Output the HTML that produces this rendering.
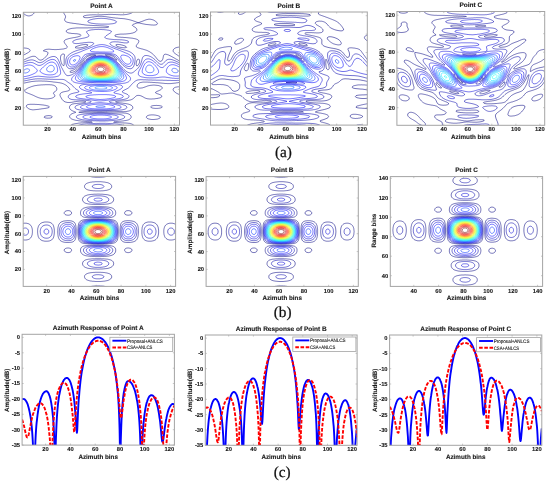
<!DOCTYPE html><html><head><meta charset="utf-8"><title>Figure</title><style>html,body{margin:0;padding:0;background:#fff;width:550px;height:483px;overflow:hidden}svg{display:block;filter:blur(0.35px)}</style></head><body><svg width="550" height="483" viewBox="0 0 550 483" text-rendering="geometricPrecision"><defs><clipPath id="clip_aA"><rect x="23.3" y="12.3" width="156.2" height="112.9"/></clipPath><clipPath id="clip_aB"><rect x="210.5" y="12" width="156.8" height="113.1"/></clipPath><clipPath id="clip_aC"><rect x="396.9" y="11.5" width="147.8" height="113.8"/></clipPath><clipPath id="clip_bA"><rect x="23.2" y="176.4" width="152.4" height="110"/></clipPath><clipPath id="clip_bB"><rect x="206.1" y="176.6" width="152.2" height="109.8"/></clipPath><clipPath id="clip_bC"><rect x="390.3" y="176.6" width="152.3" height="109.8"/></clipPath><clipPath id="clip_cA"><rect x="22.1" y="334.3" width="152.3" height="110.8"/></clipPath><clipPath id="clip_cB"><rect x="205.3" y="335" width="151.8" height="110.3"/></clipPath><clipPath id="clip_cC"><rect x="389.6" y="335" width="152.2" height="110.3"/></clipPath></defs><rect width="550" height="483" fill="#fff"/><g clip-path="url(#clip_aA)" fill="none" stroke-width="0.55" stroke-linejoin="round"><path stroke="#000080" d="M32.8 10.3 33.8 11.3 34.1 12.3 33.9 13.3 33.3 14 32.4 14.8 31.4 15.3 30.3 15.7 29.3 15.9 28.3 15.9 27.3 15.7 26.3 15.3 25.3 14.8 24.5 14.3 23.8 13.7 23 12.8 22.5 11.8 22.6 10.8 22.8 10.3M21.3 61.3 22.3 60.8 23.3 60.3 24.3 59.8 25.3 59.3 26.3 58.8 27.3 58.3 28.3 57.9 29.3 57.4 30.3 57 31.3 56.7 32.3 56.4 33.2 56.3 34.3 56.3 35.3 56.5 36.3 57.1 37 57.8 37.8 58.7 38.5 59.3 39.3 59.8 40.3 60.1 41.3 60 42.3 59.6 43.3 59 44.3 58.3 45.3 57.3 46.2 56.3 46.8 55.6 47.3 54.9 47.8 54 48 52.8 47.3 51.9 46.3 51.5 45.3 51.3 44.3 51.1 43.3 50.8 44.3 50.1 45.3 49.7 46.3 49.4 47.3 49.3 48.3 49.2 49.3 49.2 50.3 49.3 51.3 49.4 52.3 49.5 53.3 49.5 54.3 49.6 55.3 49.6 56.3 49.6 57.3 49.5 58.3 49.5 59.3 49.4 60.3 49.3 61.3 49.2 62.3 49.1 63.3 49 64.1 48.8 65.3 48.5 66.3 48.2 67.3 47.3 67 46.3 66.3 45.3 65.8 44.6 65.3 44 64.8 43.3 64.3 42.4 64.1 41.3 64.7 40.3 65.4 39.8 66.3 39.4 67.3 39.1 68.2 38.8 69.3 38.5 70.3 38.3 71.3 38.1 72.3 37.9 73.3 37.7 74.3 37.6 75.3 37.4 76.3 37.2 77.3 37 78.3 36.7 79.3 36.4 80.3 36 81.1 35.3 80.3 34.5 79.3 34.2 78.3 34 77.3 33.8 76.3 33.7 75.3 33.7 74.3 33.6 73.3 33.5 72.3 33.5 71.3 33.4 70.3 33.2 69.3 33.1 68.3 32.9 67.3 32.5 66.3 31.8 66.2 30.8 66.8 30.2 67.8 29.6 68.8 29.2 69.8 28.9 70.8 28.6 71.8 28.4 72.6 28.3 73.8 28.2 74.8 28.1 75.8 28 76.8 27.9 77.8 27.9 78.8 27.9 79.8 27.9 80.8 27.9 81.8 27.9 82.8 27.9 83.8 27.9 84.8 27.9 85.8 27.9 86.8 27.9 87.8 27.9 88.8 27.8 89.8 27.8 90.8 27.8 91.8 27.8 92.8 27.8 93.8 27.7 94.8 27.7 95.8 27.7 96.8 27.7 97.8 27.7 98.8 27.7 99.8 27.7 100.8 27.7 101.8 27.7 102.8 27.7 103.8 27.7 104.8 27.7 105.8 27.6 106.8 27.5 107.8 27.4 108.8 26.8 107.8 26.5 107 26.3 105.8 26.2 104.8 26.1 103.8 26 102.8 25.9 101.8 25.9 100.8 25.8 99.8 25.8 98.8 25.7 97.8 25.7 96.8 25.6 95.8 25.6 94.8 25.6 93.8 25.5 92.8 25.5 91.8 25.4 90.8 25.4 89.8 25.3 88.8 25.2 87.8 25.2 86.8 25.1 85.8 25 84.8 24.9 83.8 24.7 82.8 24.6 81.8 24.5 80.8 24.3 79.8 24.2 78.8 24 77.8 23.9 76.8 23.8 75.8 23.6 74.8 23.5 73.8 23.4 73 23.3 71.8 23.1 70.8 23 69.8 22.8 68.8 22.6 67.8 22.4 66.8 22.1 65.8 21.6 64.9 20.8 64.6 19.8 64.9 18.8 65.3 17.9 65.6 16.8 65.4 15.8 64.8 14.8 64.3 14 63.9 13.3 63.6 12.3 63.9 11.3 64.8 10.6 65.3 10.3M132.2 10.3 132.9 10.8 133.1 11.8 132.3 12.5 131.3 13.1 130.3 13.5 129.4 13.8 128.3 14.1 127.3 14.3 126.3 14.5 125.3 14.6 124.3 14.7 123.3 14.8 122.3 14.8 121.3 14.8 120.3 14.8 119.3 14.7 118.3 14.7 117.3 14.6 116.3 14.6 115.3 14.5 114.3 14.5 113.3 14.5 112.3 14.4 111.3 14.4 110.3 14.4 109.3 14.4 108.3 14.4 107.3 14.5 106.3 14.5 105.3 14.6 104.3 14.6 103.3 14.7 102.3 14.7 101.3 14.8 100.3 14.8 99.3 14.8 98.3 14.9 97.3 14.9 96.3 14.9 95.3 14.8 94.3 14.8 93.3 14.8 92.3 14.8 91.3 14.9 90.3 14.9 89.3 15 88.3 15.1 87.3 15.2 86.5 15.3 85.3 15.6 84.4 15.8 83.4 16.3 83.7 17.3 84.8 17.6 85.8 17.7 86.8 17.7 87.8 17.7 88.8 17.6 89.8 17.5 90.8 17.3 91.8 17.2 92.8 17 93.8 16.9 94.8 16.7 95.8 16.6 96.8 16.5 97.8 16.4 98.8 16.3 99.8 16.3 100.8 16.3 101.6 16.3 102.8 16.4 103.8 16.5 104.8 16.6 105.8 16.7 106.8 16.8 107.8 17 108.8 17.1 109.8 17.3 110.8 17.4 111.8 17.6 112.8 17.7 113.6 17.8 114.8 17.9 115.8 18.1 116.8 18.1 117.8 18.2 118.6 18.3 119.8 18.4 120.8 18.5 121.8 18.5 122.8 18.6 123.8 18.7 124.8 18.8 125.8 19 126.8 19.2 127.8 19.4 128.8 19.6 129.7 19.8 130.8 20.1 131.8 20.4 132.8 20.7 133.8 21.1 134.8 21.4 135.8 21.8 136.8 22.2 137.8 22.5 138.8 22.6 139.8 22.2 140.8 21.8 141.8 21.5 142.8 21.1 143.8 20.7 144.7 20.3 145.8 19.9 146.8 19.6 147.8 19.4 148.8 19.2 149.8 19.2 150.8 19.3 151.8 19.5 152.8 19.8 153.8 20.2 154.8 20.8 155.5 21.3 156.2 21.8 156.8 22.4 157.3 23 157.5 23.8 156.8 24.6 155.8 24.9 154.8 25 153.8 25.1 152.8 25 151.8 25 150.8 24.9 149.8 24.8 148.8 24.7 147.8 24.6 146.8 24.5 145.8 24.4 144.8 24.2 143.8 24 142.8 23.8 141.8 23.6 140.8 23.4 139.8 23.1 138.8 22.9 137.8 22.9 136.8 23.1 135.8 23.4 134.8 23.8 133.8 24.1 132.8 24.6 132.3 25.3 133.3 26.2 134.3 26.8 135.1 27.3 135.8 27.8 136.6 28.8 136.9 29.8 136.6 30.8 135.8 31.6 134.8 32.2 133.8 32.6 132.8 33 131.8 33.2 130.8 33.4 129.8 33.6 128.8 33.7 127.8 33.8 126.8 33.9 125.8 34 124.8 34 123.8 34.1 122.8 34.1 121.8 34.1 120.8 34.1 119.8 34.2 118.8 34.3 117.8 34.4 116.8 34.6 115.9 34.8 114.9 35.3 115.2 36.3 116.3 36.6 117.3 36.8 118.3 37 119.3 37.1 120.3 37.2 121.3 37.3 122.3 37.3 123.3 37.4 124.3 37.5 125.3 37.5 126.3 37.6 127.3 37.7 128.3 37.8 129.3 37.9 130.3 38 131.3 38.1 132.3 38.2 133.3 38.4 134.3 38.6 135.3 38.8 136.3 39.1 137.3 39.5 138.3 40.1 138.8 40.8 138.8 41.7 138.3 42.8 137.8 43.5 137.3 44.1 136.8 44.8 136.3 45.6 136.3 46.8 137.3 47.5 138.3 47.9 139.3 48.2 140.3 48.5 141.3 48.8 142.3 49 143.3 49.3 144.3 49.6 145.3 49.9 146.3 50.2 147.3 50.6 148.3 51.1 149.3 51.6 150.3 52.2 151.2 52.8 151.9 53.3 152.8 54.1 153.6 54.8 154.3 55.5 155 56.3 155.8 57.3 156.3 57.9 157 58.8 157.8 59.7 158.4 60.3 159 60.8 159.8 61.2 160.8 61.4 161.8 60.8 162.3 60.1 162.7 59.3 163 58.3 163.2 57.3 163.4 56.3 163.7 55.3 164.3 54.5 165.3 54.2 166.2 54.3 167.3 54.6 168.3 54.9 169.1 55.3 170.2 55.8 171.2 56.3 172.1 56.8 173 57.3 173.8 57.7 174.8 58.3 175.6 58.8 176.5 59.3 177.3 59.7 178.3 60.3 179.2 60.8 180.1 61.3 181.1 61.8 181.3 61.9M21.3 37.2 21.5 38.3 21.3 38.8M80.4 47.8 81.3 47.7 82.3 47.5 83.2 47.3 84.3 47 85.3 46.7 86.3 46.3 87.3 45.8 87.8 44.8 86.8 44.5 85.8 44.4 84.8 44.5 83.8 44.6 82.8 44.7 81.8 44.9 80.8 45.1 79.8 45.4 78.8 45.7 77.8 46 76.9 46.3 75.8 46.8 75 47.3 75.8 47.9 76.8 48 77.8 48 78.8 48 79.8 47.9 80.4 47.8ZM126.7 47.3 125.8 46.4 124.8 45.9 123.8 45.6 123 45.3 121.8 45 121 44.8 119.8 44.6 118.8 44.5 117.8 44.4 116.8 44.5 115.9 44.8 116.3 45.8 117.2 46.3 118.3 46.7 119.3 47 120.3 47.3 121.3 47.4 122.3 47.6 123.3 47.7 124.3 47.8 125.3 47.7 126.3 47.5 126.7 47.3ZM181.3 57.7 180.6 57.3 179.8 56.8 179.1 56.3 178.4 55.8 177.7 55.3 176.9 54.8 176.2 54.3 175.5 53.8 174.8 53.3 173.8 52.4 173.3 51.6 173.1 50.8 173.3 49.8 173.8 49.1 174.8 48.3 175.8 47.8 176.8 47.5 177.7 47.3 178.8 47.1 179.8 47 180.8 47 181.3 47M21.3 48.1 22.3 48 23.3 48 24.3 48 25.3 48.1 26.3 48.2 27.3 48.4 28.3 48.7 29.3 49.3 29.9 49.8 30.2 50.8 29.4 51.8 28.6 52.3 27.8 52.8 26.9 53.3 26 53.8 25.1 54.3 24.3 54.7 23.4 55.3 22.6 55.8 21.8 56.3 21.3 56.6M64.1 65.3 64.2 64.3 64.2 63.3 64.2 62.3 64.2 61.3 64.2 60.3 64.2 59.3 64.2 58.3 64.2 57.3 64.3 56.3 64.5 55.3 64.3 54.3 63.3 54 62.3 54.2 61.4 54.8 60.8 55.8 60.6 56.8 60.5 57.8 60.5 58.8 60.6 59.8 60.8 60.8 61 61.8 61.3 62.6 61.8 63.8 62.3 64.7 62.8 65.3 63.8 65.7 64.1 65.3ZM72.5 72.3 73.3 72 74.3 71.6 75.3 70.9 76.2 70.3 76.8 69.8 77.8 68.8 78.8 67.8 79.3 67.2 80 66.3 80.8 65.3 81.3 64.7 82 63.8 82.8 62.9 83.4 62.3 84.3 61.3 85.3 60.4 85.9 59.8 86.8 59.1 87.8 58.4 88.8 57.8 89.7 57.3 90.8 56.8 91.8 56.4 92.8 56.1 93.8 55.8 94.8 55.5 95.8 55.3 94.8 54.9 93.8 54.9 92.8 55 91.8 55.1 90.8 55.3 89.8 55.5 89 55.8 88 56.3 87.3 56.7 86.5 57.3 85.8 57.9 84.9 58.8 84.3 59.4 83.6 60.3 82.8 61.3 82.3 61.9 81.8 62.5 81.3 63.2 80.8 63.8 80 64.8 79.3 65.5 78.5 66.3 77.8 67 76.8 67.8 76.2 68.3 75.5 68.8 74.7 69.3 73.8 69.8 72.8 70.2 71.8 70.6 70.8 71 69.8 71.8 70.8 72.4 71.8 72.4 72.5 72.3ZM116.8 60.3 116.4 59.3 115.8 58.6 115 57.8 114.3 57.2 113.3 56.5 112.3 56 111.3 55.6 110.3 55.3 109.3 55.1 108.3 55 107.3 54.9 106.3 54.9 105.3 54.9 106.3 55.6 107.3 55.9 108.3 56.2 109.3 56.5 110.2 56.8 111.3 57.2 112.3 57.7 113.3 58.2 114.2 58.8 115.1 59.3 115.8 59.8 116.8 60.3 116.8 60.3ZM137.1 65.8 137.8 65.5 138.4 64.8 139 63.8 139.4 62.8 139.6 61.8 139.6 60.8 139.4 59.8 138.8 59.1 137.8 59.2 137.3 59.8 136.8 60.8 136.5 61.8 136.3 62.7 136.2 63.8 136.2 64.8 136.7 65.8 137.1 65.8ZM70.1 126.8 70.4 125.8 71.3 125 72.3 124.5 73.3 124.2 74.3 123.9 75.3 123.7 76.3 123.5 77.3 123.4 78.3 123.2 79.3 123.1 80.3 123 81.3 122.9 82.3 122.9 83.2 122.8 84.3 122.7 85.3 122.7 86.3 122.6 87.3 122.6 88.3 122.5 89.3 122.5 90.3 122.4 91.3 122.4 92.3 122.3 91.5 121.8 90.3 121.7 89.3 121.7 88.3 121.6 87.3 121.6 86.3 121.5 85.3 121.4 84.3 121.3 83.3 121.2 82.3 121.2 81.3 121.1 80.3 120.9 79.3 120.8 78.3 120.7 77.3 120.5 76.3 120.4 75.3 120.2 74.3 119.9 73.3 119.6 72.4 119.3 71.3 118.8 70.6 118.3 69.8 117.3 69.6 116.3 70 115.3 70.8 114.4 71.8 113.8 72.8 113.4 73.8 113 74.8 112.7 75.8 112.4 75.2 111.8 74.3 111.6 73.3 111.2 72.4 110.8 71.5 110.3 70.8 109.8 69.9 108.8 69.5 107.8 69.5 106.8 69.8 106 70.3 105.3 71.3 104.6 72.3 104.1 73.3 103.9 74.3 103.7 75.3 103.6 76.3 103.5 77.3 103.4 78.3 103.3 79.3 103.2 80.3 103.1 81.3 103 82.3 102.9 83.3 102.7 84.3 102.5 85.2 102.3 85.9 101.8 84.8 101.4 83.8 101.2 82.8 101.1 81.8 101.1 80.8 101.1 79.8 101.1 78.8 101.2 77.8 101.3 76.8 101.4 75.8 101.6 74.8 101.7 73.8 101.9 72.8 102.1 71.8 102.3 70.8 102.4 69.8 102.5 68.8 102.5 67.8 102.5 66.8 102.3 65.8 102.1 65 101.8 64 101.3 63.4 100.8 62.4 99.8 61.8 98.9 61.3 98 60.9 97.3 60.3 96.3 60 95.3 60 94.3 60.5 93.3 61.3 92.7 62.1 92.3 63.3 91.9 64.3 91.7 65.3 91.5 66.3 91.3 67.3 91.1 68.3 90.8 69.3 90.4 69.8 89.8 69.5 88.8 68.8 87.8 67.9 86.8 67.3 86.2 66.3 85.4 65.4 84.8 64.4 84.3 63.4 83.8 62.3 83.4 61.3 83.1 60.3 82.9 59.3 82.7 58.3 82.6 57.3 82.4 56.3 82.3 55.3 82.2 54.3 82.1 53.3 82 52.3 81.8 51.3 81.7 50.3 81.6 49.3 81.5 48.3 81.4 47.3 81.3 46.3 81.2 45.3 81.2 44.3 81.1 43.3 81.1 42.3 81.1 41.3 81 40.3 81 39.3 81 38.3 81 37.3 81.1 36.3 81.1 35.3 81.2 34.3 81.3 33.3 81.4 32.3 81.5 31.3 81.6 30.4 81.8 29.3 82 28.3 82.2 27.3 82.4 26.3 82.6 25.4 82.8 24.3 83 23.3 83.2 22.3 83.4 21.3 83.6M181.3 82.2 180.3 82.4 179.3 82.5 178.3 82.6 177.3 82.8 176.3 82.9 175.3 83.1 174.3 83.2 173.3 83.3 172.3 83.4 171.3 83.5 170.3 83.6 169.3 83.6 168.3 83.6 167.3 83.6 166.3 83.5 165.3 83.5 164.3 83.4 163.5 83.3 162.3 83.2 161.3 83.1 160.3 83 159.3 82.9 158.3 82.8 157.3 82.7 156.3 82.7 155.3 82.6 154.3 82.5 153.3 82.5 152.3 82.4 151.3 82.3 150.3 82.3 149.3 82.2 148.3 82.2 147.3 82.1 146.3 82.1 145.3 82.1 144.3 82.1 143.3 82.1 142.3 82.2 141.3 82.4 140.3 82.6 139.3 83 138.3 83.7 137.7 84.3 137.3 85.1 137.1 86.3 137.5 87.3 138.2 87.8 139.3 88.1 140.3 88.1 141.3 88 142.3 87.9 143.3 87.6 144.1 87.3 145.3 86.9 146.3 86.5 147.3 86.1 148.3 85.8 149.3 85.6 150.3 85.4 151.3 85.3 152.3 85.2 153.3 85.1 154.3 85.1 155.3 85.2 156.3 85.3 157.3 85.4 158.3 85.5 159.3 85.8 160.3 86.1 161.3 86.6 162.2 87.3 162.2 88.3 161.3 89.3 160.6 89.8 159.8 90.2 158.8 90.7 157.8 91.1 156.8 91.5 155.8 92 155.5 92.8 156.3 93.3 157.3 93.7 158.3 94 159.3 94.4 160.3 94.8 161.2 95.3 161.8 95.9 161.8 96.8 160.8 97.5 159.8 97.9 158.8 98.1 158 98.3 156.8 98.5 155.8 98.6 154.8 98.8 153.8 98.9 152.8 98.9 151.8 99 150.8 99 149.8 99 148.8 98.9 147.8 98.8 146.8 98.6 145.8 98.3 144.8 97.9 143.8 97.3 142.9 96.8 142 96.3 140.8 95.8 139.8 95.5 138.8 95.4 137.8 95.4 136.8 95.6 135.8 96.2 135.2 96.8 134.3 97.7 133.6 98.3 133 98.8 132.1 99.3 131.3 99.7 130.3 100 129.3 100.2 128.3 100.4 127.3 100.6 126.3 100.7 125.3 100.8 124.3 100.8 123.3 100.9 122.3 100.9 121.3 101 120.3 101 119.3 101.1 118.3 101.2 117.3 101.3 116.3 101.5 115.5 101.8 116.3 102.3 117.3 102.5 118.3 102.6 119.3 102.8 120.3 102.9 121.3 103 122.3 103.1 123.3 103.3 124.3 103.4 125.3 103.5 126.3 103.7 127.3 103.9 128.3 104.1 129.3 104.4 130.3 104.8 131.3 105.3 132 105.8 132.7 106.8 132.8 107.8 132.5 108.8 131.8 109.5 130.8 110.2 129.8 110.7 128.8 111 127.8 111.2 126.8 111.4 125.8 111.6 124.8 111.6 123.8 111.7 122.8 111.7 121.8 111.6 120.8 111.6 119.8 111.6 118.8 111.5 117.8 111.5 116.8 111.4 115.8 111.4 114.8 111.3 113.8 111.3 112.8 111.3 111.8 111.3 110.8 111.3 109.8 111.3 108.8 111.3 107.8 111.3 107 111.3 105.8 111.3 104.8 111.3 103.8 111.3 102.8 111.3 101.8 111.4 100.8 111.4 99.8 111.4 98.8 111.4 97.8 111.4 96.8 111.3 95.8 111.3 94.8 111.3 93.8 111.3 92.8 111.3 91.8 111.3 90.8 111.3 89.8 111.4 88.8 111.4 87.8 111.4 86.8 111.4 85.8 111.5 84.8 111.5 83.8 111.6 82.8 111.7 81.8 111.8 80.8 111.9 79.8 112.1 78.8 112.3 79.8 112.4 80.8 112.5 81.8 112.6 82.8 112.7 83.8 112.8 84.8 112.8 85.8 112.8 86.8 112.8 87.8 112.8 88.8 112.8 89.8 112.8 90.8 112.7 91.8 112.7 92.8 112.7 93.8 112.6 94.8 112.6 95.8 112.6 96.8 112.6 97.8 112.5 98.8 112.5 99.8 112.5 100.8 112.5 101.8 112.5 102.8 112.5 103.8 112.5 104.8 112.6 105.8 112.6 106.8 112.6 107.8 112.7 108.8 112.7 109.8 112.8 110.8 112.8 111.8 112.8 112.8 112.9 113.8 112.9 114.8 112.9 115.8 112.9 116.8 112.9 117.8 112.9 118.8 112.9 119.8 112.9 120.8 112.9 121.8 112.9 122.8 112.9 123.8 113 124.8 113.1 125.8 113.2 126.8 113.4 127.8 113.7 128.8 114.1 129.8 114.7 130.5 115.3 131.1 116.3 131.2 117.3 130.8 118.1 130.2 118.8 129.5 119.3 128.5 119.8 127.3 120.2 126.3 120.4 125.3 120.6 124.3 120.7 123.3 120.9 122.3 121 121.3 121.1 120.3 121.2 119.3 121.2 118.3 121.3 117.3 121.4 116.3 121.6 115.3 121.7 114.3 121.8 113.6 122.3 114.8 122.4 115.8 122.5 116.8 122.6 117.8 122.7 118.8 122.7 119.8 122.8 120.8 122.8 121.8 122.9 122.8 122.9 123.8 122.9 124.8 123 125.8 123 126.8 123.1 127.8 123.2 128.8 123.3 129.8 123.4 130.8 123.7 131.8 124 132.8 124.5 133.8 125.2 134.6 126.3 134.8 126.8M48.3 98.8 47.3 98.9 46.3 98.9 45.3 98.9 44.3 98.8 43.3 98.7 42.3 98.6 41.3 98.4 40.3 98.2 39.3 97.9 38.3 97.6 37.3 97.2 36.4 96.8 35.3 96.3 34.3 95.8 33.3 95.3 32.3 94.9 31.3 94.5 30.3 94.1 29.3 93.7 28.3 93.3 27.3 92.9 26.3 92.5 25.3 91.9 24.7 91.3 24.9 90.3 25.8 89.4 26.7 88.8 27.5 88.3 28.3 87.9 29.3 87.5 30.3 87.1 31.3 86.7 32.3 86.4 33.3 86.1 34.3 85.8 35.3 85.6 36.3 85.5 37.3 85.3 38.3 85.2 39.3 85.1 40.3 85 41.3 84.9 42.3 84.9 43.3 84.8 44.3 84.8 45.3 84.7 46.3 84.7 47.3 84.7 48.3 84.7 49.3 84.7 50.3 84.8 51.3 84.8 52.3 85 53.3 85.2 54.3 85.6 55.3 86.2 56 86.8 56.6 87.8 56.8 88.8 56.7 89.8 56.3 90.5 55.5 91.3 54.7 91.8 53.9 92.3 53.4 93.3 54.1 94.3 54.8 95.2 54.8 96.2 54.3 96.9 53.3 97.5 52.3 98 51.4 98.3 50.3 98.5 49.3 98.7 48.3 98.8ZM181.3 95.3 180.3 94.9 179.3 94.5 178.3 94.1 177.3 93.6 176.3 93.1 175.3 92.4 174.5 91.8 173.8 91 173.3 90.3 173.1 89.3 173.6 88.3 174.3 87.8 175.3 87.3 176.3 87.1 177.3 86.9 178.3 86.8 179.3 86.7 180.3 86.6 181.3 86.6M33.3 109.8 32.3 109.8 31.3 109.6 30.3 109.4 29.3 109 28.3 108.5 27.4 107.8 26.8 107.2 26.3 106.3 26.6 105.3 27.3 104.8 28.3 104.5 29.3 104.4 30.3 104.3 31.3 104.3 32.3 104.3 33.3 104.3 34.3 104.3 35.3 104.4 36.3 104.4 37.3 104.5 38.3 104.5 39.3 104.6 40.3 104.7 41.3 104.8 42.3 104.9 43.3 105 44.3 105.2 45.3 105.3 46.3 105.6 47.3 105.8 48.3 106.1 49.3 106.7 48.8 107.6 47.8 107.9 46.8 108.1 45.9 108.3 44.8 108.4 43.8 108.6 42.8 108.7 41.8 108.8 40.8 109 39.8 109.1 38.8 109.3 37.8 109.4 36.8 109.5 35.8 109.6 34.8 109.7 33.8 109.8 33.3 109.8ZM158.3 108.3 157.3 108.4 156.3 108.4 155.3 108.4 154.3 108.3 153.3 108.2 152.3 108 151.3 107.6 150.6 106.8 151.3 106.2 152.3 105.8 153.3 105.6 154.3 105.5 155.3 105.5 156.3 105.4 157.3 105.5 158.3 105.5 159.3 105.6 160.3 105.8 161.3 106 162.3 106.7 161.8 107.5 160.8 107.9 159.8 108.1 158.8 108.3 158.3 108.3ZM155.8 119.3 154.8 119.4 153.8 119.5 152.8 119.5 151.8 119.5 150.8 119.4 149.8 119.2 148.8 119 147.8 118.7 147.1 118.3 146.3 117.3 146.7 116.3 147.3 115.8 148.3 115.4 149.3 115.1 150.3 115 151.3 114.9 152.3 114.9 153.3 114.9 154.3 115 155.3 115.1 156.3 115.3 157.3 115.5 158.3 115.8 159.3 116.2 160.2 116.8 160.2 117.8 159.5 118.3 158.8 118.6 157.8 119 156.8 119.2 155.8 119.3ZM50.8 117.9 49.8 118.1 48.8 118.1 47.8 118.2 46.8 118.1 45.8 118 44.8 117.7 44.1 117.3 44.7 116.3 45.8 116 46.6 115.8 47.8 115.7 48.8 115.6 49.8 115.7 50.8 115.8 51.8 116.2 52.3 116.8 51.8 117.5 50.8 117.9Z"/><path stroke="#0000ac" d="M108.5 10.3 109.3 10.6 108.8 11.3 107.8 11.4 106.8 11.5 105.8 11.5 104.8 11.6 103.8 11.6 102.8 11.7 101.8 11.7 100.8 11.8 99.8 11.8 98.8 11.8 97.8 11.9 96.8 11.9 95.8 11.9 94.8 11.9 93.8 11.9 92.8 11.9 91.8 11.9 90.8 11.9 89.8 11.9 88.8 11.9 87.8 11.8 86.8 11.6 87.3 10.9 88.3 10.6 89.3 10.4 89.9 10.3M111.8 23.8 110.8 23.9 109.8 24 108.8 24.1 107.8 24.1 106.8 24.1 105.8 24.1 104.8 24.1 103.8 24.1 102.8 24.1 101.8 24.1 100.8 24.1 99.8 24 98.8 24 97.8 23.9 96.8 23.9 95.8 23.8 94.8 23.7 93.8 23.5 92.8 23.4 91.8 23.3 90.8 23 89.8 22.8 88.8 22.4 87.8 21.8 88.1 20.8 88.8 20.4 89.8 20 90.8 19.7 91.8 19.5 92.8 19.2 93.8 19 94.8 18.9 95.8 18.7 96.8 18.6 97.8 18.5 98.8 18.4 99.8 18.4 100.8 18.3 101.8 18.3 102.8 18.4 103.8 18.4 104.8 18.5 105.8 18.6 106.8 18.7 107.8 18.9 108.8 19.1 109.8 19.2 110.8 19.4 111.8 19.7 112.8 19.9 113.8 20.2 114.8 20.5 115.8 21 116.6 21.8 115.9 22.8 114.8 23.2 113.8 23.5 112.8 23.7 111.8 23.8ZM70.8 68.8 69.8 68.7 68.8 68.4 67.9 67.8 67.3 67.2 66.8 66.4 66.4 65.3 66.1 64.3 65.9 63.3 65.8 62.3 65.8 61.3 65.9 60.3 66 59.3 66.3 58.3 66.7 57.3 67.3 56.3 68.2 55.3 69.3 54.4 70.1 53.8 70.8 53.3 71.6 52.8 72.6 52.3 73.3 51.9 74.3 51.5 75.3 51.1 76.1 50.8 77.3 50.4 78.3 50.1 79.3 49.8 80.3 49.5 81.1 49.3 82.3 49 83.3 48.7 84.3 48.4 85.3 48.1 86.2 47.8 87.3 47.4 88.3 47 89.3 46.6 90.3 46.2 91.1 45.8 91.8 45.4 92.7 44.8 93.7 43.8 93.3 42.8 92.3 42.5 91.3 42.4 90.3 42.3 89.3 42.3 88.3 42.3 87.3 42.4 86.3 42.5 85.3 42.6 84.3 42.7 83.3 42.8 82.3 43 81.3 43.1 80.3 43.2 79.3 43.4 78.3 43.5 77.3 43.5 76.3 43.6 75.3 43.5 74.3 43.3 73.3 42.9 72.7 42.3 72.9 41.3 73.8 40.7 74.8 40.2 75.8 39.8 76.8 39.5 77.7 39.3 78.8 39.1 79.8 38.9 80.8 38.7 81.8 38.5 82.6 38.3 83.8 38.1 84.8 37.9 85.8 37.6 86.8 37.3 87.8 36.9 88.7 36.3 88.9 35.3 88.3 34.4 87.3 33.3 86.8 32.6 86.5 31.8 87.3 31 88.3 30.6 89.3 30.3 90.3 30.1 91.3 29.9 92.2 29.8 93.3 29.7 94.3 29.6 95.3 29.5 96.3 29.5 97.3 29.5 98.3 29.4 99.3 29.5 100.3 29.5 101.3 29.5 102.3 29.6 103.3 29.6 104.3 29.7 105.2 29.8 106.3 29.9 107.3 30.1 108.3 30.2 109.3 30.4 110.3 30.7 111.3 31.2 111.3 32.1 110.5 32.8 109.8 33.3 109 33.8 108.3 34.3 107.5 34.8 106.8 35.3 106 35.8 105.3 36.5 104.8 37.3 105.3 38 106.3 38.5 107.3 38.7 108.3 38.9 109.3 39.1 110.3 39.2 111.3 39.3 112.3 39.4 113.3 39.5 114.3 39.6 115.3 39.6 116.3 39.6 117.3 39.7 118.3 39.7 119.3 39.7 120.3 39.8 121.3 39.8 122.3 39.9 123.3 40 124.3 40.1 125.3 40.3 126.3 40.5 127.3 40.8 128.3 41.3 128.6 42.3 127.8 42.7 126.8 42.9 125.8 42.9 124.8 42.9 123.8 42.8 122.8 42.6 121.8 42.5 120.8 42.3 119.8 42.2 118.8 42 117.8 41.9 116.8 41.9 115.8 41.8 114.8 41.8 113.8 41.8 112.8 41.9 111.8 42.1 110.8 42.4 109.9 43.3 110.3 44.3 111.3 45.1 112.3 45.8 113.3 46.3 114.3 46.7 115.3 47.2 116.3 47.5 117.1 47.8 118.3 48.2 119.3 48.5 120.3 48.8 121.3 49.1 122.1 49.3 123.3 49.6 124.3 49.9 125.3 50.2 126.3 50.5 127.1 50.8 128.3 51.2 129.3 51.6 130.3 52.1 131.3 52.7 132.2 53.3 132.8 53.8 133.7 54.8 134.3 55.6 134.8 56.6 135.1 57.8 135.1 58.8 135.1 59.8 135 60.8 134.9 61.8 134.7 62.8 134.5 63.8 134.2 64.8 133.9 65.8 133.4 66.8 132.8 67.6 131.9 68.3 130.8 68.7 129.8 68.7 128.8 68.6 127.8 68.4 126.8 68 125.8 67.4 124.8 66.8 124.2 66.3 123.3 65.6 122.5 64.8 121.8 64 121.2 63.3 120.4 62.3 119.8 61.5 119.3 60.9 118.8 60.2 118.3 59.6 117.6 58.8 116.8 57.9 116.2 57.3 115.3 56.5 114.3 55.8 113.3 55.3 112.3 55 111.3 54.7 110.3 54.5 109.3 54.4 108.3 54.2 107.3 54.1 106.3 54 105.3 54 104.3 53.9 103.3 53.9 102.3 53.9 101.3 53.9 100.3 53.9 99.3 53.9 98.3 53.9 97.3 53.9 96.3 53.9 95.3 54 94.3 54 93.3 54.1 92.3 54.2 91.3 54.3 90.3 54.5 89.3 54.7 88.3 55 87.5 55.3 86.5 55.8 85.8 56.3 84.8 57.3 83.8 58.3 83.3 59 82.8 59.6 82.3 60.2 81.8 60.9 81.3 61.5 80.8 62.2 80.3 62.8 79.5 63.8 78.8 64.5 78 65.3 77.3 66 76.3 66.8 75.5 67.3 74.8 67.7 73.8 68.2 72.8 68.5 71.8 68.7 70.8 68.8ZM21.3 63.3 22.3 62.8 23.3 62.4 24.3 61.9 25.3 61.5 26.3 61.1 27.1 60.8 28.3 60.4 29.3 60.2 30.3 60 31.3 59.9 32.3 59.9 33.3 60.1 34.1 60.3 35.3 60.8 36.2 61.3 37.1 61.8 38.2 62.3 39.3 62.6 40.3 62.6 41.3 62.4 42.3 62.1 43.3 61.5 44.3 60.8 45.1 60.3 45.8 59.8 46.5 59.3 47.2 58.8 48 58.3 48.8 57.9 49.8 57.4 50.8 57 51.8 56.7 52.8 56.5 53.8 56.5 54.8 56.6 55.8 57 56.8 57.7 57.4 58.3 58 59.3 58.5 60.3 59 61.3 59.3 62.1 59.8 63.3 60.2 64.3 60.6 65.3 61.1 66.3 61.5 67.3 62.1 68.3 62.6 69.3 63.1 70.3 63.7 71.3 64.2 72.3 64.8 73.3 65.3 74.1 65.9 74.8 66.6 75.3 67.8 75.7 68.8 75.6 69.8 75.4 70.8 75.1 71.6 74.8 72.6 74.3 73.5 73.8 74.3 73.3 75 72.8 75.6 72.3 76.3 71.7 77.3 70.8 78.2 69.8 78.8 69.2 79.5 68.3 80.3 67.3 80.8 66.7 81.3 66.1 81.8 65.4 82.3 64.8 83.1 63.8 83.8 63 84.4 62.3 85.3 61.4 85.9 60.8 86.8 60 87.7 59.3 88.5 58.8 89.3 58.3 90.2 57.8 91.3 57.3 92.3 57 93.3 56.6 94.3 56.4 95.3 56.2 96.3 56 97.3 55.9 98.2 55.8 99.3 55.7 100.3 55.7 101.3 55.7 102.3 55.8 103.3 55.9 104.3 56 105.3 56.1 106.2 56.3 107.3 56.5 108.2 56.8 109.3 57.1 110.3 57.5 111.3 58 112.3 58.5 113.3 59.1 114.3 59.8 115 60.3 115.8 60.9 116.8 61.8 117.8 62.8 118.8 63.8 119.7 64.8 120.3 65.4 121.1 66.3 121.8 67.1 122.4 67.8 123.3 68.7 123.9 69.3 124.8 70.2 125.6 70.8 126.2 71.3 127 71.8 127.8 72.3 128.8 72.7 129.8 73 130.8 73.1 131.8 73 132.8 72.6 133.8 71.9 134.5 71.3 135.3 70.6 136.3 69.8 137.3 68.9 137.9 68.3 138.7 67.3 139.3 66.5 139.7 65.8 140.3 64.8 140.7 63.8 141.1 62.8 141.4 61.8 141.7 60.8 141.9 59.8 142.2 58.8 142.5 57.8 143.1 56.8 143.8 56.1 144.8 55.6 145.8 55.5 146.8 55.5 147.8 55.7 148.8 55.9 149.8 56.3 150.8 56.7 151.8 57.3 152.6 57.8 153.3 58.3 153.9 58.8 154.8 59.5 155.6 60.3 156.3 61 157.1 61.8 157.8 62.5 158.8 63.3 159.5 63.8 160.3 64.2 161.1 64.3 162.3 64.1 163.3 63.4 163.9 62.8 164.8 61.8 165.3 61.2 166.2 60.3 167 59.8 167.8 59.5 168.7 59.3 169.8 59.3 170.8 59.4 171.8 59.6 172.8 59.9 173.8 60.3 174.8 60.7 175.8 61.1 176.8 61.6 177.8 62 178.8 62.5 179.8 63.1 180.8 63.6 181.3 63.9M181.3 80.1 180.3 80.2 179.4 80.3 178.3 80.4 177.3 80.4 176.3 80.5 175.3 80.5 174.3 80.5 173.3 80.5 172.3 80.5 171.3 80.5 170.3 80.4 169.3 80.4 168.3 80.4 167.3 80.4 166.3 80.3 165.4 80.3 164.3 80.3 163.3 80.3 162.3 80.2 161.3 80.2 160.3 80.2 159.3 80.2 158.3 80.2 157.3 80.2 156.3 80.2 155.3 80.1 154.3 80.1 153.3 80.1 152.3 80.1 151.3 80 150.3 80 149.3 80 148.3 80 147.3 79.9 146.3 79.9 145.3 79.8 144.3 79.8 143.3 79.8 142.3 79.7 141.3 79.7 140.3 79.7 139.3 79.8 138.3 79.9 137.3 80.1 136.3 80.5 135.3 81.1 134.4 81.8 133.8 82.3 132.8 83.3 131.8 84.3 130.9 85.3 130.3 86.1 129.7 86.8 128.8 87.6 127.8 88.3 126.9 88.8 125.9 89.3 124.9 89.8 123.9 90.3 123 90.8 122.4 91.3 122.6 92.3 123.3 92.7 124.3 93.1 125.3 93.5 126.2 93.8 127.2 94.3 128 94.8 128.8 95.6 129 96.8 128.3 97.7 127.5 98.3 126.3 98.8 125.3 99.1 124.4 99.3 123.3 99.5 122.3 99.6 121.3 99.8 120.3 99.9 119.3 100 118.3 100.1 117.3 100.1 116.3 100.2 115.3 100.4 114.3 100.5 113.3 100.6 112.3 100.7 111.3 100.9 110.3 101.1 109.3 101.5 109.7 102.3 110.8 102.6 111.8 102.8 112.8 103 113.8 103.1 114.8 103.3 115.8 103.4 116.8 103.6 117.8 103.7 118.8 103.9 119.8 104 120.8 104.2 121.8 104.4 122.8 104.7 123.8 105 124.8 105.3 125.8 105.8 126.4 106.3 126.9 107.3 126.4 108.3 125.7 108.8 124.8 109.2 123.8 109.5 122.8 109.7 121.8 109.9 120.8 110 119.8 110.1 118.8 110.2 117.8 110.3 116.8 110.3 115.8 110.4 114.8 110.4 113.8 110.4 112.8 110.4 111.8 110.5 110.8 110.5 109.8 110.5 108.8 110.5 107.8 110.5 106.8 110.6 105.8 110.6 104.8 110.6 103.8 110.6 102.8 110.6 101.8 110.6 100.8 110.6 99.8 110.6 98.8 110.6 97.8 110.6 96.8 110.6 95.8 110.6 94.8 110.6 93.8 110.6 92.8 110.6 91.8 110.5 90.8 110.5 89.8 110.5 88.8 110.5 87.8 110.5 86.8 110.4 85.8 110.4 84.8 110.4 83.8 110.3 82.8 110.3 81.8 110.2 80.8 110.1 79.8 109.9 79 109.8 77.8 109.5 76.8 109.2 76 108.8 75.4 108.3 75 107.3 75.3 106.5 76.1 105.8 77.1 105.3 78.3 104.9 79.3 104.6 80.3 104.4 81.3 104.2 82.3 104 83.3 103.8 84.3 103.6 85.3 103.5 86.3 103.3 87.3 103.1 88.3 102.9 89.3 102.7 90.3 102.4 91.3 101.9 90.8 101.3 89.8 101 88.9 100.8 87.8 100.6 86.8 100.5 85.8 100.3 84.8 100.2 83.8 100.1 82.8 100.1 81.8 100 80.8 100 79.8 99.9 78.8 99.9 77.8 99.9 76.8 99.9 75.8 99.8 74.8 99.8 73.8 99.7 72.8 99.6 71.8 99.5 70.8 99.2 69.8 98.8 69.1 98.3 68.3 97.3 68.3 96.3 68.8 95.3 69.8 94.5 70.8 94 71.8 93.6 72.8 93.4 73.8 93.1 74.8 92.9 75.8 92.7 76.8 92.5 77.7 92.3 78.8 91.9 78.8 91 77.9 90.3 77.1 89.8 76.3 89.3 75.6 88.8 75 88.3 74.3 87.6 73.5 86.8 72.8 85.9 72.2 85.3 71.3 84.5 70.3 83.8 69.6 83.3 68.8 82.8 68.1 82.3 67.4 81.8 66.7 81.3 66.1 80.8 65.4 80.3 64.4 79.8 63.3 79.5 62.3 79.4 61.3 79.4 60.3 79.4 59.3 79.4 58.3 79.4 57.3 79.4 56.3 79.4 55.3 79.4 54.3 79.4 53.3 79.4 52.3 79.3 51.3 79.3 50.3 79.3 49.3 79.2 48.3 79.2 47.3 79.1 46.3 79.1 45.3 79 44.3 79 43.3 78.9 42.3 78.9 41.3 78.8 40.3 78.8 39.3 78.8 38.3 78.8 37.3 78.8 36.3 78.9 35.3 78.9 34.3 79.1 33.3 79.2 32.3 79.4 31.3 79.5 30.3 79.7 29.3 79.9 28.3 80.1 27.5 80.3 26.3 80.5 25.3 80.7 24.3 80.9 23.3 81.1 22.3 81.3 21.3 81.4M108.8 120.8 107.8 120.9 106.8 120.9 105.8 120.9 104.8 121 103.8 121 102.8 121 101.8 121 100.8 121 99.8 121 98.8 120.9 97.8 120.9 96.8 120.9 95.8 120.8 94.8 120.8 93.8 120.8 92.8 120.7 91.8 120.6 90.8 120.6 89.8 120.5 88.8 120.4 87.8 120.4 86.8 120.3 85.8 120.2 84.8 120 83.8 119.9 82.8 119.8 81.8 119.6 80.8 119.4 79.8 119.1 78.8 118.8 77.8 118.4 76.8 117.8 76.3 117.1 76.4 116.3 77.3 115.5 78.3 115.1 79.3 114.8 80.3 114.6 81.3 114.4 82.2 114.3 83.3 114.2 84.3 114.1 85.3 114 86.3 113.9 87.3 113.8 88.3 113.8 89.3 113.7 90.3 113.6 91.3 113.6 92.3 113.5 93.3 113.5 94.3 113.4 95.3 113.4 96.3 113.3 97.3 113.3 98.3 113.3 99.3 113.3 100.3 113.3 101.3 113.3 102.3 113.3 103.3 113.3 104.3 113.3 105.3 113.4 106.3 113.4 107.3 113.4 108.3 113.5 109.3 113.5 110.3 113.6 111.3 113.7 112.3 113.7 113.2 113.8 114.3 113.9 115.3 114 116.3 114.1 117.3 114.2 118.3 114.3 119.3 114.4 120.3 114.6 121.3 114.8 122.3 115.1 123.3 115.5 124.3 116.1 124.8 116.8 124.4 117.8 123.7 118.3 122.8 118.7 121.8 119.1 121 119.3 119.8 119.6 118.8 119.7 117.8 119.9 116.8 120.1 115.8 120.2 114.8 120.3 113.8 120.4 112.8 120.5 111.8 120.6 110.8 120.7 109.8 120.7 108.8 120.8 108.8 120.8ZM77.1 126.8 77.8 125.8 78.7 125.3 79.8 125 80.8 124.7 81.8 124.5 82.8 124.3 83.8 124.2 84.8 124.1 85.8 124 86.8 123.9 87.8 123.8 88.8 123.8 89.8 123.7 90.8 123.7 91.8 123.6 92.8 123.6 93.8 123.5 94.8 123.5 95.8 123.4 96.8 123.4 97.8 123.4 98.8 123.4 99.8 123.3 100.8 123.3 101.8 123.3 102.8 123.3 103.8 123.3 104.8 123.3 105.8 123.3 106.8 123.4 107.8 123.4 108.8 123.5 109.8 123.5 110.8 123.6 111.8 123.6 112.8 123.7 113.7 123.8 114.8 123.9 115.8 124 116.8 124.1 117.8 124.2 118.8 124.4 119.8 124.5 120.8 124.7 121.8 124.9 122.8 125.2 123.8 125.5 124.8 126.1 125.3 126.8"/><path stroke="#0000d8" d="M73.3 66.8 72.3 67 71.3 67 70.5 66.8 69.5 66.3 68.8 65.6 68.3 64.9 67.8 63.8 67.6 62.8 67.5 61.8 67.6 60.8 67.8 59.8 68.1 58.8 68.7 57.8 69.3 57.1 70.1 56.3 70.8 55.8 71.7 55.3 72.7 54.8 73.8 54.3 74.8 53.9 75.8 53.5 76.8 53.2 77.8 52.8 78.8 52.5 79.8 52.1 80.8 51.7 81.7 51.3 82.8 50.8 83.8 50.4 84.8 50 85.8 49.6 86.6 49.3 87.8 48.8 88.8 48.4 89.8 48 90.8 47.6 91.6 47.3 92.3 47 93.3 46.6 94.1 46.3 95.3 45.9 96.3 45.5 97.1 45.3 98.3 45 99.3 44.8 100.3 44.7 101.3 44.6 102.3 44.6 103.3 44.7 104.3 44.8 105.3 45 106.3 45.3 107.3 45.6 108.3 46 109.2 46.3 110.3 46.7 111.3 47.2 112.3 47.6 113.3 48 114.1 48.3 115.3 48.8 116.3 49.2 117.3 49.5 118.3 49.9 119.3 50.3 120.3 50.7 121.3 51.1 122.3 51.5 123.3 51.9 124.2 52.3 125.3 52.8 126.3 53.2 127.3 53.6 128.3 54.1 129.3 54.7 130.3 55.3 131 55.8 131.8 56.6 132.3 57.3 132.8 58.3 133.1 59.3 133.2 60.3 133.1 61.3 133 62.3 132.8 63.1 132.3 64.3 131.8 65.1 131 65.8 130.3 66.2 129.3 66.5 128.3 66.5 127.3 66.2 126.3 65.9 125.3 65.3 124.6 64.8 123.8 64.2 122.9 63.3 122.3 62.7 121.6 61.8 120.8 60.8 120.3 60.2 119.8 59.5 119.3 58.8 118.8 58.1 118.3 57.4 117.8 56.8 116.9 55.8 115.8 55 114.8 54.5 113.8 54.2 112.8 54 112 53.8 110.8 53.6 109.8 53.5 108.8 53.4 107.8 53.3 106.8 53.2 105.8 53.2 104.8 53.1 103.8 53.1 102.8 53.1 101.8 53 100.8 53 99.8 53 98.8 53 97.8 53 96.8 53 95.8 53.1 94.8 53.1 93.8 53.1 92.8 53.2 91.8 53.2 90.8 53.3 89.8 53.4 88.8 53.6 87.8 53.7 86.8 54 85.8 54.3 84.8 54.8 84.1 55.3 83.4 56.3 82.8 57.2 82.3 58 81.8 58.8 81.3 59.6 80.8 60.3 80.3 61 79.8 61.7 79.3 62.3 78.5 63.3 77.8 64 76.9 64.8 76.3 65.3 75.6 65.8 74.8 66.2 73.8 66.7 73.3 66.8ZM123.3 83.3 122.3 83.4 121.3 83.4 120.3 83.3 119.3 83.2 118.3 83.2 117.3 83.1 116.3 82.9 115.3 82.8 114.3 82.7 113.3 82.7 112.3 82.6 111.3 82.5 110.3 82.5 109.3 82.4 108.3 82.4 107.3 82.4 106.3 82.3 105.3 82.3 104.3 82.3 103.3 82.3 102.3 82.3 101.3 82.3 100.3 82.3 99.3 82.3 98.4 82.3 97.3 82.3 96.3 82.3 95.3 82.4 94.3 82.4 93.3 82.5 92.3 82.5 91.3 82.6 90.3 82.6 89.3 82.7 88.3 82.8 87.3 82.9 86.3 83 85.3 83.1 84.3 83.2 83.3 83.3 82.5 83.3 81.3 83.4 80.3 83.4 79.4 83.3 78.3 83.2 77.3 83 76.3 82.8 75.3 82.6 74.3 82.2 73.4 81.8 72.7 81.3 71.8 80.3 71.6 79.3 71.8 78.3 72.3 77.5 72.8 76.9 73.8 75.8 74.8 74.8 75.8 73.9 76.8 72.8 77.7 71.8 78.3 71.1 79 70.3 79.7 69.3 80.3 68.6 80.8 67.9 81.3 67.2 81.8 66.6 82.3 65.9 82.8 65.2 83.3 64.6 84 63.8 84.8 62.8 85.8 61.8 86.8 60.9 87.5 60.3 88.1 59.8 88.8 59.3 89.7 58.8 90.6 58.3 91.8 57.8 92.8 57.4 93.8 57.1 94.8 56.9 95.8 56.7 96.8 56.5 97.8 56.4 98.8 56.3 99.8 56.3 100.8 56.3 101.8 56.3 102.8 56.4 103.8 56.5 104.8 56.6 105.8 56.8 106.8 57 107.8 57.3 108.8 57.6 109.8 58 110.6 58.3 111.3 58.7 112.3 59.2 113.2 59.8 113.9 60.3 114.6 60.8 115.3 61.4 116.3 62.3 117.2 63.3 117.8 63.9 118.6 64.8 119.3 65.6 119.9 66.3 120.7 67.3 121.3 68.1 121.9 68.8 122.7 69.8 123.3 70.4 124.1 71.3 124.8 72.1 125.5 72.8 126.3 73.5 127.2 74.3 127.8 74.9 128.8 75.8 129.8 76.8 130.3 77.6 130.6 78.8 130.3 79.8 129.8 80.7 129.2 81.3 128.5 81.8 127.5 82.3 126.3 82.7 125.3 83 124.3 83.2 123.3 83.3 123.3 83.3ZM181.3 78 180.3 78.2 179.3 78.3 178.3 78.3 177.3 78.4 176.3 78.4 175.3 78.4 174.3 78.3 173.3 78.2 172.3 78.2 171.3 78 170.3 77.9 169.3 77.7 168.3 77.6 167.3 77.4 166.3 77.3 165.3 77.1 164.3 77 163.3 77 162.3 77 161.3 77.1 160.3 77.2 159.3 77.3 158.3 77.5 157.3 77.6 156.3 77.7 155.3 77.8 154.3 77.8 153.3 77.9 152.3 77.9 151.3 77.9 150.3 77.9 149.3 77.9 148.3 77.8 147.3 77.8 146.3 77.7 145.3 77.6 144.3 77.4 143.3 77.2 142.3 77 141.5 76.8 140.3 76.4 139.3 75.8 138.5 74.8 138.3 73.8 138.4 72.8 138.7 71.8 139.1 70.8 139.6 69.8 140.2 68.8 140.7 67.8 141.2 66.8 141.6 65.8 142.1 64.8 142.6 63.8 143.1 62.8 143.6 61.8 144.3 60.8 144.8 60.2 145.8 59.4 146.8 59 147.8 58.9 148.8 58.9 149.8 59.1 150.8 59.5 151.8 60 152.8 60.6 153.7 61.3 154.8 62.2 155.4 62.8 156.3 63.7 156.9 64.3 157.8 65.2 158.4 65.8 159.3 66.5 160.3 67.2 161.3 67.5 162.3 67.6 163.3 67.2 164.3 66.4 164.9 65.8 165.8 64.8 166.7 63.8 167.8 63 168.8 62.4 169.8 62.2 170.8 62.1 171.8 62.1 172.8 62.2 173.8 62.5 174.8 62.8 175.8 63.1 176.8 63.5 177.8 64 178.8 64.5 179.8 65 180.8 65.6 181.3 65.9M21.3 65.3 22.3 64.8 23.3 64.4 24.3 63.9 25.3 63.5 26.3 63.2 27.3 62.9 28.3 62.7 29.3 62.5 30.3 62.4 31.3 62.5 32.3 62.6 33.3 62.9 34.2 63.3 35.1 63.8 36 64.3 36.8 64.7 37.8 65.2 38.8 65.4 39.8 65.4 40.8 65.2 41.8 64.8 42.7 64.3 43.5 63.8 44.2 63.3 44.9 62.8 45.6 62.3 46.3 61.8 47.1 61.3 48 60.8 48.8 60.4 49.8 60 50.8 59.6 51.8 59.5 52.8 59.4 53.8 59.6 54.8 59.9 55.8 60.6 56.5 61.3 57.2 62.3 57.8 63.3 58.3 64.3 58.7 65.3 59.1 66.3 59.5 67.3 59.8 68.3 60.1 69.3 60.3 70.1 60.5 71.3 60.6 72.3 60.6 73.3 60.3 74.2 59.8 74.9 58.8 75.8 57.8 76.2 56.8 76.5 55.8 76.7 54.8 76.9 53.8 77 52.8 77.1 51.8 77.1 50.8 77.2 49.8 77.2 48.8 77.1 47.8 77.1 46.8 77 45.8 76.9 44.8 76.8 43.8 76.7 42.8 76.6 41.8 76.5 40.8 76.4 39.8 76.3 38.8 76.2 37.8 76.2 36.8 76.3 35.8 76.4 34.8 76.6 33.9 76.8 32.8 77 31.8 77.3 30.8 77.5 29.8 77.8 28.8 78 27.8 78.2 26.8 78.4 25.8 78.6 24.8 78.8 23.8 78.9 22.8 79.1 21.8 79.2 21.3 79.3M101.8 100.8 100.8 100.9 99.8 100.9 98.8 100.9 97.8 100.8 96.8 100.7 95.8 100.6 94.8 100.5 93.8 100.3 92.8 100.2 91.8 100 90.8 99.9 89.8 99.7 88.8 99.6 87.8 99.4 86.8 99.3 85.8 99.2 84.8 99 83.8 98.9 82.9 98.8 81.8 98.6 80.8 98.5 79.8 98.4 78.8 98.2 77.8 98 76.8 97.6 75.8 97 75.8 96.1 76.8 95.4 77.8 95 78.8 94.7 79.8 94.5 80.8 94.3 81.8 94.2 82.8 94 83.8 93.9 84.8 93.8 85.8 93.7 86.8 93.6 87.8 93.5 88.8 93.4 89.6 93.3 90.8 93.1 91.8 92.8 90.8 92.2 89.8 91.9 88.8 91.7 87.8 91.4 86.8 91.2 85.8 90.9 84.8 90.6 84 90.3 82.8 89.8 81.8 89.4 80.9 88.8 80.2 88.3 79.5 87.3 79.6 86.3 80.3 85.6 81.3 85.1 82.3 84.8 83.3 84.6 84.3 84.5 85.3 84.5 86.3 84.4 87.3 84.4 88.3 84.3 89.3 84.3 90.3 84.3 91.3 84.2 92.3 84.2 93.3 84.2 94.3 84.1 95.3 84.1 96.3 84.1 97.3 84.1 98.3 84.1 99.3 84.1 100.3 84.1 101.3 84.1 102.3 84.1 103.3 84.1 104.3 84.1 105.3 84.1 106.3 84.1 107.3 84.2 108.3 84.2 109.3 84.2 110.3 84.3 111.3 84.3 112.3 84.4 113.3 84.4 114.3 84.4 115.3 84.5 116.3 84.5 117.3 84.6 118.3 84.7 119.2 84.8 120.3 85 121.2 85.3 122 85.8 122.6 86.8 122.3 87.6 121.7 88.3 121 88.8 120.3 89.3 119.3 89.8 118.3 90.3 117.3 90.7 116.3 91.1 115.3 91.5 114.3 92 113.9 92.8 114.8 93.1 115.8 93.4 116.8 93.6 117.8 93.8 118.8 94 119.8 94.3 120.8 94.6 121.8 95 122.8 95.6 123.3 96.3 122.8 97.3 122 97.8 120.8 98.2 119.8 98.5 118.8 98.7 117.8 98.8 116.8 99 115.8 99.1 114.8 99.3 113.8 99.4 112.8 99.5 111.8 99.6 110.8 99.8 109.8 99.9 108.8 100 107.8 100.2 106.8 100.3 105.8 100.4 104.8 100.6 103.8 100.7 102.8 100.7 101.8 100.8ZM104.8 109.8 103.8 109.8 102.8 109.8 101.8 109.8 100.8 109.8 99.8 109.8 98.8 109.8 97.8 109.8 96.8 109.8 95.8 109.8 94.8 109.8 93.8 109.8 92.8 109.7 91.8 109.7 90.8 109.6 89.8 109.6 88.8 109.5 87.8 109.5 86.8 109.4 85.8 109.3 84.8 109.1 83.8 109 83 108.8 81.8 108.4 80.8 107.9 80.4 106.8 81.3 106 82.3 105.5 83.3 105.2 84.3 104.9 85.3 104.7 86.3 104.5 87.3 104.3 88.3 104.1 89.3 103.9 90.3 103.7 91.3 103.6 92.3 103.4 93.3 103.3 94.3 103.2 95.3 103 96.3 102.9 97.3 102.8 98.3 102.8 99.3 102.7 100.3 102.7 101.3 102.7 102.1 102.8 103.3 102.9 104.3 103 105.3 103.1 106.3 103.2 107.1 103.3 108.3 103.4 109.3 103.6 110.3 103.7 111.3 103.9 112.3 104 113.3 104.2 114.1 104.3 115.3 104.5 116.3 104.7 117.3 105 118.3 105.2 119.3 105.6 120.3 106 121.2 106.8 120.8 107.8 119.9 108.3 118.8 108.6 117.8 108.9 116.8 109 115.8 109.2 114.8 109.3 113.8 109.4 112.8 109.5 111.8 109.5 110.8 109.6 109.8 109.6 108.8 109.7 107.8 109.7 106.8 109.8 105.8 109.8 104.8 109.8ZM107.8 119.8 106.8 119.9 105.8 119.9 104.8 120 103.8 120 102.8 120 101.8 120 100.8 120 99.8 120 98.8 120 97.8 120 96.8 119.9 95.8 119.9 94.8 119.8 93.8 119.8 92.8 119.7 91.8 119.6 90.8 119.5 89.8 119.4 88.8 119.3 87.8 119.1 86.8 118.9 85.8 118.7 84.8 118.4 83.8 118 82.8 117.3 83.2 116.3 84.2 115.8 85.3 115.5 86.3 115.2 87.3 115.1 88.3 114.9 89.3 114.8 90.3 114.6 91.3 114.5 92.3 114.4 93.3 114.4 94.3 114.3 95.3 114.2 96.3 114.2 97.3 114.1 98.3 114.1 99.3 114.1 100.3 114.1 101.3 114.1 102.3 114.1 103.3 114.1 104.3 114.1 105.3 114.2 106.3 114.2 107.3 114.3 108.3 114.4 109.3 114.5 110.3 114.6 111.3 114.7 112.3 114.8 113.3 115 114.3 115.1 115.2 115.3 116.3 115.6 117.3 116 118.3 116.7 117.9 117.8 116.9 118.3 115.8 118.6 114.8 118.9 113.8 119.1 112.8 119.3 111.8 119.4 110.8 119.5 109.8 119.6 108.8 119.7 107.8 119.8ZM84.2 126.8 84.8 126.2 85.7 125.8 86.8 125.5 87.7 125.3 88.8 125.1 89.8 125 90.8 124.9 91.8 124.8 92.8 124.7 93.8 124.6 94.8 124.6 95.8 124.5 96.8 124.5 97.8 124.4 98.8 124.4 99.8 124.4 100.8 124.4 101.8 124.4 102.8 124.4 103.8 124.4 104.8 124.4 105.8 124.5 106.8 124.5 107.8 124.6 108.8 124.6 109.8 124.7 110.8 124.8 111.8 125 112.8 125.1 113.7 125.3 114.8 125.6 115.8 125.9 116.6 126.3 117 126.8"/><path stroke="#0006ff" d="M113.3 51.9 112.3 52 111.3 52.1 110.3 52.1 109.3 52.1 108.3 52.1 107.3 52.1 106.3 52.1 105.3 52.1 104.3 52 103.3 52 102.3 52 101.3 52 100.3 52 99.3 52 98.3 51.9 97.3 51.9 96.3 51.9 95.3 51.9 94.3 51.8 93.3 51.7 92.3 51.6 91.3 51.4 90.3 50.8 90.8 50 91.8 49.3 92.7 48.8 93.8 48.3 94.8 47.9 95.8 47.6 96.6 47.3 97.8 47 98.8 46.8 99.8 46.7 100.8 46.6 101.8 46.6 102.8 46.6 103.8 46.7 104.8 46.9 105.8 47.1 106.8 47.4 107.8 47.7 108.8 48.1 109.8 48.5 110.5 48.8 111.3 49.2 112.3 49.7 113.2 50.3 113.8 50.9 113.5 51.8 113.3 51.9ZM129.3 64 128.3 64.2 127.3 64.2 126.3 63.9 125.3 63.3 124.6 62.8 123.8 62.1 123.1 61.3 122.3 60.3 121.8 59.5 121.4 58.8 121 57.8 120.7 56.8 121 55.8 121.8 55.2 122.8 55.1 123.8 55.1 124.8 55.3 125.8 55.6 126.8 55.9 127.8 56.3 128.6 56.8 129.3 57.3 130.2 58.3 130.7 59.3 131 60.3 131 61.3 130.8 62.1 130.3 63.1 129.6 63.8 129.3 64ZM73.8 64.9 72.8 65 71.8 64.9 70.8 64.4 70.2 63.8 69.8 62.9 69.6 61.8 69.7 60.8 70 59.8 70.5 58.8 71.3 57.9 72.1 57.3 72.8 56.9 73.8 56.4 74.8 56.1 75.8 55.9 76.8 55.7 77.8 55.7 78.8 55.9 79.6 56.3 80.1 57.3 79.9 58.3 79.5 59.3 79 60.3 78.4 61.3 77.8 62 77.1 62.8 76.3 63.5 75.3 64.2 74.3 64.7 73.8 64.9ZM118.8 81.8 117.8 81.8 116.8 81.9 115.8 81.9 114.8 81.9 113.8 81.9 112.8 81.8 111.8 81.8 110.8 81.8 109.8 81.8 108.8 81.8 107.8 81.8 106.8 81.8 105.8 81.8 104.8 81.8 103.8 81.8 102.8 81.8 101.8 81.8 100.8 81.8 99.8 81.8 98.8 81.8 97.8 81.8 96.8 81.8 95.8 81.8 94.8 81.8 93.8 81.8 92.8 81.9 91.8 81.9 90.8 81.9 89.8 81.9 88.8 81.9 87.8 81.9 86.8 81.9 85.8 81.9 84.8 81.9 83.8 81.9 82.8 81.9 81.8 81.8 80.8 81.7 79.8 81.6 78.8 81.4 77.8 81.1 76.8 80.6 75.9 79.8 75.4 78.8 75.4 77.8 75.7 76.8 76.2 75.8 76.8 74.9 77.3 74.2 77.8 73.4 78.3 72.7 78.8 72 79.3 71.3 79.8 70.6 80.3 69.9 80.8 69.1 81.3 68.4 81.8 67.7 82.3 67 82.8 66.3 83.3 65.6 83.8 65 84.3 64.4 85.2 63.3 85.8 62.6 86.6 61.8 87.3 61.2 88.3 60.4 89.2 59.8 90 59.3 90.8 58.9 91.8 58.4 92.8 58 93.8 57.7 94.8 57.4 95.8 57.2 96.8 57 97.8 56.9 98.8 56.8 99.8 56.8 100.8 56.8 101.8 56.8 102.8 56.9 103.8 57 104.8 57.1 105.7 57.3 106.8 57.5 107.7 57.8 108.8 58.2 109.8 58.6 110.8 59 111.8 59.6 112.8 60.2 113.6 60.8 114.2 61.3 115.3 62.3 116.3 63.2 117.3 64.3 117.8 64.9 118.5 65.8 119.3 66.8 119.8 67.5 120.3 68.1 120.8 68.8 121.3 69.5 121.8 70.2 122.3 70.8 122.8 71.5 123.3 72.2 123.8 72.9 124.3 73.6 124.8 74.3 125.3 75 125.8 75.8 126.2 76.8 126.5 77.8 126.4 78.8 125.8 79.8 124.8 80.6 123.8 81 122.9 81.3 121.8 81.5 120.8 81.7 119.8 81.7 118.9 81.8 118.8 81.8ZM153.8 75.3 152.8 75.5 151.8 75.6 150.8 75.6 149.8 75.6 148.8 75.6 147.8 75.5 146.8 75.3 145.8 75.1 145 74.8 144 74.3 143.3 73.8 142.5 72.8 142.2 71.8 142.2 70.8 142.4 69.8 142.6 68.8 143 67.8 143.3 66.9 143.8 65.8 144.3 64.9 144.8 64.1 145.3 63.4 145.9 62.8 146.6 62.3 147.8 61.8 148.8 61.7 149.7 61.8 150.8 62.1 151.8 62.6 152.8 63.3 153.4 63.8 154.3 64.6 155 65.3 155.8 66.3 156.3 67 156.8 67.6 157.3 68.4 157.8 69.2 158.3 70.2 158.6 71.3 158.6 72.3 158.1 73.3 157.3 74 156.3 74.6 155.3 75 154.3 75.2 153.8 75.3ZM51.8 74.8 50.8 74.9 49.8 74.9 48.8 74.9 47.8 74.8 46.8 74.7 45.8 74.5 44.8 74.2 43.8 73.9 42.8 73.4 41.8 72.9 40.9 72.3 40.3 71.8 39.9 70.8 40.3 70 40.9 69.3 41.8 68.5 42.5 67.8 43.3 67 44.1 66.3 44.8 65.7 45.8 64.8 46.4 64.3 47.1 63.8 47.9 63.3 48.8 62.8 49.8 62.4 50.8 62.2 51.8 62.1 52.8 62.2 53.8 62.5 54.8 63.1 55.5 63.8 56.2 64.8 56.7 65.8 57.1 66.8 57.3 67.6 57.5 68.8 57.6 69.8 57.6 70.8 57.3 71.7 56.8 72.6 56.2 73.3 55.4 73.8 54.3 74.3 53.3 74.6 52.3 74.8 51.8 74.8ZM181.3 75.4 180.3 75.7 179.3 75.9 178.3 76 177.3 76.1 176.3 76.1 175.3 76.1 174.3 76 173.3 75.9 172.3 75.6 171.3 75.4 170.3 75 169.3 74.6 168.3 74 167.4 73.3 166.8 72.6 166.4 71.8 166.3 70.8 166.5 69.8 166.8 68.9 167.3 67.9 167.8 67.1 168.5 66.3 169.3 65.6 170.3 65.1 171.2 64.8 172.3 64.7 173.3 64.7 174.3 64.9 175.3 65.2 176.3 65.5 177.3 66 178.3 66.5 179.3 67 180.3 67.7 181.1 68.3 181.3 68.5M21.3 67.7 22.3 67.1 23.3 66.6 24.3 66.2 25.2 65.8 26.3 65.5 27.3 65.2 28.3 65.1 29.3 65 30.3 65.1 31.3 65.3 32.3 65.7 33.3 66.2 34.1 66.8 34.8 67.4 35.7 68.3 36.3 69 37 69.8 37.4 70.8 36.8 71.8 35.8 72.6 34.8 73.2 33.8 73.7 32.8 74.2 31.8 74.6 30.8 75 30 75.3 28.8 75.7 27.8 75.9 26.8 76.2 25.8 76.4 24.8 76.5 23.8 76.7 22.8 76.7 21.8 76.8 21.3 76.8M106.8 91.3 105.8 91.4 104.8 91.4 103.8 91.5 102.8 91.5 101.8 91.5 100.8 91.5 99.8 91.4 98.8 91.4 97.8 91.3 96.8 91.3 95.8 91.2 94.8 91.1 93.8 91 92.8 90.8 91.8 90.7 90.8 90.5 89.8 90.3 88.8 90 87.9 89.8 86.8 89.4 85.8 88.9 84.9 88.3 84.6 87.3 85.3 86.6 86.3 86.2 87.3 85.9 88.3 85.6 89.3 85.5 90.3 85.3 91.3 85.2 92.3 85.1 93.3 85 94.3 84.9 95.3 84.9 96.3 84.8 97.3 84.8 98.3 84.8 99.3 84.7 100.3 84.7 101.3 84.7 102.3 84.7 103.3 84.8 104.3 84.8 105.3 84.8 106.3 84.9 107.3 84.9 108.3 85 109.3 85.1 110.3 85.2 111.1 85.3 112.3 85.5 113.3 85.6 114.1 85.8 115.3 86.1 116.3 86.6 117.2 87.3 116.9 88.3 116.3 88.9 115.6 89.3 114.8 89.6 113.8 90 112.9 90.3 111.8 90.6 110.8 90.8 109.8 91 108.8 91.1 107.8 91.2 106.9 91.3 106.8 91.3ZM103.8 99.3 102.8 99.4 101.8 99.4 100.8 99.5 99.8 99.5 98.8 99.4 97.8 99.4 96.8 99.3 95.8 99.2 94.8 99.1 93.8 99 92.8 98.9 91.8 98.7 90.8 98.5 89.8 98.3 88.8 98 87.8 97.8 86.8 97.4 85.8 96.8 86.3 96.1 87.1 95.8 88.3 95.5 89.3 95.3 90.3 95.2 91.3 95.1 92.3 95 93.3 94.9 94.3 94.8 95.3 94.8 96.3 94.7 97.3 94.7 98.3 94.6 99.3 94.6 100.3 94.6 101.3 94.6 102.3 94.6 103.3 94.6 104.3 94.6 105.3 94.6 106.3 94.6 107.3 94.7 108.3 94.7 109.3 94.8 110.3 94.9 111.3 95 112.3 95.2 113.2 95.3 114.3 95.6 115.3 96 115.7 96.8 115.1 97.3 114.3 97.6 113.3 97.9 112.3 98.1 111.4 98.3 110.3 98.5 109.3 98.6 108.4 98.8 107.3 98.9 106.3 99.1 105.3 99.2 104.3 99.3 103.8 99.3ZM105.8 108.8 104.8 108.9 103.8 108.9 102.8 108.9 101.8 108.9 100.8 108.9 99.8 108.9 98.8 108.9 97.8 108.9 96.8 108.9 95.8 108.8 94.8 108.8 93.8 108.7 92.8 108.7 91.8 108.6 90.8 108.5 89.8 108.3 88.8 108.2 87.8 107.9 86.8 107.5 86.2 106.8 86.8 106.2 87.6 105.8 88.8 105.4 89.8 105.2 90.8 105 91.6 104.8 92.8 104.6 93.8 104.5 94.8 104.4 95.8 104.3 96.8 104.2 97.8 104.1 98.8 104.1 99.8 104.1 100.8 104.1 101.8 104.1 102.8 104.2 103.8 104.2 104.8 104.3 105.8 104.4 106.8 104.5 107.8 104.6 108.8 104.7 109.8 104.9 110.8 105.1 111.8 105.3 112.8 105.6 113.8 105.9 114.5 106.3 114.8 107.1 113.8 107.8 112.8 108 111.8 108.2 110.8 108.4 109.8 108.5 108.8 108.6 107.8 108.7 106.8 108.8 105.8 108.8ZM104.8 118.8 103.8 118.9 102.8 118.9 101.8 118.9 100.8 118.9 99.8 118.9 98.8 118.9 97.8 118.9 96.8 118.8 95.8 118.7 94.8 118.6 93.8 118.5 92.8 118.3 91.8 118.1 90.8 117.8 89.9 117.3 90.3 116.5 91.3 116.1 92.3 115.8 93.3 115.6 94.3 115.5 95.3 115.4 96.3 115.3 97.3 115.2 98.3 115.1 99.3 115.1 100.3 115.1 101.3 115.1 102.3 115.1 103.3 115.2 104.3 115.2 105.3 115.3 106.3 115.4 107.3 115.5 108.3 115.7 109.1 115.8 110.3 116.1 111.3 116.6 111.3 117.5 110.3 118 109.3 118.2 108.3 118.4 107.3 118.6 106.3 118.7 105.3 118.8 104.8 118.8ZM94.1 126.8 95.3 126.3 96.3 126.2 97.3 126 98.3 126 99.3 125.9 100.3 125.8 101.3 125.8 102.3 125.9 103.3 125.9 104.3 126 105.3 126.1 106.3 126.3 107.3 126.6 107.6 126.8"/><path stroke="#0032ff" d="M117.3 80.9 116.3 81 115.3 81 114.3 81.1 113.3 81.1 112.3 81.2 111.3 81.2 110.3 81.2 109.3 81.2 108.3 81.2 107.3 81.3 106.3 81.3 105.3 81.3 104.3 81.3 103.3 81.3 102.3 81.3 101.3 81.3 100.3 81.3 99.3 81.3 98.3 81.3 97.3 81.3 96.3 81.3 95.3 81.3 94.3 81.3 93.3 81.3 92.3 81.3 91.3 81.3 90.3 81.3 89.3 81.2 88.3 81.2 87.3 81.2 86.3 81.1 85.3 81 84.3 80.9 83.3 80.8 82.3 80.6 81.3 80.4 80.3 80.1 79.3 79.5 78.5 78.8 78 77.8 77.9 76.8 78.1 75.8 78.5 74.8 79 73.8 79.5 72.8 80.1 71.8 80.6 70.8 81.3 69.8 81.8 68.9 82.3 68.2 82.8 67.4 83.3 66.7 83.8 66 84.3 65.3 84.8 64.7 85.5 63.8 86.3 62.9 86.9 62.3 87.8 61.5 88.7 60.8 89.4 60.3 90.2 59.8 91.2 59.3 92.2 58.8 93.3 58.4 94.3 58.1 95.3 57.8 96.3 57.6 97.3 57.5 98.3 57.4 99.1 57.3 100.3 57.3 101.3 57.3 102.3 57.3 103.3 57.4 104.3 57.5 105.3 57.7 106.3 57.9 107.3 58.2 108.3 58.5 109.3 58.9 110.1 59.3 111.1 59.8 111.8 60.2 112.6 60.8 113.3 61.3 113.9 61.8 114.8 62.6 115.5 63.3 116.3 64.1 116.9 64.8 117.7 65.8 118.3 66.6 118.8 67.3 119.3 68 119.8 68.7 120.3 69.5 120.8 70.2 121.3 71 121.8 71.8 122.3 72.7 122.8 73.7 123.3 74.8 123.6 75.8 123.8 76.8 123.6 77.8 123.1 78.8 122.3 79.4 121.3 80 120.3 80.3 119.3 80.5 118.3 80.7 117.3 80.9ZM74.3 61.5 73.3 60.8 73.8 59.9 74.8 59.5 75.6 59.8 75.3 60.8 74.3 61.5ZM151.8 72.4 150.8 72.6 149.8 72.7 148.8 72.6 147.8 72.3 146.9 71.8 146.3 71.2 145.8 70.3 145.7 69.3 145.8 68.3 146.2 67.3 146.8 66.3 147.8 65.4 148.8 65.1 149.8 65.1 150.6 65.3 151.5 65.8 152.3 66.5 153 67.3 153.6 68.3 153.9 69.3 153.9 70.3 153.5 71.3 152.8 71.9 152.1 72.3 151.8 72.4ZM50.8 71.9 49.8 71.9 48.8 71.7 47.8 71.3 47.1 70.8 46.6 69.8 46.7 68.8 47.1 67.8 47.8 67 48.6 66.3 49.3 65.8 50.3 65.4 51.3 65.3 52.3 65.5 53.3 66.2 53.8 66.8 54.2 67.8 54.3 68.8 54 69.8 53.4 70.8 52.7 71.3 51.8 71.7 50.8 71.9ZM26.3 72.8 25.3 73 24.3 72.9 23.3 72.6 22.8 71.8 23.2 70.8 23.8 70.2 24.8 69.5 25.8 69.1 26.8 68.8 27.8 68.8 28.8 69.1 29.5 69.8 29.5 70.8 28.8 71.7 27.9 72.3 26.8 72.7 26.3 72.8ZM177.3 72.4 176.3 72.7 175.3 72.7 174.3 72.6 173.5 72.3 172.8 71.9 172.2 71.3 171.8 70.4 172 69.3 172.8 68.6 173.8 68.3 174.8 68.4 175.8 68.7 176.8 69.2 177.5 69.8 178.1 70.8 178.1 71.8 177.3 72.4ZM104.3 90.3 103.3 90.4 102.3 90.4 101.3 90.4 100.3 90.4 99.3 90.3 98.3 90.3 97.3 90.2 96.3 90.1 95.3 90 94.3 89.9 93.3 89.7 92.3 89.4 91.3 89.2 90.4 88.8 89.6 88.3 89.4 87.3 90.1 86.8 91.3 86.4 92.3 86.2 93.3 86 94.3 85.8 95.3 85.7 96.3 85.6 97.3 85.6 98.3 85.5 99.3 85.5 100.3 85.5 101.3 85.5 102.3 85.5 103.3 85.5 104.3 85.6 105.3 85.6 106.3 85.7 107.2 85.8 108.3 86 109.3 86.1 110.3 86.4 111.3 86.7 112.3 87.2 112.4 88.3 111.8 88.8 110.8 89.2 109.8 89.5 108.8 89.8 107.8 89.9 106.8 90.1 105.8 90.2 104.8 90.3 104.3 90.3ZM102.8 107.3 101.8 107.4 100.8 107.4 99.8 107.4 98.8 107.4 97.8 107.3 96.8 107.1 95.8 106.9 96.3 106.2 97.3 106 98.3 105.9 99.3 105.8 100.3 105.8 101.3 105.8 102.3 105.8 103.3 106 104.3 106.2 105.3 106.8 104.3 107.1 103.3 107.3 102.8 107.3Z"/><path stroke="#005eff" d="M104.3 80.8 103.3 80.8 102.3 80.8 101.3 80.8 100.3 80.8 99.3 80.8 98.3 80.8 97.3 80.8 96.3 80.8 95.3 80.8 94.3 80.8 93.3 80.7 92.3 80.7 91.3 80.7 90.3 80.6 89.3 80.6 88.3 80.5 87.3 80.4 86.4 80.3 85.3 80.1 84.3 79.9 83.3 79.7 82.3 79.3 81.4 78.8 80.3 77.8 79.9 76.8 79.8 75.8 79.9 74.8 80.2 73.8 80.6 72.8 81.1 71.8 81.6 70.8 82.1 69.8 82.7 68.8 83.3 67.8 83.8 67 84.3 66.3 84.8 65.6 85.3 65 85.8 64.3 86.7 63.3 87.3 62.7 88.3 61.8 89 61.3 89.6 60.8 90.4 60.3 91.3 59.8 92.3 59.3 93.3 58.9 94.3 58.6 95.3 58.3 96.3 58.1 97.3 58 98.3 57.8 99.3 57.8 100.3 57.7 101.3 57.7 102.3 57.8 103.3 57.9 104.3 58 105.3 58.2 106.3 58.4 107.3 58.7 108.3 59.1 109.3 59.5 110.3 60 111.3 60.6 112.3 61.2 113.1 61.8 113.8 62.4 114.7 63.3 115.3 63.9 116.1 64.8 116.8 65.7 117.3 66.3 117.8 67 118.3 67.7 118.8 68.5 119.3 69.3 119.8 70.2 120.3 71.1 120.7 71.8 121.1 72.8 121.5 73.8 121.8 74.8 121.9 75.8 121.7 76.8 121.3 77.7 120.7 78.3 120.1 78.8 119.3 79.2 118.3 79.6 117.5 79.8 116.3 80 115.3 80.2 114.3 80.3 113.3 80.4 112.3 80.5 111.3 80.6 110.3 80.6 109.3 80.7 108.3 80.7 107.3 80.7 106.3 80.8 105.3 80.8 104.3 80.8 104.3 80.8ZM104.8 88.9 103.8 89 102.8 89.1 101.8 89.1 100.8 89.1 99.8 89.1 98.8 89 97.8 88.9 96.8 88.7 95.8 88.5 94.8 87.8 95.8 87.1 96.8 86.8 97.8 86.7 98.8 86.6 99.8 86.5 100.8 86.5 101.8 86.5 102.8 86.6 103.8 86.6 104.8 86.8 105.8 87 106.7 87.3 106.8 88.3 105.8 88.6 104.8 88.9Z"/><path stroke="#008bff" d="M105.3 80.3 104.3 80.3 103.3 80.4 102.3 80.4 101.3 80.4 100.3 80.4 99.3 80.4 98.3 80.4 97.3 80.3 96.3 80.3 95.3 80.3 94.3 80.3 93.3 80.2 92.3 80.2 91.3 80.1 90.3 80 89.3 79.9 88.3 79.8 87.3 79.6 86.3 79.4 85.3 79.2 84.3 78.8 83.3 78.4 82.5 77.8 81.8 77 81.3 75.8 81.3 74.8 81.4 73.8 81.7 72.8 82 71.8 82.4 70.8 82.8 70 83.2 69.3 83.7 68.3 84.3 67.4 84.8 66.6 85.3 65.9 85.8 65.2 86.5 64.3 87.3 63.5 88 62.8 88.8 62.1 89.8 61.3 90.6 60.8 91.3 60.4 92.3 59.9 93.3 59.5 94.3 59.1 95.3 58.8 96.3 58.6 97.3 58.4 98.2 58.3 99.3 58.2 100.3 58.2 101.3 58.2 102.3 58.2 103.3 58.3 104.3 58.5 105.3 58.7 106.3 58.9 107.3 59.2 108.3 59.6 109.3 60 110.3 60.6 111.3 61.2 112.2 61.8 112.8 62.3 113.8 63.1 114.5 63.8 115.3 64.7 116.2 65.8 116.8 66.7 117.3 67.4 117.8 68.2 118.3 69 118.7 69.8 119.2 70.8 119.7 71.8 120 72.8 120.3 73.8 120.4 74.8 120.3 75.8 119.9 76.8 119.3 77.5 118.3 78.3 117.3 78.7 116.3 79.1 115.3 79.4 114.3 79.6 113.3 79.7 112.3 79.9 111.3 80 110.3 80.1 109.3 80.1 108.3 80.2 107.3 80.2 106.3 80.3 105.3 80.3Z"/><path stroke="#00b7ff" d="M105.8 79.8 104.8 79.9 103.8 79.9 102.8 79.9 101.8 79.9 100.8 79.9 99.8 79.9 98.8 79.9 97.8 79.9 96.8 79.9 95.8 79.8 94.9 79.8 93.8 79.7 92.8 79.7 91.8 79.6 90.8 79.5 89.8 79.3 88.8 79.2 87.8 79 86.8 78.7 85.8 78.4 84.8 77.9 83.9 77.3 83.3 76.7 82.8 75.9 82.5 74.8 82.5 73.8 82.6 72.8 82.9 71.8 83.3 70.8 83.7 69.8 84.2 68.8 84.7 67.8 85.3 66.9 85.8 66.1 86.3 65.5 86.8 64.8 87.7 63.8 88.3 63.2 89.3 62.3 90 61.8 90.7 61.3 91.6 60.8 92.3 60.4 93.3 60 94.3 59.6 95.3 59.3 96.3 59.1 97.3 58.9 98.3 58.7 99.3 58.7 100.3 58.6 101.3 58.6 102.3 58.7 103.3 58.8 104.3 58.9 105.3 59.1 106.3 59.4 107.3 59.7 108.3 60.1 109.3 60.6 110.3 61.1 111.3 61.8 112 62.3 112.8 62.9 113.7 63.8 114.3 64.4 115.1 65.3 115.8 66.3 116.3 67 116.8 67.8 117.3 68.6 117.8 69.6 118.1 70.3 118.6 71.3 118.8 72.1 119.1 73.3 119.1 74.3 119 75.3 118.5 76.3 117.8 77.1 116.8 77.8 115.8 78.3 114.8 78.6 113.8 78.9 112.8 79.1 111.8 79.3 110.8 79.4 109.8 79.5 108.8 79.6 107.8 79.7 106.8 79.8 105.8 79.8Z"/><path stroke="#00e3ff" d="M106.3 79.3 105.3 79.4 104.3 79.4 103.3 79.5 102.3 79.5 101.3 79.5 100.3 79.5 99.3 79.5 98.3 79.5 97.3 79.4 96.3 79.4 95.3 79.3 94.3 79.3 93.3 79.2 92.3 79.1 91.3 79 90.3 78.8 89.3 78.6 88.3 78.4 87.3 78 86.3 77.6 85.3 77 84.5 76.3 83.9 75.3 83.6 74.3 83.5 73.3 83.7 72.3 83.9 71.3 84.2 70.3 84.7 69.3 85.1 68.3 85.7 67.3 86.3 66.4 86.8 65.7 87.3 65.1 88 64.3 88.8 63.5 89.5 62.8 90.2 62.3 90.9 61.8 91.7 61.3 92.6 60.8 93.8 60.3 94.8 59.9 95.8 59.6 96.8 59.4 97.8 59.3 98.8 59.1 99.8 59.1 100.8 59.1 101.8 59.1 102.8 59.2 103.8 59.3 104.8 59.5 105.8 59.7 106.8 60 107.8 60.4 108.7 60.8 109.6 61.3 110.5 61.8 111.2 62.3 111.8 62.8 112.8 63.6 113.5 64.3 114.3 65.2 114.8 65.9 115.3 66.5 115.8 67.3 116.3 68.1 116.8 69.1 117.3 70.2 117.7 71.3 117.9 72.3 118 73.3 118 74.3 117.7 75.3 117 76.3 116.3 76.9 115.3 77.5 114.3 78 113.3 78.3 112.3 78.5 111.3 78.7 110.3 78.9 109.3 79 108.3 79.2 107.3 79.2 106.3 79.3Z"/><path stroke="#11ffee" d="M106.8 78.8 105.8 78.9 104.8 78.9 103.8 79 102.8 79 101.8 79.1 100.8 79.1 99.8 79.1 98.8 79 97.8 79 96.8 79 95.8 78.9 94.8 78.8 93.8 78.7 92.8 78.6 91.8 78.5 90.9 78.3 89.8 78.1 88.9 77.8 87.8 77.4 86.8 76.9 86 76.3 85.3 75.6 84.8 74.8 84.6 73.8 84.5 72.8 84.6 71.8 84.8 70.9 85.2 69.8 85.6 68.8 86.1 67.8 86.7 66.8 87.3 65.9 87.8 65.3 88.7 64.3 89.3 63.7 90.3 62.8 91 62.3 91.8 61.8 92.7 61.3 93.8 60.8 94.8 60.4 95.8 60.1 96.8 59.9 97.8 59.7 98.8 59.6 99.8 59.5 100.8 59.5 101.8 59.5 102.8 59.6 103.8 59.7 104.8 59.9 105.8 60.2 106.8 60.5 107.8 60.9 108.6 61.3 109.5 61.8 110.3 62.3 111 62.8 111.7 63.3 112.3 63.9 113.2 64.8 113.8 65.5 114.3 66.1 114.8 66.8 115.3 67.6 115.8 68.5 116.2 69.3 116.6 70.3 116.8 71.1 117 72.3 117 73.3 116.9 74.3 116.4 75.3 115.8 76 114.8 76.8 113.8 77.3 112.8 77.7 111.8 78 110.8 78.2 109.8 78.4 108.8 78.6 107.8 78.7 106.8 78.8 106.8 78.8Z"/><path stroke="#3dffc2" d="M106.8 78.3 105.8 78.4 104.8 78.5 103.8 78.6 102.8 78.6 101.8 78.6 100.8 78.6 99.8 78.6 98.8 78.6 97.8 78.6 96.8 78.5 95.8 78.4 94.8 78.3 93.8 78.2 92.8 78.1 91.8 77.9 90.8 77.7 89.8 77.4 88.8 77 87.8 76.5 86.8 75.8 86 74.8 85.6 73.8 85.4 72.8 85.4 71.8 85.6 70.8 85.9 69.8 86.3 68.8 86.8 67.8 87.3 66.9 87.8 66.2 88.3 65.5 88.9 64.8 89.8 63.9 90.5 63.3 91.1 62.8 91.9 62.3 92.7 61.8 93.8 61.3 94.8 60.9 95.8 60.6 96.8 60.3 97.8 60.1 98.8 60 99.8 59.9 100.8 59.9 101.8 60 102.8 60 103.8 60.2 104.8 60.4 105.8 60.7 106.8 61 107.8 61.4 108.6 61.8 109.3 62.2 110.2 62.8 110.9 63.3 111.8 64.1 112.5 64.8 113.3 65.7 113.8 66.4 114.3 67.1 114.7 67.8 115.2 68.8 115.6 69.8 115.9 70.8 116.1 71.8 116.1 72.8 116 73.8 115.5 74.8 114.8 75.7 114 76.3 113.1 76.8 112.3 77.1 111.3 77.5 110.3 77.7 109.3 78 108.3 78.1 107.3 78.3 106.8 78.3Z"/><path stroke="#69ff96" d="M106.8 77.8 105.8 78 104.8 78 103.8 78.1 102.8 78.2 101.8 78.2 100.8 78.2 99.8 78.2 98.8 78.2 97.8 78.1 96.8 78.1 95.8 78 94.8 77.9 93.8 77.7 92.8 77.5 91.8 77.3 90.8 77 89.8 76.7 89 76.3 88.3 75.9 87.6 75.3 86.8 74.3 86.4 73.3 86.2 72.3 86.3 71.3 86.5 70.3 86.8 69.3 87.2 68.3 87.7 67.3 88.3 66.4 88.8 65.7 89.6 64.8 90.3 64.1 91.3 63.3 92 62.8 92.8 62.3 93.8 61.8 94.8 61.4 95.8 61 96.7 60.8 97.8 60.6 98.8 60.4 99.8 60.4 100.8 60.3 101.8 60.4 102.8 60.5 103.8 60.6 104.6 60.8 105.8 61.1 106.8 61.5 107.8 61.9 108.5 62.3 109.3 62.8 110.1 63.3 110.7 63.8 111.8 64.8 112.7 65.8 113.3 66.6 113.7 67.3 114.3 68.3 114.7 69.3 115.1 70.3 115.2 71.3 115.3 72.3 115.1 73.3 114.8 74.1 114.4 74.8 113.8 75.4 112.8 76.1 111.8 76.6 110.8 77 109.8 77.3 108.8 77.5 107.8 77.7 106.8 77.8Z"/><path stroke="#96ff69" d="M106.8 77.3 105.8 77.5 104.8 77.6 103.8 77.7 102.8 77.7 101.8 77.8 100.8 77.8 99.8 77.8 98.8 77.7 97.8 77.7 96.8 77.6 95.8 77.5 94.8 77.4 93.8 77.2 92.8 77 91.8 76.7 90.8 76.4 89.8 75.9 88.8 75.3 87.8 74.3 87.3 73.3 87.1 72.3 87 71.3 87.2 70.3 87.5 69.3 87.8 68.4 88.3 67.5 88.8 66.7 89.3 66 89.9 65.3 90.8 64.4 91.5 63.8 92.1 63.3 92.8 62.9 93.8 62.3 94.8 61.9 95.8 61.5 96.8 61.2 97.8 61 98.8 60.9 99.8 60.8 100.8 60.8 101.8 60.8 102.8 60.9 103.8 61.1 104.8 61.3 105.8 61.6 106.8 62 107.8 62.4 108.8 63 109.8 63.7 110.5 64.3 111.3 65 112 65.8 112.7 66.8 113.3 67.7 113.8 68.7 114.2 69.8 114.4 70.8 114.5 71.8 114.3 72.8 113.9 73.8 113.3 74.7 112.6 75.3 111.8 75.8 110.8 76.3 109.8 76.7 108.8 76.9 107.8 77.2 106.8 77.3Z"/><path stroke="#c2ff3d" d="M102.3 77.3 101.3 77.3 100.3 77.3 99.3 77.3 98.3 77.3 97.3 77.2 96.3 77.1 95.3 77 94.4 76.8 93.3 76.5 92.4 76.3 91.3 75.9 90.3 75.4 89.5 74.8 88.8 74.1 88.3 73.4 87.9 72.3 87.8 71.3 87.9 70.3 88.2 69.3 88.5 68.3 89.1 67.3 89.7 66.3 90.3 65.6 91.1 64.8 91.8 64.2 92.8 63.4 93.8 62.8 94.8 62.4 95.8 62 96.8 61.7 97.8 61.5 98.8 61.3 99.8 61.2 100.8 61.2 101.8 61.3 102.8 61.4 103.8 61.5 104.8 61.8 105.8 62.1 106.8 62.5 107.8 63 108.8 63.6 109.7 64.3 110.8 65.3 111.7 66.3 112.3 67.2 112.8 68.1 113.3 69.3 113.6 70.3 113.7 71.3 113.6 72.3 113.3 73.1 112.8 74 112 74.8 111.3 75.3 110.3 75.8 109.3 76.2 108.3 76.5 107.3 76.7 106.3 76.9 105.3 77.1 104.3 77.2 103.3 77.3 102.4 77.3 102.3 77.3Z"/><path stroke="#eeff11" d="M102.8 76.8 101.8 76.9 100.8 76.9 99.8 76.9 98.8 76.8 97.8 76.8 96.8 76.7 95.8 76.5 94.8 76.4 93.8 76.1 92.8 75.8 91.8 75.4 90.8 74.9 90.1 74.3 89.3 73.4 88.8 72.4 88.6 71.3 88.6 70.3 88.9 69.3 89.2 68.3 89.8 67.3 90.3 66.5 90.8 65.9 91.8 64.8 92.4 64.3 93.1 63.8 94 63.3 94.8 62.9 95.8 62.5 96.8 62.2 97.8 61.9 98.8 61.8 99.8 61.7 100.8 61.7 101.8 61.7 102.7 61.8 103.8 62 104.8 62.2 105.8 62.6 106.8 63 107.8 63.5 108.8 64.2 109.5 64.8 110.3 65.5 111 66.3 111.7 67.3 112.2 68.3 112.6 69.3 112.8 70.2 112.9 71.3 112.7 72.3 112.3 73.2 111.8 73.9 110.8 74.8 109.9 75.3 108.8 75.7 107.8 76.1 106.8 76.3 105.8 76.5 104.8 76.6 103.8 76.8 102.8 76.8Z"/><path stroke="#ffe300" d="M103.3 76.3 102.3 76.4 101.3 76.4 100.3 76.4 99.3 76.4 98.3 76.3 97.3 76.2 96.3 76.1 95.3 75.9 94.3 75.7 93.3 75.4 92.3 74.9 91.3 74.3 90.6 73.8 89.9 72.8 89.5 71.8 89.4 70.8 89.5 69.8 89.7 68.8 90.2 67.8 90.8 66.8 91.3 66.1 92.1 65.3 92.8 64.7 93.8 64 94.8 63.4 95.8 63 96.8 62.6 97.8 62.4 98.8 62.2 99.8 62.1 100.8 62.1 101.8 62.2 102.8 62.3 103.8 62.5 104.8 62.7 105.8 63.1 106.8 63.6 107.8 64.1 108.7 64.8 109.8 65.8 110.6 66.8 111.3 67.8 111.7 68.8 112 69.8 112.1 70.8 112 71.8 111.6 72.8 110.8 73.8 109.8 74.6 108.8 75.1 107.8 75.5 106.8 75.8 105.8 76 104.8 76.2 103.8 76.3 103.3 76.3Z"/><path stroke="#ffb700" d="M103.3 75.8 102.3 75.9 101.3 76 100.3 76 99.3 75.9 98.3 75.9 97.3 75.8 96.3 75.6 95.3 75.4 94.3 75.1 93.5 74.8 92.8 74.5 91.8 73.8 90.8 72.8 90.3 71.8 90.2 70.8 90.2 69.8 90.5 68.8 90.8 68 91.3 67.1 91.8 66.4 92.4 65.8 93.3 65 94.3 64.3 95.2 63.8 96.3 63.3 97.3 63 98.2 62.8 99.3 62.6 100.3 62.6 101.3 62.6 102.3 62.7 103.1 62.8 104.3 63.1 105.3 63.4 106.2 63.8 107.1 64.3 107.8 64.8 108.5 65.3 109.3 66.1 109.9 66.8 110.5 67.8 111 68.8 111.2 69.8 111.3 70.8 111.1 71.8 110.6 72.8 109.8 73.7 108.9 74.3 107.9 74.8 106.8 75.2 105.8 75.4 104.8 75.6 103.8 75.8 103.3 75.8Z"/><path stroke="#ff8b00" d="M103.3 75.3 102.3 75.4 101.3 75.5 100.3 75.5 99.3 75.5 98.3 75.4 97.3 75.2 96.3 75 95.3 74.8 94.3 74.4 93.3 74 92.3 73.3 91.5 72.3 91.1 71.3 90.9 70.3 91.1 69.3 91.4 68.3 91.8 67.5 92.3 66.8 93.2 65.8 94.3 64.9 95.3 64.3 96.3 63.9 97.3 63.5 98.2 63.3 99.3 63.1 100.3 63.1 101.3 63.1 102.3 63.2 103.1 63.3 104.3 63.6 105.3 64 106.3 64.5 107.3 65.1 108.2 65.8 108.8 66.4 109.3 67.1 109.8 67.8 110.2 68.8 110.5 69.8 110.5 70.8 110.2 71.8 109.8 72.5 109.1 73.3 108.4 73.8 107.5 74.3 106.3 74.7 105.3 75 104.3 75.2 103.3 75.3Z"/><path stroke="#ff5e00" d="M103.3 74.8 102.3 74.9 101.3 75 100.3 75 99.3 74.9 98.3 74.8 97.3 74.7 96.3 74.5 95.3 74.2 94.4 73.8 93.6 73.3 92.8 72.6 92.3 72 91.8 70.8 91.8 69.8 92 68.8 92.3 68 92.7 67.3 93.3 66.6 94.1 65.8 94.8 65.3 95.6 64.8 96.3 64.4 97.3 64.1 98.3 63.8 99.3 63.6 100.3 63.6 101.3 63.6 102.3 63.7 103.3 63.9 104.3 64.2 105.3 64.6 106.3 65.1 107.3 65.8 108.3 66.8 108.8 67.5 109.2 68.3 109.6 69.3 109.7 70.3 109.5 71.3 108.9 72.3 108.3 72.9 107.3 73.6 106.3 74.1 105.3 74.4 104.3 74.7 103.4 74.8 103.3 74.8Z"/><path stroke="#ff3200" d="M102.8 74.3 101.8 74.4 100.8 74.4 99.8 74.4 98.8 74.3 97.8 74.2 96.8 74 95.8 73.7 95 73.3 94.3 72.9 93.6 72.3 92.9 71.3 92.6 70.3 92.7 69.3 93 68.3 93.6 67.3 94.3 66.5 95.1 65.8 95.8 65.4 96.8 64.9 97.8 64.5 98.6 64.3 99.8 64.1 100.8 64.1 101.8 64.2 102.7 64.3 103.8 64.6 104.8 65 105.8 65.5 106.8 66.2 107.4 66.8 108.1 67.8 108.6 68.8 108.8 69.8 108.7 70.8 108.3 71.7 107.8 72.3 106.8 73.1 105.8 73.6 104.8 73.9 103.8 74.2 103 74.3 102.8 74.3Z"/><path stroke="#ff0600" d="M101.8 73.8 100.8 73.9 99.8 73.8 98.8 73.7 97.8 73.6 96.8 73.3 95.8 72.9 94.9 72.3 94 71.3 93.6 70.3 93.6 69.3 93.9 68.3 94.5 67.3 95.3 66.5 96.3 65.8 97.3 65.3 98.3 65 99.1 64.8 100.3 64.7 101.3 64.7 102.2 64.8 103.3 65.1 104.3 65.4 105.1 65.8 105.8 66.3 106.8 67.2 107.3 67.9 107.7 68.8 107.9 69.8 107.7 70.8 107.3 71.5 106.5 72.3 105.8 72.8 104.8 73.2 103.8 73.5 102.8 73.7 101.8 73.8Z"/><path stroke="#d80000" d="M103.3 72.9 102.3 73.1 101.3 73.2 100.3 73.2 99.3 73.1 98.3 73 97.3 72.7 96.4 72.3 95.7 71.8 94.8 70.8 94.6 69.8 94.7 68.8 95.2 67.8 95.8 67.1 96.8 66.3 97.8 65.9 98.8 65.5 99.8 65.4 100.8 65.3 101.8 65.4 102.8 65.6 103.8 66 104.8 66.5 105.8 67.3 106.3 68 106.7 68.8 106.8 69.8 106.6 70.8 105.8 71.7 105 72.3 103.8 72.8 103.3 72.9Z"/><path stroke="#ac0000" d="M102.3 72.3 101.3 72.5 100.3 72.5 99.3 72.4 98.3 72.1 97.4 71.8 96.7 71.3 95.9 70.3 95.7 69.3 96.1 68.3 96.8 67.4 97.7 66.8 98.8 66.3 99.8 66.1 100.8 66.1 101.8 66.2 102.8 66.4 103.7 66.8 104.4 67.3 105.3 68.3 105.6 69.3 105.5 70.3 104.8 71.3 104 71.8 102.8 72.2 102.3 72.3Z"/><path stroke="#800000" d="M101.8 71.4 100.8 71.5 99.8 71.4 98.8 71.2 98.1 70.8 97.3 69.9 97.3 68.9 97.8 68.1 98.8 67.4 99.8 67.1 100.8 67 101.8 67.2 102.8 67.5 103.8 68.3 104.2 69.3 103.9 70.3 102.8 71.1 101.8 71.4Z"/></g>
<g clip-path="url(#clip_aB)" fill="none" stroke-width="0.55" stroke-linejoin="round"><path stroke="#000080" d="M226.2 10 225.5 10.7 224.5 11.3 223.5 11.7 222.6 12 221.5 12.2 220.5 12.4 219.5 12.4 218.5 12.3 217.7 12 217 11.5 216.7 10.5 216.8 10M247.3 10 246.6 11 246 11.6 245 12.4 244.2 13 243.5 13.4 242.5 13.9 241.5 14.2 240.5 14.4 239.5 14.4 238.6 14 238.4 13 239 12.2 239.8 11.5 240.7 11 241.5 10.6 242.5 10.3 243.4 10M208.5 61.4 209.4 60.5 210 59.6 210.5 58.9 211 58 211.5 57.1 212 56.2 212.5 55.3 212.9 54.5 213.5 53.6 214 52.7 214.4 52 215 51.1 216 50 216.7 49.5 217.5 49 218.5 48.6 219.5 48.2 220.3 48 221.5 47.7 222.5 47.5 223.5 47.3 224.5 47.1 225.4 47 226.5 46.8 227.5 46.7 228.5 46.6 229.5 46.6 230.5 46.6 231.3 47 231.6 48 231.4 49 231.1 50 230.6 51 230.1 52 229.7 53 229.2 54 228.8 55 228.5 55.9 228.1 57 227.9 58 227.7 59 227.7 60 228 60.9 229 61.1 230 60.5 230.9 59.5 231.5 58.6 232 57.7 232.5 56.8 232.9 56 233.5 55.1 234 54.3 234.5 53.7 235.1 53 236 52.1 236.8 51.5 237.5 51 238.5 50.5 239.5 50 240.5 49.6 241.5 49.1 242.5 48.8 243.5 48.4 244.4 48 245.5 47.6 246.5 47.1 247.5 46.6 248.5 46 249.3 45.5 249.9 45 250.5 44.4 251 43.8 251.4 43 251.7 42 251.9 41 252.1 40 252.5 39.2 253 38.6 253.7 38 254.5 37.5 255.5 37 256.5 36.6 257.5 36.3 258.5 36.1 259.5 35.8 260.5 35.6 261.5 35.4 262.5 35.3 263.5 35.1 264.5 35 265.5 34.8 266.5 34.6 267.5 34.4 268.5 34.1 269.5 33.5 268.5 32.9 267.5 32.7 266.5 32.5 265.5 32.4 264.5 32.4 263.5 32.4 262.5 32.4 261.5 32.3 260.5 32.3 259.5 32.3 258.5 32.3 257.5 32.2 256.5 32.1 255.5 32 254.5 31.7 253.5 31.3 252.5 30.6 252.2 29.5 252.5 28.6 253.1 28 253.7 27.5 254.5 27 255.5 26.5 256.5 26.1 257.5 25.7 258.5 25.3 259.4 25 260.5 24.6 261.5 24.1 261.5 23.1 260.5 22.6 259.5 22.2 258.5 21.9 257.5 21.6 256.5 21.2 255.5 20.7 254.6 20 254.6 19 255.5 18.1 256.4 17.5 257.4 17 258.5 16.5 259.5 16 260.4 15.5 261 14.8 260.5 13.5 259.5 12.6 258.8 12 258 11.3 257.1 10.5 256.7 10M319.4 10 319.4 11 319 12 318.5 13 318.4 14 319.5 14.7 320.5 15.1 321.5 15.5 322.5 15.8 323.5 16.2 324.5 16.5 325.5 16.9 326.5 17.3 327.5 17.6 328.4 18 329.5 18.4 330.5 18.8 331.5 19.2 332.5 19.6 333.5 20 334.5 20.4 335.5 20.9 336.5 21.4 337.4 22 338.1 22.5 339 23.2 339.8 24 340.5 24.8 341.1 25.5 341.9 26.5 342.5 27.4 343 28.1 343.5 29 343.6 30 343 30.5 342 30.8 341 30.9 340 30.8 339 30.7 338 30.5 337 30.3 336 30.1 335 29.8 334.2 29.5 333 29 332 28.6 331 28 330.2 27.5 329.5 26.9 328.6 26 328 25.3 327.5 24.6 327 24 326 23.1 325.2 22.5 324.5 22.1 323.5 21.7 322.5 21.4 321.5 21.2 320.5 21.2 319.5 21.1 318.5 21.2 317.5 21.4 316.5 21.7 315.5 22.4 315.3 23.5 316 24.3 316.9 25 317.8 25.5 318.5 25.9 319.5 26.5 320.3 27 321 27.5 321.6 28 322.5 28.9 323 29.9 323 31 322.5 31.9 321.5 32.5 320.5 32.7 319.5 32.8 318.5 32.9 317.5 32.9 316.5 32.9 315.5 32.8 314.5 32.8 313.5 32.7 312.5 32.7 311.5 32.6 310.5 32.6 309.5 32.6 308.5 32.6 307.5 32.6 306.5 32.7 305.5 32.9 304.8 33.5 305.5 34.1 306.5 34.4 307.5 34.7 308.5 34.9 309.5 35.1 310.5 35.3 311.4 35.5 312.5 35.7 313.5 35.9 314.5 36.1 315.5 36.4 316.5 36.6 317.5 36.9 318.5 37.2 319.5 37.6 320.3 38 321 38.5 321.5 39.1 321.8 40 321.9 41 321.8 42 321.8 43 321.9 44 322.5 44.9 323.1 45.5 323.9 46 325 46.5 326 46.8 327 47.1 328 47.4 329 47.6 330 47.8 331 48 332 48.2 333 48.3 333.9 48.5 335 48.7 336 48.9 337 49.2 338 49.5 339 49.8 340 50.3 341 50.9 341.8 51.5 342.5 52.1 343.3 53 344 53.9 344.5 54.6 345 55.2 345.5 55.9 346.1 56.5 347 57.3 348 57.5 348.8 57 349.3 56 349.5 55 349.5 54 349.4 53 349.1 52 348.7 51 348.2 50 347.8 49 348.5 48.1 349.5 47.9 350.5 47.8 351.5 47.8 352.5 47.9 353.5 48 354.5 48.1 355.5 48.3 356.5 48.5 357.5 48.7 358.3 49 359.3 49.5 360 49.9 360.6 50.5 361.4 51.5 362 52.4 362.5 53.1 363 53.8 363.5 54.5 364 55.1 364.5 55.8 365 56.5 365.5 57.2 366 57.9 366.5 58.6 367 59.2 367.6 60 368.5 61 369 61.5M308.4 16 309.5 15.8 310.4 15.5 310 14.6 309 14.4 308 14.2 307 14.1 306 13.9 305 13.9 304 13.8 303 13.7 302 13.7 301 13.7 300 13.6 299 13.6 298 13.6 297 13.6 296 13.6 295 13.6 294 13.6 293 13.6 292 13.6 291 13.6 290 13.6 289 13.6 288 13.6 287 13.6 286 13.7 285 13.7 284 13.7 283 13.7 282 13.8 281 13.9 280 14 279 14.1 278 14.2 277 14.4 276 14.8 276.4 15.5 277.5 15.6 278.5 15.7 279.5 15.8 280.5 15.8 281.5 15.8 282.5 15.7 283.5 15.7 284.5 15.7 285.5 15.6 286.5 15.6 287.5 15.6 288.5 15.6 289.5 15.5 290.5 15.5 291.5 15.5 292.5 15.6 293.5 15.6 294.5 15.6 295.5 15.7 296.5 15.7 297.5 15.8 298.5 15.8 299.5 15.9 300.5 16 301.5 16 302.5 16.1 303.5 16.1 304.5 16.1 305.5 16.1 306.5 16.1 307.5 16.1 308.4 16ZM293.1 25.5 294 25.3 295 25 294 24.3 293 24.1 292 23.9 291 23.8 290 23.7 289 23.7 288 23.6 287 23.6 286 23.6 285 23.6 284 23.6 283 23.6 282 23.6 281 23.6 280 23.6 279 23.6 278 23.7 277 23.8 276 23.9 275 24 274.1 24.5 275 25 276 25.2 277 25.4 278 25.5 279 25.5 280 25.6 281 25.6 282 25.6 283 25.6 284 25.6 285 25.6 286 25.6 287 25.6 288 25.6 289 25.6 290 25.6 291 25.6 292 25.6 293 25.5 293.1 25.5ZM369 41.6 368 41.1 367 40.6 366.1 40 365.5 39.5 364.7 38.5 364.4 37.5 364.9 36.5 365.5 35.8 366.5 35.3 367.5 35.1 368.5 35 369 35M340.5 44.6 339.5 44.8 338.5 44.9 337.5 44.8 336.5 44.6 335.5 44.4 334.5 44.1 333.5 43.8 332.5 43.3 331.5 42.7 330.5 42 329.9 41.5 329 40.7 328.2 40 327.5 39.1 327.1 38 328 37 329 36.8 330 36.7 331 36.8 332 36.9 333 37.2 334 37.4 335 37.8 336 38.2 337 38.6 338 39.2 339 39.9 339.7 40.5 340.5 41.5 341 42.4 341.3 43.5 341 44.3 340.5 44.6ZM221 40.1 220 40.1 219.2 40 218.5 39.5 219 38.5 220 38 221 37.9 222 37.9 223 38.5 222.5 39.5 221.5 40 221 40.1ZM237 44.1 236 44.2 235 44 234.6 43 234.9 42 235.5 41.1 236.5 40.1 237.3 39.5 238.3 39 239.5 38.6 240.5 38.3 241.5 38.3 242.5 38.4 243.4 39 243.5 39.8 243 40.8 242.3 41.5 241.5 42.2 240.5 42.8 239.5 43.3 238.5 43.7 237.5 43.9 237 44.1ZM270.6 45.5 271.5 45.4 272.5 45.2 273.5 44.9 274.5 44.6 275.5 44.1 276.2 43.5 275.5 43 274.5 42.9 273.5 43 272.5 43.1 271.5 43.4 270.5 43.7 269.6 44 268.6 44.5 268.3 45.5 269.5 45.6 270.5 45.5 270.6 45.5ZM307.3 45.5 307 44.7 306 44.2 305 43.8 304 43.5 303 43.3 302 43.1 301.1 43 300 43 299 43.1 298.8 44 299.5 44.4 300.5 44.7 301.5 45 302.5 45.2 303.5 45.4 304.5 45.5 305.5 45.6 306.5 45.6 307.3 45.5ZM274.5 59 275.4 58.5 276.1 58 276.9 57.5 277.6 57 278.4 56.5 279.2 56 280 55.5 280.7 55 279.5 54.8 278.5 55.2 277.7 55.5 277 55.9 276.1 56.5 275 57.5 274.2 58.5 274.5 59ZM302 59 301.5 58 301 57.4 300.1 56.5 299.4 56 298.6 55.5 297.5 55 296.5 54.7 295.6 55 296.3 55.5 297 55.9 297.8 56.5 298.5 57 299.2 57.5 299.9 58 300.6 58.5 301.5 59 302 59ZM328.6 69.5 329.2 68.5 329.2 67.5 329 66.5 328.8 65.5 328.5 64.7 328.1 63.5 327.7 62.5 327.3 61.5 327 60.7 326.6 60 326 59.2 325.8 60 325.8 61 325.8 62 325.8 63 325.8 64 325.9 65 326 66 326.1 67 326.3 68 326.8 69 327.5 69.6 328.5 69.6 328.6 69.5ZM247.3 70.5 248 69.6 248.3 68.5 248.4 67.5 248.5 66.5 248.5 65.5 248.5 64.5 248.3 63.5 247.5 63.1 246.6 64 246 64.8 245.5 65.6 245 66.5 244.6 67.5 244.3 68.5 244.4 69.5 245 70.4 246 70.8 247 70.7 247.3 70.5ZM236.2 91 237 90.7 238 90.2 238.8 89.5 239.3 88.5 239.6 87.5 239.7 86.5 239.7 85.5 239.6 84.5 239 83.5 238 82.6 237.1 82 236.1 81.5 235 81 234 80.7 233 80.4 232 80.2 231 80 230 79.8 229 79.7 228 79.5 227 79.4 226 79.3 225 79.1 224 79 223 79 222 78.9 221 79 220 79.1 219 79.4 218 79.8 217 80.2 216 80.8 215 81.4 214 81.9 213.1 82.5 212.4 83 211.6 84 212.4 84.5 213.5 84.6 214.5 84.6 215.5 84.6 216.5 84.6 217.5 84.5 218.5 84.5 219.5 84.5 220.5 84.5 221.5 84.6 222.5 84.6 223.5 84.7 224.5 84.9 225.5 85.1 226.5 85.4 227.5 85.7 228.5 86.3 229.5 87 230.4 88 231 88.8 231.5 89.5 232 90.1 233 90.9 234 91.3 235 91.3 236 91.1 236.2 91ZM369 81.7 368 81.6 367 81.4 366 81.1 365 80.9 364 80.7 363.2 80.5 362 80.3 361 80.1 360 79.9 359 79.8 358 79.7 357 79.7 356 79.6 355 79.6 354 79.5 353 79.5 352 79.4 351 79.3 350 79.2 349 79 348 78.9 347 78.9 346 78.8 345 78.8 344 78.9 343.2 79 342 79.4 341.1 80 340.5 80.6 339.5 81.5 338.5 82.3 337.5 82.8 336.5 83.3 335.5 83.7 334.5 84.3 333.7 85 333 86 332.5 86.9 332 87.6 331 88.5 330.1 89 329 89.4 328 89.6 327 89.8 326 89.9 325 90 324 90 323 90.1 322 90.2 321 90.3 320 90.4 319 90.6 318 91 318.5 91.7 319.5 92.1 320.5 92.4 321.5 92.6 322.5 92.8 323.4 93 324.5 93.2 325.5 93.4 326.5 93.6 327.5 93.9 328.5 94.1 329.5 94.4 330.5 94.9 331.4 95.5 331.8 96.5 331.5 97.5 331 98.2 330 99 329.1 99.5 328 100 327 100.3 326 100.6 325 100.7 324 100.9 323 100.9 322 101 321 101 320 101 319 101 318 100.9 317 100.9 316 100.8 315 100.8 314 100.8 313 100.7 312 100.7 311 100.7 310 100.7 309 100.7 308 100.8 307 100.9 306 101 306.5 101.9 307.5 102.1 308.5 102.3 309.5 102.4 310.5 102.5 311.5 102.6 312.5 102.7 313.5 102.8 314.5 102.9 315.5 102.9 316.5 103 317.5 103 318.5 103.1 319.5 103.1 320.5 103.2 321.5 103.3 322.5 103.3 323.5 103.4 324.5 103.5 325.5 103.7 326.5 103.9 327.5 104.2 328.4 104.5 329.3 105 330 105.6 330.4 106.5 330 107.3 329 108 328 108.4 327 108.7 326.1 109 325 109.3 324.2 109.5 323 109.8 322 110 321 110.2 320 110.5 319 110.7 318 110.9 317 111.2 316 111.5 315.3 112 316.5 112.4 317.5 112.6 318.5 112.8 319.5 113 320.5 113.1 321.5 113.3 322.5 113.5 323.5 113.7 324.5 113.9 325.5 114.2 326.4 114.5 327.5 115 328.1 115.5 328.6 116.5 328.1 117.5 327 118.3 326 118.7 325 119.1 324 119.5 323 119.8 322 120.1 321 120.4 320 120.9 320.5 121.7 321.5 122.1 322.5 122.3 323.5 122.6 324.5 122.8 325.5 123.1 326.5 123.4 327.5 123.7 328.5 124.1 329.3 124.5 330 125 330.8 126 330.9 127M369 90.4 368 90.1 367 89.9 366 89.7 365 89.5 364 89.4 363 89.2 362 89.1 361 89.1 360 89 359 88.9 358 88.8 357 88.7 356 88.6 355 88.5 354 88.3 353 88 352.2 87.5 352.5 86.5 353.3 86 354.5 85.6 355.5 85.4 356.5 85.2 357.5 85 358.5 84.9 359.5 84.9 360.5 84.9 361.5 84.8 362.5 84.9 363.5 84.9 364.5 84.9 365.5 85 366.5 85.1 367.5 85.2 368.5 85.3 369 85.4M245.8 127 246.4 126 247.5 125.2 248.5 124.7 249.5 124.4 250.5 124.1 251.5 123.8 252.5 123.6 253.5 123.5 254.5 123.3 255.5 123.2 256.5 123 257.5 122.9 258.5 122.8 259.5 122.6 260.5 122.5 261.5 122.3 262.5 122.2 263.4 122 264.4 121.5 263.5 121 262.5 120.8 261.5 120.6 260.5 120.5 259.5 120.3 258.5 120.2 257.5 120.2 256.5 120.1 255.5 120 254.5 120 253.5 119.9 252.5 119.9 251.5 119.9 250.5 119.8 249.5 119.7 248.5 119.7 247.5 119.6 246.5 119.4 245.5 119.2 244.7 119 243.5 118.5 242.6 118 242 117.4 241.5 116.5 241.4 115.5 241.8 114.5 242.5 113.8 243.5 113.2 244.5 112.9 245.5 112.6 246.5 112.3 247.5 112 248.5 111.7 249.5 111.3 249.8 110.5 249.2 110 248.3 109.5 247.5 109.1 246.5 108.5 245.8 108 245.1 107 245.1 106 245.9 105 246.5 104.5 247.4 104 248.5 103.6 249.5 103.2 250.5 103 251.5 102.8 252.5 102.7 253.5 102.7 254.5 102.7 255.5 102.8 256.5 102.8 257.5 102.9 258.5 102.9 259.5 102.9 260.5 102.9 261.5 102.8 262.5 102.8 263.5 102.8 264.5 102.7 265.5 102.6 266.5 102.5 267.5 102.4 268.5 102.3 269.5 102.1 270.5 101.9 271.5 101.5 270.7 101 269.5 100.8 268.5 100.8 267.5 100.7 266.5 100.7 265.5 100.7 264.5 100.8 263.5 100.8 262.5 100.9 261.5 101 260.5 101.1 259.5 101.2 258.5 101.3 257.5 101.4 256.5 101.5 255.5 101.6 254.5 101.7 253.5 101.8 252.5 101.9 251.5 101.8 250.5 101.7 249.5 101.4 248.5 101.1 247.5 100.7 246.5 100.2 245.5 99.6 244.7 99 244 98.4 243 97.5 242 96.5 241.3 96 240.5 95.6 239.5 95.2 238.5 94.9 237.5 94.7 236.5 94.4 235.5 94.1 234.5 93.7 233.5 93.4 232.5 93.1 231.5 93.1 230.5 93.1 229.5 93.2 228.5 93.3 227.5 93.5 226.5 93.6 225.5 93.7 224.5 93.8 223.5 93.9 222.5 94 221.5 94 220.5 93.7 219.6 93 218.9 92.5 218.2 92 217.3 91.5 216.5 91.1 215.5 90.5 214.5 90 213.5 89.5 212.5 89 211.5 88.5 210.5 88.1 209.5 87.6 208.5 87.1M253.9 93 255 92.8 256 92.7 257 92.5 258 92.3 259 92 260 91.6 259.5 90.8 258.5 90.6 257.5 90.5 256.5 90.5 255.7 90.5 254.5 90.6 253.5 90.6 252.5 90.7 251.5 90.8 250.5 91 249.5 91.1 248.5 91.3 247.5 91.6 246.5 92 245.7 92.5 246.5 93.3 247.5 93.5 248.5 93.5 249.5 93.4 250.5 93.4 251.5 93.3 252.5 93.2 253.5 93.1 253.9 93ZM369 98 368 98.2 367 98.3 366 98.4 365 98.5 364 98.5 363 98.5 362 98.5 361 98.4 360 98.3 359 98.1 358 97.9 357 97.7 356 97.2 355.2 96.5 356 95.7 357 95.4 358 95.2 359 95.1 360 95 361 95 362 94.9 363 94.9 364 94.9 365 94.8 366 94.8 367 94.7 368 94.5 369 94.3M208.5 94.8 209.5 94.8 210.5 94.8 211.5 94.8 212.5 94.8 213.5 94.8 214.5 94.8 215.5 94.8 216.5 94.7 217.5 94.7 218.5 94.7 219.5 94.9 219.6 96 218.9 96.5 218 96.9 217 97.2 216 97.4 215.2 97.5 214 97.6 213 97.7 212 97.7 211 97.7 210 97.6 209 97.6 208.5 97.6M208.5 105.2 209.3 105 210.5 104.7 211.3 104.5 212.5 104.2 213.5 104 214.5 103.8 215.5 103.6 216.5 103.4 217.5 103.3 218.5 103.2 219.5 103.1 220.5 103 221.5 103 222.5 103.1 223.5 103.2 224.5 103.4 225.5 103.7 226.3 104 227.2 104.5 227.9 105 228.5 105.8 228.8 106.5 228.6 107.5 228 108.1 227.2 108.5 226 108.8 225 109 224 109.2 223 109.3 222 109.4 221 109.4 220 109.5 219 109.5 218 109.5 217 109.5 216 109.4 215 109.4 214 109.3 213 109.3 212 109.1 211 109 210 108.9 209 108.7 208.5 108.6M369 108.8 368 108.7 367 108.6 366 108.5 365 108.4 364 108.3 363 108.3 362 108.2 361 108.1 360 108.1 359 108 358 107.9 357 107.7 356 107.3 356.5 106.3 357.5 105.9 358.5 105.7 359.5 105.4 360.5 105.2 361.5 104.9 362.5 104.7 363.4 104.5 364.5 104.3 365.5 104.1 366.5 103.9 367.5 103.7 368.5 103.6 369 103.6M303.4 112 302.5 111.5 301.5 111.4 300.5 111.3 299.5 111.2 298.5 111.1 297.5 111 296.7 111 295.5 111 294.5 110.9 293.5 110.9 292.5 110.9 291.5 110.9 290.5 110.9 289.5 110.9 288.5 110.9 287.5 110.9 286.5 110.9 285.5 110.9 284.5 110.9 283.5 110.9 282.5 110.9 281.5 110.9 280.5 110.9 279.5 110.9 278.5 110.9 277.5 110.9 276.5 111 275.5 111 274.5 111.1 273.5 111.1 272.5 111.2 271.5 111.3 270.5 111.5 271.5 112.1 272.5 112.2 273.5 112.2 274.5 112.2 275.5 112.2 276.5 112.2 277.5 112.2 278.5 112.2 279.5 112.1 280.5 112.1 281.5 112.1 282.5 112 283.5 112 284.5 112 285.5 112 286.5 112 287.5 112 288.5 112 289.5 112 290.5 112 291.5 112.1 292.5 112.1 293.5 112.1 294.5 112.2 295.5 112.2 296.5 112.2 297.5 112.2 298.5 112.2 299.5 112.2 300.5 112.2 301.5 112.1 302.5 112.1 303.4 112ZM359.5 118.1 358.5 118.2 357.5 118.4 356.5 118.4 355.5 118.5 354.5 118.4 353.5 118.3 352.5 118.1 351.5 117.7 350.5 117.1 350.1 116 350.5 115.3 351.5 114.7 352.5 114.4 353.5 114.3 354.5 114.3 355.5 114.3 356.5 114.4 357.5 114.5 358.5 114.7 359.5 114.9 360.5 115.2 361.5 115.5 362.5 116 362.5 116.8 361.5 117.5 360.5 117.8 359.5 118.1ZM355.9 127 355.6 126 356.5 125.4 357.5 125 358.5 124.9 359.5 124.8 360.5 124.9 361.5 125 362.5 125.2 363.5 125.5 364.5 126 364.9 127"/><path stroke="#0000ac" d="M308.5 10 307.5 10.8 306.5 11.2 305.5 11.4 304.5 11.5 303.5 11.6 302.5 11.7 301.5 11.7 300.5 11.8 299.5 11.8 298.5 11.9 297.5 11.9 296.5 11.9 295.5 11.9 294.5 12 293.5 12 292.5 12 291.5 12 290.5 12 289.5 12 288.5 12 287.5 12.1 286.5 12.1 285.5 12.1 284.5 12.1 283.5 12.1 282.5 12.2 281.5 12.2 280.5 12.2 279.5 12.3 278.5 12.3 277.5 12.3 276.5 12.4 275.5 12.4 274.5 12.4 273.5 12.4 272.5 12.4 271.5 12.4 270.5 12.3 269.5 12.2 268.6 12 267.5 11.6 266.5 11.1 266 10M304.5 22.5 303.5 22.6 302.5 22.7 301.5 22.7 300.5 22.6 299.5 22.6 298.5 22.5 297.5 22.5 296.5 22.4 295.5 22.3 294.5 22.3 293.5 22.2 292.5 22.2 291.5 22.1 290.5 22.1 289.5 22.1 288.5 22 287.6 22 286.5 22 285.5 21.9 284.5 21.9 283.5 21.8 282.5 21.8 281.5 21.7 280.5 21.7 279.5 21.6 278.5 21.5 277.5 21.4 276.5 21.3 275.5 21.1 274.6 21 273.5 20.7 272.7 20.5 271.7 20 272 19.2 273 18.8 274 18.5 275 18.4 276 18.2 277 18.1 278 18 279 17.9 280 17.8 281 17.7 282 17.6 283 17.5 284 17.4 285 17.4 286 17.3 287 17.3 288 17.2 289 17.2 290 17.2 291 17.2 292 17.2 293 17.2 294 17.3 295 17.3 296 17.4 296.9 17.5 298 17.6 299 17.7 300 17.9 300.9 18 302 18.2 303 18.4 304 18.6 305 18.9 306 19.4 306.8 20 306.9 21 306 21.9 305 22.4 304.5 22.5ZM311.5 110 310.5 110.1 309.5 110.2 308.5 110.2 307.5 110.3 306.5 110.3 305.5 110.3 304.5 110.3 303.5 110.3 302.5 110.2 301.5 110.2 300.5 110.2 299.5 110.2 298.5 110.2 297.5 110.1 296.5 110.1 295.5 110.1 294.5 110.1 293.5 110.1 292.5 110.1 291.5 110.1 290.5 110.1 289.5 110.1 288.5 110.1 287.5 110.1 286.5 110.1 285.5 110.1 284.5 110.1 283.5 110.1 282.5 110 281.5 110 280.5 110 279.5 110 278.5 110.1 277.5 110.1 276.5 110.1 275.5 110.1 274.5 110.1 273.5 110.1 272.5 110.1 271.5 110.1 270.5 110.1 269.5 110.2 268.5 110.2 267.5 110.2 266.5 110.2 265.5 110.2 264.5 110.1 263.5 110.1 262.5 110 261.5 109.9 260.5 109.8 259.5 109.6 258.5 109.3 257.5 109 256.5 108.6 255.5 108 254.8 107 255.3 106 256.2 105.5 257 105.2 258 104.9 259 104.7 260 104.5 261 104.3 262 104.1 262.9 104 264 103.9 265 103.7 266 103.6 266.8 103.5 268 103.4 269 103.2 270 103.1 271 103 272 102.8 273 102.7 273.9 102.5 275 102.3 276 102 277 101.6 276.5 100.8 275.7 100.5 274.5 100.3 273.5 100.1 272.5 100 271.5 99.9 270.5 99.9 269.5 99.8 268.5 99.8 267.5 99.8 266.5 99.7 265.5 99.7 264.5 99.7 263.5 99.8 262.5 99.8 261.5 99.7 260.5 99.7 259.5 99.7 258.5 99.7 257.5 99.6 256.5 99.5 255.5 99.4 254.5 99.2 253.5 98.9 252.5 98.5 251.7 98 251.2 97 251.8 96 252.5 95.5 253.5 95.1 254.5 94.7 255.5 94.4 256.5 94.1 257.5 93.9 258.5 93.6 259.5 93.4 260.5 93.2 261.5 92.9 262.5 92.7 263.4 92.5 264.5 92.2 265.5 91.7 265.9 91 265 90.4 264.1 90 263 89.7 262 89.5 261 89.4 260 89.3 259 89.2 258 89.2 257 89.2 256 89.1 255 89.1 254 89.1 253 89.1 252 89 251 89 250 88.9 249 88.7 248 88.5 247 88.1 246 87.5 245.5 86.8 245.2 86 245.1 85 245.2 84 245.3 83 245.3 82 245 81 244.8 80 244.6 79 244.7 78 245.5 77.4 246.5 77.1 247.5 76.8 248.5 76.6 249.5 76.4 250.5 76.1 251.5 75.9 252.5 75.6 253.5 75.2 254.5 74.8 255.4 74.5 256.5 74 257.5 73.5 258.3 73 259.1 72.5 259.8 72 260.5 71.2 259.5 70.7 258.5 70.9 257.5 71 256.5 71.1 255.5 71.2 254.5 71.1 253.5 71 252.5 70.7 251.5 70 250.8 69 250.4 68 250.2 67 250.1 66 250.1 65 250.1 64 250.2 63 250.4 62 250.6 61 250.8 60 251.2 59 251.7 58 252.2 57 253 56 253.5 55.4 254.4 54.5 255 53.9 256 53.1 256.8 52.5 257.5 52 258.2 51.5 258.9 51 259.6 50.5 260.5 50 261.3 49.5 262.4 49 263.5 48.5 264.5 48.2 265.5 47.9 266.5 47.6 267.5 47.4 268.5 47.1 269.5 46.9 270.5 46.7 271.5 46.4 272.5 46.2 273.3 46 274.5 45.7 275.5 45.4 276.5 45.1 277.5 44.7 278.5 44.3 279.5 43.8 280.5 43.1 280 42 279 41.7 278 41.5 277 41.5 276 41.5 275 41.5 274 41.6 273 41.8 272 42 271 42.2 270 42.4 269 42.7 268 43 267 43.3 266 43.6 265 43.9 264 44.3 263.2 44.5 262 44.8 261 45.1 260 45.2 259 45.3 258 45.2 257 44.8 256.5 44.1 256.2 43 256.2 42 256.3 41 256.8 40 257.5 39.2 258.5 38.5 259.5 38 260.5 37.6 261.5 37.3 262.5 37 263.5 36.8 264.5 36.6 265.5 36.5 266.5 36.3 267.5 36.2 268.5 36.1 269.5 35.9 270.5 35.8 271.5 35.7 272.5 35.6 273.5 35.4 274.5 35.2 275.5 35 276.5 34.7 277.5 34.2 277.5 33.3 276.6 32.5 275.7 32 274.6 31.5 273.5 31 272.5 30.7 271.7 30.5 270.5 30.2 269.5 30.1 268.5 30 267.5 29.8 266.5 29.7 265.5 29.6 264.5 29.3 263.8 28.5 264.8 28 266 27.8 267 27.7 268 27.7 269 27.7 270 27.7 271 27.7 272 27.8 273 27.8 274 27.8 275 27.7 276 27.7 277 27.6 278 27.5 279 27.5 280 27.4 281 27.3 282 27.2 283 27.2 284 27.1 285 27.1 286 27.1 287 27.1 288 27.1 289 27.1 290 27.2 291 27.2 292 27.3 293 27.3 294 27.4 295 27.4 296 27.5 297 27.5 298 27.5 299 27.5 300 27.4 301 27.2 302 26.9 303 26.5 304 26.1 305 25.8 306 25.5 307 25.4 308 25.4 309 25.5 310 25.7 311 25.9 312 26.3 313 26.7 314 27.2 315 27.9 315.5 28.5 315.5 29.4 314.7 30 313.5 30.3 312.5 30.4 311.6 30.5 310.5 30.5 309.5 30.5 308.5 30.5 307.5 30.5 306.5 30.5 305.5 30.4 304.5 30.5 303.5 30.5 302.5 30.7 301.5 30.9 300.5 31.2 299.5 31.7 298.5 32.3 297.8 33 297.8 34 298.5 34.5 299.5 34.8 300.5 35.1 301.5 35.3 302.5 35.5 303.5 35.7 304.5 35.8 305.5 36 306.5 36.2 307.5 36.3 308.4 36.5 309.5 36.7 310.5 36.9 311.5 37.2 312.5 37.5 313.5 37.8 314.5 38.2 315.5 38.8 316.3 39.5 316.9 40.5 317 41.5 316.6 42.5 316 43.1 315.1 43.5 314 43.7 313 43.8 312 43.7 311 43.6 310.1 43.5 309 43.3 308 43.1 307 42.9 306 42.6 305 42.4 304 42.2 303 42 302 41.9 301 41.7 300 41.6 299 41.5 298 41.5 297 41.6 296 41.7 295 41.9 294 42.4 294.4 43.5 295.3 44 296.4 44.5 297.5 44.9 298.5 45.2 299.4 45.5 300.5 45.8 301.3 46 302.5 46.3 303.5 46.5 304.5 46.7 305.5 46.9 306.5 47.1 307.5 47.3 308.4 47.5 309.5 47.7 310.5 48 311.5 48.2 312.4 48.5 313.5 48.8 314.5 49.2 315.5 49.6 316.2 50 317 50.4 317.9 51 318.6 51.5 319.3 52 320 52.6 320.9 53.5 321.5 54.2 322 54.8 322.5 55.5 323 56.5 323.4 57.5 323.8 58.5 324 59.3 324.2 60.5 324.4 61.5 324.5 62.5 324.5 63.5 324.6 64.5 324.5 65.5 324.4 66.5 324.2 67.5 324 68.4 323.5 69.5 323 70.1 322 70.8 321 71.2 320 71.4 319 71.7 319.2 72.5 320 73 321 73.4 322 73.8 323 74.2 323.9 74.5 325 74.9 326 75.2 326.8 75.5 327.9 76 328.6 76.5 329 77.2 329.1 78 328.7 79 328.1 80 327.5 81 327 81.8 326.6 83 326.6 84 326.7 85 326.5 85.8 326 86.6 325 87.3 324 87.7 323.1 88 322 88.3 321 88.4 320 88.6 319 88.7 318 88.9 317 89.1 316 89.2 315 89.4 314 89.7 313 90 312 90.4 311.4 91 312 91.8 313 92.2 314 92.5 315 92.8 316 93 317 93.3 317.9 93.5 319 93.8 320 94.1 321 94.4 322 94.8 323 95.4 323.7 96 324 97 323.5 97.8 322.5 98.4 321.5 98.7 320.5 99 319.5 99.2 318.5 99.3 317.5 99.4 316.5 99.5 315.5 99.5 314.5 99.6 313.5 99.6 312.5 99.6 311.5 99.6 310.5 99.6 309.5 99.7 308.5 99.7 307.5 99.7 306.5 99.8 305.5 99.8 304.5 99.9 303.6 100 302.5 100.2 301.5 100.3 300.5 100.6 299.5 101 300 101.7 301 102.1 302 102.3 303 102.5 304 102.7 305 102.8 306 103 307 103.1 308 103.3 309 103.4 310 103.5 311 103.7 312 103.8 313 104 314 104.1 315 104.3 315.9 104.5 317 104.8 317.9 105 319 105.4 320 106 320.3 107 319.5 107.9 318.5 108.4 317.5 108.8 316.5 109.1 315.5 109.4 314.5 109.6 313.5 109.7 312.5 109.9 311.6 110 311.5 110ZM208.5 64.9 209.5 64.1 210.2 63.5 211 62.7 211.6 62 212.3 61 213 60 213.5 59.2 214 58.3 214.5 57.5 215 56.7 215.5 56 216 55.3 216.7 54.5 217.5 53.8 218.5 53 219.3 52.5 220 52.1 221 51.8 222 51.5 223 51.5 224 51.7 225 52.3 225.4 53 225.7 54 225.7 55 225.6 56 225.5 56.9 225.3 58 225.1 59 224.9 60 224.7 61 224.7 62 224.8 63 225.1 64 226 64.8 227 65.1 228 64.9 229 64.5 229.8 64 230.5 63.4 231.2 62.5 232 61.5 232.5 60.6 233 59.7 233.4 59 234 58 234.5 57.1 235 56.4 235.5 55.7 236.1 55 237 54.1 237.8 53.5 238.5 53 239.4 52.5 240.5 52 241.5 51.6 242.5 51.3 243.5 51.1 244.5 50.9 245.5 50.8 246.5 50.8 247.3 51 248 51.5 248.4 52.5 248.4 53.5 248.4 54.5 248.3 55.5 248.1 56.5 247.8 57.5 247.5 58.5 247.1 59.5 246.6 60.5 246 61.5 245.5 62.4 245 63.2 244.5 64 244 64.8 243.5 65.5 243 66.3 242.5 67 242 67.9 241.5 68.8 241 69.9 240.6 71 240.4 72 240.3 73 240.2 74 240 74.9 239.5 75.6 238.6 76 237.5 76.2 236.5 76.4 235.5 76.5 234.5 76.5 233.5 76.6 232.5 76.6 231.5 76.6 230.5 76.5 229.5 76.5 228.5 76.4 227.5 76.3 226.5 76.1 225.5 75.9 224.5 75.8 223.5 75.6 222.5 75.5 221.5 75.5 220.5 75.6 219.5 75.7 218.5 76 217.5 76.4 216.5 76.8 215.5 77.3 214.5 77.9 213.5 78.4 212.5 79 211.5 79.5 210.5 79.9 209.5 80.3 208.6 80.5 208.5 80.5M369 78.6 368 78.4 367 78.2 366 77.9 365 77.7 364 77.4 363 77.1 362 76.9 361 76.6 360 76.4 359 76.2 358 76 357 75.9 356 75.8 355 75.7 354 75.6 353 75.6 352 75.6 351 75.5 350 75.5 349 75.5 348 75.4 347 75.4 346 75.3 345 75.2 344 75.1 343 75 342 74.8 341 74.6 340 74.5 339 74.2 338.1 74 337 73.6 336 73.2 335 72.6 334.3 72 333.5 71.2 333 70.5 332.5 69.8 332 69 331.5 68.1 331 67 330.5 66 330.1 65 329.7 64 329.4 63 329 62 328.7 61 328.4 60 328.1 59 327.9 58 327.7 57 327.6 56 327.6 55 327.6 54 327.8 53 328.3 52 329 51.4 330 51 331 50.8 332 50.8 333 50.8 334 50.9 335 51 336 51.3 336.8 51.5 338 51.9 339 52.4 340 52.9 340.8 53.5 341.5 54.1 342.4 55 343 55.7 343.7 56.5 344.4 57.5 345 58.2 345.5 58.9 346 59.5 347 60.4 348 61 349 61.1 350 60.6 350.9 59.5 351.4 58.5 351.9 57.5 352.3 56.5 352.9 55.5 353.5 54.8 354.5 54.2 355.5 53.9 356.5 53.9 357.5 54.1 358.5 54.4 359.5 54.9 360.3 55.5 361 56 362 56.9 362.6 57.5 363.5 58.5 364.4 59.5 365 60.2 365.7 61 366.5 61.9 367.5 63 368.5 64 369 64.4M304.2 61.5 304.1 60.5 303.6 59.5 303 58.6 302.5 58 301.7 57 301 56.3 300.1 55.5 299.5 55 298.7 54.5 297.7 54 296.5 53.6 295.5 53.4 294.5 53.2 293.5 53.1 292.5 53.1 291.5 53 290.5 53 289.5 53 288.5 53 287.5 53 286.5 53 285.5 53 284.5 53.1 283.5 53.2 282.5 53.3 281.5 53.4 280.5 53.6 279.5 53.8 278.5 54.2 277.5 54.7 276.5 55.3 275.5 56 274.5 56.9 273.9 57.5 273.1 58.5 272.5 59.3 272 60 271.5 61 272 61.6 273 61 273.7 60.5 274.4 60 275.1 59.5 275.7 59 276.4 58.5 277.2 58 277.9 57.5 278.7 57 279.5 56.6 280.5 56.1 281.5 55.6 282.5 55.3 283.4 55 284.5 54.7 285.5 54.5 286.5 54.4 287.5 54.3 288.5 54.3 289.5 54.3 290.5 54.5 291.5 54.6 292.5 54.8 293.5 55.1 294.5 55.5 295.5 55.9 296.5 56.5 297.4 57 298.2 57.5 298.9 58 299.6 58.5 300.3 59 300.9 59.5 301.6 60 302.2 60.5 302.9 61 303.9 61.5 304.2 61.5ZM297 82.5 296 82.4 295 82.3 294 82.3 293 82.2 292 82.2 291 82.3 290 82.3 289 82.4 288 82.4 287 82.5 286 82.5 287 82.5 288 82.6 289 82.6 290 82.6 291 82.7 292 82.8 293 82.8 294 82.9 295 83 296 83 297 82.5ZM296.5 120.5 295.5 120.5 294.5 120.6 293.5 120.6 292.5 120.6 291.5 120.7 290.5 120.7 289.5 120.7 288.5 120.8 287.5 120.8 286.5 120.8 285.5 120.9 284.5 120.9 283.5 120.9 282.5 120.9 281.5 120.9 280.5 120.9 279.5 120.9 278.5 120.9 277.5 120.9 276.5 120.8 275.5 120.8 274.5 120.7 273.5 120.6 272.6 120.5 271.5 120.4 270.5 120.3 269.5 120.1 268.7 120 267.5 119.8 266.5 119.7 265.6 119.5 264.5 119.3 263.5 119.1 262.6 119 261.5 118.8 260.5 118.6 259.5 118.5 258.5 118.3 257.5 118.1 256.5 117.9 255.5 117.6 254.5 117.3 253.6 117 252.9 116.5 253 115.6 253.9 115 255 114.6 256 114.4 257 114.2 258 114 259 113.9 260 113.8 261 113.8 262 113.7 263 113.7 264 113.7 265 113.6 266 113.6 267 113.6 268 113.5 268.9 113.5 270 113.5 271 113.4 272 113.4 273 113.3 274 113.3 275 113.2 276 113.2 277 113.1 278 113.1 279 113 280 113 281 112.9 282 112.9 283 112.9 284 112.9 285 112.9 286 112.8 287 112.8 288 112.9 289 112.9 290 112.9 291 112.9 292 113 293 113 294 113 295 113.1 296 113.1 297 113.2 298 113.2 299 113.2 300 113.3 301 113.3 302 113.3 303 113.4 304 113.4 305 113.5 306 113.5 307 113.6 308 113.6 309 113.7 310 113.8 311 113.9 311.8 114 313 114.2 314 114.3 314.9 114.5 316 114.8 316.8 115 318 115.5 318.8 116 318.9 117 318 117.7 317 118.2 316.2 118.5 315 118.8 314 119.1 313 119.3 312 119.4 311 119.6 310 119.7 309 119.8 308 119.9 307.1 120 306 120.1 305 120.2 304 120.2 303 120.3 302 120.3 301 120.4 300 120.4 299 120.4 298 120.5 297 120.5 296.5 120.5ZM256.5 127 256.5 126 257.2 125.5 258 125.2 259 124.8 260 124.6 261 124.4 262 124.2 263 124 264 123.9 265 123.7 266 123.6 266.8 123.5 268 123.4 269 123.3 270 123.2 271 123.1 272 123.1 273 123 274 123 275 122.9 276 122.9 277 122.9 278 122.9 279 122.9 280 122.9 281 122.9 282 122.9 283 122.9 284 122.9 285 122.9 286 122.9 287 123 288 123 289 123 290 123 291 123 292 123 293 123 294 123.1 295 123.1 296 123.1 297 123.1 298 123.1 299 123.1 300 123.1 301 123.1 302 123.1 303 123.2 304 123.2 305 123.2 306 123.2 307 123.2 308 123.3 309 123.3 310 123.4 311 123.4 312 123.5 313 123.6 314 123.7 315 123.8 316 124 317 124.2 318 124.5 319 124.8 320 125.3 320.8 126 320.5 126.8 320.3 127"/><path stroke="#0000d8" d="M288.5 31.5 287.5 31.6 286.5 31.5 285.5 31.3 284.5 31 284 30.4 285 29.7 286 29.5 287 29.5 288 29.5 289 29.6 290 29.9 290.7 30.5 290 31.1 289 31.5 288.5 31.5ZM308.5 40.5 307.5 40.5 306.6 40.5 305.5 40.3 304.5 40.2 303.5 40 302.5 39.8 301.5 39.6 300.5 39.3 299.5 39.1 298.5 38.8 297.7 38.5 298.5 38.2 299.5 38 300.5 38 301.5 38 302.5 38 303.5 38.1 304.5 38.2 305.5 38.3 306.5 38.5 307.5 38.8 308.3 39 309.2 39.5 309 40.4 308.5 40.5ZM266 41.1 265 41.1 264 41 263.2 40.5 264 39.5 265 39.1 266 38.8 267 38.6 268 38.4 269 38.4 270 38.3 271 38.3 272 38.4 273 38.5 272.5 39.4 271.5 39.7 270.7 40 269.5 40.3 268.5 40.6 267.5 40.8 266.5 41 266 41.1ZM319.5 69 318.5 69.2 317.5 69.2 316.5 69.1 315.5 68.9 314.5 68.7 313.5 68.3 312.6 68 311.5 67.5 310.6 67 309.8 66.5 309 65.8 308.2 65 307.5 64 307 63.3 306.5 62.5 306 61.7 305.5 61 305 60.2 304.5 59.4 304 58.6 303.5 57.9 303 57.2 302.5 56.6 301.6 55.5 301 54.9 300 54 299.2 53.5 298 53 297 52.8 296 52.6 295 52.4 294 52.3 293 52.2 292 52.2 291 52.1 290 52.1 289 52.1 288 52.1 287 52.1 286 52.2 285 52.2 284 52.3 283 52.4 282 52.5 281 52.6 280 52.8 279.2 53 278 53.4 277 53.8 276 54.4 275.3 55 274.5 55.7 273.7 56.5 273 57.3 272.4 58 271.7 59 271 60 270.5 60.7 270 61.4 269.5 62.1 269 62.8 268.5 63.5 268 64.1 267.2 65 266.5 65.6 265.5 66.4 264.6 67 263.7 67.5 263 67.9 262 68.3 261 68.6 260 68.9 259 69.2 258 69.3 257 69.4 256 69.4 255 69.3 254.2 69 253.3 68.5 252.5 67.7 252 66.7 251.7 65.5 251.6 64.5 251.6 63.5 251.7 62.5 251.9 61.5 252.2 60.5 252.5 59.7 253 58.6 253.5 57.7 254 57 254.5 56.3 255.2 55.5 256 54.8 257 54 257.7 53.5 258.5 53 259.3 52.5 260.2 52 261 51.6 262 51.1 263 50.7 264 50.2 265 49.8 265.8 49.5 267 49.1 268 48.7 269 48.4 270 48.1 271 47.8 272 47.5 273 47.2 274 46.9 275 46.6 276 46.3 277 46 278 45.7 278.8 45.5 280 45.1 281 44.8 282 44.5 283 44.3 284 44 285 43.8 286 43.7 287 43.6 288 43.7 289 43.8 290 44 291 44.2 292 44.5 293 44.7 293.8 45 295 45.4 296 45.7 297 46 298 46.3 298.9 46.5 300 46.8 301 47.1 302 47.4 303 47.6 304 47.9 305 48.1 306 48.4 307 48.7 308 48.9 309 49.2 310 49.5 311 49.8 312 50.1 313 50.5 314 50.9 315 51.3 316 51.8 317 52.3 318 52.9 318.8 53.5 319.5 54.1 320.4 55 321 55.7 321.5 56.5 322 57.4 322.5 58.5 322.8 59.5 323 60.4 323.2 61.5 323.3 62.5 323.3 63.5 323.2 64.5 323 65.5 322.7 66.5 322.1 67.5 321.5 68.1 320.5 68.7 319.6 69 319.5 69ZM369 74.9 368 74.8 367 74.6 366 74.4 365 74.2 364 74 363 73.8 362 73.5 361 73.3 360 73 359 72.7 358.2 72.5 357 72.1 356 71.8 355.1 71.5 354 71.1 353 70.7 352 70.4 351 70.1 350 70.1 349 70.4 348 70.8 347 71.1 346 71.3 345 71.4 344 71.5 343 71.5 342 71.5 341 71.3 340 71.1 339 70.9 338 70.5 337 70.1 336 69.5 335.2 69 334.5 68.4 333.6 67.5 333 66.8 332.5 66.1 332 65.3 331.6 64.5 331.1 63.5 330.7 62.5 330.4 61.5 330.1 60.5 329.9 59.5 329.7 58.5 329.7 57.5 329.7 56.5 329.9 55.5 330.5 54.5 331.5 53.6 332.5 53.3 333.5 53.1 334.5 53.1 335.5 53.2 336.5 53.5 337.5 53.8 338.5 54.3 339.5 54.9 340.3 55.5 341 56.2 341.8 57 342.5 57.9 343 58.6 343.5 59.3 344 60 344.5 60.9 345 61.6 345.5 62.4 346 63.2 346.5 63.9 347 64.5 348 65.5 348.6 66 349.5 66.4 350.5 66.2 351.3 65.5 352 64.5 352.5 63.5 353 62.5 353.5 61.5 354 60.6 354.5 59.9 355.3 59 356 58.6 357 58.3 358 58.3 359 58.6 359.7 59 360.5 59.5 361.2 60 362 60.7 362.8 61.5 363.5 62.2 364.2 63 365 63.9 365.6 64.5 366.4 65.5 367 66.1 367.8 67 368.5 67.7 369 68.1M234 70.6 233 70.9 232 70.9 231 70.6 230.7 69.5 231.2 68.5 231.8 67.5 232.4 66.5 232.9 65.5 233.4 64.5 233.8 63.5 234.2 62.5 234.6 61.5 235 60.7 235.5 59.7 236 58.8 236.5 58 237 57.4 237.8 56.5 238.5 55.9 239.5 55.2 240.5 54.7 241.5 54.4 242.5 54.3 243.5 54.4 244.5 54.9 245 55.6 245.2 56.5 245.2 57.5 245 58.5 244.7 59.5 244.3 60.5 243.7 61.5 243.1 62.5 242.5 63.4 242 64 241.1 65 240.5 65.7 239.6 66.5 239 67.1 238 67.9 237.3 68.5 236.7 69 236 69.5 235.2 70 234.2 70.5 234 70.6ZM306 109 305 109.1 304 109.1 303 109.2 302 109.2 301 109.2 300 109.2 299 109.2 298 109.2 297 109.2 296 109.2 295 109.2 294 109.2 293 109.2 292 109.2 291 109.2 290 109.2 289 109.2 288 109.2 287 109.2 286 109.2 285 109.2 284 109.2 283 109.2 282 109.2 281 109.1 280 109.1 279 109.1 278 109.1 277 109.1 276 109.1 275 109.1 274 109.1 273 109 272 109 271 109 270 108.9 269 108.9 268 108.8 267 108.7 266 108.6 265 108.4 264 108.1 263 107.7 262.2 107 263 106 264 105.6 265 105.3 266 105 267 104.8 268 104.6 269 104.4 270 104.3 271 104.1 272 103.9 273 103.8 274 103.7 275 103.5 276 103.4 277 103.2 278 103.1 279 102.9 280 102.8 281 102.6 281.8 102.5 283 102.3 284 102.1 285 101.9 286 101.7 287 101.5 286 100.9 285 100.8 284 100.5 283 100.3 282 100.2 281 100 280 99.8 279 99.6 278 99.5 277 99.3 276 99.2 275 99.1 274 99 273 98.9 272 98.8 271 98.8 270 98.7 269 98.7 268 98.6 267 98.6 266 98.6 265 98.5 264 98.5 263 98.4 262 98.3 261 98.1 260 97.9 259 97.6 258 97 258.3 96 259 95.5 260 95.1 261 94.8 261.8 94.5 263 94.2 263.9 94 265 93.8 266 93.6 267 93.4 268 93.3 269 93.1 270 92.9 271 92.7 272 92.5 273 92 272 91.1 271 90.6 270 90.2 269 89.8 268 89.3 267.1 89 266 88.7 265 88.4 264 88.2 263 88 262 87.9 261 87.8 260 87.7 259 87.7 258 87.6 257 87.5 256 87.4 255 87.3 254 87.1 253 86.9 252.1 86.5 251.3 86 250.8 85 250.8 84 251 83.2 251.2 82 251.4 81 251.8 80 252.5 79.2 253.2 78.5 254 77.8 255 77.1 255.9 76.5 256.7 76 257.4 75.5 258.2 75 259 74.5 259.7 74 260.4 73.5 261.1 73 261.7 72.5 262.5 71.8 263.4 71 264 70.4 264.9 69.5 265.5 68.9 266.3 68 267 67.3 267.8 66.5 268.5 65.8 269.4 65 270 64.5 271 63.6 271.7 63 272.5 62.3 273.5 61.5 274.5 60.6 275.3 60 276 59.5 276.6 59 277.4 58.5 278.1 58 279 57.5 279.9 57 281 56.5 282 56.1 283 55.8 284 55.5 285 55.3 286 55.1 287 55.1 288 55 289 55 290 55.1 291 55.2 292 55.4 293 55.7 294 56 295 56.4 296 56.9 297 57.4 297.9 58 298.7 58.5 299.4 59 300 59.5 300.6 60 301.5 60.7 302.4 61.5 303.5 62.4 304.2 63 305 63.7 306 64.5 306.6 65 307.3 65.5 308 66.1 308.9 67 309.5 67.6 310.4 68.5 311 69.2 311.8 70 312.5 70.7 313.5 71.5 314.5 72.3 315.4 73 316.1 73.5 316.9 74 317.6 74.5 318.3 75 319 75.5 319.7 76 320.5 76.7 321.3 77.5 321.9 78.5 322.2 79.5 322.2 80.5 321.8 81.5 321.2 82.5 320.7 83.5 320.4 84.5 319.7 85.5 319 86 318 86.5 317 86.8 316 87.1 315 87.3 314.2 87.5 313 87.8 312 88.1 311 88.4 310 88.8 309 89.2 308.1 89.5 307 90 306 90.4 305 90.9 304 91.4 303.2 92 304 92.5 305 92.7 306 92.9 306.8 93 308 93.2 309 93.3 309.9 93.5 311 93.7 312 93.9 313 94.1 314 94.4 315 94.7 315.8 95 316.5 95.4 317.3 96 317.1 97 316.2 97.5 315 97.8 314.2 98 313 98.1 312 98.2 311 98.3 310 98.4 309 98.5 308 98.5 307 98.6 306 98.6 305 98.7 304 98.8 303 98.8 302 98.9 301 99.1 300 99.2 299 99.3 298 99.5 297 99.6 296 99.8 295 100 294 100.2 293 100.4 292 100.6 291 100.9 290 101 289.1 101.5 290 101.6 291 101.8 291.9 102 293 102.2 294 102.3 295 102.5 296 102.6 297 102.8 298 103 299 103.1 300 103.2 301 103.4 302 103.5 303 103.7 304 103.8 305 104 306 104.2 307 104.3 307.9 104.5 309 104.7 310 105 311 105.3 311.8 105.5 312.8 106 313.4 107 312.5 107.8 311.5 108.2 310.5 108.4 309.5 108.6 308.5 108.8 307.5 108.9 306.5 109 306 109ZM208.5 68.8 209.5 68.2 210.5 67.6 211.4 67 212.1 66.5 213 65.8 213.8 65 214.5 64.3 215.3 63.5 216 62.6 216.5 62 217.3 61 218 60.2 219 59.5 220 60 220.1 61 220 62 220 63 219.9 64 219.8 65 219.7 66 219.6 67 219.4 68 219 69 218.5 69.8 217.9 70.5 217 71.3 216.1 72 215.4 72.5 214.8 73 214.1 73.5 213.4 74 212.7 74.5 212 75 211.1 75.5 210.2 76 209.5 76.3 208.5 76.7M303.8 84 304.8 83.5 304 82.9 303 82.6 302 82.3 301 82.2 300.2 82 299 81.9 298 81.8 297 81.7 296 81.6 295 81.6 294 81.5 293 81.5 292 81.5 291 81.5 290 81.5 289 81.5 288 81.5 287 81.5 286 81.5 285 81.6 284 81.6 283 81.6 282 81.7 281 81.8 280 81.8 279 81.9 278 82 277 82.1 276 82.3 275 82.5 274 82.7 273.2 83 273.5 83.9 274.5 84 275.5 84 276.5 84 277.5 84 278.5 83.9 279.5 83.8 280.5 83.8 281.5 83.7 282.5 83.7 283.5 83.6 284.5 83.6 285.5 83.5 286.5 83.5 287.4 83.5 288.5 83.5 289.5 83.5 290.5 83.6 291.5 83.6 292.5 83.7 293.5 83.7 294.5 83.8 295.5 83.8 296.5 83.9 297.5 84 298.5 84 299.5 84.1 300.5 84.1 301.5 84.1 302.5 84.1 303.5 84 303.8 84ZM292.5 119.5 291.5 119.5 290.5 119.6 289.5 119.6 288.5 119.6 287.5 119.7 286.5 119.7 285.5 119.7 284.5 119.7 283.5 119.7 282.5 119.7 281.5 119.7 280.5 119.6 279.5 119.6 278.5 119.6 277.5 119.5 276.5 119.4 275.5 119.3 274.5 119.2 273.5 119.1 272.6 119 271.5 118.8 270.5 118.6 269.5 118.4 268.5 118.2 267.5 117.8 266.5 117.5 265.7 117 265.9 116 267 115.6 268 115.3 269 115.1 270 114.9 271 114.8 272 114.7 273 114.5 274 114.4 275 114.3 276 114.2 277 114.1 278 114.1 278.9 114 280 113.9 281 113.9 282 113.8 283 113.8 284 113.8 285 113.8 286 113.7 287 113.7 288 113.8 289 113.8 290 113.8 291 113.8 292 113.9 293 113.9 294 114 295 114 296 114.1 297 114.2 298 114.2 299 114.3 300 114.4 301 114.5 302 114.6 303 114.7 304 114.8 305 114.9 306 115.1 307 115.3 307.8 115.5 309 115.9 309.7 116.5 309 117.4 308 117.8 307 118.1 306 118.3 305 118.5 304 118.6 303 118.8 302 118.9 301 119 300 119.1 299 119.1 298 119.2 297 119.3 296 119.3 295 119.4 294 119.4 293 119.5 292.5 119.5ZM268.7 127 268 126.6 268.5 125.8 269.5 125.4 270.5 125.2 271.5 125 272.5 124.9 273.5 124.8 274.5 124.7 275.5 124.6 276.5 124.6 277.4 124.5 278.5 124.5 279.5 124.4 280.5 124.4 281.5 124.4 282.5 124.3 283.5 124.3 284.5 124.3 285.5 124.3 286.5 124.3 287.5 124.3 288.5 124.3 289.5 124.3 290.5 124.3 291.5 124.4 292.5 124.4 293.5 124.4 294.5 124.4 295.5 124.5 296.5 124.5 297.5 124.5 298.5 124.6 299.5 124.7 300.5 124.7 301.5 124.8 302.5 124.9 303.5 125 304.5 125.1 305.5 125.3 306.5 125.5 307.5 125.9 307 126.8 306.7 127"/><path stroke="#0006ff" d="M258 68 257 68 256 67.8 255.2 67.5 254.5 67 253.6 66 253.3 65 253.1 64 253.1 63 253.2 62 253.4 61 253.7 60 254.2 59 254.8 58 255.5 57 256.4 56 257 55.5 258 54.7 259 54 260 53.5 261 53 262 52.5 263 52.1 264 51.7 265 51.4 266 51 267 50.7 268 50.4 269 50 270 49.7 271 49.3 271.9 49 273 48.6 274 48.3 274.9 48 276 47.7 277 47.3 278 47 279 46.7 279.9 46.5 281 46.2 281.8 46 283 45.8 284 45.6 285 45.4 286 45.4 287 45.3 288 45.3 289 45.4 290 45.6 291 45.7 292 45.9 293 46.2 294 46.5 295 46.7 295.9 47 297 47.4 298 47.7 299 48 300 48.3 301 48.7 302 49 303 49.3 304 49.6 305 49.9 306 50.1 307 50.4 308 50.6 309 50.8 310 51.1 311 51.3 312 51.6 313 51.9 314 52.3 315 52.7 316 53.2 317 53.8 318 54.4 318.7 55 319.5 55.8 320.1 56.5 320.7 57.5 321.2 58.5 321.5 59.3 321.8 60.5 322 61.5 322 62.5 322 63.5 321.8 64.5 321.4 65.5 320.6 66.5 320 67 319 67.5 318 67.7 317 67.7 316 67.6 315 67.4 314 67.1 313 66.8 312 66.3 311 65.6 310.1 65 309.5 64.5 308.6 63.5 308 62.9 307.3 62 306.6 61 306 60.1 305.5 59.4 305 58.6 304.5 57.8 304 57 303.5 56.1 303 55.3 302.5 54.5 302 53.7 301.3 53 300.6 52.5 299.5 52 298.5 51.8 297.5 51.6 296.5 51.4 295.5 51.3 294.5 51.2 293.5 51.2 292.5 51.2 291.5 51.1 290.5 51.1 289.5 51.1 288.5 51.1 287.5 51.2 286.5 51.2 285.5 51.2 284.5 51.3 283.5 51.4 282.5 51.5 281.5 51.6 280.5 51.7 279.5 51.8 278.5 52 277.5 52.3 276.5 52.6 275.7 53 275 53.5 274.4 54 273.5 55 273 55.7 272.5 56.4 272 57.1 271.5 57.8 271 58.5 270.5 59.2 270 59.9 269.5 60.6 269 61.3 268.5 61.9 267.6 63 267 63.6 266.1 64.5 265 65.4 264.1 66 263.2 66.5 262.2 67 261 67.4 260 67.7 259 67.9 258.1 68 258 68ZM263 84.1 262 84.3 261 84.3 260 84.2 259 83.9 258.2 83.5 257.6 83 256.6 82 256.1 81 256.2 80 256.5 79.3 257 78.5 257.9 77.5 258.5 76.9 259.5 76 260.5 75.1 261.2 74.5 262 73.8 262.9 73 263.5 72.4 264.4 71.5 265 70.9 265.9 70 266.5 69.3 267.2 68.5 268 67.7 268.6 67 269.5 66.1 270.1 65.5 271 64.6 271.6 64 272.5 63.1 273.2 62.5 274 61.8 274.9 61 276 60.1 276.8 59.5 277.5 59 278.3 58.5 279 58.1 280 57.5 281 57.1 282 56.7 283 56.3 284 56.1 285 55.9 286 55.7 287 55.6 288 55.6 289 55.6 290 55.7 291 55.8 291.9 56 293 56.3 294 56.6 295 57 296 57.5 297 58 297.8 58.5 298.5 59 299.2 59.5 299.8 60 300.5 60.6 301.5 61.4 302.1 62 303 62.8 303.7 63.5 304.5 64.3 305.3 65 306 65.7 306.7 66.5 307.5 67.3 308.2 68 309 68.9 309.6 69.5 310.5 70.4 311.1 71 312 71.9 312.7 72.5 313.5 73.3 314.4 74 315 74.6 316 75.5 317 76.5 317.5 77.1 318 77.9 318.4 79 318.3 80 317.7 81 317 81.5 316 82 315 82.3 314 82.5 313 82.6 312 82.7 311 82.6 310 82.5 309 82.4 308 82.3 307 82.2 306 82 305 81.9 304 81.7 303 81.6 302 81.5 301 81.4 300 81.3 299 81.2 298 81.1 297 81.1 296 81 295 81 294 80.9 293 80.9 292 80.9 291 80.9 290 80.9 289 80.9 288 80.9 287 80.9 286 81 285 81 284 81 283 81.1 282 81.1 281 81.2 280 81.2 279 81.3 278 81.4 277 81.4 276 81.5 275 81.6 274 81.8 273 81.9 272.1 82 271 82.2 270 82.4 269 82.6 268 82.8 267 83 266 83.3 265.2 83.5 264 83.9 263 84.1ZM342 67.5 341 67.9 340 68 339 67.9 338 67.6 337 67.2 336 66.7 335.1 66 334.5 65.4 333.7 64.5 333.1 63.5 332.6 62.5 332.2 61.5 332 60.7 331.8 59.5 331.8 58.5 332 57.7 332.5 56.7 333.3 56 334.5 55.6 335.5 55.6 336.5 55.8 337.5 56.2 338.5 56.7 339.5 57.5 340.5 58.5 341 59.2 341.5 59.9 342 60.8 342.5 61.8 342.9 63 343.2 64 343.3 65 343.2 66 342.7 67 342 67.5ZM359.5 66 359.5 66ZM293 91 292 91.1 291 91.1 290 91.1 289 91.1 288 91.1 287 91.1 286 91.1 285 91.1 284 91.1 283 91 282.2 91 281 90.9 280 90.8 279 90.7 278 90.6 277 90.4 276 90.2 275 89.9 274 89.6 273 89.2 272 88.8 271 88.2 270.2 87.5 270.3 86.5 271 86.2 272 85.9 273 85.6 274 85.4 275 85.3 276 85.1 276.9 85 278 84.9 279 84.7 280 84.6 281 84.5 282 84.4 283 84.4 284 84.3 285 84.2 286 84.2 287 84.2 288 84.2 289 84.2 290 84.2 291 84.3 292 84.3 293 84.4 294 84.5 295 84.6 296 84.7 297 84.8 298 84.9 298.8 85 300 85.2 301 85.3 302 85.5 303 85.7 304 85.9 305 86.2 306 87 305.5 88 304.8 88.5 304 88.9 303 89.3 302 89.7 301 89.9 300 90.2 299 90.4 298 90.5 297 90.7 296 90.8 295 90.9 294 91 293.1 91 293 91ZM293 98.5 292 98.6 291 98.7 290 98.8 289 98.8 288 98.9 287 98.8 286 98.8 285 98.7 284 98.6 283 98.5 282 98.4 281 98.2 280 98.1 279 98 278 97.8 277 97.7 276 97.5 275 97.4 274 97.3 273 97.1 272 97 271 96.9 270 96.7 269 96.5 268.4 96 269.5 95.5 270.5 95.3 271.5 95.2 272.5 95.1 273.5 95 274.5 95 275.5 94.9 276.5 94.9 277.5 94.9 278.5 94.9 279.5 94.9 280.5 94.8 281.5 94.8 282.5 94.8 283.5 94.8 284.5 94.8 285.5 94.8 286.5 94.8 287.5 94.8 288.5 94.8 289.5 94.8 290.5 94.8 291.5 94.9 292.5 94.9 293.5 94.9 294.5 94.9 295.5 94.9 296.5 95 297.5 95 298.5 95 299.5 95.1 300.5 95.1 301.5 95.2 302.5 95.3 303.5 95.4 304.5 95.5 305.5 95.9 305 96.5 304 96.7 303 96.9 302 97.1 301 97.2 300 97.4 299 97.6 298 97.7 297 97.9 296 98.1 295 98.2 294 98.4 293 98.5ZM298 108 297 108 296 108.1 295 108.1 294 108.1 293 108.1 292 108.1 291 108.1 290 108.1 289 108.1 288 108.1 287 108.1 286 108.1 285 108.1 284 108.1 283 108.1 282 108 281 108 280 108 279 107.9 278 107.9 277 107.8 276 107.7 275 107.7 274 107.6 273 107.4 272 107.2 271 106.5 272 105.8 272.8 105.5 274 105.2 275 105 276 104.8 277 104.7 278 104.5 279 104.4 280 104.3 281 104.2 282 104 283 104 284 103.9 285 103.8 286 103.8 287 103.7 288 103.7 289 103.7 290 103.7 291 103.8 292 103.8 293 103.9 294 104 295 104 296 104.2 297 104.3 298 104.4 298.8 104.5 300 104.7 301 104.9 302 105.1 303 105.3 303.8 105.5 305 106 305.2 107 304 107.4 303 107.6 302 107.7 301 107.8 300 107.9 299 108 298 108ZM293.5 118 292.5 118.1 291.5 118.2 290.5 118.2 289.5 118.3 288.5 118.3 287.5 118.4 286.5 118.4 285.5 118.4 284.5 118.4 283.5 118.4 282.5 118.3 281.5 118.3 280.5 118.2 279.5 118.1 278.5 118 277.5 117.8 276.5 117.6 275.5 117.2 275.1 116.5 276 116 277 115.8 278 115.5 279 115.4 280 115.3 281 115.2 282 115.1 283 115 284 115 285 114.9 286 114.9 287 114.9 288 114.9 289 115 290 115 291 115.1 292 115.1 293 115.2 294 115.3 295 115.5 296 115.6 297 115.8 298 116.1 298.8 116.5 298 117.2 297.2 117.5 296 117.7 295 117.8 294 118 293.5 118Z"/><path stroke="#0032ff" d="M290.5 49.5 289.5 49.6 288.5 49.7 287.5 49.7 286.5 49.8 285.5 49.8 284.5 49.9 283.5 49.9 282.5 49.9 281.5 49.9 280.5 49.9 279.5 49.8 279.1 49 280 48.5 281 48.2 282 47.8 283 47.6 284 47.4 285 47.2 286 47.1 287 47.1 288 47.2 289 47.3 290 47.5 291 47.7 291.8 48 292.5 48.4 292 49.2 291 49.5 290.5 49.5ZM260 66.5 259 66.6 258 66.6 257 66.4 256.1 66 255.5 65.5 255 64.7 254.6 63.5 254.6 62.5 254.7 61.5 255 60.5 255.4 59.5 255.9 58.5 256.5 57.7 257.1 57 258 56.1 258.8 55.5 259.5 55 260.5 54.5 261.5 54 262.5 53.6 263.5 53.3 264.4 53 265.5 52.7 266.4 52.5 267.5 52.3 268.5 52.2 269.5 52.1 270.5 52.1 271.5 52.4 271.8 53.5 271.7 54.5 271.5 55.3 271 56.4 270.5 57.4 270 58.2 269.5 59 269 59.8 268.5 60.5 268 61.1 267.3 62 266.5 62.8 265.8 63.5 265 64.2 264 64.9 263 65.4 262 65.9 261 66.3 260 66.5 260 66.5ZM318 66.1 317 66.3 316 66.3 315 66.2 314 65.9 313 65.5 312 65 311.2 64.5 310.5 64 309.5 63.1 308.9 62.5 308.1 61.5 307.5 60.7 307 60 306.5 59.2 306 58.3 305.6 57.5 305.1 56.5 304.8 55.5 304.7 54.5 305 53.5 306 52.7 306.8 52.5 308 52.4 309 52.5 310 52.6 311 52.8 312 53 313 53.3 314 53.6 315 54 316 54.5 316.8 55 317.5 55.5 318.5 56.5 319.3 57.5 319.8 58.5 320.3 59.5 320.5 60.4 320.7 61.5 320.7 62.5 320.5 63.4 320.1 64.5 319.5 65.2 318.5 65.9 318 66.1ZM268 81.5 267 81.6 266 81.6 265 81.6 264 81.5 263 81.4 262 81.2 261 80.8 260.2 80 260.1 79 260.4 78 261 77 261.5 76.3 262.1 75.5 263 74.5 263.9 73.5 264.5 72.8 265.2 72 266 71.1 266.5 70.5 267.4 69.5 268 68.8 268.7 68 269.5 67.1 270 66.5 271 65.5 271.9 64.5 272.5 63.9 273.4 63 274.5 62 275.5 61.1 276.3 60.5 276.9 60 277.6 59.5 278.4 59 279.2 58.5 280 58.1 281 57.6 282 57.2 283 56.9 284 56.6 285 56.4 286 56.2 287 56.2 288 56.1 289 56.1 290 56.2 291 56.4 292 56.6 293 56.8 294 57.1 294.9 57.5 295.9 58 296.8 58.5 297.5 58.9 298.3 59.5 299 60 299.6 60.5 300.5 61.2 301.4 62 302 62.6 302.9 63.5 303.5 64.1 304.4 65 305 65.7 305.8 66.5 306.5 67.3 307.1 68 308 69 308.5 69.6 309.3 70.5 310 71.3 310.6 72 311.5 73 312.4 74 313 74.7 313.7 75.5 314.4 76.5 314.9 77.5 315 78.5 314.7 79.5 314 80.1 313.3 80.5 312.5 80.8 311.5 81 310.5 81.1 309.5 81.1 308.5 81.1 307.5 81.1 306.5 81.1 305.5 81 304.5 80.9 303.5 80.9 302.5 80.8 301.5 80.7 300.5 80.7 299.5 80.6 298.5 80.6 297.5 80.5 296.5 80.5 295.5 80.4 294.5 80.4 293.5 80.4 292.5 80.4 291.5 80.4 290.5 80.4 289.5 80.4 288.5 80.4 287.5 80.4 286.5 80.4 285.5 80.5 284.5 80.5 283.5 80.5 282.5 80.6 281.5 80.6 280.5 80.6 279.5 80.7 278.5 80.7 277.5 80.8 276.5 80.9 275.5 80.9 274.6 81 273.5 81.1 272.5 81.2 271.5 81.2 270.5 81.3 269.5 81.4 268.5 81.5 268 81.5ZM338.5 63.1 337.5 63.4 336.6 63 335.7 62 335.3 61 335.5 60 336.5 59.5 337.5 59.9 338.1 60.5 338.7 61.5 338.8 62.5 338.5 63.1ZM289.5 90 288.5 90 287.5 90 286.5 90 285.6 90 284.5 90 283.5 89.9 282.5 89.8 281.5 89.7 280.5 89.6 279.5 89.4 278.5 89.2 277.5 88.9 276.6 88.5 275.9 88 275.8 87 276.6 86.5 277.5 86.2 278.5 85.9 279.5 85.7 280.5 85.5 281.5 85.4 282.5 85.2 283.5 85.1 284.5 85 285.5 85 286.5 84.9 287.5 84.9 288.5 84.9 289.5 84.9 290.5 85 291.5 85.1 292.5 85.1 293.5 85.3 294.5 85.4 295.3 85.5 296.5 85.7 297.5 85.9 298.5 86.2 299.3 86.5 300 86.9 300.1 88 299.3 88.5 298.5 88.8 297.5 89.1 296.5 89.3 295.7 89.5 294.5 89.7 293.5 89.8 292.5 89.9 291.5 89.9 290.5 90 289.5 90Z"/><path stroke="#005eff" d="M260.5 65.1 259.5 65.2 258.5 65.1 257.5 64.6 256.8 64 256.3 63 256.2 62 256.4 61 256.7 60 257.2 59 257.9 58 258.5 57.4 259.5 56.5 260.2 56 261 55.6 262 55.1 263 54.7 263.8 54.5 265 54.3 266 54.2 267 54.2 268 54.4 269 55 269.2 56 269.1 57 268.7 58 268.2 59 267.6 60 267 60.7 266.4 61.5 265.5 62.4 264.8 63 264.1 63.5 263.3 64 262.5 64.4 261.5 64.8 260.5 65.1ZM317.5 64.5 316.5 64.8 315.5 64.9 314.5 64.8 313.5 64.5 312.5 64 311.6 63.5 310.9 63 310 62.2 309.4 61.5 308.6 60.5 308 59.6 307.5 58.6 307 57.5 306.8 56.5 307 55.5 307.5 54.8 308.5 54.3 309.5 54.2 310.5 54.1 311.5 54.2 312.5 54.4 313.5 54.7 314.5 55.1 315.2 55.5 316 56 316.7 56.5 317.5 57.3 318 57.9 318.5 58.8 319 60 319.2 61 319.1 62 318.9 63 318.2 64 317.5 64.5 317.5 64.5ZM306.5 80 305.5 80.1 304.5 80.1 303.5 80.1 302.5 80 301.5 80 300.5 80 299.5 80 298.5 80 297.5 79.9 296.5 79.9 295.5 79.9 294.5 79.9 293.5 79.9 292.5 79.9 291.5 79.9 290.5 79.9 289.5 79.9 288.5 79.9 287.5 79.9 286.5 80 285.5 80 284.5 80 283.5 80 282.5 80 281.5 80.1 280.5 80.1 279.5 80.1 278.5 80.2 277.5 80.2 276.5 80.2 275.5 80.3 274.5 80.3 273.5 80.4 272.5 80.4 271.5 80.4 270.5 80.4 269.5 80.4 268.5 80.4 267.5 80.3 266.5 80.2 265.5 80 264.5 79.7 263.6 79 263.2 78 263.3 77 263.7 76 264.3 75 265 74 265.5 73.2 266 72.6 266.5 71.9 267 71.2 267.5 70.6 268 70 268.5 69.3 269.2 68.5 270 67.5 270.8 66.5 271.5 65.8 272.2 65 273 64.1 273.6 63.5 274.5 62.7 275.2 62 276 61.3 277 60.5 277.7 60 278.5 59.5 279.3 59 280.2 58.5 281 58.1 282 57.7 283 57.4 284 57.1 285 56.9 286 56.7 287 56.6 288 56.6 289 56.6 290 56.7 291 56.9 292 57.1 293 57.3 294 57.7 294.8 58 295.8 58.5 296.7 59 297.5 59.5 298.2 60 298.9 60.5 299.5 61 300.5 61.9 301.2 62.5 302 63.3 302.7 64 303.5 64.9 304 65.5 304.9 66.5 305.5 67.2 306.2 68 307 69 307.5 69.6 308 70.3 308.5 70.9 309 71.6 309.5 72.2 310 72.9 310.5 73.6 311 74.4 311.5 75.2 311.9 76 312.1 77 312 78 311.5 78.7 310.5 79.3 309.5 79.6 308.5 79.8 307.5 80 306.5 80ZM291.5 88.5 290.5 88.6 289.5 88.7 288.5 88.8 287.5 88.8 286.5 88.7 285.5 88.7 284.5 88.6 283.5 88.4 282.5 88.2 281.5 87.6 282 86.9 282.9 86.5 284 86.3 285 86.1 286 86 287 86 288 86 289 86 290 86 291 86.2 292 86.3 292.9 86.5 294 86.9 294 87.9 293 88.2 292 88.5 291.5 88.5Z"/><path stroke="#008bff" d="M315.5 63.1 314.5 63.2 313.7 63 312.5 62.5 311.8 62 311 61.4 310.2 60.5 309.6 59.5 309.2 58.5 309 57.5 309.5 56.5 310.4 56 311.5 55.9 312.4 56 313.5 56.3 314.5 56.8 315.5 57.4 316.5 58.5 317 59.4 317.3 60.5 317.2 61.5 316.7 62.5 316 63 315.5 63.1ZM262 63.1 261 63.3 260 63.3 259.1 63 258.5 62.3 258.3 61.5 258.4 60.5 258.8 59.5 259.5 58.5 260.5 57.6 261.4 57 262.5 56.5 263.5 56.2 264.5 56 265.5 56.1 266.4 56.5 266.8 57.5 266.7 58.5 266.2 59.5 265.5 60.5 264.6 61.5 263.5 62.3 262.5 62.9 262 63.1ZM286 79.5 285 79.5 284 79.5 283 79.5 282 79.6 281 79.6 280 79.6 279 79.6 278 79.6 277 79.6 276 79.6 275 79.6 274 79.6 273 79.6 272 79.6 271 79.5 270 79.4 269 79.3 268 79 267 78.7 266.1 78 265.6 77 265.6 76 265.9 75 266.3 74 266.9 73 267.5 72 268 71.3 268.5 70.5 269 69.8 269.5 69.1 270 68.5 270.5 67.8 271 67.2 271.6 66.5 272.4 65.5 273 64.9 273.8 64 274.5 63.3 275.4 62.5 276 61.9 277 61.1 277.8 60.5 278.5 60 279.4 59.5 280.3 59 281 58.6 282 58.2 283 57.9 284 57.6 285 57.4 286 57.2 287 57.1 288 57.1 289 57.1 290 57.2 291 57.3 292 57.6 293 57.8 294 58.2 295 58.6 295.7 59 296.5 59.4 297.4 60 298.1 60.5 298.7 61 299.5 61.6 300.5 62.5 301.5 63.5 302.4 64.5 303 65.1 303.7 66 304.5 66.9 305 67.6 305.5 68.2 306 68.9 306.5 69.5 307 70.3 307.5 71 308 71.7 308.5 72.5 309 73.4 309.5 74.5 309.8 75.5 309.8 76.5 309.5 77.3 308.8 78 308 78.4 307 78.7 306 79 305 79.1 304 79.2 303 79.3 302 79.3 301 79.3 300 79.3 299 79.4 298 79.4 297 79.4 296 79.4 295 79.4 294 79.4 293 79.4 292 79.4 291 79.4 290 79.4 289 79.5 288 79.5 287 79.5 286.2 79.5 286 79.5Z"/><path stroke="#00b7ff" d="M289.5 79 288.5 79 287.5 79 286.5 79 285.5 79.1 284.5 79.1 283.5 79.1 282.5 79.1 281.5 79.1 280.5 79.1 279.5 79.1 278.5 79.1 277.5 79 276.5 79 275.5 79 274.5 78.9 273.5 78.9 272.5 78.8 271.5 78.6 270.5 78.4 269.5 78.1 268.5 77.6 267.9 77 267.5 76.2 267.4 75 267.7 74 268 73.1 268.5 72.1 269 71.2 269.4 70.5 270 69.6 270.5 68.9 271 68.2 271.5 67.5 272 66.9 272.7 66 273.5 65.1 274.5 64 275.5 63 276.5 62.1 277.3 61.5 277.9 61 278.6 60.5 279.4 60 280.3 59.5 281 59.1 282 58.7 283 58.3 284 58.1 285 57.8 286 57.7 287 57.6 288 57.5 289 57.6 290 57.7 291 57.8 291.9 58 293 58.3 294 58.7 295 59.1 296 59.7 297 60.3 298 61 298.6 61.5 299.5 62.3 300.3 63 301 63.7 301.7 64.5 302.5 65.4 303 66 303.8 67 304.5 67.9 305 68.6 305.5 69.3 306 70.1 306.5 70.9 307 71.9 307.5 72.9 307.9 74 308 74.9 307.9 76 307.1 77 306.4 77.5 305.5 77.9 304.5 78.1 303.5 78.3 302.5 78.5 301.5 78.6 300.5 78.7 299.5 78.7 298.5 78.8 297.5 78.8 296.5 78.9 295.5 78.9 294.5 78.9 293.5 78.9 292.5 78.9 291.5 79 290.5 79 289.6 79 289.5 79Z"/><path stroke="#00e3ff" d="M292 78.5 291 78.5 290 78.5 289 78.6 288 78.6 287 78.6 286 78.6 285 78.6 284 78.6 283 78.6 282 78.6 281 78.6 280 78.6 279 78.5 278.2 78.5 277 78.4 276 78.4 275 78.3 274 78.1 273.2 78 272 77.7 271 77.4 270.3 77 269.6 76.5 269 75.5 268.9 74.5 269 73.6 269.3 72.5 269.8 71.5 270.3 70.5 270.9 69.5 271.5 68.5 272 67.8 272.5 67.1 273 66.5 273.8 65.5 274.5 64.7 275.2 64 276 63.2 276.8 62.5 277.5 61.9 278.5 61.1 279.4 60.5 280.3 60 281.3 59.5 282.5 59 283.5 58.7 284.5 58.4 285.5 58.2 286.5 58.1 287.5 58 288.5 58 289.5 58.1 290.5 58.2 291.5 58.4 292.5 58.6 293.5 59 294.5 59.4 295.5 59.9 296.5 60.5 297.2 61 297.9 61.5 299 62.4 299.6 63 300.5 63.9 301.1 64.5 301.9 65.5 302.5 66.2 303 66.9 303.5 67.5 304 68.3 304.5 69 305 69.9 305.5 70.8 306 71.9 306.4 73 306.5 73.8 306.4 75 306 75.9 305.4 76.5 304.5 77 303.5 77.4 302.5 77.6 301.5 77.8 300.5 78 299.5 78.1 298.5 78.2 297.5 78.3 296.5 78.3 295.5 78.4 294.5 78.4 293.5 78.5 292.5 78.5 292 78.5Z"/><path stroke="#11ffee" d="M293 78 292 78 291 78.1 290 78.1 289 78.1 288 78.1 287 78.2 286 78.2 285 78.2 284 78.2 283 78.1 282 78.1 281 78.1 280 78.1 279.1 78 278 77.9 277 77.8 276 77.7 275 77.6 274 77.3 273 77 272 76.6 271.1 76 270.5 75.2 270.2 74 270.2 73 270.5 72 270.9 71 271.4 70 271.9 69 272.5 68.1 273 67.4 273.5 66.7 274 66.1 274.9 65 275.5 64.3 276.3 63.5 277 62.9 278 62 278.7 61.5 279.5 61 280.3 60.5 281.3 60 282 59.7 283 59.3 283.9 59 285 58.7 286 58.6 287 58.5 288 58.4 289 58.5 290 58.6 291 58.7 292 59 293 59.3 294 59.7 295 60.1 296 60.7 297 61.4 297.8 62 298.5 62.6 299.5 63.5 300.4 64.5 301 65.2 301.7 66 302.4 67 303 67.8 303.5 68.6 304 69.5 304.5 70.5 304.9 71.5 305.2 72.5 305.3 73.5 305.1 74.5 304.5 75.5 303.5 76.2 302.5 76.7 301.6 77 300.5 77.3 299.5 77.4 298.5 77.6 297.5 77.7 296.5 77.8 295.5 77.9 294.5 77.9 293.5 78 293 78Z"/><path stroke="#3dffc2" d="M293.5 77.5 292.5 77.6 291.5 77.6 290.5 77.7 289.5 77.7 288.5 77.7 287.5 77.7 286.5 77.7 285.5 77.7 284.5 77.7 283.5 77.7 282.5 77.7 281.5 77.6 280.5 77.6 279.6 77.5 278.5 77.4 277.5 77.3 276.5 77.1 275.5 76.9 274.5 76.6 273.5 76.2 272.5 75.6 271.9 75 271.5 74.3 271.3 73 271.4 72 271.7 71 272.2 70 272.7 69 273.3 68 273.9 67 274.5 66.3 275.1 65.5 276 64.5 277 63.5 278 62.6 278.8 62 279.5 61.5 280.3 61 281.2 60.5 282 60.1 283 59.7 284 59.4 285 59.2 286 59 287 58.9 288 58.9 289 58.9 290 59 291 59.2 292 59.4 293 59.7 294 60.2 295 60.7 296 61.3 297 62 297.7 62.5 298.5 63.2 299.3 64 300 64.8 300.6 65.5 301.4 66.5 302 67.4 302.5 68.2 303 69 303.4 70 303.8 71 304.1 72 304.1 73 303.9 74 303.5 74.7 302.7 75.5 302 75.9 301 76.3 300 76.6 299 76.9 298 77 297 77.2 296 77.3 295 77.4 294 77.5 293.5 77.5Z"/><path stroke="#69ff96" d="M293.5 77 292.5 77.1 291.5 77.2 290.5 77.2 289.5 77.2 288.5 77.3 287.5 77.3 286.5 77.3 285.5 77.3 284.5 77.3 283.5 77.2 282.5 77.2 281.5 77.1 280.5 77.1 279.5 77 278.5 76.8 277.5 76.7 276.5 76.4 275.5 76.1 274.5 75.7 273.5 75.1 272.7 74 272.4 73 272.4 72 272.6 71 272.9 70 273.4 69 274 68 274.5 67.2 275 66.5 275.5 65.8 276.2 65 277 64.1 277.7 63.5 278.5 62.8 279.5 62 280.3 61.5 281.2 61 282 60.6 283 60.2 284 59.9 285 59.6 286 59.4 287 59.3 288 59.3 289 59.3 290 59.4 291 59.6 292 59.9 293 60.2 294 60.7 295 61.2 296 61.8 297 62.5 298 63.4 298.6 64 299.5 64.9 300.4 66 301 66.9 301.5 67.7 302 68.5 302.4 69.5 302.8 70.5 303 71.3 303.1 72.5 302.9 73.5 302.2 74.5 301.5 75.1 300.5 75.7 299.6 76 298.5 76.3 297.6 76.5 296.5 76.7 295.5 76.8 294.5 76.9 293.5 77Z"/><path stroke="#96ff69" d="M293.5 76.6 292.5 76.6 291.5 76.7 290.5 76.8 289.5 76.8 288.5 76.8 287.5 76.9 286.5 76.9 285.5 76.8 284.5 76.8 283.5 76.8 282.5 76.7 281.5 76.6 280.5 76.5 279.5 76.4 278.5 76.2 277.5 76 276.5 75.7 275.5 75.3 274.5 74.6 273.9 74 273.5 73.2 273.3 72 273.4 71 273.7 70 274.1 69 274.5 68.3 274.9 67.5 275.5 66.7 276 66 276.8 65 277.5 64.3 278.4 63.5 279 63 279.6 62.5 280.4 62 281.2 61.5 282 61.1 283 60.7 284 60.3 285 60.1 286 59.9 287 59.8 288 59.7 289 59.8 290 59.9 291 60.1 292 60.4 293 60.7 294 61.1 295 61.7 296 62.4 296.8 63 297.5 63.6 298.4 64.5 299 65.1 299.7 66 300.4 67 301 68 301.5 69 301.9 70 302.1 71 302.1 72 301.9 73 301.5 73.7 300.8 74.5 300 75 299 75.4 298 75.8 297.1 76 296 76.2 295 76.4 294 76.5 293.5 76.6Z"/><path stroke="#c2ff3d" d="M293.5 76.1 292.5 76.2 291.5 76.3 290.5 76.3 289.5 76.4 288.5 76.4 287.5 76.4 286.5 76.4 285.5 76.4 284.5 76.4 283.5 76.3 282.5 76.2 281.5 76.1 280.5 76 279.5 75.8 278.5 75.6 277.5 75.3 276.5 74.9 275.5 74.2 274.8 73.5 274.4 72.5 274.2 71.5 274.4 70.5 274.6 69.5 275 68.7 275.5 67.7 275.9 67 276.5 66.2 277 65.6 278 64.5 279 63.6 279.7 63 280.4 62.5 281.3 62 282 61.6 283 61.2 284 60.8 285 60.5 286 60.3 287 60.2 288 60.2 289 60.2 290 60.3 290.8 60.5 292 60.8 293 61.2 294 61.7 295 62.2 296 62.9 296.7 63.5 297.5 64.2 298.2 65 299 65.9 299.5 66.6 300 67.4 300.5 68.4 300.9 69.5 301.2 70.5 301.2 71.5 301 72.5 300.5 73.4 299.9 74 299.2 74.5 298.2 75 297 75.4 296 75.6 295 75.8 294 76 293.5 76.1Z"/><path stroke="#eeff11" d="M293.5 75.6 292.5 75.7 291.5 75.8 290.5 75.9 289.5 75.9 288.5 76 287.5 76 286.5 76 285.5 75.9 284.5 75.9 283.5 75.8 282.5 75.7 281.5 75.6 280.5 75.4 279.5 75.2 278.5 74.9 277.5 74.5 276.6 74 276 73.4 275.5 72.7 275.1 71.5 275.2 70.5 275.4 69.5 275.8 68.5 276.3 67.5 277 66.5 277.5 65.8 278.2 65 279 64.2 279.9 63.5 280.5 63 281.3 62.5 282.2 62 283 61.6 284 61.3 285 61 286 60.8 287 60.7 288 60.6 289 60.7 290 60.8 291 61 292 61.3 293 61.7 294 62.2 295 62.8 296 63.5 297 64.4 298 65.5 298.5 66.2 299 66.9 299.5 67.8 300 69 300.3 70 300.4 71 300.2 72 299.6 73 299 73.6 298 74.3 297 74.7 296.1 75 295 75.3 294 75.5 293.5 75.6Z"/><path stroke="#ffe300" d="M288.5 75.5 287.5 75.5 286.5 75.5 285.5 75.5 284.5 75.4 283.5 75.3 282.5 75.2 281.5 75.1 280.5 74.8 279.5 74.6 278.5 74.2 277.5 73.6 276.8 73 276.2 72 276 71 276.1 70 276.3 69 276.7 68 277.3 67 278 66 278.9 65 279.5 64.4 280.5 63.6 281.4 63 282.3 62.5 283 62.1 284 61.8 284.8 61.5 286 61.3 287 61.1 288 61.1 289 61.1 290 61.3 291 61.5 292 61.8 293 62.2 294 62.7 295 63.4 295.8 64 296.5 64.7 297.3 65.5 298 66.4 298.5 67.2 298.9 68 299.3 69 299.5 70 299.5 71 299.2 72 298.5 72.9 297.8 73.5 297 74 296 74.4 295 74.7 294 74.9 293 75.1 292 75.2 291 75.4 290 75.4 289 75.5 288.5 75.5Z"/><path stroke="#ffb700" d="M289 75 288 75 287 75.1 286 75 285 75 284 74.9 283 74.8 282 74.6 281 74.4 280 74 279 73.6 278.1 73 277.5 72.4 277 71.5 276.9 70.5 277 69.5 277.2 68.5 277.7 67.5 278.4 66.5 279 65.7 279.7 65 280.5 64.3 281.5 63.5 282.4 63 283.4 62.5 284.5 62.1 285.5 61.8 286.5 61.7 287.5 61.6 288.5 61.6 289.5 61.7 290.5 61.9 291.5 62.1 292.5 62.5 293.5 63 294.3 63.5 295 64 296 64.9 296.6 65.5 297.3 66.5 297.9 67.5 298.4 68.5 298.6 69.5 298.6 70.5 298.4 71.5 297.7 72.5 297 73.1 296 73.7 295.2 74 294 74.4 293 74.6 292 74.7 291 74.9 290 75 289 75Z"/><path stroke="#ff8b00" d="M289.5 74.5 288.5 74.6 287.5 74.6 286.5 74.6 285.5 74.5 284.5 74.4 283.5 74.3 282.5 74.1 281.5 73.9 280.5 73.5 279.5 73 278.8 72.5 278 71.5 277.8 70.5 277.8 69.5 278 68.6 278.5 67.5 279 66.6 279.5 66 280.4 65 281.5 64.1 282.5 63.5 283.5 63 284.5 62.6 285.5 62.3 286.5 62.1 287.5 62.1 288.5 62.1 289.5 62.2 290.5 62.4 291.5 62.7 292.3 63 293.3 63.5 294 63.9 294.7 64.5 295.5 65.2 296.2 66 296.9 67 297.4 68 297.7 69 297.8 70 297.6 71 297 72 296 72.8 295 73.4 294 73.7 293 74 292 74.2 291 74.4 290 74.5 289.5 74.5Z"/><path stroke="#ff5e00" d="M289 74 288 74.1 287 74.1 286 74 285 73.9 284 73.8 283 73.6 282 73.3 281.1 73 280.2 72.5 279.5 71.9 279 71.3 278.7 70.5 278.6 69.5 278.8 68.5 279.2 67.5 279.9 66.5 280.5 65.8 281.3 65 281.9 64.5 282.7 64 283.5 63.6 284.5 63.2 285.5 62.9 286.5 62.7 287.5 62.6 288.5 62.6 289.5 62.7 290.5 62.9 291.5 63.2 292.5 63.7 293.5 64.3 294.5 65 295.4 66 296 66.8 296.4 67.5 296.8 68.5 296.9 69.5 296.8 70.5 296.3 71.5 295.5 72.2 294.5 72.8 293.5 73.2 292.6 73.5 291.5 73.7 290.5 73.9 289.5 74 289 74Z"/><path stroke="#ff3200" d="M288.5 73.5 287.5 73.5 286.5 73.5 285.5 73.4 284.5 73.3 283.5 73.1 282.5 72.8 281.5 72.4 280.5 71.7 279.9 71 279.6 70 279.6 69 279.8 68 280.4 67 281 66.2 281.6 65.5 282.5 64.8 283.5 64.2 284.5 63.7 285.5 63.4 286.5 63.2 287.5 63.1 288.5 63.1 289.5 63.2 290.5 63.5 291.5 63.8 292.5 64.3 293.5 65 294.5 65.9 295.3 67 295.8 68 296 69 295.9 70 295.5 71 294.5 72 293.5 72.5 292.5 72.9 291.5 73.1 290.5 73.3 289.5 73.4 288.6 73.5 288.5 73.5Z"/><path stroke="#ff0600" d="M291 72.6 290 72.8 289 72.9 288 72.9 287 72.9 286 72.9 285 72.7 284 72.5 283 72.2 282 71.7 281.2 71 280.6 70 280.5 69 280.7 68 281.3 67 282 66.1 282.7 65.5 283.4 65 284.3 64.5 285.5 64 286.5 63.8 287.5 63.7 288.5 63.7 289.5 63.8 290.5 64.1 291.5 64.5 292.4 65 293.1 65.5 294 66.4 294.5 67.2 294.9 68 295.1 69 294.9 70 294.5 70.7 293.7 71.5 292.8 72 292 72.3 291 72.6Z"/><path stroke="#d80000" d="M290 72.1 289 72.2 288 72.3 287 72.3 286 72.2 285 72 284 71.7 283 71.3 282.1 70.5 281.6 69.5 281.6 68.5 282 67.5 282.5 66.7 283.2 66 283.9 65.5 284.8 65 286 64.6 287 64.4 288 64.3 289 64.4 290 64.6 291 65 291.9 65.5 292.5 66 293.4 67 293.9 68 294 69 293.7 70 293 70.8 292 71.5 291 71.8 290 72.1Z"/><path stroke="#ac0000" d="M288.5 71.5 287.5 71.5 286.7 71.5 285.5 71.3 284.6 71 283.7 70.5 283 69.7 282.8 68.5 283.1 67.5 283.9 66.5 284.6 66 285.5 65.5 286.5 65.2 287.5 65.1 288.5 65.1 289.5 65.3 290.5 65.7 291.5 66.3 292.2 67 292.7 68 292.8 69 292.3 70 291.5 70.7 290.5 71.1 289.5 71.4 288.7 71.5 288.5 71.5Z"/><path stroke="#800000" d="M288.5 70.5 287.5 70.6 286.6 70.5 285.5 70.1 284.6 69.5 284.3 68.5 284.5 67.7 285 67.1 285.9 66.5 287 66.1 288 66 289 66.2 289.8 66.5 290.5 66.9 291.2 68 291.2 69 290.5 69.8 289.5 70.3 288.5 70.5Z"/></g>
<g clip-path="url(#clip_aC)" fill="none" stroke-width="0.55" stroke-linejoin="round"><path stroke="#000080" d="M408.2 9.5 408.5 10.5 408.4 11.3 407.9 12 407.1 12.5 405.9 12.9 404.9 13.1 403.9 13.2 402.9 13.2 401.9 13.1 401.1 13 399.9 12.7 398.9 12.2 398.3 11.5 398.6 10.5 399.4 9.7 399.6 9.5M444.4 127 443.6 126.5 442.9 125.8 442.5 125 442.3 124 442.3 123 441.9 122.1 441.1 121.5 440.1 121 439 120.5 438 120 437.2 119.5 436.4 119 435.4 118.1 434.9 117.4 434.6 116.5 434.9 115.6 435.9 115.1 436.9 114.9 437.9 114.9 438.9 114.9 439.9 114.9 440.9 114.9 441.9 114.8 442.9 114.7 443.8 114.5 444.9 114.1 445.7 113.5 446.2 112.5 445.4 111.6 444.4 111 443.4 110.5 442.4 110 441.4 109.5 440.5 109 439.8 108.5 439.1 108 438.5 107.5 437.8 107 437.1 106.5 436.4 106.1 435.4 105.8 434.4 105.5 433.4 105.4 432.4 105.2 431.4 105.1 430.4 104.9 429.4 104.7 428.4 104.5 427.4 104.3 426.4 104 425.4 103.7 424.4 103.2 423.4 102.7 422.5 102 421.4 101 420.5 100 419.9 99.2 419.4 98.5 418.9 97.7 418.4 96.5 418.3 95.5 418.7 94.5 419.4 94.1 420.4 93.9 421.4 93.9 422.4 94 423.4 94.2 424.4 94.4 425.4 94.6 426.4 94.9 427.4 95.1 428.4 95.5 429.4 95.8 430.4 96.2 431.4 96.6 432.2 97 432.9 97.4 433.9 98 434.6 98.5 435.4 99.4 435.9 100.2 436.3 101 436.7 102 437.3 103 437.9 103.9 438.9 104.5 439.9 104.8 440.9 105 441.9 105.1 442.9 105.2 443.9 105.2 444.9 105.1 445.9 105.1 446.9 104.9 447.9 104.6 448.7 104 448.4 103.1 447.5 102.5 446.4 102 445.4 101.6 444.4 101.2 443.4 100.8 442.4 100.4 441.6 100 440.5 99.5 439.5 99 438.7 98.5 438 98 437.4 97.4 436.7 96.5 436 95.5 435.4 94.8 434.7 94 433.9 93.4 432.9 92.8 431.9 92.3 431.1 92 429.9 91.6 428.9 91.3 427.9 91.1 426.9 90.8 425.9 90.6 424.9 90.3 424 90 422.9 89.6 421.9 89.2 420.9 88.7 419.9 88 419.3 87.5 418.4 86.6 417.9 85.9 417.4 85 416.9 84 416.4 83 416 82 415.5 81 415.1 80 414.7 79 414.4 78.1 414 77 413.6 76 413.3 75 412.9 74 412.6 73 412.2 72 411.8 71 411.4 70.2 410.9 69.2 410.5 68.5 409.9 67.6 409.4 67 408.4 66 407.4 65 406.8 64.5 405.9 63.7 405.1 63 404.4 62 404.1 61 404.9 60.1 405.9 60.1 406.9 60.3 407.7 60.5 408.8 61 409.8 61.5 410.6 62 411.4 62.5 412.1 63 412.9 63.5 413.8 64 414.7 64.5 415.7 65 416.8 65.5 417.9 66 418.9 66.4 419.9 66.8 420.9 67.3 421.9 67.7 422.9 68.2 423.9 68.6 424.7 69 425.9 69.4 425.9 68.5 425.1 67.5 424.4 66.8 423.5 66 422.4 65 421.8 64.5 420.9 63.7 420.1 63 419.4 62.3 418.6 61.5 417.9 60.6 417.4 60 416.9 59.2 416.5 58.5 416 57.5 415.6 56.5 415.3 55.5 415.1 54.5 414.8 53.5 414.8 52.5 415.9 52.5 416.9 52.7 417.9 52.9 418.9 53.1 419.9 53.3 420.8 53.5 421.9 53.8 422.7 54 423.9 54.4 424.9 54.7 425.7 55 426.9 55.4 427.9 55.8 428.9 56.2 429.9 56.6 430.9 57 431.9 57.3 432.9 57.1 432.5 56 431.9 55.1 430.9 54 429.9 53.1 429.3 52.5 428.4 51.5 427.9 50.6 427.5 49.5 427.3 48.5 427.7 47.5 428.4 47 429.4 46.8 430.4 46.7 431.4 46.8 432.4 46.9 433.4 47 434.4 47.1 435.4 47.2 436.4 47.3 437.4 47.4 438.4 47.4 439.4 47.5 440.4 47.5 441.4 47.4 442.4 47.3 443.4 47.1 443.4 46.2 442.4 45.7 441.4 45.4 440.4 45.1 439.4 44.8 438.4 44.6 437.4 44.3 436.4 44.1 435.4 43.8 434.4 43.5 433.4 43.2 432.4 42.8 431.4 42.2 430.7 41.5 430.2 40.5 430.1 39.5 430.4 38.5 430.9 37.7 431.5 37 432.2 36.5 432.9 36.1 433.9 35.7 434.9 35.4 435.9 35.1 435.4 34.2 434.4 33.6 433.7 33 433.1 32 433.2 31 433.6 30 434.2 29 434.9 28 435.2 27 434.7 26 433.9 25.2 433.1 24.5 432.4 23.8 431.9 23.1 431.9 22 432.4 21.4 433.4 20.8 434.4 20.3 435.4 20 436.4 19.7 437.3 19.5 438.4 19.3 439.4 19.1 440.4 18.9 441.4 18.7 442.4 18.5 443.4 18.4 444.4 18.2 445.4 18.1 446.2 18 447.4 17.9 448.4 17.8 449.4 17.7 450.4 17.6 451.4 17.5 452.4 17.5 453.4 17.4 454.4 17.3 455.4 17.3 456.4 17.2 457.4 17.2 458.4 17.2 459.4 17.1 460.4 17.1 461.4 17 462.4 17 463.4 16.9 464.4 16.8 465.4 16.6 466.4 16.5 465.4 16.3 464.4 16.2 463.4 16.1 462.4 16 461.5 16 460.4 16 459.4 16 458.4 16 457.4 15.9 456.4 15.9 455.4 15.9 454.4 15.9 453.4 15.8 452.4 15.8 451.4 15.7 450.4 15.7 449.4 15.6 448.4 15.6 447.4 15.5 446.4 15.5 445.4 15.5 444.4 15.4 443.4 15.4 442.4 15.4 441.4 15.4 440.4 15.4 439.4 15.4 438.4 15.4 437.4 15.4 436.4 15.3 435.4 15.3 434.4 15.3 433.4 15.2 432.4 15.1 431.6 15 430.4 14.8 429.4 14.6 428.4 14.3 427.4 14 426.4 13.6 425.4 13 424.7 12.5 423.9 11.7 423.3 11 422.6 10 422.4 9.5M503.9 9.5 504.9 9.7 505.9 10 506.9 10.4 507.6 11.5 507 12.5 506.3 13 505.4 13.4 504.4 13.7 503.6 14 502.4 14.3 501.5 14.5 500.4 14.7 499.4 15 498.4 15.2 497.4 15.4 496.4 15.7 495.4 16 494.4 16.4 494.4 17.5 495.4 17.9 496.4 18.2 497.4 18.5 498.4 18.7 499.4 18.8 500.4 19 501.4 19.1 502.4 19.2 503.4 19.3 504.4 19.3 505.4 19.4 506.4 19.6 507.4 19.8 508.4 20.2 509.1 21 508.9 21.9 508.4 22.5 507.4 23.3 506.4 23.9 505.4 24.4 504.4 24.9 503.4 25.4 502.4 26 501.9 27 502.4 27.7 503.4 28.5 504.2 29 504.9 29.4 505.9 29.7 506.9 30 507.9 30.1 508.9 30.2 509.9 30.3 510.9 30.4 511.9 30.5 512.9 30.7 513.6 31 514.1 32 513.5 33 512.4 33.9 511.5 34.5 510.8 35 509.9 35.8 509.4 36.8 509.3 38 509.3 39 509.3 40 509.1 41 508.7 42 507.9 42.8 506.9 43.4 505.9 43.8 504.9 44.2 503.9 44.5 502.9 44.8 501.9 45.2 500.9 45.5 499.9 45.9 498.9 46.5 499.4 47.1 500.4 47.3 501.4 47.3 502.4 47.2 503.4 47.1 504.4 47 505.4 46.8 506.4 46.5 507.4 46.2 508.4 45.7 509.4 45.2 510.4 44.5 511.2 44 512.1 43.5 512.9 43.2 513.9 42.8 514.9 42.4 515.9 42 516.9 41.7 517.9 41.3 518.9 40.8 519.7 40.5 520.8 40 521.9 39.6 522.9 39.3 523.9 39.1 524.9 39.2 525.9 39.9 525.6 41 524.9 41.7 523.9 42.5 523.2 43 522.5 43.5 521.9 44 521.2 44.5 520.5 45 519.8 45.5 519 46 518.2 46.5 517.4 46.9 516.5 47.5 515.6 48 514.9 48.5 514.2 49 513.4 49.7 512.6 50.5 511.9 51.1 511 52 509.9 53 508.9 53.9 508.2 54.5 507.4 55.5 506.9 56.3 506.4 57 505.9 57.7 505.2 58.5 504.4 59.4 503.8 60 502.9 60.8 502 61.5 501.4 62 502.4 62.2 503.4 61.6 504.4 61 505.1 60.5 505.8 60 506.5 59.5 507.1 59 507.8 58.5 508.5 58 509.2 57.5 509.9 57 510.7 56.5 511.6 56 512.4 55.6 513.4 55 514.4 54.6 515.4 54.2 516.4 53.8 517.4 53.5 518.4 53.2 519.4 53 520.4 52.8 521.4 52.7 522.4 52.6 523.4 52.6 524.4 52.8 525.4 53.2 525.9 53.9 526.1 55 526 56 525.7 57 525.2 58 524.6 59 523.9 60 523.4 60.6 522.6 61.5 521.9 62.1 520.9 62.9 520 63.5 519.3 64 518.5 64.5 517.6 65 516.9 65.5 516.1 66 515.5 66.5 514.4 67.5 513.9 68.2 513.8 69 514.7 69 515.9 68.7 516.9 68.3 517.9 68 518.9 67.7 519.9 67.4 520.9 67.1 521.9 66.7 522.7 66.5 523.9 66.1 524.9 65.8 525.9 65.5 526.9 65.2 527.9 64.8 528.9 64.3 529.9 63.5 530.7 62.5 531.2 61.5 531.7 60.5 532.1 59.5 532.6 58.5 533.2 57.5 533.9 56.6 534.9 55.5 535.9 54.5 536.4 53.9 536.9 53 537.4 52.1 538.4 51.1 539.4 50.6 540.4 50.2 541.4 49.9 542.4 49.7 543.2 49.5 544.4 49.3 545.4 49.2 546.4 49.1M404.9 32.1 403.9 32.3 402.9 32.4 401.9 32.5 400.9 32.5 399.9 32.4 398.9 32.3 397.9 32.1 396.9 31.8 396 31 396.2 30 396.9 29.3 397.9 28.5 398.6 28 399.3 27.5 400 27 400.9 26.1 401.4 25 401.2 24 401.3 23 402.4 22.3 403.4 22.1 404.4 22 405.4 22.2 406.2 22.5 406.8 23 407.1 24 407 25 407 26 407.3 27 407.9 28 408.3 29 408.2 30 407.5 31 406.7 31.5 405.9 31.8 404.9 32.1ZM461.3 27 462.4 26.8 463.4 26.6 462.4 25.9 461.4 25.7 460.4 25.6 459.4 25.4 458.4 25.3 457.4 25.2 456.4 25.2 455.4 25.2 454.4 25.2 453.4 25.2 452.4 25.3 451.4 25.4 450.4 25.9 450.9 26.5 451.9 26.8 452.9 27 453.9 27.1 454.9 27.2 455.9 27.2 456.9 27.2 457.9 27.2 458.9 27.2 459.9 27.1 460.9 27 461.3 27ZM484.7 26.5 485.9 26.2 485.4 25.5 484.4 25.4 483.4 25.4 482.4 25.4 481.4 25.4 480.4 25.4 479.4 25.5 478.4 25.6 477.4 25.8 476.4 25.9 475.4 26.1 476.4 26.7 477.4 26.8 478.4 26.9 479.4 26.9 480.4 26.9 481.4 26.8 482.4 26.7 483.4 26.7 484.4 26.5 484.7 26.5ZM455.8 37 456.9 36.6 456.4 35.9 455.4 35.6 454.4 35.4 453.4 35.2 452.4 35.1 451.4 35 450.4 34.9 449.4 34.9 448.4 34.8 447.4 34.8 446.4 34.7 445.4 34.7 444.4 34.7 443.4 34.7 442.4 34.8 441.4 34.8 440.4 34.9 439.4 34.9 440.4 35.6 441.4 35.8 442.4 36.1 443.4 36.2 444.4 36.4 445.4 36.6 446.4 36.7 447.4 36.8 448.4 36.9 449.4 37 450.4 37.1 451.4 37.2 452.4 37.2 453.4 37.2 454.4 37.2 455.4 37.1 455.8 37ZM490.3 37 491.4 36.8 492.4 36.7 493.4 36.5 494.4 36.3 495.4 36 496.4 35.7 497.4 35 496.4 34.7 495.4 34.6 494.4 34.6 493.4 34.6 492.4 34.7 491.4 34.8 490.4 34.9 489.4 35 488.4 35.1 487.4 35.3 486.5 35.5 485.4 35.8 484.4 36.2 484.7 37 485.9 37.2 486.9 37.2 487.9 37.2 488.9 37.1 489.9 37 490.3 37ZM413.4 51.7 412.4 51.7 411.4 51.5 410.4 51.3 409.4 51.1 408.4 50.8 407.4 50.5 406.5 50 406 49 406.8 48 407.9 47.6 408.9 47.7 409.9 47.9 410.9 48.4 411.8 49 412.4 49.5 413.2 50.5 413.7 51.5 413.4 51.7ZM546.4 56.9 545.8 57.5 544.9 58.3 544.1 59 543.4 59.6 542.4 60.3 541.4 61 540.5 61.5 539.5 62 538.4 62.5 537.4 63 536.4 63.4 535.4 63.8 534.4 64.2 533.4 64.7 532.4 65.4 531.6 66.5 531.1 67.5 530.8 68.5 530.6 69.5 530.4 70.5 530.4 71.5 531.4 71 532.2 70.5 532.9 70.1 533.9 69.6 534.9 69.2 535.9 68.8 536.9 68.5 537.9 68.2 538.7 68 539.9 67.7 540.8 67.5 541.9 67.3 542.9 67.1 543.9 66.8 544.9 66.6 545.9 66.5 546.4 66.4M394.9 68.6 395.9 68.2 396.9 68.2 397.9 68.2 398.9 68.4 399.9 68.6 400.9 68.9 401.9 69.2 402.8 69.5 403.9 70 404.9 70.5 405.9 71 406.6 71.5 407.3 72 407.9 72.5 408.8 73.5 409.4 74.2 409.9 74.9 410.4 75.7 410.8 76.5 411.3 77.5 411.7 78.5 412 79.5 412.3 80.5 412.6 81.5 412.8 82.5 413 83.5 413.3 84.5 413.5 85.5 413.8 86.5 414 87.5 413.9 88.5 413.4 89.4 412.4 89.9 411.4 90 410.4 90 409.4 90 408.4 89.8 407.4 89.7 406.4 89.5 405.4 89.3 404.5 89 403.4 88.6 402.4 88.2 401.4 87.7 400.4 87 399.4 86.1 398.9 85.5 398.1 84.5 397.5 83.5 397 82.5 396.6 81.5 396.2 80.5 395.9 79.6 395.6 78.5 395.3 77.5 395.1 76.5 394.9 75.5M496.2 103.5 497.4 103.4 498.4 103.3 499.4 103.2 500.4 103.1 501.4 103 502.4 102.8 503.4 102.6 504.4 102.3 505.4 101.8 506.4 101 507.3 100 507.9 99.3 508.5 98.5 509.4 97.5 510.4 96.5 511.4 95.6 512.3 95 513.1 94.5 513.9 94.1 514.9 93.6 515.9 93.2 516.9 92.8 517.9 92.5 518.9 92.2 519.9 91.8 520.6 91.5 521.4 91.2 522.4 90.6 523.1 90 523.9 89 524.4 88.2 524.8 87.5 525.4 86.5 525.9 85.6 526.4 84.6 526.9 83.5 527.2 82.5 527.5 81.5 527.8 80.5 528 79.5 528.3 78.5 528.5 77.5 528.7 76.5 528.9 75.7 529 74.5 528.3 75 527.6 76 527 77 526.5 78 526 79 525.5 80 524.9 81 524.4 81.9 523.9 82.8 523.4 83.5 522.9 84.2 522.4 84.9 521.8 85.5 520.9 86.4 520 87 519.2 87.5 518.4 88 517.4 88.4 516.4 88.9 515.4 89.3 514.4 89.6 513.5 90 512.4 90.4 511.4 90.8 510.4 91.2 509.4 91.7 508.4 92.2 507.4 92.8 506.4 93.5 505.7 94 504.9 94.7 504.1 95.5 503.4 96.1 502.5 97 501.4 97.9 500.4 98.5 499.4 99 498.4 99.4 497.4 99.7 496.5 100 495.4 100.3 494.4 100.5 493.4 100.7 492.4 100.8 491.4 101 490.4 101.1 489.4 101.3 488.4 101.4 487.6 101.5 486.4 101.7 485.4 101.9 484.4 102.1 483.4 102.5 483.9 103.2 484.8 103.5 485.9 103.7 486.9 103.8 487.9 103.8 488.9 103.8 489.9 103.8 490.9 103.8 491.9 103.8 492.9 103.7 493.9 103.7 494.9 103.6 495.9 103.5 496.2 103.5ZM462.8 83 462 82 460.9 81.1 460.3 80.5 459.4 79.7 458.7 79 457.9 78.3 456.9 77.5 457.1 78.5 457.8 79.5 458.4 80.3 459 81 459.9 81.8 460.8 82.5 461.8 83 462.8 83ZM480.5 81.5 481.4 80.7 482 80 482.7 79 483.3 78 482.4 77.9 481.8 78.5 480.9 79.5 480.4 80.2 479.9 80.8 479.5 81.5 480.4 81.6 480.5 81.5ZM546.4 77.9 545.9 78.9 545.4 79.9 544.9 80.8 544.4 81.7 543.9 82.5 543.4 83.2 542.9 83.9 542.4 84.6 541.6 85.5 540.9 86.2 539.9 87 539.2 87.5 538.4 88 537.5 88.5 536.4 89 535.4 89.4 534.4 89.7 533.6 90 532.4 90.4 531.4 90.7 530.4 91 529.4 91.3 528.4 91.6 527.5 92 526.5 92.5 525.9 93 524.9 94 524.4 94.7 523.9 95.3 523.3 96 522.4 96.9 521.7 97.5 521 98 520.3 98.5 519.4 99 518.5 99.5 517.5 100 516.4 100.5 515.4 100.8 514.4 101.2 513.5 101.5 512.4 101.9 511.4 102.1 510.4 102.4 509.4 102.8 508.4 103.2 507.4 103.7 506.5 104.5 505.9 105.2 505.2 106 504.4 106.9 503.4 107.9 502.8 108.5 501.9 109.3 501 110 500.3 110.5 499.6 111 498.9 111.5 498.3 112 497.6 112.5 496.9 113.1 496 114 495.5 115 495.4 116 495.6 117 495.9 118 496.2 119 496.6 120 497.1 121 497.4 121.8 497.8 123 498.1 124 498.1 125 497.9 126 497.4 126.8 497.2 127M500.6 87 501.4 86.7 502.4 86 503.1 85.5 503.9 84.6 504.4 83.8 504.8 83 505 82 504 82 502.9 83 501.9 83.9 501.3 84.5 500.4 85.4 499.7 86 498.9 86.9 499.9 87.2 500.6 87ZM441.6 88 441 87 440.4 86.4 439.5 85.5 438.9 84.8 438.1 84 437.4 83.4 436.4 82.6 435.9 83.2 436.2 84 436.7 85 437.4 85.9 438 86.5 438.9 87.2 439.9 87.8 440.9 88.1 441.6 88ZM483.5 93.5 484.4 93.3 485.2 93 486.4 92.6 487.4 92.1 488.4 91.6 489.4 91.1 490.3 90.5 489.4 90.3 488.4 90.3 487.4 90.4 486.4 90.6 485.4 90.7 484.4 90.9 483.4 91.2 482.4 91.4 481.4 91.8 480.4 92.3 479.6 93 480.4 93.7 481.4 93.8 482.4 93.7 483.4 93.5 483.5 93.5ZM458.8 93.5 458.4 92.7 457.4 92.3 456.4 91.9 455.4 91.7 454.4 91.5 453.4 91.3 452.4 91.1 451.4 91 450.4 90.9 449.4 91 449.9 91.6 450.6 92 451.9 92.5 452.9 92.8 453.9 93.1 454.9 93.4 455.9 93.6 456.9 93.7 457.9 93.7 458.8 93.5ZM536.4 100.6 535.4 100.8 534.4 100.9 533.4 100.8 532.5 100.5 531.9 99.9 531.8 99 532.2 98 532.9 97.2 533.8 96.5 534.7 96 535.4 95.7 536.4 95.3 537.4 94.9 538.4 94.6 539.4 94.4 540.4 94.2 541.4 94.2 542.4 94.5 542.6 95.5 542.3 96.5 541.7 97.5 540.9 98.3 540.1 99 539.4 99.4 538.4 99.9 537.4 100.3 536.4 100.6ZM407.4 100.5 406.4 100.8 405.4 100.9 404.4 100.8 403.4 100.7 402.4 100.4 401.6 100 400.8 99.5 399.9 98.6 399.4 97.7 399.2 96.5 399.7 95.5 400.4 95.1 401.4 94.9 402.4 94.8 403.4 94.9 404.4 95.1 405.4 95.3 406.4 95.6 407.3 96 408.2 96.5 408.9 97.2 409.3 98 409.2 99 408.4 100 407.4 100.5 407.4 100.5ZM512.4 116 511.4 116.1 510.4 116.1 509.4 115.9 508.4 115.5 507.9 114.5 508.1 113.5 508.4 112.5 508.8 111.5 509.3 110.5 509.9 109.5 510.9 108.5 511.9 107.7 512.9 107.1 513.9 106.7 514.9 106.3 515.9 106.1 516.9 105.8 517.9 105.6 518.8 105.5 519.9 105.4 520.9 105.3 521.9 105.3 522.9 105.3 523.9 105.5 524.8 106 524.9 107 524.5 108 523.9 109 523.4 109.7 522.9 110.3 522.4 110.9 521.5 112 520.9 112.6 519.9 113.4 519.1 114 518.2 114.5 517.4 114.9 516.4 115.2 515.5 115.5 514.4 115.8 513.4 115.9 512.4 116ZM476.7 112.5 477.9 112.2 478.9 111.5 478.4 110.8 477.4 110.4 476.4 110.2 475.4 110.1 474.4 110.1 473.4 110.1 472.4 110.1 471.4 110.1 470.4 110.2 469.4 110.2 468.4 110.2 467.4 110.2 466.4 110.2 465.4 110.1 464.4 110.1 463.4 110.1 462.4 110.1 461.4 110 460.4 110 459.4 110.1 458.4 110.2 457.4 110.3 456.4 110.6 456.1 111.5 456.9 111.8 457.9 112.1 458.9 112.3 459.9 112.4 460.9 112.6 461.9 112.6 462.9 112.7 463.9 112.8 464.9 112.8 465.9 112.9 466.9 112.9 467.9 112.9 468.9 112.9 469.9 112.9 470.9 112.9 471.9 112.9 472.9 112.9 473.9 112.8 474.9 112.7 475.9 112.6 476.7 112.5ZM424.9 125.2 423.9 125.4 422.9 125.4 421.9 125.3 421 125 419.9 124.6 418.9 124 418.3 123.5 417.4 122.8 416.4 122 415.8 121.5 415 121 414.2 120.5 413.4 120 412.5 119.5 411.6 119 410.9 118.6 410 118 409.3 117.5 408.4 116.6 407.9 115.9 407.6 115 407.8 114 408.4 113.1 409.4 112.5 410.4 112.3 411.4 112.3 412.4 112.5 413.4 112.8 414.4 113.2 415.4 113.8 416.4 114.5 417.1 115 417.9 115.8 418.6 116.5 419.4 117.5 420.3 118.5 420.9 119.2 421.7 120 422.4 120.6 423.4 121.5 424.4 122.4 425.3 123.5 425.5 124.5 424.9 125.2ZM458.8 123 459.9 122.9 460.9 122.7 461.9 122.6 462.9 122.4 463.9 122.2 464.9 122.1 465.9 122 466.9 121.9 467.9 121.9 468.9 121.9 469.8 122 470.9 122.1 471.9 122.1 472.9 122.2 473.9 122.2 474.9 122.2 475.9 122.2 476.9 122.2 477.9 122.1 478.9 122 479.9 121.9 480.9 121.7 481.9 121.5 482.9 121.2 483.9 120.8 484.2 120 483.4 119.8 482.4 119.7 481.4 119.7 480.4 119.7 479.4 119.7 478.4 119.7 477.4 119.8 476.4 119.8 475.4 119.9 474.4 120.1 473.4 120.2 472.4 120.3 471.4 120.5 470.4 120.6 469.4 120.8 468.4 120.9 467.4 121 466.4 121 465.4 120.9 464.4 120.9 463.4 120.7 462.4 120.5 461.4 120.4 460.4 120.2 459.4 120 458.4 119.9 457.4 119.7 456.4 119.5 455.4 119.4 454.4 119.2 453.4 119.1 452.4 119 451.4 118.9 450.4 118.9 449.4 118.9 448.4 119 447.4 119.2 446.4 119.7 445.5 120.5 445.4 121.4 446.3 122 447.4 122.3 448.4 122.6 449.4 122.8 450.4 122.9 451.2 123 452.4 123.1 453.4 123.2 454.4 123.2 455.4 123.2 456.4 123.2 457.4 123.1 458.4 123 458.8 123Z"/><path stroke="#0000ac" d="M478.8 9.5 479.9 9.6 480.9 9.6 481.9 9.7 482.9 9.8 483.9 9.8 484.9 9.9 485.8 10 486.9 10.1 487.9 10.2 488.9 10.4 489.8 10.5 490.9 10.7 491.9 10.9 492.9 11.2 493.7 11.5 494.2 12.5 493.6 13 492.4 13.5 491.4 13.8 490.6 14 489.4 14.2 488.4 14.4 487.4 14.5 486.4 14.7 485.4 14.7 484.4 14.8 483.4 14.8 482.4 14.8 481.4 14.8 480.4 14.8 479.4 14.8 478.4 14.7 477.4 14.7 476.4 14.6 475.4 14.6 474.4 14.6 473.4 14.5 472.4 14.5 471.4 14.5 470.4 14.5 469.4 14.4 468.4 14.4 467.4 14.4 466.4 14.4 465.4 14.4 464.4 14.4 463.4 14.4 462.4 14.4 461.4 14.3 460.4 14.3 459.4 14.3 458.4 14.2 457.4 14.2 456.4 14.1 455.4 14 454.4 13.9 453.4 13.8 452.4 13.7 451.4 13.5 450.4 13.3 449.4 13.1 448.4 12.8 447.6 12.5 447.3 11.5 448.2 11 449.4 10.6 450.4 10.3 451.4 10.1 452.4 9.8 453.4 9.6 454.2 9.5M476.4 24.5 475.4 24.6 474.4 24.7 473.4 24.7 472.4 24.8 471.4 24.8 470.4 24.8 469.4 24.9 468.4 24.8 467.4 24.8 466.4 24.8 465.4 24.7 464.4 24.6 463.4 24.5 462.4 24.4 461.4 24.3 460.4 24.2 459.4 24.1 458.4 24 457.4 23.9 456.4 23.7 455.4 23.6 454.4 23.6 453.4 23.5 452.4 23.4 451.4 23.3 450.4 23.2 449.4 23.1 448.4 23 447.4 22.8 446.4 22.5 445.6 22 446.3 21 447.4 20.6 448.4 20.3 449.4 20 450.4 19.8 451.4 19.6 452.4 19.5 453.4 19.3 454.4 19.2 455.4 19.1 456.4 19 457.4 18.9 458.4 18.8 459.4 18.8 460.4 18.7 461.4 18.6 462.4 18.6 463.3 18.5 464.4 18.4 465.4 18.4 466.4 18.3 467.4 18.3 468.4 18.2 469.4 18.1 470.4 18.1 471.4 18 472.4 18 473.4 17.9 474.4 17.8 475.4 17.8 476.4 17.7 477.4 17.7 478.4 17.7 479.4 17.7 480.4 17.7 481.4 17.7 482.4 17.7 483.4 17.8 484.4 18 485.4 18.1 486.4 18.3 487.4 18.6 488.4 18.8 489.4 19.2 490.4 19.5 491.4 19.9 492.4 20.4 493.4 21 493.6 22 492.9 22.4 491.9 22.7 490.9 22.9 489.9 23.1 488.9 23.2 487.9 23.4 486.9 23.5 485.9 23.6 484.9 23.7 483.9 23.8 482.9 23.9 481.9 24 480.9 24.1 479.9 24.2 478.9 24.3 477.9 24.4 476.9 24.5 476.4 24.5ZM473.9 108 472.9 108.1 471.9 108.2 470.9 108.3 469.9 108.4 468.9 108.4 467.9 108.4 466.9 108.4 465.9 108.4 464.9 108.3 463.9 108.2 462.9 108.1 461.9 107.9 460.9 107.7 459.9 107.5 458.9 107.2 457.9 106.7 457.2 106 457 105 457.1 104 456.4 103 455.4 102.5 454.4 102.2 453.4 101.9 452.4 101.7 451.4 101.4 450.4 101.1 449.4 100.9 448.4 100.6 447.4 100.2 446.4 99.9 445.5 99.5 444.5 99 443.6 98.5 442.8 98 442.1 97.5 441.4 96.8 440.7 96 440.1 95 439.6 94 439.3 93 439.4 92 440.4 91.8 441.4 91.8 442.4 91.9 443.4 92.1 444.4 92.2 445.4 92.4 446.4 92.6 447.4 92.9 448.4 93.1 449.4 93.4 450.4 93.6 451.4 93.9 452.4 94.2 453.4 94.4 454.4 94.7 455.4 94.9 456.4 95.2 457.4 95.4 458.4 95.6 459.4 95.7 460.4 95.8 461.4 95.9 462.4 95.8 463.4 95.6 464.4 95 464.6 94 463.9 93.4 462.9 92.8 461.9 92.3 461.1 92 459.9 91.6 458.9 91.3 457.9 91.1 456.9 90.8 455.9 90.6 454.9 90.4 453.9 90.2 452.9 90 451.9 89.8 450.9 89.6 449.9 89.4 448.9 89.2 447.9 88.9 446.9 88.5 445.9 88.2 444.9 87.7 443.9 87.2 442.9 86.6 442 86 441.3 85.5 440.4 84.7 439.6 84 438.9 83.4 438 82.5 437.4 81.8 436.7 81 435.9 80 435.4 79.4 434.9 78.7 434.4 78 433.9 77.3 433.4 76.5 432.9 75.7 432.5 75 431.9 74 431.4 73.1 430.9 72.2 430.5 71.5 429.9 70.5 429.4 69.7 428.9 69 428.4 68.2 427.9 67.6 427.4 66.9 426.9 66.3 426.3 65.5 425.4 64.5 424.9 63.8 424.4 63.2 423.9 62.5 423.4 61.5 423.1 60.5 423.2 59.5 423.9 58.9 424.9 58.6 425.9 58.6 426.9 58.8 427.9 59 428.9 59.3 429.9 59.6 430.9 60 431.9 60.3 432.9 60.7 433.9 61.1 434.8 61.5 435.9 61.9 436.9 62.3 437.9 62.7 438.9 63.1 439.8 63.5 440.9 63.9 441.9 64.3 442.9 64.7 443.9 65.1 444.9 65 444 64 443.4 63.4 442.4 62.6 441.8 62 440.9 61.3 440.1 60.5 439.4 59.9 438.5 59 437.9 58.3 437.2 57.5 436.5 56.5 435.9 55.5 435.4 54.6 434.9 53.9 434.4 53.1 433.9 52.1 433.8 51 434.4 50.3 435.4 49.8 436.4 49.6 437.4 49.4 438.4 49.3 439.4 49.3 440.4 49.2 441.4 49.2 442.4 49.2 443.4 49.1 444.4 49.1 445.4 49 446.4 48.9 447.4 48.7 448.4 48.4 449.4 48 450.2 47.5 450.6 46.5 449.9 45.9 448.9 45.5 447.9 45.3 446.9 45 445.9 44.7 445 44.5 443.9 44.2 443.1 44 441.9 43.6 440.9 43.3 440.1 43 439 42.5 438.2 42 437.4 41.2 437.2 40 437.9 39.3 438.9 38.9 439.9 38.6 440.9 38.4 441.9 38.3 442.9 38.3 443.9 38.2 444.9 38.2 445.9 38.2 446.9 38.3 447.9 38.3 448.9 38.3 449.9 38.4 450.9 38.4 451.9 38.4 452.9 38.5 453.9 38.5 454.9 38.5 455.9 38.4 456.9 38.3 457.9 38.2 458.9 38.1 459.9 37.9 460.9 37.7 461.7 37.5 462.9 37 463.5 36.5 462.9 35.9 462 35.5 460.9 35.2 460.1 35 458.9 34.8 457.9 34.6 456.9 34.4 455.9 34.2 454.9 34.1 453.9 34 452.9 33.8 451.9 33.7 450.9 33.5 449.9 33.4 448.9 33.2 447.9 33.1 446.9 32.9 445.9 32.7 445 32.5 443.9 32.1 442.9 31.7 442.1 31 442.2 30 442.9 29.5 443.9 29 444.9 28.8 445.9 28.7 446.9 28.6 447.9 28.5 448.9 28.5 449.9 28.5 450.9 28.5 451.9 28.5 452.9 28.5 453.9 28.5 454.9 28.5 455.9 28.5 456.9 28.5 457.9 28.5 458.9 28.4 459.9 28.4 460.9 28.3 461.9 28.3 462.9 28.2 463.9 28.1 464.9 28.1 465.9 28.1 466.9 28 467.8 28 468.9 28 469.9 28 470.9 28 471.9 28 472.9 28 473.9 28 474.9 28 475.9 28.1 476.9 28.1 477.9 28.1 478.9 28.1 479.9 28.1 480.9 28.1 481.9 28 482.9 28 483.9 28 484.9 27.9 485.9 27.9 486.9 27.9 487.9 27.9 488.9 27.8 489.9 27.9 490.9 27.9 491.9 28 492.9 28.1 493.9 28.3 494.8 28.5 495.9 29 496.7 29.5 497.3 30.5 496.9 31.3 495.9 32 494.9 32.4 493.9 32.7 493 33 491.9 33.2 490.9 33.5 489.9 33.7 488.9 33.8 488.1 34 486.9 34.2 485.9 34.4 484.9 34.6 483.9 34.8 482.9 35 481.9 35.2 480.9 35.4 479.9 35.7 479.1 36 478.4 36.4 478.9 37.4 479.9 37.8 480.9 38.1 481.9 38.2 482.9 38.3 483.9 38.4 484.9 38.4 485.9 38.4 486.9 38.4 487.9 38.3 488.9 38.2 489.9 38.2 490.9 38.1 491.9 38 492.9 37.9 493.9 37.8 494.9 37.7 495.9 37.6 496.9 37.5 497.9 37.5 498.9 37.5 499.9 37.5 500.9 37.6 501.9 37.8 502.9 38.2 503.9 38.9 504.4 40 504.2 41 503.4 42 502.8 42.5 501.9 43 501 43.5 499.9 44 498.9 44.3 497.9 44.7 497.1 45 495.9 45.4 494.9 45.8 493.9 46.2 492.9 46.8 492.4 47.5 492.9 48.4 493.9 48.7 494.9 48.9 495.9 49 496.9 49.1 497.9 49.1 498.9 49.1 499.9 49.1 500.9 49.1 501.9 49.2 502.9 49.2 503.9 49.3 504.9 49.4 505.9 49.7 506.8 50.5 506.9 51.4 506.5 52.5 505.9 53.5 505.4 54.3 504.9 55.2 504.5 56 503.9 57 503.4 57.7 502.9 58.4 502.4 59 501.4 60 500.4 60.9 499.7 61.5 499 62 498.4 62.5 497.7 63 497 63.5 496.4 64 495.8 64.5 494.9 65.2 494.1 66 493.4 67 494.4 66.9 495.4 66.6 496.4 66.2 497.4 65.8 498.2 65.5 499.4 65.1 500.4 64.7 501.4 64.3 502.4 63.9 503.3 63.5 504.4 63 505.4 62.5 506.3 62 507.2 61.5 507.9 61 508.7 60.5 509.5 60 510.3 59.5 511 59 511.9 58.5 512.8 58 513.9 57.5 514.9 57.1 515.9 56.9 516.9 56.7 517.9 56.6 518.9 56.8 519.9 57.3 520.3 58.5 520.1 59.5 519.5 60.5 518.9 61.2 518.1 62 517.4 62.6 516.4 63.4 515.6 64 514.9 64.5 514.3 65 513.4 65.7 512.6 66.5 511.9 67.4 511.4 68 510.9 68.8 510.4 69.7 510 70.5 509.6 71.5 509.2 72.5 508.8 73.5 508.4 74.3 508 75 507.4 75.9 506.9 76.6 506.4 77.3 505.9 77.9 505.4 78.5 504.9 79.2 504.3 80 503.4 81 502.5 82 501.9 82.6 500.9 83.5 499.9 84.4 499 85 498.3 85.5 497.4 86 496.4 86.5 495.4 86.9 494.4 87.3 493.4 87.7 492.4 88 491.4 88.2 490.4 88.5 489.4 88.7 488.4 88.9 487.4 89.1 486.4 89.3 485.6 89.5 484.4 89.7 483.4 90 482.4 90.2 481.4 90.5 480.4 90.7 479.6 91 478.4 91.4 477.4 91.8 476.4 92.3 475.4 93 474.9 93.9 475.4 94.8 476.4 95.3 477.4 95.6 478.4 95.8 479.4 95.8 480.4 95.7 481.4 95.6 482.4 95.4 483.4 95.1 484.4 94.8 485.4 94.5 486.4 94.1 487.4 93.8 488.4 93.4 489.4 93 490.4 92.6 491.4 92.3 492.3 92 493.4 91.7 494.4 91.4 495.4 91.1 496.4 90.8 497.4 90.6 498.4 90.3 499.4 90.1 500.4 89.8 501.4 89.4 502.1 89 502.9 88.5 503.9 87.6 504.4 86.9 504.9 86.2 505.4 85.2 505.9 84.1 506.3 83 506.6 82 506.9 81.1 507.2 80 507.5 79 507.9 78 508.2 77 508.6 76 509.2 75 509.9 74.1 510.5 73.5 511.4 72.8 512.4 72.1 513.3 71.5 514.2 71 515.3 70.5 516.4 70.1 517.4 69.7 518.4 69.4 519.4 69.2 520.2 69 521.4 68.8 522.4 68.8 523.4 68.8 524.4 69 525.3 69.5 525.9 70.3 526.2 71.5 526.2 72.5 526.1 73.5 525.9 74.5 525.6 75.5 525.3 76.5 524.9 77.5 524.5 78.5 524.1 79.5 523.6 80.5 523 81.5 522.4 82.5 521.9 83.1 521.1 84 520.4 84.7 519.5 85.5 518.7 86 517.9 86.5 516.9 87 515.9 87.4 514.9 87.8 513.9 88.1 512.9 88.5 511.9 88.7 510.9 89 509.9 89.3 509 89.5 507.9 89.8 506.9 90.1 505.9 90.5 504.9 90.9 504.1 91.5 503.4 92.1 502.5 93 501.9 93.7 501.2 94.5 500.4 95.4 499.7 96 498.9 96.7 497.9 97.3 496.9 97.9 495.9 98.3 494.9 98.6 493.9 98.9 492.9 99.1 491.9 99.3 490.9 99.5 489.9 99.6 488.9 99.7 487.9 99.7 486.9 99.8 485.9 99.8 484.9 99.8 483.9 99.8 482.9 99.8 481.9 99.8 480.9 99.7 479.9 99.6 478.9 99.6 477.9 99.5 476.9 99.4 475.9 99.3 474.9 99.3 473.9 99.2 472.9 99.2 471.9 99.2 470.9 99.2 469.9 99.2 468.9 99.2 467.9 99.3 466.9 99.5 465.9 99.8 464.9 100.3 464.2 101 464.8 102 465.9 102.4 466.9 102.6 467.9 102.8 468.9 103 469.9 103.2 470.9 103.4 471.9 103.6 472.9 103.8 473.9 104.1 474.9 104.4 475.9 104.8 476.9 105.2 477.9 105.8 478.7 106.5 477.9 107.1 476.9 107.4 475.9 107.6 474.9 107.8 473.9 108 473.9 108ZM471.2 55 472.4 54.9 473.4 54.8 474.4 54.7 475.4 54.5 476.4 54.1 475.4 53.9 474.4 53.9 473.4 53.9 472.4 53.9 471.4 53.9 470.4 53.9 469.4 53.9 468.4 53.9 467.4 53.9 466.4 53.9 465.4 53.9 464.4 53.9 463.4 53.9 462.4 54 463 54.5 463.9 54.6 464.9 54.7 465.9 54.9 466.9 55 467.9 55 468.9 55 469.9 55 470.9 55 471.2 55ZM435.9 90.2 434.9 90.3 433.9 90.2 432.9 90.1 431.9 90 430.9 89.9 429.9 89.7 428.9 89.5 427.9 89.3 426.9 89.1 425.9 88.8 424.9 88.5 423.9 88.1 422.9 87.7 421.9 87.1 421 86.5 420.4 85.9 419.5 85 418.9 84.2 418.4 83.5 417.9 82.6 417.4 81.6 416.9 80.5 416.5 79.5 416.2 78.5 415.9 77.6 415.6 76.5 415.3 75.5 415.1 74.5 415 73.5 414.9 72.5 414.9 71.5 415.2 70.5 415.9 69.5 416.9 69.1 417.9 69 418.9 69.1 419.9 69.3 420.8 69.5 421.9 69.8 422.9 70.2 423.9 70.7 424.9 71.2 425.9 71.8 426.9 72.5 427.5 73 428.4 73.7 429.2 74.5 429.9 75.3 430.5 76 431.2 77 431.8 78 432.4 79 432.9 80 433.3 81 433.7 82 434.1 83 434.4 83.8 434.9 85 435.3 86 435.7 87 436.1 88 436.4 89 436.3 90 435.9 90.2ZM534.4 87.1 533.4 87.3 532.4 87.5 531.4 87.5 530.4 87.3 529.4 86.5 529.1 85.5 529.1 84.5 529.2 83.5 529.3 82.5 529.5 81.5 529.7 80.5 529.9 79.7 530.3 78.5 530.6 77.5 531.1 76.5 531.6 75.5 532.3 74.5 532.9 73.7 533.6 73 534.4 72.4 535.4 71.8 536.4 71.3 537.2 71 538.4 70.6 539.4 70.4 540.4 70.3 541.4 70.3 542.4 70.4 543.4 70.7 544.4 71.5 544.9 72.5 545 73.5 544.9 74.5 544.7 75.5 544.5 76.5 544.1 77.5 543.7 78.5 543.3 79.5 542.7 80.5 542.1 81.5 541.4 82.4 540.5 83.5 539.4 84.5 538.7 85 538 85.5 537.2 86 536.4 86.4 535.4 86.8 534.4 87.1ZM408.4 86.6 407.4 86.7 406.4 86.7 405.4 86.5 404.4 86.2 403.4 85.7 402.4 85.1 401.6 84.5 400.9 83.9 400.2 83 399.5 82 399 81 398.6 80 398.3 79 398 78 397.9 77.1 397.8 76 397.9 75.1 398.2 74 398.9 73 399.7 72.5 400.9 72.2 401.9 72.3 402.9 72.4 403.9 72.7 404.9 73.2 405.9 73.8 406.8 74.5 407.4 75.1 408.2 76 408.9 77 409.4 78 409.8 79 410.2 80 410.4 81 410.6 82 410.6 83 410.6 84 410.3 85 409.9 85.7 408.9 86.5 408.4 86.6ZM465.3 84.5 466.3 84 465.4 83.3 464.4 82.7 463.4 82.1 462.4 81.5 461.8 81 461.1 80.5 460.4 79.9 459.4 79 458.4 78 457.4 77 456.5 76 455.9 75.4 455 74.5 453.9 73.7 453.9 74.5 454.4 75.3 454.9 76.2 455.4 77 455.9 77.8 456.4 78.6 456.9 79.3 457.4 80 457.9 80.7 458.6 81.5 459.4 82.4 460.1 83 460.8 83.5 461.9 84 462.9 84.3 463.9 84.5 464.9 84.5 465.3 84.5ZM478 84 478.9 83.8 479.9 83.3 480.9 82.5 481.8 81.5 482.4 80.7 482.9 79.9 483.4 79.1 483.9 78.2 484.3 77.5 484.8 76.5 485.3 75.5 485.5 74.5 484.6 75 483.9 75.6 483 76.5 482.4 77.1 481.6 78 480.9 78.7 480.2 79.5 479.4 80.3 478.7 81 477.9 81.7 476.9 82.5 476.3 83 475.9 83.8 476.9 84.1 477.9 84 478 84ZM492.4 111 491.4 111.2 490.4 111.4 489.4 111.4 488.4 111.3 487.4 111 486.4 110.6 485.5 110 484.7 109.5 484.1 109 483.4 108.4 482.6 107.5 483.4 106.9 484.4 106.6 485.4 106.4 486.4 106.3 487.4 106.1 488.4 106 489.4 105.9 490.4 105.9 491.4 105.8 492.4 105.8 493.4 105.9 494.4 106 495.4 106.1 496.4 106.5 497.1 107 497.1 108 496.4 109 495.7 109.5 494.9 110 493.9 110.5 492.9 110.9 492.4 111ZM470.9 118 469.9 118.1 468.9 118.2 467.9 118.2 466.9 118.3 465.9 118.3 464.9 118.2 463.9 118.2 462.9 118.1 461.9 117.9 460.9 117.7 459.9 117.5 458.9 117.2 457.9 116.6 457.9 115.7 458.9 115.3 459.9 115.1 460.9 115 461.9 115 462.9 114.9 463.9 114.9 464.9 114.9 465.9 114.9 466.9 114.9 467.9 114.9 468.9 115 469.9 115 470.9 115 471.9 115 472.9 115.1 473.9 115.1 474.9 115.2 475.9 115.3 476.9 115.4 477.7 115.5 478.8 116 477.9 116.7 477 117 475.9 117.2 474.9 117.4 473.9 117.6 472.9 117.7 471.9 117.9 471 118 470.9 118ZM463 127 462.2 126.5 462.9 125.7 463.9 125.4 464.9 125.1 465.9 124.9 466.9 124.8 467.9 124.7 468.9 124.6 469.9 124.5 470.7 124.5 471.9 124.5 472.9 124.4 473.9 124.4 474.9 124.4 475.9 124.3 476.9 124.3 477.9 124.3 478.9 124.2 479.9 124.2 480.9 124.1 481.9 124 482.8 124 483.9 124 484.9 123.9 485.9 123.9 486.8 124 487.9 124.2 488.9 124.5 489.5 125 489.4 126 488.8 126.5 487.9 126.9 487.8 127"/><path stroke="#0000d8" d="M475.9 23 474.9 23.1 473.9 23.2 472.9 23.2 471.9 23.3 470.9 23.3 469.9 23.3 468.9 23.3 467.9 23.2 466.9 23.2 465.9 23.1 464.9 23 463.9 22.8 462.9 22.6 461.9 22.3 460.9 22 460.4 21.4 461.4 20.8 462.4 20.5 463.4 20.3 464.4 20.2 465.4 20.1 466.4 20 467.4 19.9 468.4 19.8 469.4 19.7 470.4 19.7 471.4 19.6 472.4 19.6 473.4 19.6 474.4 19.5 475.4 19.6 476.4 19.6 477.4 19.6 478.4 19.7 479.4 19.8 480.4 20 481.4 20.3 482.4 20.8 481.9 21.7 480.9 22.1 479.9 22.4 478.9 22.6 477.9 22.8 476.9 22.9 475.9 23ZM475.9 34.5 474.9 34.6 473.9 34.7 472.9 34.8 471.9 34.8 470.9 34.7 469.9 34.7 468.9 34.6 468 34.5 466.9 34.4 465.9 34.2 464.9 34.1 463.9 33.9 462.9 33.7 461.9 33.5 460.9 33.3 459.9 33.1 458.9 32.9 457.9 32.7 457 32.5 455.9 32.1 454.9 31.7 455.4 30.8 456.2 30.5 457.4 30.3 458.4 30.2 459.4 30 460.4 29.9 461.4 29.8 462.4 29.7 463.4 29.6 464.4 29.6 465.3 29.5 466.4 29.4 467.4 29.4 468.4 29.4 469.4 29.4 470.4 29.3 471.4 29.3 472.4 29.3 473.4 29.3 474.4 29.3 475.4 29.3 476.4 29.4 477.4 29.4 478.4 29.4 479.4 29.4 480.4 29.4 481.4 29.4 482.4 29.4 483.4 29.5 484.3 29.5 485.4 29.6 486.4 29.7 487.4 29.8 488.2 30 489.3 30.5 489.2 31.5 488.4 32 487.4 32.3 486.4 32.6 485.4 32.9 484.4 33.1 483.4 33.3 482.4 33.5 481.4 33.7 480.4 33.9 479.4 34.1 478.4 34.2 477.4 34.3 476.4 34.5 475.9 34.5ZM477.4 52.5 476.4 52.6 475.4 52.7 474.4 52.8 473.4 52.9 472.4 52.9 471.4 52.9 470.4 53 469.4 53 468.4 52.9 467.4 52.9 466.4 52.9 465.4 52.8 464.4 52.7 463.4 52.6 462.4 52.5 461.4 52.4 460.4 52.3 459.4 52.2 458.4 52 457.4 51.9 456.4 51.7 455.4 51.5 454.4 51.2 453.7 50.5 454.1 49.5 454.9 48.8 455.9 48.1 456.9 47.7 457.9 47.3 458.9 47 459.9 46.8 460.9 46.7 461.9 46.6 462.8 46.5 463.9 46.4 464.9 46.3 465.9 46.3 466.9 46.2 467.9 46.2 468.9 46.1 469.9 46.1 470.9 46 471.9 46 472.9 45.9 473.9 45.8 474.9 45.8 475.9 45.7 476.9 45.5 477.9 45.3 478.8 45 478.5 44 477.4 43.5 476.4 43.2 475.4 43.1 474.4 43 473.4 42.9 472.4 42.9 471.4 42.8 470.4 42.8 469.4 42.8 468.4 42.8 467.4 42.8 466.4 42.8 465.4 42.8 464.4 42.8 463.4 42.8 462.4 42.8 461.4 42.8 460.4 42.9 459.4 43 458.4 43.1 457.4 43.1 456.4 43.2 455.4 43.3 454.4 43.4 453.4 43.4 452.4 43.4 451.4 43.3 450.4 43.2 449.4 43.1 448.4 42.9 447.4 42.6 446.4 42.3 445.4 41.6 445.9 40.8 446.7 40.5 447.9 40.4 448.9 40.3 449.9 40.3 450.9 40.3 451.9 40.3 452.9 40.3 453.9 40.3 454.9 40.3 455.9 40.3 456.9 40.3 457.9 40.2 458.9 40.1 459.9 40 460.9 39.8 461.9 39.7 462.9 39.5 463.9 39.3 464.9 39.1 465.9 38.9 466.9 38.8 467.9 38.6 468.9 38.6 469.9 38.5 470.9 38.5 471.9 38.6 472.9 38.7 473.9 38.9 474.9 39.1 475.9 39.3 476.9 39.5 477.9 39.7 478.9 39.8 479.9 39.9 480.9 40 481.9 40 482.9 40 483.9 40 484.9 39.9 485.9 39.9 486.9 39.8 487.9 39.7 488.9 39.6 489.9 39.5 490.9 39.5 491.9 39.4 492.9 39.4 493.9 39.4 494.9 39.4 495.9 39.4 496.9 39.6 497.9 39.9 498.9 40.5 498.9 41.4 498.4 42 497.4 42.7 496.4 43.2 495.7 43.5 494.9 43.8 493.9 44.1 492.9 44.4 491.9 44.6 490.9 44.9 489.9 45.1 488.9 45.4 487.9 45.7 487.1 46 486.4 46.8 486.6 48 486.9 49 487 50 486.7 51 485.9 51.5 484.9 51.7 483.9 51.8 482.9 51.9 481.9 52 480.9 52.2 479.9 52.3 478.9 52.4 477.9 52.5 477.4 52.5ZM470.9 83.5 469.9 83.5 468.9 83.4 467.9 83.2 466.9 82.9 465.9 82.6 464.9 82.2 463.9 81.7 462.9 81.1 462 80.5 461.3 80 460.4 79.2 459.6 78.5 458.9 77.8 458.1 77 457.4 76.2 456.7 75.5 455.9 74.6 455 73.5 454.4 72.9 453.6 72 452.9 71.2 452.3 70.5 451.4 69.5 450.4 68.5 449.5 67.5 448.9 66.9 448 66 447.4 65.4 446.5 64.5 445.9 63.9 444.9 63 443.9 62.1 443.3 61.5 442.4 60.6 441.8 60 440.9 59 440.4 58.4 439.9 57.6 439.4 56.6 439.1 55.5 439 54.5 439.1 53.5 439.4 52.7 440.2 52 441.4 51.6 442.4 51.4 443.4 51.3 444.4 51.3 445.4 51.3 446.4 51.3 447.4 51.4 448.4 51.4 449.4 51.5 450.4 51.7 451.4 51.9 452.4 52.4 453.4 53 454.3 53.5 455.4 53.9 456.4 54.2 457.3 54.5 458.4 54.7 459.4 54.9 460.4 55.1 461.4 55.2 462.4 55.3 463.4 55.5 464.4 55.5 465.4 55.6 466.4 55.6 467.4 55.7 468.4 55.7 469.4 55.7 470.4 55.7 471.4 55.7 472.4 55.6 473.4 55.6 474.2 55.5 475.4 55.4 476.4 55.3 477.4 55.1 478.4 55 479.4 54.8 480.4 54.6 481.4 54.3 482.4 54.1 483.4 53.7 484.4 53.2 485.4 52.7 486.4 52 487.4 51.5 488.4 51.4 489.4 51.3 490.4 51.2 491.4 51.1 492.4 51.1 493.4 51 494.4 51 495.4 50.9 496.4 50.9 497.4 51 498.4 51 499.4 51.2 500.4 51.4 501.4 51.8 502.2 52.5 502.5 53.5 502.4 54.5 502.3 55.5 502 56.5 501.5 57.5 500.9 58.4 500.4 59.1 499.6 60 498.9 60.7 498 61.5 496.9 62.4 496.2 63 495.4 63.6 494.4 64.4 493.7 65 492.9 65.7 492 66.5 491.4 67.1 490.5 68 489.9 68.6 489.1 69.5 488.4 70.2 487.6 71 486.9 71.7 486.1 72.5 485.4 73.2 484.6 74 483.9 74.8 483.2 75.5 482.4 76.4 481.8 77 480.9 78 479.9 79 478.9 80 477.9 80.8 477 81.5 476.2 82 475.4 82.4 474.4 82.8 473.4 83.2 472.4 83.4 471.4 83.5 470.9 83.5ZM471.9 91.5 470.9 91.7 469.9 91.8 468.9 91.9 467.9 91.8 466.9 91.7 465.9 91.5 464.9 91.3 463.9 91.1 462.9 90.9 461.9 90.6 460.9 90.4 459.9 90.2 458.9 90 457.9 89.8 456.9 89.7 456 89.5 454.9 89.3 453.9 89.1 452.9 88.9 451.9 88.7 450.9 88.5 449.9 88.3 448.9 88 447.9 87.7 446.9 87.4 446 87 444.9 86.5 443.9 86 443.1 85.5 442.4 85.1 441.6 84.5 441 84 439.9 83.1 439.3 82.5 438.4 81.6 437.5 80.5 436.9 79.8 436.4 79.1 435.9 78.4 435.4 77.6 434.9 76.8 434.4 76 433.9 75.1 433.4 74.2 432.9 73.2 432.5 72.5 432 71.5 431.5 70.5 431.1 69.5 430.6 68.5 430.1 67.5 429.7 66.5 429.4 65.5 429.3 64.5 429.7 63.5 430.4 63.1 431.4 63 432.4 63 433.4 63.1 434.4 63.3 435.4 63.6 436.4 63.8 437.4 64.1 438.4 64.4 439.4 64.7 440.4 65.1 441.4 65.5 442.4 65.9 443.4 66.3 444.4 66.8 445.4 67.4 446.4 68 447.2 68.5 447.9 69 448.6 69.5 449.4 70.2 450.2 71 450.9 71.8 451.5 72.5 452.3 73.5 452.9 74.4 453.4 75.1 453.9 75.9 454.4 76.7 454.9 77.4 455.4 78.2 455.9 79 456.4 79.8 456.9 80.5 457.4 81.3 457.9 82 458.4 82.6 459.2 83.5 459.9 84 460.6 84.5 461.4 84.9 462.4 85.3 463.2 85.5 464.4 85.8 465.4 85.9 466.4 86 467.4 86 468.4 86.1 469.4 86.1 470.4 86 471.4 86 472.4 86 473.4 85.9 474.4 85.9 475.4 85.8 476.4 85.7 477.4 85.6 478.4 85.3 479.3 85 480.3 84.5 481 84 481.9 83 482.4 82.2 482.8 81.5 483.4 80.5 483.9 79.5 484.4 78.6 484.9 77.7 485.3 77 485.9 76 486.4 75.1 486.9 74.3 487.4 73.6 487.9 72.9 488.4 72.3 489.1 71.5 489.9 70.8 490.9 70 491.7 69.5 492.4 69.1 493.4 68.5 494.4 68 495.4 67.6 496.4 67.1 497.4 66.8 498.4 66.4 499.4 66.1 500.4 65.7 501.2 65.5 502.4 65.1 503.4 64.9 504.4 64.6 505.4 64.3 506.4 64.1 507.4 63.9 508.4 63.8 509.4 63.8 510.1 64.5 510 65.5 509.7 66.5 509.4 67.4 509 68.5 508.7 69.5 508.3 70.5 507.9 71.4 507.5 72.5 507 73.5 506.6 74.5 506 75.5 505.5 76.5 504.9 77.4 504.4 78.2 503.9 78.9 503.4 79.6 502.9 80.2 502.3 81 501.4 81.9 500.8 82.5 499.9 83.2 498.9 84 498.1 84.5 497.4 84.9 496.4 85.4 495.4 85.9 494.4 86.2 493.6 86.5 492.4 86.9 491.4 87.1 490.4 87.3 489.6 87.5 488.4 87.7 487.4 87.9 486.4 88.1 485.4 88.2 484.4 88.4 483.4 88.6 482.4 88.8 481.4 89 480.4 89.2 479.4 89.5 478.4 89.7 477.4 90 476.4 90.3 475.4 90.6 474.4 90.9 473.4 91.2 472.4 91.4 471.9 91.5ZM513.9 86.5 512.9 86.7 511.9 86.9 510.9 87 509.9 86.9 508.9 86.7 508.1 86 507.8 85 507.8 84 507.9 83 508.1 82 508.4 81 508.7 80 509 79 509.4 78.1 509.9 77.1 510.4 76.2 510.9 75.5 511.8 74.5 512.4 73.9 513.4 73.1 514.4 72.5 515.3 72 516.4 71.5 517.4 71.2 518.4 71 519.4 70.9 520.4 70.8 521.4 71 522.4 71.3 523.2 72 523.7 73 523.9 74 523.9 75 523.7 76 523.5 77 523.2 78 522.8 79 522.4 79.8 521.9 80.7 521.4 81.5 520.9 82.2 520.2 83 519.4 83.7 518.4 84.5 517.6 85 516.6 85.5 515.9 85.8 514.9 86.2 513.9 86.5 513.9 86.5ZM430.9 87.6 429.9 87.7 428.9 87.7 427.9 87.6 426.9 87.4 425.9 87.1 424.9 86.8 423.9 86.3 422.9 85.8 421.9 85.1 421.3 84.5 420.4 83.6 419.9 82.9 419.4 82.2 418.9 81.3 418.5 80.5 418.1 79.5 417.8 78.5 417.6 77.5 417.4 76.7 417.3 75.5 417.3 74.5 417.5 73.5 417.9 72.8 418.8 72 419.9 71.7 420.9 71.7 421.9 71.8 422.9 72.1 423.9 72.5 424.9 73 425.8 73.5 426.5 74 427.1 74.5 427.9 75.2 428.7 76 429.4 76.8 429.9 77.5 430.4 78.3 430.8 79 431.3 80 431.8 81 432.2 82 432.5 83 432.7 84 432.8 85 432.7 86 432.4 86.7 431.4 87.4 430.9 87.6ZM535.9 83.6 534.9 83.8 533.9 83.8 532.9 83.3 532.4 82.7 532.1 81.5 532.1 80.5 532.3 79.5 532.6 78.5 533.1 77.5 533.7 76.5 534.4 75.6 535.1 75 535.8 74.5 536.8 74 537.9 73.7 538.9 73.6 539.9 73.8 540.9 74.5 541.4 75.5 541.4 76.5 541.3 77.5 541 78.5 540.5 79.5 539.9 80.5 539.4 81.1 538.6 82 537.9 82.5 537.2 83 536.4 83.4 535.9 83.6ZM406.4 82.6 405.4 82.8 404.4 82.5 403.4 82 402.4 81 401.9 80.1 401.5 79 401.5 78 401.8 77 402.9 76.3 403.9 76.3 404.9 76.7 405.9 77.5 406.4 78.1 406.9 79 407.2 80 407.3 81 407 82 406.4 82.6ZM492.4 96.5 491.4 96.7 490.4 96.8 489.4 96.6 489.9 95.7 490.9 95.2 491.9 94.9 492.9 94.7 493.9 94.8 493.9 95.7 492.9 96.3 492.4 96.5ZM453.9 98.6 452.9 98.7 451.9 98.7 450.9 98.5 449.9 98.3 449.1 98 448.1 97.5 447.4 96.8 447.5 96 448.4 95.8 449.4 95.8 450.4 96 451.4 96.2 452.4 96.5 453.4 96.9 454.4 97.4 454.4 98.4 453.9 98.6Z"/><path stroke="#0006ff" d="M475.4 51.6 474.4 51.7 473.4 51.8 472.4 51.9 471.4 51.9 470.4 52 469.4 52 468.4 51.9 467.4 51.9 466.4 51.8 465.4 51.6 464.4 51.5 463.4 51.3 462.4 51 461.4 50.6 460.6 50 461.2 49 462.4 48.5 463.4 48.3 464.4 48.1 465.4 48 466.4 47.8 467.4 47.8 468.4 47.7 469.4 47.6 470.4 47.6 471.4 47.6 472.4 47.6 473.4 47.6 474.4 47.6 475.4 47.6 476.4 47.7 477.4 47.8 478.4 47.9 479.4 48.2 480.4 48.8 480.7 49.5 479.9 50.3 478.9 50.8 477.9 51.1 476.9 51.3 475.9 51.5 475.4 51.6ZM472.4 82.6 471.4 82.7 470.4 82.7 469.4 82.7 468.4 82.6 467.4 82.4 466.4 82.1 465.4 81.7 464.4 81.3 463.4 80.8 462.4 80.1 461.5 79.5 460.4 78.6 459.8 78 458.9 77.1 458.3 76.5 457.4 75.5 456.5 74.5 455.9 73.8 455.2 73 454.4 72 453.6 71 452.9 70.2 452.3 69.5 451.4 68.5 450.9 67.9 450.1 67 449.4 66.2 448.8 65.5 447.9 64.6 446.9 63.5 445.9 62.5 445.4 61.9 444.6 61 443.9 60.2 443.4 59.5 442.9 58.7 442.5 58 442.3 57 442.4 56 442.9 55.3 443.9 54.6 444.9 54.3 445.9 54.1 446.9 54 447.9 54.1 448.9 54.1 449.9 54.2 450.9 54.4 451.9 54.6 452.9 54.7 453.9 54.9 454.9 55.1 455.9 55.2 456.9 55.4 457.8 55.5 458.9 55.6 459.9 55.8 460.9 55.9 461.9 56 462.9 56 463.9 56.1 464.9 56.2 465.9 56.2 466.9 56.2 467.9 56.2 468.9 56.3 469.9 56.2 470.9 56.2 471.9 56.2 472.9 56.1 473.9 56.1 474.9 56 475.9 55.9 476.9 55.8 477.9 55.7 478.9 55.6 479.9 55.4 480.9 55.3 481.9 55.1 482.9 54.9 483.9 54.7 484.9 54.5 485.9 54.3 486.9 54.1 487.9 53.8 488.9 53.6 489.9 53.4 490.9 53.2 491.9 53.1 492.9 53 493.9 53 494.9 53 495.9 53 496.9 53.2 497.8 53.5 498.6 54 499.4 54.9 499.7 56 499.7 57 499.3 58 498.7 59 497.9 60 497 61 495.9 62 494.9 62.9 494.2 63.5 493.4 64.2 492.5 65 491.9 65.6 490.9 66.5 489.9 67.5 489 68.5 488.4 69.1 487.6 70 486.9 70.7 486.2 71.5 485.4 72.4 484.8 73 483.9 74 483 75 482.4 75.7 481.7 76.5 480.9 77.3 480.2 78 479.4 78.8 478.6 79.5 477.9 80.1 476.9 80.8 475.9 81.4 474.9 81.9 473.9 82.2 472.9 82.5 472.4 82.6ZM461.9 88.1 460.9 88.2 459.9 88.3 458.9 88.3 457.9 88.2 456.9 88.2 455.9 88.1 454.9 88 453.9 87.9 452.9 87.8 451.9 87.6 450.9 87.4 449.9 87.2 449.1 87 447.9 86.6 446.9 86.3 446.1 86 445.4 85.7 444.4 85.2 443.4 84.6 442.4 84 441.7 83.5 441.1 83 440.4 82.4 439.5 81.5 438.9 80.9 438.1 80 437.4 79 436.9 78.3 436.4 77.5 435.9 76.7 435.5 76 435 75 434.5 74 434 73 433.6 72 433.2 71 432.9 70 432.7 69 432.5 68 432.6 67 433.2 66 434.3 65.5 435.4 65.4 436.4 65.4 437.4 65.5 438.4 65.7 439.4 66 440.4 66.2 441.2 66.5 442.4 66.9 443.4 67.4 444.4 67.8 445.4 68.4 446.4 69 447.2 69.5 447.9 70 448.9 70.9 449.6 71.5 450.4 72.3 451 73 451.8 74 452.4 74.8 452.9 75.5 453.4 76.3 453.9 77 454.4 77.8 454.9 78.6 455.4 79.5 455.9 80.3 456.4 81.2 456.8 82 457.4 83 457.9 83.8 458.4 84.4 459 85 459.9 85.9 460.8 86.5 461.5 87 462.1 87.5 461.9 88.1ZM488.4 86.5 487.4 86.6 486.4 86.7 485.4 86.7 484.4 86.6 483.4 86.3 482.7 85.5 482.9 84.6 483.2 83.5 483.5 82.5 483.9 81.5 484.3 80.5 484.7 79.5 485.2 78.5 485.7 77.5 486.3 76.5 486.9 75.5 487.4 74.8 487.9 74.1 488.4 73.5 489.3 72.5 489.9 71.9 490.9 71 491.6 70.5 492.3 70 493.2 69.5 493.9 69.1 494.9 68.6 495.9 68.2 496.9 67.8 497.8 67.5 498.9 67.2 499.9 66.9 500.9 66.7 501.8 66.5 502.9 66.4 503.9 66.3 504.9 66.4 505.9 66.7 506.6 67.5 506.9 68.5 506.9 69.5 506.7 70.5 506.5 71.5 506.2 72.5 505.8 73.5 505.4 74.4 504.9 75.5 504.4 76.5 503.9 77.3 503.4 78.1 502.9 78.9 502.4 79.5 501.6 80.5 500.9 81.3 500.1 82 499.4 82.6 498.4 83.3 497.4 83.9 496.4 84.5 495.4 84.9 494.4 85.3 493.4 85.6 492.4 85.9 491.4 86.1 490.4 86.3 489.4 86.4 488.4 86.5ZM514.4 84.6 513.4 84.8 512.4 84.8 511.4 84.6 510.4 84 510 83 509.9 82 510 81 510.2 80 510.5 79 510.9 78.1 511.4 77.2 511.9 76.5 512.8 75.5 513.4 74.9 514.4 74.1 515.4 73.6 516.4 73.2 517.4 72.9 518.4 72.8 519.4 72.9 520.4 73.2 521.3 74 521.7 75 521.8 76 521.7 77 521.5 78 521.1 79 520.6 80 519.9 81 519.4 81.6 518.5 82.5 517.9 83 517.1 83.5 516.4 83.9 515.4 84.3 514.4 84.6ZM429.4 85.1 428.4 85.4 427.4 85.5 426.4 85.3 425.4 85.1 424.4 84.6 423.4 84 422.7 83.5 421.9 82.7 421.3 82 420.7 81 420.2 80 419.8 79 419.6 78 419.5 77 419.6 76 420.1 75 420.9 74.3 421.9 74.1 422.9 74.2 423.9 74.4 424.9 74.9 425.9 75.5 426.6 76 427.4 76.7 428.1 77.5 428.8 78.5 429.4 79.4 429.9 80.5 430.3 81.5 430.5 82.5 430.5 83.5 430.1 84.5 429.4 85.1Z"/><path stroke="#0032ff" d="M471.9 82 470.9 82.1 469.9 82.1 468.9 82 467.9 81.9 466.9 81.7 465.9 81.3 465 81 464 80.5 463.1 80 462.4 79.5 461.7 79 461 78.5 460.4 78 459.4 77 458.4 76 457.5 75 456.9 74.3 456.3 73.5 455.4 72.5 454.9 71.8 454.4 71.2 453.9 70.6 453.4 69.9 452.9 69.3 452.4 68.7 451.9 68 451.1 67 450.4 66.2 449.8 65.5 449 64.5 448.4 63.8 447.8 63 447 62 446.4 61.2 445.9 60.5 445.4 59.5 445.1 58.5 445.1 57.5 445.9 56.5 446.9 56 447.9 55.8 448.9 55.7 449.9 55.7 450.9 55.7 451.9 55.7 452.9 55.8 453.9 55.9 454.9 55.9 455.9 56 456.9 56.1 457.9 56.2 458.9 56.3 459.9 56.4 460.9 56.5 461.9 56.6 462.9 56.6 463.9 56.7 464.9 56.7 465.9 56.7 466.9 56.8 467.9 56.8 468.9 56.8 469.9 56.8 470.9 56.7 471.9 56.7 472.9 56.7 473.9 56.6 474.9 56.6 475.9 56.5 476.9 56.4 477.9 56.3 478.9 56.2 479.9 56.1 480.9 55.9 481.9 55.8 482.9 55.6 483.9 55.5 484.9 55.4 485.9 55.2 486.9 55.1 487.9 54.9 488.9 54.8 489.9 54.7 490.9 54.6 491.9 54.6 492.9 54.6 493.9 54.7 494.9 54.9 495.9 55.2 496.9 56 497.4 57 497.3 58 496.9 59 496.4 59.8 495.9 60.5 495 61.5 494.4 62.1 493.5 63 492.9 63.6 492 64.5 491.4 65.1 490.5 66 489.9 66.6 489.1 67.5 488.4 68.2 487.7 69 486.9 69.9 486.4 70.5 485.5 71.5 484.9 72.2 484.2 73 483.4 73.9 482.9 74.5 482 75.5 481.4 76.1 480.6 77 479.9 77.7 479 78.5 478.4 79 477.4 79.8 476.4 80.5 475.4 81 474.4 81.4 473.4 81.7 472.4 81.9 471.9 82ZM455.4 86.1 454.4 86.4 453.4 86.4 452.4 86.4 451.4 86.3 450.4 86.2 449.5 86 448.4 85.7 447.6 85.5 446.4 85.1 445.4 84.7 444.4 84.2 443.4 83.6 442.5 83 441.8 82.5 440.9 81.7 440.1 81 439.4 80.2 438.8 79.5 438.1 78.5 437.4 77.5 436.9 76.7 436.4 75.7 436 75 435.6 74 435.2 73 434.9 72 434.7 71 434.6 70 434.7 69 435.2 68 435.9 67.4 436.9 67.1 437.9 67.1 438.9 67.1 439.9 67.3 440.9 67.5 441.9 67.8 442.9 68.1 443.8 68.5 444.9 69 445.8 69.5 446.6 70 447.3 70.5 448 71 448.9 71.8 449.6 72.5 450.4 73.3 451 74 451.8 75 452.4 75.9 452.9 76.7 453.4 77.5 453.9 78.3 454.4 79.2 454.8 80 455.3 81 455.7 82 456 83 456.2 84 456.3 85 455.9 85.8 455.4 86.1ZM491.9 85 490.9 85.2 489.9 85.3 488.9 85.3 487.9 85.3 486.9 85.1 485.9 84.7 485.3 84 484.9 83 484.9 82 485.1 81 485.4 80 485.8 79 486.2 78 486.8 77 487.4 76 487.9 75.2 488.4 74.5 488.9 73.9 489.7 73 490.4 72.3 491.4 71.5 492.1 71 492.8 70.5 493.7 70 494.7 69.5 495.9 69 496.9 68.6 497.9 68.3 498.9 68.1 499.9 67.9 500.9 67.8 501.9 67.8 502.9 67.9 503.9 68.2 504.7 69 505.1 70 505.1 71 505 72 504.8 73 504.5 74 504.1 75 503.6 76 503.1 77 502.5 78 501.9 78.9 501.4 79.5 500.5 80.5 499.9 81.1 498.9 82 498.2 82.5 497.4 83 496.5 83.5 495.4 84 494.4 84.4 493.4 84.7 492.4 84.9 491.9 85ZM515.4 82.2 514.4 82.4 513.4 82.3 512.5 81.5 512.2 80.5 512.3 79.5 512.7 78.5 513.3 77.5 513.9 76.8 514.8 76 515.8 75.5 516.9 75.2 517.9 75.2 518.9 75.8 519.3 76.5 519.4 77.5 519.2 78.5 518.7 79.5 517.9 80.5 516.9 81.4 515.9 82 515.4 82.2ZM426.9 82.2 425.9 82.4 424.9 82.1 424 81.5 423.4 80.9 422.9 80.1 422.6 79 422.7 78 423.4 77.4 424.4 77.4 425.4 77.9 426.2 78.5 426.9 79.4 427.4 80.5 427.4 81.5 426.9 82.2Z"/><path stroke="#005eff" d="M470.9 81.5 469.9 81.5 468.9 81.5 467.9 81.3 466.9 81.1 465.9 80.8 464.9 80.4 464.1 80 463.4 79.6 462.5 79 461.8 78.5 460.9 77.8 460 77 459.4 76.4 458.6 75.5 457.9 74.8 457.3 74 456.4 73 455.9 72.3 455.4 71.7 454.9 71 454.4 70.4 453.9 69.7 453.4 69 452.9 68.4 452.4 67.7 451.9 67 451.4 66.3 450.9 65.6 450.4 65 449.9 64.2 449.4 63.5 448.9 62.8 448.4 62 447.9 61 447.6 60 447.5 59 447.9 58.2 448.7 57.5 449.9 57.1 450.9 56.9 451.9 56.8 452.9 56.8 453.9 56.8 454.9 56.8 455.9 56.9 456.9 56.9 457.9 56.9 458.8 57 459.9 57.1 460.9 57.1 461.9 57.2 462.9 57.2 463.9 57.2 464.9 57.3 465.9 57.3 466.9 57.3 467.9 57.3 468.9 57.3 469.9 57.3 470.9 57.2 471.9 57.2 472.9 57.2 473.9 57.1 474.9 57.1 475.9 57 476.9 56.9 477.9 56.8 478.9 56.8 479.9 56.7 480.9 56.6 481.9 56.4 482.9 56.3 483.9 56.2 484.9 56.1 485.9 56 486.9 55.9 487.9 55.8 488.9 55.8 489.9 55.8 490.9 55.8 491.9 55.9 492.9 56.1 493.9 56.5 494.6 57 495.1 58 495 59 494.6 60 493.9 61 493.4 61.7 492.7 62.5 491.9 63.4 490.9 64.5 490 65.5 489.4 66.2 488.7 67 487.9 67.9 487.4 68.5 486.5 69.5 485.9 70.2 485.3 71 484.4 72 483.9 72.6 483.1 73.5 482.4 74.4 481.8 75 480.9 76 480 77 478.9 78 477.9 78.8 477 79.5 476.1 80 475.4 80.4 474.4 80.8 473.4 81.1 472.4 81.4 471.4 81.5 470.9 81.5ZM453.4 84.5 452.4 84.9 451.4 85 450.4 85 449.4 84.9 448.4 84.7 447.4 84.4 446.4 84.1 445.4 83.7 444.4 83.2 443.4 82.6 442.5 82 441.9 81.5 440.9 80.6 440.3 80 439.5 79 438.9 78.2 438.4 77.5 437.9 76.6 437.4 75.6 436.9 74.5 436.6 73.5 436.4 72.7 436.3 71.5 436.3 70.5 436.8 69.5 437.9 68.7 438.9 68.5 439.9 68.5 440.9 68.6 441.9 68.8 442.9 69.1 443.9 69.5 444.9 69.9 445.9 70.5 446.7 71 447.4 71.5 448.1 72 448.9 72.8 449.6 73.5 450.4 74.4 450.9 75 451.4 75.6 451.9 76.4 452.4 77.2 452.9 78 453.4 79 453.8 80 454.2 81 454.4 82 454.3 83 454 84 453.4 84.5ZM491.9 84.1 490.9 84.2 489.9 84.2 488.9 84.1 487.9 83.8 486.9 83.1 486.4 82.3 486.2 81.5 486.3 80.5 486.5 79.5 486.8 78.5 487.3 77.5 487.8 76.5 488.4 75.6 488.9 74.9 489.7 74 490.4 73.2 491.2 72.5 491.8 72 492.5 71.5 493.3 71 494.3 70.5 495.4 70 496.4 69.6 497.4 69.4 498.4 69.1 499.4 69 500.4 69 501.4 69.1 502.4 69.5 503.3 70.5 503.6 71.5 503.6 72.5 503.4 73.5 503.2 74.5 502.9 75.3 502.4 76.4 501.9 77.3 501.5 78 500.9 78.8 500.4 79.4 499.4 80.5 498.4 81.4 497.5 82 496.6 82.5 495.9 82.9 494.9 83.3 493.9 83.6 492.9 83.9 491.9 84.1Z"/><path stroke="#008bff" d="M470.9 81 469.9 81 468.9 81 467.9 80.8 466.9 80.6 465.9 80.3 464.9 79.9 464.2 79.5 463.4 79.1 462.5 78.5 461.9 78 460.9 77.2 460.1 76.5 459.4 75.8 458.7 75 457.9 74.1 457 73 456.4 72.2 455.9 71.6 455.4 70.9 454.9 70.2 454.4 69.5 453.9 68.8 453.4 68.1 452.9 67.3 452.4 66.6 451.9 65.8 451.4 65 450.9 64.2 450.4 63.2 450 62.5 449.7 61.5 449.6 60.5 449.8 59.5 450.4 58.8 451.4 58.3 452.4 58 453.4 57.8 454.4 57.7 455.4 57.7 456.4 57.7 457.4 57.7 458.4 57.7 459.4 57.7 460.4 57.7 461.4 57.7 462.4 57.7 463.4 57.8 464.4 57.8 465.4 57.8 466.4 57.8 467.4 57.8 468.4 57.8 469.4 57.8 470.4 57.7 471.4 57.7 472.4 57.7 473.4 57.6 474.4 57.6 475.4 57.5 476.3 57.5 477.4 57.4 478.4 57.4 479.4 57.3 480.4 57.2 481.4 57.1 482.4 57.1 483.4 57 484.4 56.9 485.4 56.8 486.4 56.8 487.4 56.8 488.4 56.8 489.4 56.9 490.3 57 491.4 57.3 492.4 57.9 492.9 58.9 492.8 60 492.4 61 491.9 61.9 491.4 62.6 490.9 63.2 490.4 63.9 489.9 64.5 489.1 65.5 488.4 66.4 487.9 67 487.1 68 486.4 68.8 485.9 69.5 485 70.5 484.4 71.3 483.8 72 483 73 482.4 73.7 481.7 74.5 480.9 75.4 480.3 76 479.4 76.9 478.8 77.5 477.9 78.2 476.9 79 476 79.5 475 80 473.9 80.4 472.9 80.7 471.9 80.9 470.9 81 470.9 81ZM450.9 83.5 449.9 83.7 448.9 83.6 447.9 83.5 446.9 83.2 445.9 82.8 445.1 82.5 444.2 82 443.4 81.5 442.7 81 441.9 80.3 441.1 79.5 440.4 78.7 439.9 78 439.4 77.3 439 76.5 438.5 75.5 438.1 74.5 437.9 73.5 437.8 72.5 438 71.5 438.4 70.8 439.4 70.1 440.4 69.9 441.4 69.9 442.3 70 443.4 70.3 444.4 70.7 445.4 71.2 446.4 71.7 447.4 72.5 448.1 73 448.9 73.8 449.6 74.5 450.4 75.5 450.9 76.2 451.4 77 451.9 77.9 452.4 79 452.7 80 452.9 81 452.8 82 452.4 82.7 451.4 83.4 450.9 83.5ZM492.4 83 491.4 83.1 490.4 83.1 489.4 82.9 488.6 82.5 487.9 81.9 487.5 81 487.4 80 487.6 79 487.9 78.1 488.4 77 488.9 76.2 489.4 75.5 489.9 74.8 490.6 74 491.4 73.3 492.4 72.5 493.1 72 493.9 71.5 494.9 71.1 495.9 70.7 496.9 70.4 497.9 70.2 498.9 70.2 499.9 70.2 500.7 70.5 501.5 71 502.1 72 502.2 73 502.1 74 501.9 75 501.5 76 501 77 500.4 78 499.9 78.7 499.2 79.5 498.4 80.3 497.5 81 496.7 81.5 495.9 81.9 494.9 82.4 493.9 82.7 492.9 82.9 492.4 83Z"/><path stroke="#00b7ff" d="M470.4 80.5 469.5 80.5 468.4 80.4 467.4 80.2 466.4 79.9 465.4 79.6 464.4 79.1 463.4 78.5 462.6 78 461.9 77.5 460.9 76.6 460.2 76 459.4 75.1 458.8 74.5 458 73.5 457.4 72.8 456.9 72.1 456.4 71.5 455.9 70.8 455.4 70 454.9 69.3 454.4 68.5 453.9 67.7 453.4 67 452.9 66.1 452.4 65.1 451.9 64.1 451.5 63 451.3 62 451.3 61 451.8 60 452.9 59.2 453.9 58.9 454.9 58.7 455.9 58.5 456.9 58.4 457.9 58.4 458.9 58.3 459.9 58.3 460.9 58.3 461.9 58.3 462.9 58.3 463.9 58.3 464.9 58.3 465.9 58.3 466.9 58.3 467.9 58.3 468.9 58.2 469.9 58.2 470.9 58.2 471.9 58.2 472.9 58.1 473.9 58.1 474.9 58.1 475.9 58 476.9 58 477.9 57.9 478.9 57.9 479.9 57.8 480.9 57.8 481.9 57.7 482.9 57.7 483.9 57.7 484.9 57.7 485.9 57.7 486.9 57.8 487.9 57.9 488.9 58.1 489.9 58.5 490.8 59.5 490.9 60.5 490.7 61.5 490.2 62.5 489.6 63.5 488.9 64.5 488.4 65.2 487.9 65.9 487.4 66.6 486.9 67.3 486.4 67.9 485.9 68.6 485.4 69.3 484.9 69.9 484.4 70.5 483.9 71.2 483.4 71.8 482.8 72.5 482 73.5 481.4 74.2 480.7 75 479.9 75.8 479.2 76.5 478.4 77.2 477.4 78 476.7 78.5 475.9 79 474.9 79.5 473.9 79.9 472.9 80.2 471.9 80.4 470.9 80.5 470.4 80.5ZM449.9 82.2 448.9 82.3 447.9 82.3 446.9 82.1 445.9 81.7 444.9 81.3 443.9 80.7 443 80 441.9 79 441.4 78.4 440.9 77.7 440.5 77 440 76 439.6 75 439.4 74 439.5 73 439.9 72.1 440.7 71.5 441.9 71.3 442.9 71.4 443.9 71.6 444.9 72 445.9 72.5 446.7 73 447.3 73.5 448.4 74.5 449.3 75.5 449.9 76.3 450.3 77 450.9 78 451.2 79 451.4 80 451.2 81 450.4 82 449.9 82.2ZM494.4 81.5 493.4 81.8 492.4 82 491.4 82 490.4 81.8 489.4 81.2 488.9 80.5 488.7 79.5 488.8 78.5 489.2 77.5 489.7 76.5 490.4 75.5 490.9 74.8 491.7 74 492.4 73.5 493.4 72.8 494.4 72.2 495.4 71.8 496.4 71.5 497.4 71.4 498.4 71.4 499.4 71.7 500.4 72.5 500.8 73.5 500.7 74.5 500.5 75.5 500.1 76.5 499.6 77.5 498.9 78.4 497.9 79.5 496.9 80.3 495.9 80.9 494.9 81.4 494.4 81.5Z"/><path stroke="#00e3ff" d="M470.9 80 469.9 80 468.9 80 467.9 79.8 466.9 79.6 465.9 79.3 464.9 78.8 463.9 78.3 462.9 77.7 462 77 460.9 76.1 459.9 75.1 458.9 74 458.4 73.3 457.9 72.7 457.4 72 456.9 71.4 456.4 70.6 455.9 69.9 455.4 69.1 454.9 68.3 454.5 67.5 453.9 66.5 453.4 65.5 453 64.5 452.8 63.5 452.7 62.5 452.8 61.5 453.4 60.6 454.3 60 455.4 59.6 456.4 59.3 457.4 59.2 458.4 59.1 459.4 59 460.4 58.9 461.4 58.9 462.4 58.8 463.4 58.8 464.4 58.8 465.4 58.8 466.4 58.7 467.4 58.7 468.4 58.7 469.4 58.7 470.4 58.7 471.4 58.6 472.4 58.6 473.4 58.6 474.4 58.6 475.4 58.5 476.4 58.5 477.4 58.5 478.4 58.5 479.4 58.4 480.4 58.4 481.4 58.4 482.4 58.4 483.4 58.4 484.4 58.5 485.4 58.6 486.4 58.8 487.3 59 488.3 59.5 488.9 60.1 489.2 61 489.1 62 488.7 63 488.2 64 487.7 65 487 66 486.4 66.9 485.9 67.7 485.4 68.4 484.9 69.1 484.4 69.7 483.9 70.4 483.4 71.1 482.9 71.7 482.4 72.4 481.9 73 481 74 480.4 74.7 479.6 75.5 478.9 76.2 478 77 477.4 77.5 476.6 78 475.9 78.5 474.9 79 473.9 79.4 472.9 79.7 471.9 79.9 470.9 80 470.9 80ZM448.4 80.7 447.4 80.7 446.4 80.5 445.4 80.2 444.4 79.6 443.6 79 442.9 78.3 442.3 77.5 441.7 76.5 441.3 75.5 441.2 74.5 441.6 73.5 442.4 73 443.4 72.9 444.4 73.1 445.3 73.5 446.2 74 446.9 74.5 447.9 75.5 448.7 76.5 449.3 77.5 449.6 78.5 449.6 79.5 448.9 80.5 448.4 80.7ZM493.9 80.5 492.9 80.7 491.9 80.6 490.9 80.2 490.3 79.5 490.2 78.5 490.4 77.5 490.9 76.5 491.4 75.7 492.1 75 492.9 74.3 493.9 73.6 494.9 73.1 495.9 72.8 496.9 72.7 497.9 72.9 498.8 73.5 499.2 74.5 499.1 75.5 498.8 76.5 498.2 77.5 497.4 78.5 496.4 79.3 495.4 80 494.4 80.4 493.9 80.5Z"/><path stroke="#11ffee" d="M470.9 79.5 469.9 79.5 469 79.5 467.9 79.3 466.9 79.1 465.9 78.8 464.9 78.3 463.9 77.8 462.9 77.1 462.1 76.5 461.4 75.9 460.4 75 459.5 74 458.9 73.3 458.4 72.6 457.9 72 457.4 71.3 456.9 70.5 456.4 69.7 456 69 455.4 68 454.9 67 454.5 66 454.1 65 453.9 64 453.9 63 454.2 62 454.9 61.1 455.9 60.5 456.9 60.1 457.9 59.9 458.9 59.7 459.9 59.6 460.8 59.5 461.9 59.4 462.9 59.4 463.9 59.3 464.9 59.3 465.9 59.2 466.9 59.2 467.9 59.2 468.9 59.2 469.9 59.1 470.9 59.1 471.9 59.1 472.9 59.1 473.9 59.1 474.9 59 475.9 59 476.9 59 477.9 59 478.9 59 479.9 59 480.9 59 481.9 59.1 482.9 59.2 483.9 59.3 484.9 59.5 485.9 59.8 486.9 60.4 487.6 61.5 487.6 62.5 487.4 63.5 487 64.5 486.5 65.5 485.9 66.5 485.4 67.4 484.9 68.1 484.4 68.9 483.9 69.6 483.4 70.3 482.9 71 482.4 71.6 481.9 72.3 481.3 73 480.5 74 479.9 74.6 479 75.5 478.4 76.1 477.4 76.9 476.6 77.5 475.9 77.9 474.9 78.5 473.9 78.9 472.9 79.2 471.9 79.4 470.9 79.5ZM494.9 78.5 493.9 78.8 492.9 78.7 492.3 78 492.4 77 492.9 76.2 493.6 75.5 494.3 75 495.4 74.7 496.4 74.8 497 75.5 496.9 76.4 496.4 77.3 495.7 78 494.9 78.5 494.9 78.5ZM446.4 78 445.4 77.8 444.5 77 444.3 76 445.4 75.8 446.3 76.5 446.7 77.5 446.4 78Z"/><path stroke="#3dffc2" d="M470.9 79 469.9 79.1 468.9 79 467.9 78.9 466.9 78.6 465.9 78.3 464.9 77.8 463.9 77.3 462.9 76.6 462.1 76 461.4 75.4 460.5 74.5 459.9 73.8 459.2 73 458.5 72 457.9 71.2 457.4 70.4 456.9 69.6 456.4 68.6 455.9 67.6 455.4 66.5 455.1 65.5 455 64.5 455 63.5 455.3 62.5 455.9 61.8 456.9 61.1 457.9 60.7 458.7 60.5 459.9 60.2 460.9 60.1 461.7 60 462.9 59.9 463.9 59.8 464.9 59.8 465.9 59.7 466.9 59.7 467.9 59.6 468.9 59.6 469.9 59.6 470.9 59.6 471.9 59.5 472.9 59.5 473.9 59.5 474.9 59.5 475.9 59.5 476.9 59.5 477.9 59.5 478.9 59.6 479.9 59.6 480.9 59.7 481.9 59.8 482.9 60 483.9 60.2 484.9 60.7 485.9 61.5 486.3 62.5 486.3 63.5 486 64.5 485.6 65.5 485.2 66.5 484.6 67.5 484 68.5 483.4 69.4 482.9 70.2 482.4 70.9 481.9 71.6 481.4 72.2 480.8 73 479.9 74 478.9 75 477.9 75.9 477.2 76.5 476.5 77 475.7 77.5 474.9 78 473.9 78.4 472.9 78.7 471.9 78.9 470.9 79Z"/><path stroke="#69ff96" d="M471.4 78.5 470.4 78.6 469.4 78.6 468.5 78.5 467.4 78.3 466.5 78 465.4 77.6 464.4 77.1 463.5 76.5 462.8 76 461.9 75.2 461.1 74.5 460.4 73.7 459.8 73 459 72 458.4 71.1 457.9 70.3 457.5 69.5 457 68.5 456.5 67.5 456.2 66.5 456 65.5 455.9 64.5 456.1 63.5 456.7 62.5 457.4 62 458.2 61.5 459.4 61.1 460.4 60.8 461.4 60.6 462.3 60.5 463.4 60.4 464.4 60.3 465.4 60.2 466.4 60.2 467.4 60.1 468.4 60.1 469.4 60 470.4 60 471.4 60 472.4 60 473.4 60 474.4 60 475.4 60 476.4 60 477.4 60.1 478.4 60.1 479.4 60.2 480.4 60.3 481.4 60.5 482.4 60.7 483.4 61.1 484.4 61.8 484.9 62.5 485.2 63.5 485.1 64.5 484.8 65.5 484.4 66.5 483.9 67.5 483.4 68.4 482.9 69.3 482.4 70 481.9 70.8 481.4 71.5 480.9 72.1 480.4 72.7 479.8 73.5 478.9 74.4 478.3 75 477.4 75.8 476.5 76.5 475.7 77 474.9 77.4 473.9 77.9 472.9 78.2 471.9 78.5 471.4 78.5Z"/><path stroke="#96ff69" d="M471.4 78.1 470.4 78.1 469.4 78.1 468.4 78 467.4 77.8 466.4 77.5 465.4 77.1 464.4 76.5 463.6 76 462.9 75.5 461.9 74.6 461.3 74 460.4 73 459.9 72.4 459.4 71.7 458.9 71 458.4 70.1 457.9 69.1 457.4 68 457.1 67 456.9 66 456.8 65 457 64 457.7 63 458.4 62.4 459.1 62 459.9 61.7 460.9 61.4 461.9 61.2 462.8 61 463.9 60.9 464.9 60.8 465.9 60.7 466.9 60.6 467.9 60.5 468.9 60.5 469.9 60.5 470.9 60.5 471.9 60.4 472.9 60.4 473.9 60.5 474.9 60.5 475.9 60.5 476.9 60.6 477.9 60.7 478.9 60.8 479.9 60.9 480.9 61.2 481.9 61.5 482.9 62 483.8 63 484.1 64 484 65 483.8 66 483.4 67 483 68 482.4 69 481.9 69.9 481.4 70.6 480.9 71.4 480.4 72 479.9 72.7 479.2 73.5 478.4 74.3 477.7 75 476.9 75.6 475.9 76.4 474.9 76.9 473.9 77.4 472.9 77.7 471.9 78 471.4 78.1Z"/><path stroke="#c2ff3d" d="M471.9 77.5 470.9 77.6 469.9 77.7 468.9 77.6 467.9 77.5 466.9 77.2 465.9 76.8 464.9 76.3 463.9 75.7 463 75 461.9 74 461 73 460.4 72.3 459.9 71.6 459.4 70.8 458.9 70 458.5 69 458.1 68 457.8 67 457.7 66 457.8 65 458.2 64 458.9 63.1 459.9 62.5 460.9 62.1 461.9 61.8 462.9 61.6 463.9 61.4 464.9 61.3 465.9 61.2 466.9 61.1 467.9 61 468.9 61 469.9 60.9 470.9 60.9 471.9 60.9 472.9 60.9 473.9 60.9 474.9 61 475.9 61 476.9 61.1 477.9 61.3 478.9 61.4 479.9 61.7 480.9 62 481.8 62.5 482.7 63.5 483.1 64.5 483.1 65.5 482.9 66.3 482.5 67.5 482.1 68.5 481.5 69.5 480.9 70.5 480.4 71.2 479.9 71.9 479.4 72.5 478.6 73.5 477.9 74.2 477 75 476.3 75.5 475.6 76 474.9 76.4 473.9 76.9 472.9 77.3 471.9 77.5 471.9 77.5Z"/><path stroke="#eeff11" d="M471.9 77 470.9 77.2 469.9 77.2 468.9 77.1 468 77 466.9 76.7 465.9 76.3 464.9 75.8 463.9 75.1 463.1 74.5 462.4 73.9 461.6 73 460.9 72.1 460.4 71.4 459.9 70.6 459.4 69.7 458.9 68.5 458.6 67.5 458.5 66.5 458.6 65.5 458.9 64.6 459.4 63.9 460.4 63.1 461.4 62.6 462.4 62.3 463.4 62 464.4 61.9 465.4 61.7 466.4 61.6 467.4 61.5 468.4 61.4 469.4 61.4 470.4 61.4 471.4 61.4 472.4 61.4 473.4 61.4 474.4 61.5 475.4 61.5 476.4 61.6 477.4 61.8 478.4 62 479.4 62.3 480.4 62.7 481.4 63.5 481.9 64.2 482.1 65 482.1 66 482 67 481.6 68 481.2 69 480.6 70 480 71 479.4 71.8 478.9 72.4 477.9 73.5 476.9 74.5 476.3 75 475.5 75.5 474.7 76 473.9 76.4 472.9 76.8 472 77 471.9 77Z"/><path stroke="#ffe300" d="M471.9 76.5 470.9 76.7 469.9 76.7 468.9 76.7 468 76.5 466.9 76.2 465.9 75.8 464.9 75.2 463.9 74.6 463.2 74 462.4 73.2 461.8 72.5 461 71.5 460.4 70.5 459.9 69.5 459.6 68.5 459.3 67.5 459.3 66.5 459.5 65.5 459.9 64.7 460.5 64 461.3 63.5 462.3 63 463.4 62.7 464.4 62.4 465.4 62.2 466.4 62.1 467.4 62 468.4 61.9 469.4 61.9 470.4 61.8 471.4 61.8 472.4 61.9 473.4 61.9 474.4 62 475.4 62.1 476.4 62.2 477.4 62.4 478.4 62.7 479.2 63 479.9 63.4 480.6 64 481.1 65 481.3 66 481.2 67 480.9 68 480.5 69 480 70 479.4 70.9 478.9 71.6 478.4 72.3 477.8 73 476.9 73.9 476.1 74.5 475.4 75 474.6 75.5 473.9 75.9 472.9 76.3 472 76.5 471.9 76.5Z"/><path stroke="#ffb700" d="M471.9 76 470.9 76.2 469.9 76.2 468.9 76.2 468 76 466.9 75.7 465.9 75.2 464.9 74.7 464 74 462.9 73 462 72 461.4 71.1 460.9 70.2 460.4 69 460.2 68 460.1 67 460.2 66 460.8 65 461.4 64.4 462.4 63.7 463.4 63.3 464.4 63 465.4 62.8 466.4 62.6 467.4 62.5 468.4 62.4 469.4 62.4 470.4 62.3 471.4 62.3 472.4 62.4 473.4 62.4 474.4 62.5 475.4 62.6 476.4 62.8 477.4 63.1 478.4 63.5 479.2 64 479.9 64.7 480.3 65.5 480.4 66.5 480.3 67.5 480 68.5 479.6 69.5 479 70.5 478.4 71.5 477.9 72.1 477.1 73 476.4 73.7 475.4 74.4 474.5 75 473.5 75.5 472.4 75.9 471.9 76Z"/><path stroke="#ff8b00" d="M471.9 75.5 470.9 75.7 469.9 75.7 468.9 75.7 468.1 75.5 466.9 75.1 465.9 74.7 464.9 74.1 464.2 73.5 463.4 72.8 462.7 72 462 71 461.5 70 461.1 69 460.9 68 460.9 67 461.2 66 461.9 65 462.5 64.5 463.4 64 464.4 63.6 465.4 63.4 466.4 63.2 467.4 63 468.4 62.9 469.4 62.9 470.4 62.8 471.4 62.8 472.4 62.9 473.4 62.9 474.4 63.1 475.4 63.2 476.4 63.5 477.4 63.9 478.4 64.5 479.2 65.5 479.5 66.5 479.5 67.5 479.3 68.5 478.9 69.5 478.4 70.5 477.9 71.2 477.4 71.9 476.9 72.5 475.9 73.4 475.2 74 474.4 74.5 473.4 75 472.4 75.4 471.9 75.5Z"/><path stroke="#ff5e00" d="M471.4 75.1 470.4 75.2 469.4 75.2 468.4 75 467.4 74.8 466.4 74.3 465.4 73.8 464.4 73 463.4 72 462.9 71.3 462.4 70.5 462 69.5 461.7 68.5 461.7 67.5 461.9 66.6 462.4 65.7 463.2 65 463.9 64.6 464.9 64.2 465.9 63.9 466.9 63.7 467.9 63.5 468.9 63.4 469.9 63.4 470.9 63.3 471.9 63.4 472.9 63.5 473.9 63.6 474.9 63.8 475.7 64 476.9 64.5 477.6 65 478.4 66 478.7 67 478.7 68 478.4 69 478 70 477.4 70.9 476.9 71.6 476.1 72.5 475.4 73.1 474.4 73.9 473.4 74.4 472.4 74.8 471.4 75.1Z"/><path stroke="#ff3200" d="M470.9 74.6 469.9 74.6 468.9 74.6 467.9 74.3 467 74 466 73.5 465.3 73 464.4 72.2 463.8 71.5 463.2 70.5 462.7 69.5 462.5 68.5 462.6 67.5 462.9 66.6 463.4 65.9 464.4 65.2 465.4 64.7 466.4 64.4 467.4 64.2 468.4 64 469.4 63.9 470.4 63.9 471.4 63.9 472.4 64 473.4 64.1 474.4 64.3 475.4 64.7 476.1 65 476.8 65.5 477.4 66.2 477.7 67 477.8 68 477.6 69 477.2 70 476.6 71 475.9 71.9 475.3 72.5 474.4 73.2 473.4 73.8 472.4 74.2 471.4 74.5 470.9 74.6Z"/><path stroke="#ff0600" d="M470.4 74 469.4 74 468.4 73.8 467.4 73.5 466.4 73 465.7 72.5 464.9 71.8 464.3 71 463.7 70 463.4 69 463.4 68 463.7 67 464.4 66.2 465.4 65.5 466.4 65.1 467.4 64.8 468.4 64.6 469.4 64.5 470.2 64.5 471.4 64.5 472.4 64.6 473.4 64.8 474.4 65.1 475.3 65.5 476 66 476.7 67 476.9 67.9 476.8 69 476.4 70 475.9 70.8 475.4 71.5 474.4 72.4 473.6 73 472.6 73.5 471.4 73.9 470.6 74 470.4 74Z"/><path stroke="#d80000" d="M471.9 73 470.9 73.3 469.9 73.4 468.9 73.3 468 73 466.9 72.5 466.2 72 465.4 71.2 464.9 70.5 464.5 69.5 464.4 68.5 464.6 67.5 465.4 66.5 466.2 66 467.4 65.5 468.4 65.3 469.4 65.2 470.4 65.2 471.4 65.2 472.4 65.3 473.4 65.6 474.4 66 475.1 66.5 475.8 67.5 475.9 68.3 475.7 69.5 475.2 70.5 474.4 71.5 473.4 72.3 472.4 72.9 471.9 73Z"/><path stroke="#ac0000" d="M470.9 72.5 469.9 72.6 468.9 72.5 467.9 72.1 466.9 71.5 466 70.5 465.5 69.5 465.5 68.5 465.9 67.5 466.9 66.7 467.9 66.3 468.9 66 469.9 65.9 470.9 66 471.9 66.1 472.9 66.4 473.9 66.9 474.7 68 474.8 69 474.4 70 473.9 70.8 473.2 71.5 472.4 72 471.4 72.4 470.9 72.5Z"/><path stroke="#800000" d="M470.4 71.6 469.4 71.5 468.4 71.2 467.4 70.5 466.9 69.6 466.9 68.7 467.4 67.8 468.4 67.2 469.2 67 470.4 66.9 471.4 67 472.4 67.4 473.1 68 473.4 69 473.1 70 472.4 70.7 471.4 71.3 470.4 71.6Z"/></g>
<g clip-path="url(#clip_bA)" fill="none" stroke-width="0.55" stroke-linejoin="round"><path stroke="#000080" d="M109.5 174.4 108.7 175.3 107.7 175.9 106.7 176.3 105.7 176.6 104.7 176.8 103.7 177 102.7 177.1 101.7 177.2 100.7 177.2 99.7 177.3 98.7 177.3 97.7 177.3 96.7 177.3 95.7 177.3 94.7 177.2 93.7 177.1 92.7 177 91.7 176.8 90.7 176.6 89.8 176.4 88.7 176 87.7 175.4 87.1 174.9 86.7 174.4M99.7 190.9 98.7 190.9 97.7 190.9 96.7 190.9 95.7 190.9 94.7 190.8 93.7 190.8 92.7 190.7 91.7 190.6 90.7 190.5 89.7 190.3 88.7 190.1 87.7 189.8 86.7 189.4 85.9 188.9 85.2 188.3 84.7 187.5 84.5 186.4 84.7 185.4 85.2 184.6 86 183.9 86.7 183.4 87.7 183 88.7 182.7 89.7 182.4 90.7 182.2 91.7 182.1 92.7 181.9 93.7 181.9 94.7 181.8 95.7 181.7 96.7 181.7 97.7 181.7 98.7 181.7 99.7 181.7 100.7 181.7 101.7 181.8 102.7 181.9 103.7 182 104.7 182.1 105.7 182.3 106.7 182.5 107.7 182.7 108.7 183.1 109.7 183.6 110.7 184.3 111.5 185.4 111.7 186.2 111.6 187.4 110.9 188.4 110.2 189 109.5 189.4 108.7 189.7 107.7 190 106.7 190.3 105.7 190.4 104.7 190.6 103.7 190.7 102.7 190.8 101.7 190.8 100.7 190.9 99.7 190.9ZM102.7 204.4 101.7 204.4 100.7 204.5 99.7 204.5 98.7 204.5 97.7 204.5 96.7 204.5 95.7 204.5 94.7 204.5 93.7 204.4 92.7 204.4 91.7 204.3 90.7 204.2 89.7 204.1 88.7 204 87.7 203.8 86.7 203.6 85.7 203.3 84.8 202.9 84 202.4 83.2 201.6 82.8 200.9 82.5 199.9 82.6 198.9 83 197.9 83.7 196.9 84.3 196.4 85.2 195.9 86.2 195.5 87.2 195.1 88.2 194.9 89.2 194.7 90.2 194.6 91.2 194.4 92.2 194.4 93.2 194.3 94.2 194.2 95.2 194.2 96.2 194.2 97.2 194.1 98.2 194.1 99.2 194.1 100.2 194.2 101.2 194.2 102.2 194.2 103.2 194.3 104.2 194.4 105.2 194.5 106.2 194.6 107.2 194.7 108 194.9 109.2 195.2 110.2 195.5 111 195.9 111.9 196.4 112.7 197.1 113.2 197.8 113.6 198.9 113.7 199.9 113.4 200.9 112.8 201.9 112.2 202.4 111.4 202.9 110.7 203.2 109.7 203.5 108.7 203.8 107.7 204 106.7 204.1 105.7 204.2 104.7 204.3 103.7 204.4 102.8 204.4 102.7 204.4ZM105.7 217.9 104.7 217.9 103.7 218 102.7 218 101.7 218 100.7 218 99.7 218 98.7 218.1 97.7 218.1 96.7 218 95.7 218 94.7 218 93.7 218 92.7 218 91.7 218 90.7 217.9 89.7 217.9 88.7 217.8 87.7 217.7 86.7 217.6 85.7 217.5 84.7 217.3 83.7 217.1 82.7 216.7 81.7 216 81.1 215.4 80.7 214.5 80.5 213.4 80.5 212.4 80.7 211.5 81.1 210.4 81.7 209.6 82.4 208.9 83.2 208.4 84.2 208 85.2 207.7 86.2 207.4 87.2 207.2 88.2 207.1 89.2 207 90 206.9 91.2 206.8 92.2 206.7 93.2 206.7 94.2 206.7 95.2 206.6 96.2 206.6 97.2 206.6 98.2 206.6 99.2 206.6 100.2 206.6 101.2 206.6 102.2 206.7 103.2 206.7 104.2 206.8 105.2 206.8 106.2 206.9 107.2 207 108.2 207.1 109.2 207.3 110.2 207.5 111.2 207.7 112.2 208.1 113 208.4 113.7 208.9 114.3 209.4 115.1 210.4 115.5 211.4 115.7 212.4 115.7 213.4 115.5 214.4 115.2 215.2 114.7 215.8 114 216.4 113.2 216.8 112.2 217.1 111.2 217.4 110.2 217.5 109.2 217.7 108.2 217.8 107.2 217.8 106.2 217.9 105.7 217.9ZM69.7 215 68.7 215.2 67.7 215.2 66.7 215.1 65.7 214.8 65 214.4 64.2 213.4 64.3 212.4 65.1 211.4 66.2 210.9 67.2 210.7 68.2 210.6 69.2 210.7 70.2 211 71.2 211.8 71.6 212.9 71.4 213.9 70.7 214.6 69.7 215ZM130.2 214.9 129.2 215.1 128.2 215.2 127.2 215.1 126.2 214.9 125.2 214.4 124.7 213.7 124.7 212.4 125.2 211.6 126.2 210.9 127.2 210.7 128.2 210.6 129.2 210.7 130 210.9 131.1 211.4 131.7 212 132 212.9 131.7 213.9 130.7 214.7 130.2 214.9ZM107.2 243.9 106.2 244 105.2 244 104.2 244 103.2 244.1 102.2 244.1 101.2 244.1 100.2 244.1 99.2 244.1 98.2 244.1 97.2 244.1 96.2 244.1 95.2 244.1 94.2 244.1 93.2 244.1 92.2 244 91.2 244 90.2 244 89.2 243.9 88.2 243.9 87.2 243.8 86.2 243.7 85.2 243.6 84.2 243.5 83.2 243.3 82.2 243 81.2 242.6 80.2 241.9 79.3 240.9 78.8 239.9 78.5 238.9 78.3 237.9 78.2 236.9 78.1 235.9 78 234.9 77.9 233.9 77.9 232.9 77.9 231.9 77.9 230.9 77.9 229.9 78 228.9 78 227.9 78.1 226.9 78.2 226.1 78.4 224.9 78.6 223.9 79 222.9 79.6 221.9 80.2 221.3 81.2 220.6 82.2 220.2 83.2 219.9 84.2 219.7 85.2 219.6 86.2 219.5 87.2 219.4 88.2 219.3 89.2 219.3 90.2 219.2 91.2 219.2 92.2 219.2 93.2 219.1 94.2 219.1 95.2 219.1 96.2 219.1 97.2 219.1 98.2 219.1 99.2 219.1 100.2 219.1 101.2 219.1 102.2 219.1 103.2 219.1 104.2 219.2 105.2 219.2 106.2 219.2 107.2 219.3 108.2 219.3 109.2 219.4 110.2 219.5 111.2 219.6 112.2 219.8 113.2 220 114.2 220.3 115.2 220.7 116.2 221.4 116.7 222 117.2 222.9 117.6 223.9 117.8 224.9 118 225.9 118.1 226.9 118.2 227.9 118.2 228.9 118.3 229.9 118.3 230.9 118.3 231.9 118.3 232.9 118.2 233.9 118.2 234.9 118.1 235.9 118 236.9 117.9 237.9 117.7 238.8 117.4 239.9 116.9 240.9 116.2 241.8 115.4 242.4 114.3 242.9 113.2 243.2 112.3 243.4 111.2 243.6 110.2 243.7 109.2 243.8 108.2 243.9 107.2 243.9ZM69.7 242.4 68.7 242.5 67.7 242.5 66.7 242.5 65.8 242.4 64.7 242.3 63.7 242.1 62.7 241.8 61.7 241.4 60.8 240.9 60.1 240.4 59.3 239.4 58.8 238.4 58.4 237.4 58.2 236.6 58 235.4 57.9 234.4 57.8 233.4 57.7 232.4 57.7 231.4 57.8 230.4 57.8 229.4 57.9 228.4 58 227.4 58.2 226.6 58.5 225.4 58.9 224.4 59.6 223.4 60.2 222.7 61.2 222 62.2 221.6 63.2 221.2 64.2 221 65.2 220.9 66.2 220.8 67.2 220.7 68.2 220.7 69.2 220.7 70.2 220.8 71.2 220.9 72.2 221.2 73.2 221.6 74.2 222.2 74.8 222.9 75.2 223.6 75.5 224.4 75.7 225.2 75.9 226.4 76 227.4 76.1 228.4 76.2 229.4 76.2 230.4 76.2 231.4 76.2 232.4 76.2 233.4 76.1 234.4 76.1 235.4 76 236.4 75.8 237.4 75.6 238.4 75.3 239.4 74.7 240.4 73.7 241.4 72.7 241.9 71.7 242.2 70.7 242.3 69.7 242.4ZM130.2 242.4 129.2 242.5 128.2 242.5 127.2 242.5 126.2 242.4 125.2 242.3 124.2 242.1 123.2 241.7 122.2 241.1 121.5 240.4 120.9 239.4 120.6 238.4 120.4 237.4 120.2 236.4 120.1 235.4 120.1 234.4 120 233.4 120 232.4 120 231.4 120 230.4 120 229.4 120.1 228.4 120.2 227.4 120.3 226.4 120.5 225.4 120.7 224.4 121.1 223.4 121.7 222.5 122.4 221.9 123.2 221.5 124.2 221.1 125.2 220.9 126.2 220.8 127.2 220.7 128.2 220.7 129.2 220.7 130.2 220.8 131.2 220.9 132.2 221.1 133.2 221.3 134.2 221.6 135.2 222.2 136.2 222.9 136.7 223.5 137.2 224.3 137.7 225.4 138 226.4 138.2 227.4 138.3 228.4 138.4 229.4 138.4 230.4 138.5 231.4 138.5 232.4 138.4 233.4 138.3 234.4 138.2 235.4 138 236.4 137.8 237.4 137.4 238.4 136.9 239.4 136.2 240.3 135.4 240.9 134.7 241.3 133.7 241.7 132.7 242 131.7 242.2 130.7 242.4 130.2 242.4ZM49.2 241 48.2 241.1 47.2 241.2 46.2 241.2 45.2 241.2 44.2 241.1 43.4 240.9 42.2 240.6 41.2 240.1 40.2 239.4 39.2 238.4 38.7 237.5 38.2 236.4 38 235.4 37.8 234.4 37.7 233.4 37.6 232.4 37.6 231.4 37.6 230.4 37.7 229.4 37.8 228.4 38.1 227.4 38.4 226.4 38.9 225.4 39.6 224.4 40.2 223.8 41.2 223.1 42.2 222.6 43 222.4 44.2 222.1 45.2 222 46.2 222 47.2 222 48.2 222.1 49.2 222.2 50.2 222.5 51 222.9 51.8 223.4 52.7 224.3 53.2 225.1 53.5 225.9 53.8 226.9 54 227.9 54.2 228.9 54.3 229.9 54.3 230.9 54.3 231.9 54.3 232.9 54.2 233.9 54.1 234.9 53.9 235.9 53.7 236.8 53.3 237.9 52.7 238.9 51.7 239.9 50.8 240.4 49.7 240.8 49.2 241ZM152.7 240.9 151.7 241.1 150.7 241.2 149.7 241.2 148.7 241.2 147.7 241.1 146.8 240.9 145.7 240.6 144.7 240 143.9 239.4 143.2 238.4 142.7 237.4 142.4 236.4 142.2 235.6 142 234.4 141.9 233.4 141.9 232.4 141.9 231.4 141.9 230.4 142 229.4 142.1 228.4 142.2 227.4 142.5 226.4 142.9 225.4 143.4 224.4 144.2 223.6 145.2 222.9 146.2 222.5 147.2 222.2 148.2 222 149.2 222 150.2 222 151.2 222 152.2 222.2 153.2 222.4 154.2 222.7 155.2 223.2 156.2 223.9 157 224.9 157.6 225.9 158 226.9 158.3 227.9 158.4 228.9 158.6 229.9 158.6 230.9 158.6 231.9 158.6 232.9 158.5 233.9 158.3 234.9 158.1 235.9 157.8 236.9 157.3 237.9 156.7 238.7 156 239.4 155.4 239.9 154.4 240.4 153.2 240.8 152.7 240.9ZM21.2 224 22.2 223.6 23 223.4 24.2 223.2 25.2 223.2 26.2 223.2 27.2 223.4 28.2 223.6 29.2 224.1 30.2 224.8 30.8 225.4 31.4 226.4 31.8 227.4 32.1 228.4 32.3 229.4 32.4 230.4 32.4 231.4 32.4 232.4 32.3 233.4 32.2 234.4 31.9 235.4 31.6 236.4 31.2 237.1 30.7 237.9 29.7 238.8 28.7 239.4 27.7 239.7 26.9 239.9 25.7 240 24.7 240 23.7 239.9 22.7 239.7 21.7 239.4 21.2 239.2M177.2 237.4 176.2 238.4 175.5 238.9 174.7 239.3 173.7 239.7 172.7 239.9 171.7 240 170.7 240 169.7 240 168.7 239.8 167.7 239.5 166.7 238.9 166 238.4 165.2 237.5 164.7 236.6 164.3 235.4 164 234.4 163.9 233.4 163.8 232.4 163.8 231.4 163.8 230.4 163.9 229.4 164.1 228.4 164.4 227.4 164.7 226.6 165.1 225.9 165.7 225.1 166.5 224.4 167.2 224 168.2 223.6 169.2 223.3 170.2 223.2 171.2 223.2 172.2 223.2 173.2 223.4 174.2 223.7 175.2 224.1 176.2 224.8 176.8 225.4 177.2 225.8M104.7 256.4 103.7 256.5 102.7 256.5 101.7 256.5 100.7 256.6 99.7 256.6 98.7 256.6 97.7 256.6 96.7 256.6 95.7 256.6 94.7 256.5 93.7 256.5 92.7 256.5 91.7 256.4 90.7 256.4 89.7 256.3 88.7 256.2 87.7 256 86.8 255.9 85.7 255.7 84.7 255.4 83.7 255 82.7 254.5 82 253.9 81.2 252.9 80.7 251.9 80.5 250.9 80.5 249.9 80.6 248.9 81.1 247.9 81.7 247.2 82.7 246.5 83.7 246.1 84.6 245.9 85.7 245.7 86.7 245.6 87.7 245.5 88.6 245.4 89.7 245.3 90.7 245.3 91.7 245.2 92.7 245.2 93.7 245.2 94.7 245.2 95.7 245.2 96.7 245.2 97.7 245.1 98.7 245.1 99.7 245.2 100.7 245.2 101.7 245.2 102.7 245.2 103.7 245.2 104.7 245.3 105.7 245.3 106.7 245.3 107.6 245.4 108.7 245.5 109.7 245.6 110.7 245.7 111.6 245.9 112.7 246.2 113.7 246.6 114.7 247.4 115.2 248 115.6 248.9 115.7 249.8 115.7 250.9 115.5 251.9 115 252.9 114.2 253.9 113.2 254.7 112.2 255.1 111.2 255.5 110.2 255.7 109.4 255.9 108.2 256.1 107.2 256.2 106.2 256.3 105.2 256.4 104.7 256.4ZM69.2 252.5 68.2 252.6 67.2 252.5 66.2 252.3 65.3 251.9 64.3 250.9 64.2 249.9 64.7 249 65.7 248.4 66.7 248.1 67.7 248 68.7 248 69.7 248.2 70.7 248.6 71.4 249.4 71.6 250.4 71.2 251.4 70.2 252.2 69.2 252.5ZM129.7 252.4 128.7 252.6 127.7 252.6 126.7 252.4 125.7 252 125 251.4 124.6 250.4 124.7 249.5 125.2 248.8 125.9 248.4 126.7 248.1 127.7 248 128.7 248 129.7 248.2 130.5 248.4 131.4 248.9 132 249.9 131.9 250.9 131.2 251.7 130.2 252.2 129.7 252.4ZM103.2 268.9 102.2 269 101.2 269 100.2 269 99.2 269.1 98.2 269.1 97.2 269.1 96.2 269 95.2 269 94.2 269 93.2 268.9 92.2 268.8 91.2 268.8 90.2 268.6 89.2 268.5 88.2 268.3 87.2 268.1 86.2 267.7 85.4 267.4 84.5 266.9 83.8 266.4 83.2 265.7 82.8 264.9 82.5 263.9 82.6 262.9 83 261.9 83.7 261 84.6 260.4 85.7 259.9 86.7 259.6 87.6 259.4 88.7 259.2 89.7 259.1 90.7 259 91.7 258.9 92.7 258.8 93.7 258.8 94.7 258.8 95.7 258.7 96.7 258.7 97.7 258.7 98.7 258.7 99.7 258.7 100.7 258.7 101.7 258.8 102.7 258.8 103.7 258.8 104.5 258.9 105.7 259 106.7 259.1 107.7 259.2 108.6 259.4 109.7 259.7 110.5 259.9 111.6 260.4 112.4 260.9 113.2 261.8 113.6 262.9 113.7 263.9 113.4 264.9 112.8 265.9 112.2 266.5 111.2 267.2 110.2 267.7 109.2 268 108.2 268.3 107.2 268.5 106.2 268.6 105.2 268.7 104.2 268.8 103.3 268.9 103.2 268.9ZM101.7 281.4 100.7 281.5 99.7 281.5 98.7 281.5 97.7 281.5 96.7 281.5 95.7 281.5 94.7 281.4 93.7 281.3 92.7 281.3 91.7 281.1 90.7 281 89.7 280.8 88.7 280.5 87.7 280.2 86.7 279.8 85.7 279.1 85.1 278.4 84.6 277.4 84.5 276.4 84.8 275.4 85.7 274.4 86.5 273.9 87.7 273.4 88.7 273.1 89.7 272.9 90.7 272.7 91.7 272.6 92.7 272.5 93.7 272.4 94.7 272.4 95.7 272.3 96.7 272.3 97.7 272.3 98.7 272.3 99.7 272.3 100.7 272.3 101.7 272.4 102.7 272.4 103.7 272.5 104.7 272.6 105.7 272.8 106.5 272.9 107.7 273.2 108.7 273.5 109.7 273.9 110.5 274.4 111.2 275.2 111.6 275.9 111.7 276.9 111.5 277.9 110.7 278.9 109.7 279.6 108.7 280.1 107.7 280.5 106.7 280.7 105.7 280.9 104.7 281.1 103.7 281.2 102.7 281.3 101.8 281.4 101.7 281.4ZM87 288.4 87.7 287.8 88.7 287.2 89.5 286.9 90.7 286.6 91.5 286.4 92.7 286.2 93.7 286.1 94.7 286 95.7 285.9 96.7 285.9 97.7 285.9 98.7 285.9 99.7 285.9 100.7 286 101.7 286 102.7 286.1 103.7 286.2 104.7 286.4 105.7 286.6 106.7 286.9 107.7 287.3 108.7 287.9 109.2 288.4"/><path stroke="#0000ac" d="M100.2 188.4 99.2 188.5 98.2 188.5 97.2 188.5 96.2 188.4 95.2 188.3 94.2 188 93.2 187.6 92.3 186.9 92.4 185.9 93.2 185.3 94.1 184.9 95.2 184.6 96.2 184.5 97.2 184.4 98.2 184.4 99.2 184.4 100.2 184.5 101.2 184.7 102.1 184.9 103.2 185.4 104 186.4 103.4 187.4 102.4 187.9 101.2 188.2 100.3 188.4 100.2 188.4ZM102.7 202.9 101.7 203 100.7 203.1 99.7 203.2 98.7 203.2 97.7 203.2 96.7 203.2 95.7 203.1 94.7 203.1 93.7 203 92.7 202.8 91.7 202.6 90.7 202.4 89.7 202.1 88.7 201.6 87.9 200.9 87.4 199.9 87.5 198.9 88.2 198 89 197.4 90.1 196.9 91.2 196.5 92.2 196.3 93.2 196.1 94.2 196 95.2 195.9 96.2 195.8 97.2 195.8 98.2 195.8 99.2 195.8 100.2 195.8 101.2 195.9 102.2 196 103.2 196.2 104.2 196.3 105.2 196.6 106.1 196.9 107.2 197.4 107.9 197.9 108.7 198.9 108.8 199.9 108.3 200.9 107.7 201.4 106.9 201.9 105.7 202.3 104.7 202.6 103.7 202.8 102.7 202.9ZM101.2 217.4 100.2 217.4 99.2 217.4 98.2 217.5 97.2 217.4 96.2 217.4 95.2 217.4 94.2 217.4 93.2 217.3 92.2 217.3 91.2 217.2 90.2 217.1 89.2 216.9 88.2 216.8 87.2 216.5 86.2 216.2 85.4 215.9 84.7 215.4 84.1 214.9 83.5 213.9 83.4 212.9 83.6 211.9 84.2 210.9 85.2 209.9 86.1 209.4 87.2 208.9 88.2 208.6 89.2 208.3 90.2 208.2 91.2 208 92 207.9 93.2 207.8 94.2 207.7 95.2 207.7 96.2 207.6 97.2 207.6 98.2 207.6 99.2 207.6 100.2 207.6 101.2 207.7 102.2 207.7 103.2 207.8 104.2 207.9 105.2 208 106.2 208.2 107.2 208.4 108.2 208.6 109 208.9 110.1 209.4 111 209.9 111.7 210.5 112.4 211.4 112.7 212.3 112.8 213.4 112.4 214.4 111.7 215.3 110.8 215.9 109.7 216.3 108.7 216.6 107.7 216.8 106.7 217 105.7 217.1 104.7 217.2 103.7 217.3 102.7 217.3 101.7 217.4 101.2 217.4ZM105.7 243.4 104.7 243.5 103.7 243.5 102.7 243.6 101.7 243.6 100.7 243.6 99.7 243.6 98.7 243.6 97.7 243.6 96.7 243.6 95.7 243.6 94.7 243.6 93.7 243.6 92.7 243.5 91.7 243.5 90.7 243.4 89.7 243.3 88.7 243.3 87.7 243.1 86.7 243 85.7 242.8 84.7 242.6 83.7 242.3 82.8 241.9 81.9 241.4 81.2 240.9 80.4 239.9 79.8 238.9 79.4 237.9 79.2 237.1 79 235.9 78.8 234.9 78.7 233.9 78.7 233.1 78.7 231.9 78.7 230.9 78.7 229.9 78.8 228.9 78.9 227.9 79 226.9 79.2 226.1 79.6 224.9 80 223.9 80.7 222.9 81.7 221.9 82.6 221.4 83.7 220.9 84.7 220.6 85.6 220.4 86.7 220.2 87.7 220.1 88.7 220 89.7 219.9 90.7 219.8 91.7 219.7 92.7 219.7 93.7 219.6 94.7 219.6 95.7 219.6 96.7 219.6 97.7 219.6 98.7 219.6 99.7 219.6 100.7 219.6 101.7 219.6 102.7 219.6 103.7 219.7 104.7 219.7 105.7 219.8 106.7 219.9 107.7 220 108.7 220.1 109.7 220.2 110.6 220.4 111.7 220.7 112.7 221 113.6 221.4 114.5 221.9 115.2 222.5 115.9 223.4 116.4 224.4 116.8 225.4 117.1 226.4 117.2 227.4 117.4 228.4 117.5 229.4 117.5 230.4 117.5 231.4 117.5 232.4 117.5 233.4 117.4 234.4 117.3 235.4 117.1 236.4 116.9 237.4 116.6 238.4 116.2 239.3 115.7 240.1 115 240.9 114.3 241.4 113.4 241.9 112.2 242.4 111.2 242.7 110.2 242.9 109.2 243 108.2 243.2 107.2 243.3 106.2 243.4 105.7 243.4ZM70.2 240.5 69.2 240.6 68.2 240.7 67.2 240.7 66.2 240.6 65.3 240.4 64.2 240.1 63.2 239.7 62.2 239 61.5 238.4 60.7 237.4 60.2 236.4 59.8 235.4 59.6 234.4 59.4 233.4 59.3 232.4 59.3 231.4 59.4 230.4 59.5 229.4 59.7 228.4 60 227.4 60.4 226.4 61 225.4 61.7 224.6 62.6 223.9 63.5 223.4 64.7 223 65.7 222.7 66.7 222.6 67.7 222.5 68.7 222.5 69.7 222.6 70.7 222.8 71.7 223.2 72.7 223.7 73.4 224.4 74.1 225.4 74.5 226.4 74.8 227.4 75 228.4 75.1 229.4 75.2 230.4 75.2 231.4 75.2 232.4 75.2 233.4 75.1 234.4 74.9 235.4 74.7 236.3 74.3 237.4 73.8 238.4 73.2 239.1 72.2 239.8 71.2 240.2 70.2 240.5ZM130.7 240.4 129.7 240.6 128.7 240.7 127.7 240.7 126.7 240.6 125.7 240.4 124.7 240.1 123.7 239.6 122.9 238.9 122.2 238 121.7 236.9 121.4 235.9 121.2 234.9 121.1 233.9 121 232.9 121 231.9 121 230.9 121 229.9 121.1 228.9 121.3 227.9 121.5 226.9 121.8 225.9 122.4 224.9 123.2 224 124 223.4 125.2 222.9 126.2 222.7 127.2 222.5 128.2 222.5 129.2 222.5 130.2 222.7 131.2 222.9 132.2 223.2 133.2 223.7 134.2 224.3 134.8 224.9 135.6 225.9 136.1 226.9 136.4 227.9 136.6 228.9 136.8 229.9 136.9 230.9 136.9 231.9 136.8 232.9 136.7 233.9 136.5 234.9 136.2 235.9 135.8 236.9 135.2 237.8 134.2 238.9 133.5 239.4 132.7 239.8 131.7 240.2 130.9 240.4 130.7 240.4ZM48.2 238 47.2 238.2 46.2 238.2 45.2 238.1 44.3 237.9 43.2 237.4 42.4 236.9 41.7 236.2 41.2 235.5 40.7 234.4 40.4 233.4 40.3 232.4 40.2 231.4 40.3 230.4 40.5 229.4 40.9 228.4 41.4 227.4 42.2 226.5 43 225.9 44 225.4 45.2 225.1 46.2 225 47.2 225 48.2 225.2 49.2 225.6 50.2 226.2 50.8 226.9 51.5 227.9 51.8 228.9 52.1 229.9 52.2 230.9 52.2 231.9 52.1 232.9 51.9 233.9 51.7 234.7 51.2 235.8 50.7 236.5 49.7 237.3 48.7 237.9 48.2 238ZM151.7 238 150.7 238.2 149.7 238.2 148.7 238.2 147.7 237.9 146.7 237.5 145.9 236.9 145.2 236.1 144.7 235.2 144.4 234.4 144.1 233.4 144 232.4 144 231.4 144.1 230.4 144.2 229.5 144.5 228.4 145 227.4 145.7 226.5 146.4 225.9 147.2 225.5 148.2 225.1 149.2 225 150.2 225 151.2 225.1 152.2 225.4 153.2 225.9 153.9 226.4 154.7 227.3 155.2 228.1 155.5 228.9 155.8 229.9 156 230.9 156 231.9 155.9 232.9 155.7 233.8 155.3 234.9 154.7 235.9 153.8 236.9 153 237.4 152.2 237.8 151.7 238ZM26.2 235.1 25.2 235.2 24.2 235.1 23.2 234.6 22.5 233.9 22 232.9 21.8 231.9 21.9 230.9 22.2 229.9 22.7 229.1 23.6 228.4 24.7 228 25.7 228 26.7 228.3 27.5 228.9 28.2 229.9 28.5 230.9 28.5 231.9 28.3 232.9 27.8 233.9 27.2 234.6 26.2 235.1ZM172.2 235 171.2 235.2 170.2 235.1 169.2 234.7 168.4 233.9 167.9 232.9 167.7 232 167.7 231.2 168 229.9 168.7 228.9 169.4 228.4 170.2 228.1 171.2 228 172.2 228.2 173.2 228.8 173.7 229.4 174.2 230.3 174.4 231.4 174.3 232.4 174 233.4 173.2 234.4 172.5 234.9 172.2 235ZM102.7 255.4 101.7 255.5 100.7 255.6 99.7 255.6 98.7 255.6 97.7 255.6 96.7 255.6 95.7 255.6 94.7 255.5 93.7 255.5 92.7 255.4 91.7 255.3 90.7 255.1 89.7 255 88.7 254.7 87.7 254.5 86.7 254.1 85.7 253.6 84.7 252.9 83.9 251.9 83.5 250.9 83.4 249.9 83.7 248.9 84.2 248.2 85.2 247.4 86.2 247 87.2 246.7 88.2 246.4 89.2 246.3 90.2 246.1 91.2 246 92.2 245.9 93.2 245.9 94.2 245.8 95.2 245.8 96.2 245.8 97.2 245.8 98.2 245.8 99.2 245.8 100.2 245.8 101.2 245.8 102.2 245.8 103.2 245.9 104.2 245.9 105.2 246 106.2 246.1 107.2 246.3 108.2 246.5 109.2 246.7 110.2 247 111 247.4 111.7 247.9 112.5 248.9 112.8 249.9 112.7 250.9 112.3 251.9 111.7 252.7 110.8 253.4 109.9 253.9 109.2 254.2 108.2 254.6 107.2 254.8 106.2 255 105.2 255.2 104.2 255.3 103.2 255.4 102.7 255.4ZM99.7 267.4 98.7 267.4 97.7 267.4 96.7 267.4 95.7 267.4 94.7 267.3 93.7 267.2 92.7 267 91.7 266.8 90.7 266.5 89.7 266.1 88.7 265.6 87.9 264.9 87.4 263.9 87.5 262.9 88.2 262 89.1 261.4 90.2 261 91.2 260.7 92.2 260.5 93.2 260.3 94.2 260.2 95.2 260.1 96.2 260.1 97.2 260 98.2 260 99.2 260 100.2 260.1 101.2 260.1 102.2 260.2 103.2 260.3 104.2 260.5 105.2 260.7 106.2 261 107.1 261.4 107.9 261.9 108.7 262.9 108.8 263.9 108.3 264.9 107.2 265.8 106.2 266.3 105.2 266.6 104.2 266.9 103.2 267 102.2 267.2 101.2 267.3 100.2 267.4 99.7 267.4ZM101.7 278.4 100.7 278.6 99.7 278.8 98.7 278.8 97.7 278.8 96.7 278.8 95.7 278.7 94.7 278.5 93.7 278.1 92.7 277.6 92.2 276.9 92.7 275.9 93.5 275.4 94.7 275 95.7 274.8 96.7 274.7 97.7 274.7 98.7 274.7 99.7 274.8 100.7 274.9 101.7 275.1 102.7 275.4 103.5 275.9 104 276.9 103.2 277.8 102.2 278.2 101.7 278.4Z"/><path stroke="#0000d8" d="M100.2 200.9 99.2 201 98.2 201.1 97.2 201.1 96.2 201 95.2 200.7 94.5 200.4 93.9 199.4 94.7 198.7 95.6 198.4 96.7 198.2 97.7 198.1 98.7 198.1 99.7 198.2 100.6 198.4 101.7 198.8 102.3 199.4 101.8 200.4 100.7 200.8 100.2 200.9ZM103.7 216.5 102.7 216.6 101.7 216.6 100.7 216.7 99.7 216.7 98.7 216.7 97.7 216.8 96.7 216.7 95.7 216.7 94.7 216.6 93.7 216.6 92.7 216.5 91.7 216.3 90.7 216.2 89.7 215.9 88.7 215.6 87.7 215.1 86.8 214.4 86.3 213.4 86.3 212.4 86.7 211.7 87.4 210.9 88.2 210.4 89.2 209.9 90.2 209.6 91.2 209.3 92.2 209.1 93.2 208.9 94.2 208.8 95.2 208.7 96.2 208.7 97.2 208.6 98.2 208.6 99.2 208.6 100.2 208.7 101.2 208.7 102.2 208.8 103.2 209 104.2 209.1 105.2 209.3 106.2 209.6 107 209.9 108 210.4 108.7 210.8 109.3 211.4 109.9 212.4 109.9 213.4 109.4 214.4 108.7 215 108 215.4 107.2 215.7 106.2 216 105.2 216.2 104.2 216.4 103.7 216.5ZM105.2 242.9 104.2 243 103.2 243.1 102.2 243.1 101.2 243.1 100.2 243.2 99.2 243.2 98.2 243.2 97.2 243.2 96.2 243.2 95.2 243.1 94.2 243.1 93.2 243.1 92.2 243 91.2 242.9 90.2 242.8 89.2 242.7 88.2 242.6 87.3 242.4 86.2 242.2 85.3 241.9 84.2 241.5 83.2 241 82.4 240.4 81.7 239.8 81 238.9 80.5 237.9 80.1 236.9 79.8 235.9 79.6 234.9 79.5 233.9 79.4 232.9 79.4 231.9 79.4 230.9 79.4 229.9 79.5 228.9 79.7 227.9 79.9 226.9 80.2 226 80.7 224.9 81.2 224 82.2 222.9 82.9 222.4 83.7 221.9 84.7 221.5 85.7 221.2 86.7 220.9 87.7 220.7 88.7 220.6 89.7 220.4 90.7 220.3 91.7 220.2 92.7 220.2 93.7 220.1 94.7 220.1 95.7 220 96.7 220 97.7 220 98.7 220 99.7 220 100.7 220 101.7 220.1 102.7 220.1 103.7 220.2 104.7 220.3 105.7 220.3 106.7 220.5 107.7 220.6 108.7 220.8 109.7 221 110.7 221.2 111.7 221.6 112.7 222 113.7 222.7 114.5 223.4 115.2 224.3 115.7 225.2 116.1 226.4 116.4 227.4 116.6 228.4 116.7 229.3 116.8 230.4 116.8 231.4 116.8 232.4 116.7 233.4 116.6 234.4 116.5 235.4 116.3 236.4 115.9 237.4 115.5 238.4 114.8 239.4 114.2 240.1 113.2 240.9 112.2 241.4 111.2 241.8 110.2 242.1 109.2 242.3 108.2 242.5 107.2 242.7 106.2 242.8 105.2 242.9 105.2 242.9ZM68.7 238.9 67.7 238.9 66.7 238.8 65.7 238.6 64.7 238.2 63.7 237.6 62.8 236.9 62.2 236.1 61.8 235.4 61.4 234.4 61.1 233.4 61 232.4 61 231.4 61 230.4 61.2 229.5 61.5 228.4 62 227.4 62.7 226.5 63.7 225.6 64.7 225 65.7 224.6 66.5 224.4 67.7 224.3 68.7 224.3 69.5 224.4 70.7 224.7 71.7 225.3 72.4 225.9 73.1 226.9 73.6 227.9 73.8 228.9 74 229.9 74.1 230.9 74.1 231.9 74.1 232.9 73.9 233.9 73.7 234.9 73.3 235.9 72.7 236.9 71.7 237.9 70.8 238.4 69.7 238.8 68.8 238.9 68.7 238.9ZM128.7 238.9 127.7 238.9 126.7 238.8 125.7 238.5 124.7 238 123.9 237.4 123.2 236.5 122.7 235.5 122.4 234.4 122.2 233.5 122.1 232.4 122.1 231.4 122.1 230.4 122.3 229.4 122.5 228.4 122.8 227.4 123.4 226.4 124.2 225.5 125.2 224.9 126.2 224.5 127.2 224.3 128.2 224.3 129.2 224.3 130.2 224.5 131.2 224.8 132.2 225.4 132.9 225.9 133.7 226.7 134.2 227.4 134.7 228.4 135 229.4 135.2 230.4 135.2 231.4 135.2 232.3 135.1 233.4 134.8 234.4 134.4 235.4 133.8 236.4 133.2 237.1 132.2 237.8 131.2 238.4 130.2 238.7 129.2 238.9 128.7 238.9ZM47.2 234.1 46.2 234.2 45.3 233.9 44.3 232.9 44 231.9 44.1 230.9 44.6 229.9 45.2 229.3 46.2 229 47.2 229.1 48.2 229.8 48.7 230.7 48.8 231.9 48.5 232.9 47.7 233.9 47.2 234.1ZM150.7 234 149.7 234.2 148.7 234 148 233.4 147.5 232.4 147.4 231.4 147.6 230.4 148.2 229.6 149.2 229 150.2 229 151.1 229.4 151.7 230 152.1 230.9 152.2 231.7 151.9 232.9 151.2 233.7 150.7 234ZM101.7 254.4 100.7 254.5 99.7 254.5 98.7 254.6 97.7 254.6 96.7 254.6 95.7 254.5 94.7 254.4 93.7 254.3 92.7 254.2 91.7 254 90.7 253.8 89.7 253.5 88.7 253.1 87.7 252.5 87 251.9 86.4 250.9 86.3 249.9 86.7 248.9 87.7 248.1 88.7 247.6 89.7 247.3 90.7 247 91.7 246.9 92.7 246.7 93.7 246.6 94.7 246.5 95.7 246.5 96.7 246.5 97.7 246.4 98.7 246.4 99.7 246.5 100.7 246.5 101.7 246.6 102.7 246.6 103.7 246.7 104.7 246.9 105.7 247.1 106.7 247.3 107.7 247.7 108.7 248.2 109.5 248.9 109.9 249.9 109.8 250.9 109.2 251.9 108.2 252.7 107.2 253.2 106.2 253.6 105.2 253.9 104.2 254.1 103.2 254.2 102.2 254.4 101.7 254.4ZM100.2 264.9 99.2 265 98.2 265.1 97.2 265 96.2 264.9 95.2 264.7 94.2 264.1 94.2 263 95.2 262.5 96.2 262.3 97.2 262.1 98.2 262.1 99.2 262.2 100.2 262.3 101.2 262.6 102.2 263.3 101.7 264.4 100.7 264.8 100.2 264.9Z"/><path stroke="#0006ff" d="M98.2 215.9 97.2 215.9 96.2 215.8 95.2 215.8 94.2 215.6 93.2 215.5 92.2 215.3 91.2 214.9 90.2 214.4 89.4 213.4 89.5 212.4 90.2 211.5 91.2 210.9 92.2 210.6 93.2 210.3 94.2 210.1 95.2 209.9 96.2 209.8 97.2 209.8 98.2 209.8 99.2 209.8 100.2 209.8 101.2 209.9 102.2 210.1 103.2 210.3 104.2 210.6 105.2 211 106.2 211.7 106.7 212.4 106.8 213.4 106.2 214.2 105.2 214.8 104.2 215.2 103.2 215.5 102.2 215.6 101.2 215.7 100.2 215.8 99.2 215.9 98.2 215.9ZM104.7 242.5 103.7 242.5 102.7 242.6 101.7 242.7 100.7 242.7 99.7 242.7 98.7 242.8 97.7 242.8 96.7 242.7 95.7 242.7 94.7 242.7 93.7 242.6 92.7 242.6 91.7 242.5 90.7 242.4 89.7 242.2 88.7 242.1 87.7 241.9 86.7 241.6 85.7 241.3 84.8 240.9 83.9 240.4 83.2 239.9 82.2 239 81.7 238.3 81.2 237.4 80.8 236.4 80.5 235.4 80.3 234.4 80.2 233.4 80.1 232.4 80.1 231.4 80.1 230.4 80.2 229.5 80.4 228.4 80.6 227.4 80.9 226.4 81.4 225.4 82.1 224.4 82.7 223.7 83.7 222.9 84.6 222.4 85.7 221.9 86.7 221.6 87.5 221.4 88.7 221.1 89.7 221 90.7 220.8 91.7 220.7 92.7 220.6 93.7 220.6 94.7 220.5 95.7 220.5 96.7 220.5 97.7 220.4 98.7 220.4 99.7 220.5 100.7 220.5 101.7 220.5 102.7 220.6 103.7 220.7 104.7 220.7 105.7 220.9 106.7 221 107.7 221.2 108.7 221.4 109.7 221.7 110.7 222 111.6 222.4 112.5 222.9 113.1 223.4 114.1 224.4 114.7 225.2 115.2 226.2 115.6 227.4 115.8 228.4 116 229.4 116.1 230.4 116.1 231.4 116.1 232.4 116 233.4 115.9 234.4 115.7 235.4 115.4 236.4 115 237.4 114.4 238.4 113.7 239.3 113 239.9 112.3 240.4 111.4 240.9 110.2 241.4 109.2 241.7 108.3 241.9 107.2 242.1 106.2 242.3 105.2 242.4 104.7 242.5ZM69.2 236.9 68.2 237 67.2 237 66.2 236.7 65.2 236.2 64.2 235.4 63.7 234.7 63.3 233.9 63 232.9 62.8 231.9 62.9 230.9 63.1 229.9 63.5 228.9 64.1 227.9 65.2 227 66.2 226.5 67.2 226.2 68.2 226.2 69.2 226.3 70.2 226.6 71.2 227.4 72 228.4 72.4 229.4 72.6 230.4 72.7 231.4 72.7 232.4 72.5 233.4 72.2 234.4 71.7 235.3 71.1 235.9 70.5 236.4 69.7 236.8 69.2 236.9ZM129.2 236.9 128.2 237 127.2 237 126.2 236.6 125.2 236 124.6 235.4 124 234.4 123.7 233.5 123.5 232.4 123.5 231.4 123.6 230.4 123.8 229.4 124.2 228.4 124.7 227.7 125.6 226.9 126.6 226.4 127.7 226.2 128.7 226.2 129.7 226.4 130.7 226.8 131.6 227.4 132.2 228.1 132.7 228.8 133.1 229.9 133.3 230.9 133.4 231.9 133.2 232.9 132.9 233.9 132.4 234.9 131.7 235.7 130.7 236.4 129.7 236.8 129.2 236.9ZM99.2 253.4 98.2 253.4 97.2 253.4 96.2 253.4 95.2 253.3 94.2 253.1 93.2 252.9 92.2 252.6 91.2 252.3 90.2 251.6 89.5 250.9 89.4 249.9 90.1 248.9 90.9 248.4 91.7 248.1 92.7 247.8 93.7 247.6 94.7 247.5 95.5 247.4 96.7 247.3 97.7 247.3 98.7 247.3 99.7 247.3 100.7 247.4 101.7 247.5 102.7 247.7 103.7 247.9 104.7 248.2 105.7 248.6 106.6 249.4 106.9 250.4 106.3 251.4 105.7 251.9 104.7 252.4 103.7 252.7 102.7 253 101.7 253.2 100.7 253.3 99.7 253.4 99.2 253.4Z"/><path stroke="#0032ff" d="M100.2 214.5 99.2 214.6 98.2 214.6 97.2 214.6 96.2 214.5 95.2 214.3 94.2 213.9 93.6 213.4 93.7 212.4 94.5 211.9 95.7 211.5 96.7 211.4 97.7 211.3 98.7 211.3 99.7 211.4 100.7 211.6 101.7 211.9 102.5 212.4 102.7 213.2 102 213.9 101.2 214.2 100.2 214.5ZM105.2 241.9 104.2 242 103.2 242.1 102.2 242.2 101.2 242.3 100.2 242.3 99.2 242.3 98.2 242.3 97.2 242.3 96.2 242.3 95.2 242.3 94.2 242.2 93.2 242.2 92.2 242.1 91.2 241.9 90.2 241.8 89.2 241.6 88.3 241.4 87.2 241.1 86.2 240.7 85.4 240.4 84.7 240 83.8 239.4 83.2 238.8 82.4 237.9 81.8 236.9 81.4 235.9 81.1 234.9 80.9 233.9 80.8 232.9 80.7 231.9 80.8 230.9 80.8 229.9 81 228.9 81.2 228 81.6 226.9 82 225.9 82.7 224.9 83.7 223.9 84.4 223.4 85.2 222.9 86.2 222.5 87.2 222.1 88.2 221.8 89.2 221.6 90.2 221.4 91.2 221.3 92.2 221.1 93.2 221 94.2 221 95.2 220.9 96.2 220.9 97.2 220.9 98.2 220.9 99.2 220.9 100.2 220.9 101.2 220.9 102.2 221 103.2 221.1 104.2 221.2 105.2 221.3 106.2 221.4 107.2 221.6 108.2 221.9 109.2 222.2 110.2 222.5 111 222.9 111.7 223.3 112.5 223.9 113.2 224.6 113.8 225.4 114.4 226.4 114.8 227.4 115.1 228.4 115.3 229.4 115.4 230.4 115.5 231.4 115.4 232.4 115.3 233.4 115.2 234.3 114.9 235.4 114.6 236.4 114.2 237.2 113.8 237.9 113.2 238.6 112.4 239.4 111.7 239.9 110.8 240.4 109.7 240.9 108.7 241.2 107.9 241.4 106.7 241.7 105.7 241.8 105.2 241.9ZM68.7 234.4 67.7 234.5 66.7 234.1 65.9 233.4 65.4 232.4 65.3 231.4 65.6 230.4 66.2 229.5 67.1 228.9 68.2 228.7 69 228.9 69.7 229.3 70.4 230.4 70.7 231.4 70.6 232.4 70.2 233.3 69.2 234.2 68.7 234.4ZM128.7 234.4 127.7 234.5 126.7 234 126.1 233.4 125.7 232.6 125.5 231.4 125.7 230.6 126.2 229.6 127.2 228.9 128.2 228.7 129.1 228.9 129.9 229.4 130.7 230.4 130.9 231.4 130.8 232.4 130.3 233.4 129.7 234 128.8 234.4 128.7 234.4ZM98.2 251.9 97.2 251.9 96.2 251.7 95.2 251.5 94.2 251.1 93.5 250.4 94 249.4 95.2 248.9 96.2 248.7 97.2 248.6 98.2 248.6 99.2 248.6 100.2 248.8 101.2 249 102.2 249.4 102.7 250.4 102.2 251 101.4 251.4 100.2 251.7 99.2 251.9 98.2 251.9Z"/><path stroke="#005eff" d="M100.2 241.9 99.2 241.9 98.2 241.9 97.2 241.9 96.2 241.9 95.2 241.9 94.2 241.8 93.2 241.7 92.2 241.6 91.2 241.5 90.2 241.3 89.2 241.1 88.2 240.8 87.2 240.5 86.2 240 85.2 239.5 84.4 238.9 83.7 238.3 83 237.4 82.4 236.4 82 235.4 81.7 234.4 81.5 233.4 81.4 232.4 81.4 231.4 81.5 230.4 81.6 229.4 81.8 228.4 82.1 227.4 82.6 226.4 83.2 225.5 83.7 224.9 84.7 224 85.7 223.4 86.7 222.9 87.7 222.6 88.7 222.3 89.7 222 90.7 221.8 91.7 221.7 92.7 221.5 93.7 221.4 94.7 221.4 95.7 221.3 96.7 221.3 97.7 221.3 98.7 221.3 99.7 221.3 100.7 221.3 101.7 221.4 102.7 221.5 103.7 221.6 104.7 221.7 105.7 221.9 106.7 222.1 107.7 222.3 108.7 222.6 109.7 223 110.5 223.4 111.2 223.8 111.9 224.4 112.7 225.1 113.2 225.8 113.7 226.6 114.1 227.4 114.4 228.4 114.6 229.4 114.7 230.4 114.8 231.4 114.8 232.4 114.7 233.2 114.5 234.4 114.2 235.4 113.8 236.4 113.2 237.4 112.7 238.1 111.8 238.9 111.1 239.4 110.3 239.9 109.2 240.4 108.2 240.7 107.2 241 106.2 241.3 105.4 241.4 104.2 241.6 103.2 241.7 102.2 241.8 101.2 241.9 100.2 241.9 100.2 241.9Z"/><path stroke="#008bff" d="M101.7 241.4 100.7 241.5 99.7 241.5 98.7 241.5 97.7 241.5 96.7 241.5 95.7 241.5 94.7 241.4 93.7 241.3 92.7 241.2 91.7 241.1 90.7 240.9 89.7 240.7 88.7 240.4 87.7 240.1 86.7 239.6 85.7 239 84.8 238.4 84.2 237.8 83.5 236.9 82.9 235.9 82.5 234.9 82.3 233.9 82.1 232.9 82 231.9 82.1 230.9 82.2 229.9 82.4 228.9 82.7 227.9 83.1 226.9 83.7 226 84.7 224.9 85.3 224.4 86.1 223.9 87.1 223.4 88.2 223 89.2 222.6 90.2 222.4 91.2 222.2 92.2 222 93.2 221.9 94.2 221.8 95.2 221.7 96.2 221.7 97.2 221.7 98.2 221.7 99.2 221.7 100.2 221.7 101.2 221.8 102.2 221.8 103.2 221.9 104.2 222.1 105.2 222.2 106 222.4 107.2 222.7 108.2 223 109.1 223.4 110.1 223.9 110.9 224.4 111.7 225.1 112.4 225.9 113.1 226.9 113.5 227.9 113.8 228.9 114 229.9 114.1 230.9 114.2 231.9 114.1 232.9 113.9 233.9 113.7 234.8 113.3 235.9 112.7 236.9 112.2 237.6 111.4 238.4 110.7 238.9 109.9 239.4 109.2 239.8 108.2 240.2 107.2 240.5 106.2 240.8 105.2 241 104.2 241.1 103.2 241.3 102.2 241.4 101.7 241.4Z"/><path stroke="#00b7ff" d="M102.7 240.9 101.7 241 100.7 241.1 99.7 241.1 98.7 241.2 97.7 241.2 96.7 241.1 95.7 241.1 94.7 241 93.7 240.9 92.7 240.8 91.7 240.6 90.7 240.4 89.7 240.2 88.8 239.9 87.7 239.5 86.7 239 85.8 238.4 85.2 237.9 84.3 236.9 83.7 235.9 83.2 234.9 82.9 233.9 82.7 232.9 82.7 231.9 82.7 230.9 82.8 229.9 83 228.9 83.4 227.9 83.9 226.9 84.6 225.9 85.7 224.9 86.4 224.4 87.2 224 88.2 223.5 89.2 223.2 90.1 222.9 91.2 222.7 92.2 222.5 93.2 222.3 94.2 222.2 95.2 222.1 96.2 222.1 97.2 222 98.2 222 99.2 222.1 100.2 222.1 101.2 222.2 102.2 222.2 103.2 222.4 104.2 222.5 105.2 222.7 106.1 222.9 107.2 223.2 108.2 223.6 109.2 224.1 110.2 224.7 111.1 225.4 111.7 226.1 112.2 226.8 112.7 227.6 113 228.4 113.3 229.4 113.5 230.4 113.5 231.4 113.5 232.4 113.4 233.4 113.2 234.2 112.8 235.4 112.2 236.4 111.7 237.1 111 237.9 110.2 238.5 109.2 239.1 108.2 239.6 107.4 239.9 106.2 240.3 105.2 240.5 104.2 240.7 103.2 240.8 102.7 240.9Z"/><path stroke="#00e3ff" d="M103.2 240.4 102.2 240.6 101.2 240.7 100.2 240.7 99.2 240.8 98.2 240.8 97.2 240.8 96.2 240.7 95.2 240.7 94.2 240.6 93.2 240.4 92.2 240.3 91.2 240.1 90.2 239.8 89.2 239.5 88.2 239.1 87.2 238.6 86.2 237.9 85.2 237 84.7 236.3 84.2 235.5 83.7 234.4 83.5 233.4 83.3 232.4 83.3 231.4 83.4 230.4 83.5 229.4 83.9 228.4 84.4 227.4 85.1 226.4 85.7 225.7 86.7 224.9 87.6 224.4 88.7 223.9 89.7 223.5 90.7 223.2 91.7 223 92.7 222.8 93.7 222.7 94.7 222.6 95.7 222.5 96.7 222.4 97.7 222.4 98.7 222.4 99.7 222.5 100.7 222.5 101.7 222.6 102.7 222.7 103.7 222.9 104.7 223 105.7 223.3 106.7 223.6 107.5 223.9 108.6 224.4 109.5 224.9 110.1 225.4 111.1 226.4 111.7 227.2 112.1 227.9 112.5 228.9 112.8 229.9 112.9 230.9 112.9 231.9 112.8 232.9 112.6 233.9 112.3 234.9 111.8 235.9 111.2 236.7 110.6 237.4 109.7 238.1 108.7 238.8 107.7 239.2 106.7 239.6 105.7 239.9 104.7 240.2 103.7 240.3 103.2 240.4Z"/><path stroke="#11ffee" d="M103.7 239.9 102.7 240.1 101.7 240.2 100.7 240.3 99.7 240.4 98.7 240.4 97.7 240.4 96.7 240.4 95.7 240.3 94.7 240.2 93.7 240.1 92.7 239.9 91.7 239.7 90.7 239.5 89.7 239.2 88.7 238.8 88 238.4 87.2 237.9 86.5 237.4 85.7 236.6 85.2 236 84.7 235.1 84.2 233.9 84 232.9 83.9 231.9 83.9 230.9 84.1 229.9 84.3 228.9 84.7 228.1 85.2 227.2 85.7 226.6 86.4 225.9 87 225.4 87.7 225 88.7 224.4 89.7 224 90.7 223.7 91.7 223.5 92.7 223.3 93.7 223.1 94.7 223 95.5 222.9 96.7 222.8 97.7 222.8 98.7 222.8 99.7 222.8 100.7 222.9 101.7 223 102.7 223.1 103.7 223.3 104.7 223.5 105.7 223.8 106.7 224.1 107.7 224.5 108.7 225.1 109.7 225.8 110.3 226.4 111.1 227.4 111.7 228.4 112 229.4 112.2 230.3 112.3 231.4 112.3 232.4 112.1 233.4 111.8 234.4 111.4 235.4 110.7 236.4 109.7 237.4 109 237.9 108.2 238.4 107.2 238.9 106.2 239.3 105.2 239.6 104.2 239.8 103.7 239.9Z"/><path stroke="#3dffc2" d="M100.7 239.9 99.7 240 98.7 240 97.7 240 96.7 240 95.7 239.9 94.7 239.8 93.7 239.7 92.7 239.5 91.7 239.3 90.7 239 89.7 238.7 88.7 238.2 87.7 237.6 86.8 236.9 86.2 236.3 85.7 235.6 85.3 234.9 84.9 233.9 84.6 232.9 84.5 231.9 84.5 230.9 84.7 229.9 85 228.9 85.5 227.9 86.2 226.9 87.2 226 88 225.4 88.7 225 89.7 224.5 90.7 224.2 91.7 223.9 92.7 223.7 93.7 223.5 94.7 223.4 95.7 223.3 96.7 223.2 97.7 223.2 98.7 223.2 99.7 223.2 100.7 223.3 101.7 223.4 102.7 223.5 103.7 223.7 104.5 223.9 105.7 224.3 106.7 224.6 107.7 225.1 108.7 225.7 109.5 226.4 110.2 227.2 110.7 227.9 111.2 228.9 111.5 229.9 111.7 230.9 111.7 231.9 111.6 232.9 111.3 233.9 110.9 234.9 110.3 235.9 109.7 236.6 108.8 237.4 108 237.9 107.2 238.3 106.2 238.8 105.2 239.1 104.2 239.4 103.2 239.6 102.2 239.7 101.2 239.9 100.7 239.9Z"/><path stroke="#69ff96" d="M101.7 239.4 100.7 239.5 99.7 239.6 98.7 239.6 97.7 239.6 96.7 239.6 95.7 239.5 94.7 239.4 93.7 239.3 92.7 239.1 91.9 238.9 90.7 238.5 89.7 238.1 88.7 237.6 87.7 236.9 86.7 235.9 86.2 235.3 85.7 234.4 85.4 233.4 85.2 232.4 85.1 231.4 85.2 230.6 85.5 229.4 85.9 228.4 86.6 227.4 87.2 226.7 88.2 225.9 89 225.4 90.1 224.9 91.2 224.5 92.2 224.2 93.2 224 94.2 223.8 95.2 223.7 96.2 223.6 97.2 223.6 98.2 223.6 99.2 223.6 100.2 223.6 101.2 223.7 102.2 223.9 103.2 224 104.2 224.3 105.2 224.6 106.1 224.9 107.2 225.4 108 225.9 108.6 226.4 109.6 227.4 110.2 228.3 110.7 229.3 111 230.4 111.1 231.4 111 232.4 110.8 233.4 110.5 234.4 109.9 235.4 109.2 236.3 108.5 236.9 107.8 237.4 107 237.9 106.2 238.3 105.2 238.6 104.3 238.9 103.2 239.2 102.2 239.3 101.7 239.4Z"/><path stroke="#96ff69" d="M102.2 238.9 101.2 239.1 100.2 239.2 99.2 239.2 98.2 239.3 97.2 239.2 96.2 239.2 95.2 239.1 94.2 239 93.2 238.8 92.2 238.5 91.2 238.2 90.4 237.9 89.4 237.4 88.6 236.9 88 236.4 87.2 235.6 86.7 234.9 86.2 234 85.9 232.9 85.7 231.9 85.8 230.9 86 229.9 86.3 228.9 86.9 227.9 87.7 227 88.4 226.4 89.2 225.9 90.2 225.4 91.2 225 92.2 224.7 93.2 224.4 94.2 224.2 95.2 224.1 96.2 224 97.2 224 98.2 223.9 99.2 224 100.2 224 101.2 224.1 102.2 224.3 103.2 224.5 104.2 224.7 105.2 225.1 106 225.4 107 225.9 107.7 226.4 108.4 226.9 109.2 227.8 109.7 228.6 110.1 229.4 110.3 230.4 110.5 231.4 110.4 232.4 110.2 233.4 109.8 234.4 109.2 235.4 108.2 236.4 107.6 236.9 106.8 237.4 105.8 237.9 104.7 238.3 103.7 238.6 102.7 238.8 102.2 238.9Z"/><path stroke="#c2ff3d" d="M102.7 238.4 101.7 238.6 100.7 238.7 99.7 238.8 98.7 238.9 97.7 238.9 96.7 238.8 95.7 238.7 94.7 238.6 93.7 238.4 92.7 238.2 91.7 237.9 90.7 237.5 89.7 237 88.8 236.4 88.2 235.9 87.4 234.9 86.8 233.9 86.5 232.9 86.4 231.9 86.4 230.9 86.6 229.9 87 228.9 87.7 227.9 88.7 226.9 89.4 226.4 90.2 225.9 91.2 225.5 92.2 225.1 93 224.9 94.2 224.7 95.2 224.5 96.2 224.4 97.2 224.4 98.2 224.3 99.2 224.4 100.2 224.4 101.2 224.5 102.2 224.7 103.2 224.9 104.2 225.2 105.2 225.6 105.9 225.9 106.7 226.3 107.5 226.9 108.2 227.5 108.9 228.4 109.4 229.4 109.7 230.4 109.8 231.4 109.8 232.4 109.6 233.4 109.2 234.2 108.7 235 108 235.9 107.2 236.5 106.2 237.2 105.2 237.6 104.2 238 103.2 238.3 102.7 238.4Z"/><path stroke="#eeff11" d="M99.7 238.4 98.7 238.5 97.7 238.5 96.7 238.4 95.7 238.3 94.7 238.2 93.7 238 92.7 237.7 91.7 237.4 90.7 237 89.7 236.4 89.1 235.9 88.2 235 87.7 234.2 87.3 233.4 87.1 232.4 87 231.4 87.1 230.4 87.5 229.4 88.1 228.4 88.7 227.7 89.6 226.9 90.4 226.4 91.2 226 92.2 225.6 93.2 225.3 94.2 225.1 95.2 224.9 96.2 224.8 97.2 224.7 98.2 224.7 99.2 224.8 100.2 224.8 101.2 225 102.2 225.1 103.2 225.4 104.2 225.7 105.2 226.1 106.2 226.6 107.2 227.4 108.1 228.4 108.7 229.3 109.1 230.4 109.2 231.4 109.1 232.4 108.9 233.4 108.4 234.4 107.7 235.3 107.1 235.9 106.5 236.4 105.7 236.9 104.7 237.3 103.7 237.7 102.7 238 101.7 238.2 100.7 238.3 99.9 238.4 99.7 238.4Z"/><path stroke="#ffe300" d="M100.2 238 99.2 238 98.2 238.1 97.2 238 96.2 238 95.2 237.9 94.2 237.7 93.2 237.4 92.2 237.1 91.2 236.7 90.2 236.1 89.4 235.4 88.7 234.6 88.2 233.9 87.8 232.9 87.7 231.9 87.7 230.9 88 229.9 88.5 228.9 89.2 228 89.8 227.4 90.6 226.9 91.5 226.4 92.7 225.9 93.7 225.6 94.7 225.4 95.7 225.3 96.7 225.2 97.7 225.1 98.7 225.1 99.7 225.2 100.7 225.3 101.7 225.5 102.7 225.7 103.7 226 104.7 226.4 105.6 226.9 106.4 227.4 107.2 228.2 107.7 228.8 108.2 229.8 108.5 230.9 108.5 231.9 108.4 232.9 108 233.9 107.3 234.9 106.7 235.5 105.7 236.3 104.7 236.8 103.7 237.2 102.7 237.5 101.7 237.7 100.7 237.9 100.2 238Z"/><path stroke="#ffb700" d="M100.7 237.5 99.7 237.6 98.7 237.6 97.7 237.6 96.7 237.6 95.7 237.5 94.7 237.3 93.7 237.1 92.7 236.8 91.8 236.4 90.9 235.9 90.3 235.4 89.3 234.4 88.7 233.4 88.4 232.4 88.3 231.4 88.5 230.4 88.9 229.4 89.6 228.4 90.2 227.8 91.2 227.1 92.2 226.6 93.2 226.3 94.2 226 95.2 225.8 96.2 225.6 97.2 225.6 98.2 225.6 99.2 225.6 100.2 225.7 101.2 225.8 102.2 226 103.2 226.3 104.2 226.7 105.2 227.3 106.1 227.9 106.7 228.5 107.2 229.2 107.7 230.4 107.9 231.4 107.8 232.4 107.5 233.4 106.9 234.4 106.2 235.2 105.3 235.9 104.4 236.4 103.2 236.9 102.2 237.2 101.2 237.4 100.7 237.5Z"/><path stroke="#ff8b00" d="M101.2 236.9 100.2 237.1 99.2 237.2 98.2 237.2 97.2 237.2 96.2 237.1 95.2 237 94.2 236.7 93.2 236.4 92.2 236 91.2 235.4 90.2 234.5 89.7 233.9 89.2 232.9 89 231.9 89.1 230.9 89.4 229.9 90 228.9 90.7 228.2 91.7 227.5 92.7 227 93.7 226.6 94.7 226.3 95.7 226.2 96.7 226 97.7 226 98.7 226 99.7 226.1 100.7 226.2 101.7 226.4 102.7 226.7 103.7 227.1 104.7 227.6 105.7 228.4 106.5 229.4 107 230.4 107.2 231.4 107.1 232.4 106.8 233.4 106.2 234.3 105.6 234.9 104.7 235.6 103.7 236.1 102.7 236.5 101.7 236.8 101.2 236.9Z"/><path stroke="#ff5e00" d="M101.2 236.4 100.2 236.6 99.2 236.7 98.2 236.8 97.2 236.7 96.2 236.6 95.2 236.5 94.2 236.2 93.3 235.9 92.3 235.4 91.5 234.9 90.7 234.1 90.2 233.4 89.8 232.4 89.8 231.4 90 230.4 90.5 229.4 91.2 228.6 92.1 227.9 93.1 227.4 94.2 227 95.2 226.7 96.2 226.6 97.2 226.5 98.2 226.4 99.2 226.5 100.2 226.6 101.2 226.8 102.2 227 103.1 227.4 104.1 227.9 104.8 228.4 105.7 229.4 106.2 230.3 106.4 231.4 106.4 232.4 106 233.4 105.2 234.4 104.2 235.2 103.2 235.8 102.2 236.2 101.3 236.4 101.2 236.4Z"/><path stroke="#ff3200" d="M101.2 235.9 100.2 236.1 99.2 236.2 98.2 236.3 97.2 236.3 96.2 236.1 95.2 236 94.2 235.7 93.2 235.2 92.2 234.6 91.4 233.9 90.8 232.9 90.5 231.9 90.6 230.9 91 229.9 91.7 229 92.5 228.4 93.2 228 94.2 227.5 95.2 227.2 96.2 227.1 97.2 226.9 98.2 226.9 99.2 227 100.2 227.1 101.2 227.3 102.2 227.6 103.2 228.1 104.2 228.8 104.8 229.4 105.4 230.4 105.7 231.4 105.6 232.4 105.2 233.3 104.7 234 103.7 234.8 102.7 235.4 101.7 235.8 101.2 235.9Z"/><path stroke="#ff0600" d="M100.7 235.5 99.7 235.6 98.7 235.7 97.7 235.8 96.7 235.7 95.7 235.5 94.7 235.2 93.9 234.9 93.2 234.5 92.4 233.9 91.7 232.9 91.4 231.9 91.5 230.9 91.9 229.9 92.7 229.1 93.7 228.4 94.7 228 95.7 227.7 96.7 227.5 97.7 227.4 98.7 227.5 99.7 227.6 100.7 227.7 101.7 228.1 102.5 228.4 103.2 228.8 103.9 229.4 104.6 230.4 104.8 231.4 104.7 232.4 104.2 233.4 103.2 234.4 102.3 234.9 101.2 235.3 100.7 235.5Z"/><path stroke="#d80000" d="M100.2 234.9 99.2 235.1 98.2 235.2 97.2 235.1 96.2 235 95.2 234.7 94.4 234.4 93.7 234 93.1 233.4 92.5 232.4 92.3 231.4 92.6 230.4 93.2 229.7 94.2 228.9 95.2 228.5 96.2 228.2 97.2 228.1 98.2 228 99.2 228.1 100.2 228.3 101.2 228.6 102 228.9 102.7 229.4 103.6 230.4 103.9 231.4 103.7 232.4 103.2 233.3 102.6 233.9 101.8 234.4 100.7 234.8 100.2 234.9Z"/><path stroke="#ac0000" d="M99.2 234.4 98.2 234.5 97.2 234.5 96.2 234.3 95.2 233.9 94.4 233.4 93.7 232.6 93.4 231.4 93.7 230.6 94.3 229.9 95 229.4 96.2 228.9 97.2 228.8 98.2 228.7 99.2 228.8 100.2 229 101.2 229.4 101.9 229.9 102.7 230.9 102.8 231.9 102.3 232.9 101.7 233.5 101 233.9 100.2 234.2 99.4 234.4 99.2 234.4Z"/><path stroke="#800000" d="M99.2 233.5 98.2 233.6 97.2 233.6 96.2 233.3 95.2 232.6 94.8 231.4 95.2 230.6 96.2 229.9 97.2 229.6 98.2 229.6 99.2 229.7 100.2 230 101.2 230.9 101.4 231.9 100.7 232.9 99.7 233.4 99.2 233.5Z"/></g>
<g clip-path="url(#clip_bB)" fill="none" stroke-width="0.55" stroke-linejoin="round"><path stroke="#000080" d="M291.3 174.6 290.6 175.3 289.6 176 288.6 176.4 287.6 176.7 286.6 176.9 285.6 177 284.6 177.2 283.6 177.2 282.6 177.3 281.6 177.3 280.6 177.3 279.6 177.3 278.6 177.2 277.6 177.2 276.6 177 275.6 176.9 274.6 176.7 273.6 176.4 272.8 176.1 272.1 175.7 271.3 175.1 270.9 174.6M286.6 190.6 285.6 190.7 284.6 190.8 283.6 190.9 282.6 190.9 281.6 190.9 280.6 190.9 279.6 190.9 278.6 190.9 277.6 190.8 276.6 190.7 275.6 190.6 274.6 190.5 273.6 190.3 272.7 190.1 271.6 189.7 270.6 189.3 269.7 188.6 269.1 187.8 268.8 186.6 268.9 185.6 269.4 184.6 270.1 183.9 271.1 183.3 272.1 182.8 273.1 182.5 274.1 182.3 275.1 182.1 276.1 182 277.1 181.9 278.1 181.8 279.1 181.7 280.1 181.7 281.1 181.7 282.1 181.7 283.1 181.7 284.1 181.8 285.1 181.9 286.1 182 287.1 182.1 288.1 182.3 289.1 182.5 290.1 182.8 291.1 183.3 292.1 183.9 292.8 184.6 293.3 185.6 293.4 186.6 293.2 187.6 292.6 188.5 291.9 189.1 291.1 189.5 290.1 189.9 289.1 190.2 288.1 190.4 287.1 190.6 286.6 190.6ZM288.6 204.1 287.6 204.2 286.6 204.3 285.6 204.4 284.6 204.4 283.6 204.5 282.6 204.5 281.6 204.5 280.6 204.5 279.6 204.5 278.6 204.5 277.6 204.4 276.6 204.4 275.6 204.3 274.6 204.2 273.6 204.1 272.6 204 271.6 203.8 270.8 203.6 269.6 203.2 268.6 202.6 268 202.1 267.3 201.1 267 200.1 267 199.1 267.3 198.1 267.9 197.1 268.6 196.4 269.6 195.8 270.6 195.4 271.4 195.1 272.6 194.8 273.6 194.6 274.6 194.5 275.6 194.4 276.6 194.3 277.6 194.2 278.6 194.2 279.6 194.1 280.6 194.1 281.6 194.1 282.6 194.1 283.6 194.2 284.6 194.2 285.6 194.3 286.6 194.4 287.6 194.5 288.5 194.6 289.6 194.8 290.6 195 291.6 195.4 292.6 195.8 293.6 196.4 294.3 197.1 294.9 198.1 295.2 199.1 295.2 200.1 294.9 201.1 294.2 202.1 293.6 202.6 292.8 203.1 291.6 203.5 290.6 203.8 289.6 204 288.6 204.1ZM291.6 217.6 290.6 217.7 289.6 217.8 288.6 217.9 287.6 217.9 286.6 218 285.6 218 284.6 218 283.6 218 282.6 218 281.6 218.1 280.6 218.1 279.6 218 278.6 218 277.6 218 276.6 218 275.6 218 274.6 217.9 273.6 217.9 272.6 217.8 271.6 217.7 270.6 217.6 269.6 217.4 268.6 217.2 267.6 216.9 266.6 216.3 265.9 215.6 265.4 214.6 265.2 213.6 265.2 212.6 265.3 211.6 265.6 210.7 266.1 209.8 266.7 209.1 267.3 208.6 268.1 208.2 269.1 207.8 270.1 207.5 271.1 207.3 272.1 207.1 273.1 207 274.1 206.9 275.1 206.8 276.1 206.7 277.1 206.7 278.1 206.7 279.1 206.6 280.1 206.6 281.1 206.6 282.1 206.6 283.1 206.6 284.1 206.7 285.1 206.7 286.1 206.7 287.1 206.8 288.1 206.9 289.1 207 290.1 207.1 291.1 207.3 292.1 207.5 293.1 207.8 294 208.1 294.9 208.6 295.5 209.1 296.1 209.8 296.5 210.6 296.9 211.6 297 212.6 297 213.6 296.8 214.6 296.3 215.6 295.6 216.3 294.6 216.9 293.6 217.2 292.6 217.4 291.6 217.6 291.6 217.6ZM254.6 215.2 253.6 215.2 252.7 215.1 251.6 214.7 250.8 214.1 250.4 213.1 250.6 212.2 251.1 211.6 251.8 211.1 252.6 210.8 253.6 210.6 254.6 210.6 255.6 210.9 256.6 211.6 257.1 212.5 257.1 213.4 256.6 214.3 255.6 214.9 254.6 215.2ZM309.1 215.2 308.1 215.2 307.1 215.1 306.1 214.7 305.4 214.1 305 213.1 305.3 212.1 306.1 211.2 307.1 210.8 308.1 210.6 309.1 210.7 310.1 210.9 311.1 211.6 311.6 212.2 311.8 213.1 311.4 214.1 310.6 214.7 309.6 215.1 309.1 215.2ZM292.6 243.6 291.6 243.7 290.6 243.8 289.6 243.9 288.6 244 287.6 244 286.6 244 285.6 244.1 284.6 244.1 283.6 244.1 282.6 244.1 281.6 244.1 280.6 244.1 279.6 244.1 278.6 244.1 277.6 244.1 276.6 244.1 275.6 244 274.6 244 273.6 244 272.6 243.9 271.6 243.8 270.6 243.7 269.6 243.6 268.6 243.5 267.6 243.3 266.6 243 265.8 242.6 265.1 242.1 264.2 241.1 263.7 240.1 263.4 239.1 263.2 238.1 263.1 237.2 263 236.1 262.9 235.1 262.9 234.1 262.8 233.1 262.8 232.1 262.8 231.1 262.8 230.1 262.9 229.1 262.9 228.1 263 227.1 263.1 226.1 263.2 225.1 263.4 224.1 263.7 223.1 264.1 222.3 264.6 221.6 265.6 220.7 266.6 220.2 267.6 219.9 268.6 219.7 269.4 219.6 270.6 219.5 271.6 219.4 272.6 219.3 273.6 219.2 274.6 219.2 275.6 219.2 276.6 219.1 277.6 219.1 278.6 219.1 279.6 219.1 280.6 219.1 281.6 219.1 282.6 219.1 283.6 219.1 284.6 219.1 285.6 219.1 286.6 219.2 287.6 219.2 288.6 219.2 289.6 219.3 290.6 219.4 291.6 219.5 292.6 219.6 293.6 219.7 294.6 219.9 295.6 220.2 296.4 220.6 297.1 221.1 298 222.1 298.5 223.1 298.8 224.1 299 225.1 299.1 226 299.2 227.1 299.3 228.1 299.3 229.1 299.4 230.1 299.4 231.1 299.4 232.1 299.4 233.1 299.3 234.1 299.3 235.1 299.2 236.1 299.1 237.1 299 238.1 298.8 239.1 298.5 240.1 298.1 240.9 297.6 241.6 296.6 242.5 295.6 243 294.6 243.3 293.6 243.5 292.8 243.6 292.6 243.6ZM257.1 242.2 256.1 242.4 255.1 242.5 254.1 242.5 253.1 242.5 252.1 242.4 251.1 242.3 250.1 242.1 249.1 241.8 248.1 241.4 247.1 240.7 246.5 240.1 245.8 239.1 245.4 238.1 245.1 237.1 244.9 236.1 244.8 235.1 244.7 234.1 244.6 233.1 244.6 232.1 244.6 231.1 244.6 230.1 244.7 229.1 244.8 228.1 244.9 227.1 245.1 226.1 245.4 225.1 245.8 224.1 246.5 223.1 247.1 222.5 248.1 221.8 249.1 221.4 250.1 221.1 251.1 220.9 252.1 220.8 253.1 220.7 254.1 220.7 255.1 220.7 256.1 220.8 257.1 221 258.1 221.3 259.1 221.9 259.8 222.6 260.4 223.6 260.7 224.6 260.9 225.6 261.1 226.6 261.2 227.6 261.2 228.6 261.3 229.6 261.3 230.6 261.3 231.6 261.3 232.6 261.3 233.6 261.2 234.6 261.2 235.6 261.1 236.6 260.9 237.6 260.7 238.6 260.4 239.6 259.8 240.6 259.1 241.3 258.1 241.9 257.1 242.2ZM311.6 242.2 310.6 242.4 309.6 242.5 308.6 242.5 307.6 242.5 306.6 242.4 305.6 242.3 304.8 242.1 303.6 241.6 302.9 241.1 302.1 240.1 301.7 239.1 301.4 238.1 301.2 237.1 301.1 236.2 301 235.1 301 234.1 300.9 233.1 300.9 232.1 300.9 231.1 300.9 230.1 301 229.1 301 228.1 301.1 227.1 301.2 226.1 301.4 225.1 301.6 224.3 302.1 223.1 302.6 222.4 303.6 221.6 304.6 221.2 305.6 220.9 306.6 220.8 307.6 220.7 308.6 220.7 309.6 220.7 310.6 220.8 311.6 221 312.6 221.2 313.6 221.6 314.6 222.1 315.2 222.6 316.1 223.6 316.6 224.6 317 225.6 317.2 226.6 317.4 227.6 317.5 228.6 317.6 229.6 317.6 230.6 317.6 231.6 317.6 232.6 317.6 233.6 317.5 234.6 317.4 235.6 317.2 236.6 317 237.6 316.6 238.6 316.1 239.6 315.6 240.2 314.6 241.1 313.6 241.6 312.6 242 311.6 242.2ZM236.1 241.1 235.1 241.2 234.1 241.2 233.1 241.2 232.1 241 231.1 240.8 230.1 240.4 229.1 239.8 228.4 239.1 227.7 238.1 227.2 237.1 226.9 236.1 226.6 235.1 226.5 234.1 226.4 233.1 226.3 232.1 226.3 231.1 226.4 230.1 226.5 229.1 226.6 228.1 226.9 227.1 227.1 226.3 227.6 225.2 228.1 224.4 228.9 223.6 229.6 223.1 230.6 222.6 231.6 222.3 232.6 222.1 233.6 222 234.6 222 235.6 222 236.6 222.2 237.6 222.5 238.6 222.9 239.4 223.6 240.1 224.4 240.6 225.4 241 226.6 241.2 227.6 241.3 228.6 241.4 229.6 241.5 230.6 241.5 231.6 241.5 232.6 241.4 233.6 241.3 234.6 241.2 235.6 241 236.6 240.7 237.6 240.2 238.6 239.6 239.4 238.8 240.1 238.1 240.5 237.1 240.9 236.2 241.1 236.1 241.1ZM329.6 241.1 328.6 241.2 327.6 241.2 326.6 241.2 325.6 241 324.6 240.7 323.6 240.3 322.8 239.6 322.1 238.8 321.6 237.8 321.2 236.6 321 235.6 320.9 234.6 320.8 233.6 320.7 232.6 320.7 231.6 320.7 230.6 320.8 229.6 320.9 228.6 321 227.6 321.2 226.6 321.5 225.6 322 224.6 322.6 223.8 323.4 223.1 324.1 222.7 325.1 222.3 326 222.1 327.1 222 328.1 222 329.1 222 330.1 222.2 331.1 222.4 332.1 222.8 333.1 223.4 333.8 224.1 334.5 225.1 335 226.1 335.3 227.1 335.6 228.1 335.7 229.1 335.8 230.1 335.9 231.1 335.9 232.1 335.8 233.1 335.7 234.1 335.6 235.1 335.3 236.1 335.1 236.9 334.6 238 334.1 238.8 333.3 239.6 332.6 240.1 331.6 240.6 330.6 240.9 329.6 241.1 329.6 241.1ZM217.6 239.7 216.6 239.9 215.6 240 214.6 240 213.6 239.9 212.6 239.6 211.6 239.2 210.7 238.6 209.7 237.6 209.1 236.6 208.7 235.6 208.4 234.6 208.3 233.6 208.2 232.6 208.1 231.6 208.2 230.6 208.3 229.6 208.4 228.6 208.7 227.6 209.1 226.6 209.6 225.7 210.1 225.1 211.1 224.3 212.1 223.7 213.1 223.4 214.1 223.2 215.1 223.2 216.1 223.2 217.1 223.4 218.1 223.7 219.1 224.3 219.9 225.1 220.6 226.1 221 227.1 221.3 228.1 221.5 229.1 221.6 230.1 221.6 231.1 221.6 232.1 221.6 233 221.5 234.1 221.3 235.1 221 236.1 220.6 237.1 220.1 237.9 219.4 238.6 218.8 239.1 217.8 239.6 217.6 239.7ZM349.6 239.6 348.6 239.9 347.6 240 346.6 240 345.6 239.9 344.6 239.7 343.6 239.2 342.8 238.6 342.1 237.9 341.6 237.1 341.2 236.1 340.9 235.1 340.7 234.1 340.6 233.1 340.6 232.1 340.6 231.1 340.6 230.2 340.7 229.1 340.9 228.1 341.2 227.1 341.6 226.1 342.1 225.3 342.8 224.6 343.4 224.1 344.4 223.6 345.6 223.3 346.6 223.2 347.6 223.2 348.6 223.3 349.6 223.6 350.6 224 351.5 224.6 352.5 225.6 353.1 226.6 353.5 227.6 353.8 228.6 353.9 229.6 354 230.6 354.1 231.6 354 232.6 353.9 233.6 353.8 234.6 353.5 235.6 353.1 236.6 352.6 237.5 352.1 238.1 351.1 238.9 350.1 239.5 349.6 239.6ZM290.1 256.1 289.1 256.2 288.1 256.3 287.1 256.4 286.1 256.5 285.1 256.5 284.1 256.5 283.1 256.6 282.1 256.6 281.1 256.6 280.1 256.6 279.1 256.6 278.1 256.5 277.1 256.5 276.1 256.5 275.1 256.4 274.1 256.3 273.1 256.2 272.1 256.1 271.1 255.9 270.1 255.7 269.1 255.4 268.2 255.1 267.3 254.6 266.7 254.1 266.1 253.4 265.7 252.6 265.3 251.6 265.2 250.6 265.2 249.6 265.4 248.6 265.9 247.6 266.6 246.9 267.6 246.3 268.6 246 269.6 245.8 270.6 245.6 271.6 245.5 272.6 245.4 273.6 245.3 274.6 245.3 275.6 245.2 276.6 245.2 277.6 245.2 278.6 245.2 279.6 245.2 280.6 245.1 281.6 245.1 282.6 245.2 283.6 245.2 284.6 245.2 285.6 245.2 286.6 245.2 287.6 245.3 288.6 245.3 289.6 245.4 290.6 245.5 291.6 245.6 292.6 245.8 293.6 246 294.6 246.3 295.6 246.9 296.3 247.6 296.8 248.6 297 249.6 297 250.6 296.9 251.6 296.6 252.5 296.1 253.4 295.5 254.1 294.9 254.6 294.1 255 293.1 255.4 292.1 255.7 291.1 255.9 290.1 256.1 290.1 256.1ZM254.1 252.6 253.1 252.5 252.1 252.3 251.1 251.6 250.6 251 250.4 250.1 250.8 249.1 251.6 248.5 252.6 248.1 253.6 248 254.6 248 255.6 248.3 256.6 248.9 257.1 249.6 257.1 250.6 256.6 251.6 256 252.1 255.1 252.4 254.1 252.6 254.1 252.6ZM308.1 252.6 307.1 252.4 306.2 252.1 305.6 251.6 305.1 250.7 305.1 249.8 305.6 248.9 306.6 248.3 307.6 248 308.6 248 309.5 248.1 310.6 248.5 311.4 249.1 311.8 250.1 311.6 251 311.1 251.6 310.4 252.1 309.6 252.4 308.6 252.6 308.1 252.6ZM288.1 268.7 287.1 268.8 286.1 268.9 285.1 268.9 284.1 269 283.1 269 282.1 269.1 281.1 269.1 280.1 269.1 279.1 269 278.1 269 277.1 268.9 276.1 268.9 275.1 268.8 274.1 268.7 273.1 268.5 272.1 268.3 271.1 268 270.1 267.6 269.1 267.1 268.4 266.6 267.6 265.6 267.1 264.6 267 263.6 267.1 262.8 267.6 261.6 268.6 260.6 269.4 260.1 270.6 259.7 271.6 259.4 272.6 259.2 273.6 259.1 274.6 259 275.6 258.9 276.6 258.8 277.6 258.8 278.6 258.7 279.6 258.7 280.6 258.7 281.6 258.7 282.6 258.7 283.6 258.7 284.6 258.8 285.6 258.8 286.6 258.9 287.6 259 288.6 259.1 289.6 259.2 290.6 259.4 291.4 259.6 292.6 260 293.6 260.6 294.2 261.1 294.9 262.1 295.2 263.1 295.2 264.1 294.9 265.1 294.3 266.1 293.6 266.8 292.6 267.4 291.6 267.8 290.8 268.1 289.6 268.4 288.6 268.6 288.1 268.7ZM287.1 281.1 286.1 281.2 285.1 281.3 284.1 281.4 283.1 281.5 282.1 281.5 281.1 281.5 280.1 281.5 279.1 281.5 278.1 281.4 277.1 281.3 276.1 281.2 275.1 281.1 274.1 280.9 273.1 280.7 272.1 280.4 271.1 279.9 270.1 279.3 269.4 278.6 268.9 277.6 268.8 276.6 269 275.6 269.6 274.7 270.3 274.1 271.1 273.7 272.1 273.3 273.1 273 274.1 272.8 275.1 272.6 276.1 272.5 277.1 272.4 278.1 272.4 279.1 272.3 280.1 272.3 281.1 272.3 282.1 272.3 283.1 272.3 284.1 272.4 285.1 272.4 286.1 272.5 286.9 272.6 288.1 272.8 289.1 273 290.1 273.3 291 273.6 291.9 274.1 292.6 274.7 293.1 275.4 293.4 276.6 293.3 277.6 292.8 278.6 292.1 279.3 291.1 279.9 290.1 280.4 289.1 280.7 288.1 280.9 287.1 281.1 287.1 281.1ZM271.3 288.1 272.1 287.5 272.8 287.1 273.6 286.8 274.6 286.5 275.6 286.3 276.6 286.2 277.6 286 278.6 286 279.6 285.9 280.6 285.9 281.6 285.9 282.6 285.9 283.6 286 284.6 286 285.6 286.2 286.6 286.3 287.6 286.5 288.6 286.8 289.4 287.1 290.1 287.5 290.9 288.1"/><path stroke="#0000ac" d="M284.1 188.2 283.1 188.4 282.1 188.5 281.1 188.5 280.1 188.5 279.1 188.4 278.1 188.2 277.1 187.8 276.1 187.2 275.9 186.1 276.6 185.4 277.6 184.9 278.6 184.6 279.6 184.5 280.6 184.4 281.6 184.4 282.6 184.5 283.6 184.6 284.6 184.9 285.6 185.4 286.3 186.1 286.2 187.1 285.1 187.8 284.1 188.2ZM283.6 203.1 282.6 203.2 281.6 203.2 280.6 203.2 279.6 203.2 278.6 203.1 277.6 203 276.6 202.9 275.6 202.7 274.6 202.4 273.6 202.1 272.6 201.6 271.7 200.6 271.4 199.6 271.6 198.8 272.1 198.1 273.1 197.3 274.1 196.8 275.1 196.5 276.1 196.2 277.1 196 278.1 195.9 279.1 195.8 280.1 195.8 281.1 195.8 282.1 195.8 283.1 195.8 284.1 195.9 285.1 196 286.1 196.2 287.1 196.5 288.1 196.8 289.1 197.3 290.1 198.1 290.6 198.8 290.8 199.6 290.6 200.4 290.1 201.2 289.1 201.9 288.1 202.3 287.1 202.6 286.1 202.8 285.1 202.9 284.1 203.1 283.6 203.1ZM288.1 217.1 287.1 217.2 286.1 217.3 285.1 217.3 284.1 217.4 283.1 217.4 282.1 217.4 281.1 217.4 280.1 217.4 279.1 217.4 278.1 217.4 277.1 217.3 276.1 217.3 275.1 217.2 274.1 217.1 273.1 217 272.1 216.8 271.1 216.5 270.1 216.1 269.2 215.6 268.2 214.6 267.9 213.6 267.8 212.6 268.1 211.6 268.6 210.8 269.2 210.1 269.9 209.6 270.6 209.2 271.6 208.8 272.6 208.5 273.6 208.2 274.6 208 275.6 207.9 276.6 207.8 277.6 207.7 278.6 207.7 279.6 207.6 280.5 207.6 281.6 207.6 282.6 207.6 283.6 207.7 284.6 207.7 285.6 207.8 286.6 207.9 287.6 208 288.6 208.2 289.6 208.5 290.6 208.8 291.4 209.1 292.3 209.6 293 210.1 293.6 210.8 294.1 211.6 294.4 212.6 294.3 213.6 294 214.6 293.1 215.5 292.2 216.1 291.1 216.5 290.1 216.8 289.1 217 288.1 217.1 288.1 217.1ZM283.6 243.6 282.6 243.6 281.6 243.6 280.6 243.6 279.6 243.6 278.6 243.6 277.6 243.6 276.6 243.5 275.6 243.5 274.6 243.4 273.6 243.4 272.6 243.3 271.6 243.1 270.6 243 269.6 242.7 268.6 242.5 267.7 242.1 266.7 241.6 266.1 241.1 265.2 240.1 264.6 239.1 264.3 238.1 264 237.1 263.8 236.1 263.7 235.1 263.6 234.1 263.5 233.1 263.5 232.1 263.5 231.1 263.5 230.1 263.6 229.2 263.7 228.1 263.8 227.1 264 226.1 264.3 225.1 264.6 224.2 265.1 223.2 265.6 222.6 266.6 221.7 267.6 221.1 268.6 220.7 269.6 220.5 270.6 220.2 271.5 220.1 272.6 219.9 273.6 219.8 274.6 219.8 275.6 219.7 276.6 219.7 277.6 219.6 278.5 219.6 279.6 219.6 280.6 219.6 281.6 219.6 282.6 219.6 283.6 219.6 284.6 219.6 285.6 219.7 286.6 219.7 287.6 219.8 288.6 219.8 289.6 219.9 290.6 220.1 291.6 220.2 292.6 220.5 293.6 220.7 294.5 221.1 295.5 221.6 296.1 222.1 297 223.1 297.6 224.1 297.9 225.1 298.2 226.1 298.4 227.1 298.5 228.1 298.6 229.1 298.7 230.1 298.7 231.1 298.7 232.1 298.7 233.1 298.6 234 298.5 235.1 298.4 236.1 298.2 237.1 297.9 238.1 297.6 239 297.1 240 296.6 240.6 295.6 241.5 294.6 242.1 293.6 242.5 292.6 242.7 291.6 243 290.7 243.1 289.6 243.3 288.6 243.4 287.6 243.4 286.6 243.5 285.6 243.5 284.6 243.6 283.7 243.6 283.6 243.6ZM255.1 240.6 254.1 240.7 253.1 240.7 252.1 240.5 251.1 240.3 250.1 239.9 249.1 239.4 248.2 238.6 247.6 237.9 247.1 237.1 246.7 236.1 246.4 235.1 246.2 234.1 246.1 233.3 246 232.1 246 231.1 246.1 230.1 246.2 229.1 246.4 228.1 246.7 227.1 247.1 226.1 247.6 225.3 248.2 224.6 249.1 223.8 250.1 223.3 251.1 222.9 252.1 222.7 253.1 222.5 254.1 222.5 255.1 222.6 256.1 222.8 257.1 223.1 257.9 223.6 258.6 224.2 259.1 224.8 259.5 225.6 259.8 226.6 260.1 227.6 260.2 228.6 260.3 229.6 260.4 230.6 260.4 231.6 260.4 232.6 260.3 233.6 260.2 234.6 260.1 235.5 259.8 236.6 259.5 237.6 259.1 238.4 258.6 239 257.9 239.6 257.1 240.1 256.1 240.4 255.3 240.6 255.1 240.6ZM309.6 240.6 308.6 240.7 307.6 240.7 306.6 240.6 305.6 240.3 304.6 239.8 303.7 239.1 303.1 238.4 302.7 237.6 302.4 236.6 302.1 235.6 302 234.6 301.9 233.6 301.8 232.6 301.8 231.6 301.8 230.6 301.9 229.6 302 228.6 302.1 227.7 302.4 226.6 302.7 225.6 303.1 224.8 303.6 224.2 304.3 223.6 305.1 223.1 306.1 222.8 306.9 222.6 308.1 222.5 309.1 222.5 310.1 222.7 311.1 222.9 312.1 223.3 313.1 223.8 314 224.6 314.6 225.3 315.1 226.1 315.5 227.1 315.8 228.1 316 229.1 316.1 229.9 316.2 231.1 316.2 232.1 316.1 233.1 316 234.1 315.8 235.1 315.5 236.1 315.1 237.1 314.6 237.9 314 238.6 313.1 239.4 312.1 239.9 311.1 240.3 310.1 240.5 309.6 240.6ZM235.6 238.1 234.6 238.2 233.6 238.2 232.6 238 231.8 237.6 231 237.1 230.1 236.2 229.6 235.4 229.2 234.6 228.9 233.6 228.8 232.6 228.7 231.6 228.8 230.6 228.9 229.6 229.2 228.6 229.6 227.8 230.1 227 231 226.1 231.8 225.6 232.6 225.2 233.6 225 234.6 225 235.6 225.1 236.6 225.4 237.6 226.1 238.5 227.1 239 228.1 239.3 229.1 239.5 230.1 239.6 231.1 239.6 232.1 239.5 233.1 239.3 234.1 239 235.1 238.6 235.9 238.1 236.6 237.1 237.5 236.1 238 235.6 238.1ZM328.6 238.2 327.6 238.2 326.6 238.1 325.6 237.8 324.6 237.1 323.7 236.1 323.2 235.1 322.9 234.1 322.7 233.1 322.6 232.1 322.6 231.1 322.7 230.1 322.9 229.1 323.2 228.1 323.6 227.3 324.1 226.6 325.1 225.7 326.1 225.2 327.1 225 328.1 225 329.1 225.1 330.1 225.4 331.1 226 331.8 226.6 332.5 227.6 333 228.6 333.3 229.6 333.4 230.6 333.5 231.6 333.4 232.6 333.3 233.6 333 234.6 332.6 235.4 332.1 236.2 331.2 237.1 330.4 237.6 329.6 238 328.6 238.2ZM215.6 235.2 214.6 235.2 213.6 234.8 212.9 234.1 212.3 233.1 212.1 232.2 212.1 231.1 212.3 230.1 212.9 229.1 213.6 228.4 214.6 228 215.6 228 216.6 228.4 217.4 229.1 217.9 230.1 218.1 231 218.1 232.1 217.9 233.1 217.4 234.1 216.6 234.8 215.6 235.2ZM347.6 235.2 346.6 235.2 345.6 234.8 344.8 234.1 344.3 233.1 344.1 232.2 344.1 231.1 344.3 230.1 344.8 229.1 345.6 228.4 346.6 228 347.6 228 348.6 228.4 349.3 229.1 349.9 230.1 350.1 231 350.1 232.1 349.9 233.1 349.3 234.1 348.6 234.8 347.6 235.2ZM281.6 255.6 280.6 255.6 279.6 255.6 278.6 255.5 277.6 255.5 276.6 255.4 275.6 255.3 274.6 255.2 273.6 255 272.6 254.7 271.6 254.4 270.8 254.1 269.9 253.6 269.2 253.1 268.6 252.4 268.1 251.6 267.8 250.6 267.9 249.6 268.2 248.6 269.1 247.7 270 247.1 271.1 246.7 272.1 246.4 273.1 246.2 274.1 246.1 275.1 246 276.1 245.9 277.1 245.9 278.1 245.8 279.1 245.8 280.1 245.8 281.1 245.8 282.1 245.8 283.1 245.8 284.1 245.8 285.1 245.9 286.1 245.9 287.1 246 288.1 246.1 289.1 246.2 290.1 246.4 291.1 246.7 292.1 247.1 293 247.6 294 248.6 294.3 249.6 294.4 250.6 294.1 251.6 293.6 252.4 293 253.1 292.3 253.6 291.6 254 290.6 254.4 289.6 254.7 288.6 255 287.6 255.2 286.6 255.3 285.6 255.4 284.6 255.5 283.6 255.5 282.6 255.6 281.7 255.6 281.6 255.6ZM285.1 267.2 284.1 267.3 283.1 267.4 282.1 267.4 281.1 267.4 280.1 267.4 279.1 267.4 278.1 267.3 277.1 267.2 276.1 267 275.1 266.7 274.1 266.4 273.1 265.9 272.1 265.1 271.6 264.4 271.4 263.6 271.6 262.8 272.1 262 273.1 261.3 274.1 260.9 275.1 260.6 276.1 260.4 277.1 260.3 278.1 260.1 279.1 260.1 280.1 260 281.1 260 282.1 260 283.1 260.1 284.1 260.1 285.1 260.3 286.1 260.4 287.1 260.6 288.1 260.9 289.1 261.3 290.1 262 290.6 262.8 290.8 263.6 290.6 264.4 290.1 265.1 289.1 265.9 288.1 266.4 287.1 266.7 286.1 267 285.1 267.2ZM283.1 278.7 282.1 278.8 281.1 278.8 280.1 278.8 279.1 278.7 278.1 278.5 277.1 278.1 276.2 277.6 275.8 276.6 276.6 275.6 277.6 275.2 278.6 274.9 279.6 274.8 280.6 274.7 281.6 274.7 282.6 274.8 283.6 274.9 284.4 275.1 285.6 275.6 286.4 276.6 286.1 277.4 285.2 278.1 284.1 278.5 283.1 278.7Z"/><path stroke="#0000d8" d="M281.1 201.1 280.1 201.1 279.1 200.9 278.2 200.6 277.5 200.1 277.5 199.1 278.3 198.6 279.1 198.4 280.1 198.2 281.1 198.1 282.1 198.2 283.1 198.4 283.9 198.6 284.6 199 284.7 200.1 284 200.6 283.1 200.9 282.1 201.1 281.1 201.1ZM284.6 216.6 283.6 216.7 282.6 216.7 281.6 216.7 280.6 216.7 279.6 216.7 278.6 216.7 277.6 216.6 276.6 216.5 275.6 216.4 274.6 216.2 273.6 216 272.6 215.6 271.6 215.1 270.7 214.1 270.4 213.1 270.6 212.1 271.1 211.3 271.8 210.6 272.6 210.1 273.6 209.7 274.6 209.4 275.6 209.1 276.6 208.9 277.6 208.8 278.6 208.7 279.6 208.7 280.6 208.6 281.6 208.6 282.6 208.7 283.6 208.7 284.6 208.8 285.6 208.9 286.5 209.1 287.6 209.4 288.4 209.6 289.6 210.1 290.4 210.6 291.1 211.3 291.6 212 291.8 213.1 291.6 213.9 291.2 214.6 290.1 215.4 289.1 215.8 288.1 216.1 287.1 216.3 286.1 216.5 285.1 216.6 284.6 216.6ZM284.6 243.1 283.6 243.1 282.6 243.2 281.6 243.2 280.6 243.2 279.6 243.2 278.6 243.1 277.6 243.1 276.6 243.1 275.6 243 274.6 242.9 273.6 242.8 272.6 242.6 271.6 242.5 270.6 242.2 269.6 241.9 268.8 241.6 267.8 241.1 267.1 240.6 266.1 239.6 265.6 238.8 265.2 238.1 264.9 237.1 264.6 236.1 264.4 235.1 264.3 234.1 264.2 233.1 264.2 232.1 264.2 231.1 264.2 230.1 264.3 229.1 264.4 228.1 264.6 227.1 264.9 226.1 265.2 225.1 265.6 224.4 266.1 223.6 267.1 222.6 267.8 222.1 268.6 221.7 269.6 221.3 270.6 221 271.6 220.7 272.6 220.6 273.6 220.4 274.6 220.3 275.6 220.2 276.6 220.1 277.5 220.1 278.6 220.1 279.6 220 280.6 220 281.6 220 282.6 220 283.6 220.1 284.6 220.1 285.6 220.1 286.6 220.2 287.6 220.3 288.6 220.4 289.6 220.6 290.6 220.7 291.6 221 292.6 221.3 293.4 221.6 294.4 222.1 295.1 222.6 296.1 223.6 296.6 224.4 297 225.1 297.3 226.1 297.6 227.1 297.8 228.1 297.9 229.1 298 230.1 298 231.1 298 232.1 298 233.1 297.9 234.1 297.8 235.1 297.6 236.1 297.3 237.1 297 238.1 296.6 238.8 296.1 239.6 295.1 240.6 294.4 241.1 293.6 241.5 292.6 241.9 291.6 242.2 290.6 242.5 289.6 242.6 288.6 242.8 287.6 242.9 286.6 243 285.6 243.1 284.7 243.1 284.6 243.1ZM255.6 238.7 254.6 238.9 253.6 238.9 252.6 238.8 251.8 238.6 250.7 238.1 249.9 237.6 249.1 236.8 248.6 236.1 248.1 235.1 247.8 234.1 247.6 233.1 247.5 232.1 247.5 231.1 247.6 230.2 247.8 229.1 248.1 228.2 248.6 227.1 249.1 226.4 249.9 225.6 250.6 225.1 251.6 224.7 252.6 224.4 253.6 224.3 254.6 224.3 255.6 224.5 256.6 224.9 257.6 225.6 258.1 226.2 258.6 227.1 259 228.1 259.2 229.1 259.3 230.1 259.4 231.1 259.4 232.1 259.3 233.1 259.2 234.1 259 235.1 258.6 236.1 258.1 237 257.6 237.6 256.6 238.3 255.6 238.7ZM310.1 238.7 309.1 238.9 308.1 238.9 307.1 238.8 306.3 238.6 305.3 238.1 304.6 237.6 303.9 236.6 303.4 235.6 303.1 234.6 302.9 233.6 302.8 232.6 302.8 231.6 302.8 230.6 302.9 229.6 303.1 228.6 303.4 227.6 303.9 226.6 304.6 225.6 305.3 225.1 306.1 224.7 307.1 224.4 308.1 224.3 309.1 224.3 310.1 224.5 311.1 224.9 312.1 225.5 312.8 226.1 313.6 227.1 314.1 228.1 314.4 229.1 314.6 230.1 314.7 231.1 314.7 232.1 314.6 233 314.4 234.1 314.1 235 313.6 236.1 313.1 236.8 312.3 237.6 311.6 238.1 310.6 238.5 310.1 238.7ZM234.6 234.2 233.8 234.1 233 233.6 232.3 232.6 232.2 231.6 232.3 230.6 233 229.6 233.8 229.1 234.6 229 235.6 229.4 236.2 230.1 236.5 231.1 236.5 232.1 236.2 233.1 235.6 233.8 234.6 234.2ZM328.1 234.2 327.2 234.1 326.4 233.6 325.8 232.6 325.7 231.6 325.8 230.6 326.4 229.6 327.1 229.1 328.1 229 329.1 229.5 329.6 230.1 330 231.1 330 232.1 329.6 233.1 329.1 233.7 328.1 234.2ZM286.1 254.2 285.1 254.3 284.1 254.4 283.1 254.5 282.1 254.6 281.1 254.6 280.1 254.6 279.1 254.5 278.1 254.4 277.1 254.3 276.1 254.2 275.1 254 274.1 253.7 273.1 253.3 272.1 252.8 271.2 252.1 270.6 251.2 270.4 250.1 270.6 249.3 271 248.6 272.1 247.8 273.1 247.4 274.1 247.1 275.1 246.9 276.1 246.7 277.1 246.6 278.1 246.5 279.1 246.5 280.1 246.5 281.1 246.4 282.1 246.5 283.1 246.5 284.1 246.5 285.1 246.6 286.1 246.7 287.1 246.9 288.1 247.1 289.1 247.4 290.1 247.8 291.1 248.6 291.6 249.3 291.8 250.1 291.6 251.1 291.1 251.9 290.4 252.6 289.6 253.1 288.6 253.5 287.6 253.8 286.6 254.1 286.1 254.2ZM283.6 264.7 282.6 265 281.6 265.1 280.6 265.1 279.6 265 278.6 264.7 277.6 264.2 277.5 263.1 278.2 262.6 279.1 262.3 280.1 262.1 281.1 262.1 282.1 262.1 283.1 262.3 284 262.6 284.7 263.1 284.7 264.1 283.9 264.6 283.6 264.7Z"/><path stroke="#0006ff" d="M284.6 215.7 283.6 215.8 282.6 215.8 281.6 215.9 280.6 215.9 279.6 215.8 278.6 215.8 277.6 215.7 276.6 215.5 275.6 215.2 274.6 214.8 273.6 214.1 273.2 213.1 273.5 212.1 274.1 211.4 275.1 210.8 276.1 210.4 277.1 210.2 278.1 210 279.1 209.9 280.1 209.8 281.1 209.8 282.1 209.8 283.1 209.9 284.1 210 285.1 210.2 286.1 210.4 287.1 210.8 288.1 211.4 288.7 212.1 289 213.1 288.6 214.1 288 214.6 287.1 215 286.1 215.3 285.1 215.6 284.6 215.7ZM285.1 242.6 284.1 242.7 283.1 242.7 282.1 242.7 281.1 242.8 280.1 242.7 279.1 242.7 278.1 242.7 277.1 242.6 276.1 242.5 275.1 242.4 274.1 242.3 273.1 242.2 272.1 242 271.1 241.7 270.1 241.4 269.1 240.9 268.1 240.3 267.3 239.6 266.6 238.8 266.2 238.1 265.7 237.1 265.3 236.1 265.1 235.1 265 234.1 264.8 233.1 264.8 232.1 264.8 231.1 264.8 230.1 265 229.1 265.1 228.2 265.3 227.1 265.6 226.3 266.1 225.2 266.6 224.4 267.3 223.6 268.1 222.9 269.1 222.3 270.1 221.8 271.1 221.5 272.1 221.2 273.1 221 274.1 220.9 275.1 220.8 276.1 220.7 277.1 220.6 278.1 220.5 279.1 220.5 280.1 220.5 281.1 220.4 282.1 220.5 283.1 220.5 284.1 220.5 285.1 220.6 286.1 220.7 287.1 220.8 288.1 220.9 289.1 221 290.1 221.2 291.1 221.5 292.1 221.8 293.1 222.3 294.1 222.9 294.9 223.6 295.6 224.4 296 225.1 296.5 226.1 296.9 227.1 297.1 228.1 297.2 229.1 297.4 230.1 297.4 231.1 297.4 232.1 297.4 233.1 297.2 234.1 297.1 235 296.9 236.1 296.6 236.9 296.1 238 295.6 238.8 294.9 239.6 294.1 240.3 293.1 240.9 292.1 241.4 291.1 241.7 290.1 242 289.1 242.2 288.1 242.3 287.1 242.4 286.1 242.5 285.1 242.6ZM255.6 236.7 254.6 237 253.6 237 252.6 236.8 251.6 236.4 250.6 235.6 250.1 234.9 249.7 234.1 249.4 233.1 249.2 232.1 249.2 231.1 249.4 230.1 249.6 229.3 250.1 228.3 250.6 227.6 251.6 226.8 252.6 226.4 253.6 226.2 254.6 226.2 255.6 226.5 256.5 227.1 257.1 227.8 257.6 228.6 257.9 229.6 258.1 230.6 258.2 231.6 258.1 232.6 257.9 233.6 257.6 234.5 257.1 235.4 256.5 236.1 255.8 236.6 255.6 236.7ZM310.1 236.6 309.1 237 308.1 237 307.1 236.9 306.1 236.4 305.2 235.6 304.6 234.6 304.3 233.6 304.1 232.6 304 231.6 304.1 230.6 304.3 229.6 304.6 228.7 305.1 227.8 305.7 227.1 306.4 226.6 307.6 226.2 308.6 226.2 309.6 226.4 310.6 226.8 311.6 227.6 312.1 228.3 312.5 229.1 312.8 230.1 313 231.1 313 232.1 312.8 233.1 312.6 233.9 312.1 234.9 311.6 235.6 310.6 236.4 310.1 236.6ZM284.6 253.1 283.6 253.3 282.6 253.4 281.6 253.4 280.6 253.4 279.6 253.4 278.6 253.3 277.6 253.1 276.6 252.9 275.6 252.6 274.6 252.1 273.9 251.6 273.2 250.6 273.3 249.6 274.1 248.7 275.1 248.2 276.1 247.9 277.1 247.6 278.1 247.5 279.1 247.4 280.1 247.3 281.1 247.3 282.1 247.3 283.1 247.4 284.1 247.5 285 247.6 286.1 247.9 286.9 248.1 288 248.6 288.6 249.1 289 250.1 288.7 251.1 288.1 251.8 287.1 252.4 286.1 252.8 285.1 253 284.6 253.1Z"/><path stroke="#0032ff" d="M281.6 214.6 280.6 214.6 279.6 214.5 278.6 214.3 277.6 213.9 276.9 213.1 277.5 212.1 278.6 211.6 279.6 211.4 280.6 211.3 281.6 211.3 282.6 211.4 283.5 211.6 284.6 212.1 285.2 212.6 285.1 213.5 284.2 214.1 283.1 214.4 282.1 214.6 281.6 214.6ZM285.6 242.1 284.6 242.2 283.6 242.3 282.6 242.3 281.6 242.3 280.6 242.3 279.6 242.3 278.6 242.3 277.6 242.2 276.6 242.1 275.6 242 274.6 241.9 273.6 241.7 272.6 241.5 271.6 241.2 270.6 240.9 269.6 240.4 268.6 239.7 267.9 239.1 267.1 238.2 266.6 237.3 266.3 236.6 265.9 235.6 265.7 234.6 265.5 233.6 265.4 232.6 265.4 231.6 265.4 230.6 265.5 229.6 265.7 228.6 265.9 227.6 266.3 226.6 266.6 225.9 267 225.1 267.6 224.4 268.4 223.6 269.1 223.1 270 222.6 271.1 222.2 272.1 221.8 273 221.6 274.1 221.4 275.1 221.2 276.1 221.1 277.1 221 278.1 220.9 279.1 220.9 280.1 220.9 281.1 220.9 282.1 220.9 283.1 220.9 284.1 220.9 285.1 221 286 221.1 287.1 221.2 288.1 221.4 289.1 221.6 290.1 221.8 290.9 222.1 292.1 222.6 293.1 223.1 293.8 223.6 294.6 224.4 295.1 225 295.6 225.9 295.9 226.6 296.3 227.6 296.5 228.6 296.7 229.6 296.8 230.6 296.8 231.6 296.8 232.6 296.7 233.6 296.5 234.6 296.3 235.6 295.9 236.6 295.6 237.3 295.2 238.1 294.6 238.8 293.8 239.6 293.1 240.1 292.2 240.6 291.1 241 290.1 241.4 289.2 241.6 288.1 241.8 287.1 242 286.1 242.1 285.6 242.1ZM255.1 234.1 254.1 234.5 253.1 234.3 252.1 233.6 251.6 232.7 251.4 231.6 251.6 230.6 252.1 229.6 253.1 228.9 254.1 228.7 255.1 229.1 255.9 230.1 256.2 231.1 256.2 232.1 255.9 233.1 255.1 234.1 255.1 234.1ZM309.1 234.3 308.1 234.5 307.1 234.1 306.3 233.1 306 232.1 306 231.1 306.3 230.1 307.1 229.1 308.1 228.7 309.1 228.9 310.1 229.6 310.6 230.5 310.8 231.6 310.6 232.6 310.1 233.6 309.1 234.3ZM283.1 251.7 282.1 251.8 281.1 251.9 280.1 251.8 279.1 251.7 278.1 251.4 277.1 250.7 277.1 249.7 278 249.1 279.1 248.8 280.1 248.6 281.1 248.6 282.1 248.6 283.1 248.8 284.1 249 285 249.6 285.2 250.6 284.6 251.1 283.6 251.6 283.1 251.7Z"/><path stroke="#005eff" d="M286.1 241.6 285.1 241.8 284.1 241.8 283.1 241.9 282.1 241.9 281.1 241.9 280.1 241.9 279.1 241.9 278.1 241.8 277.1 241.8 276.1 241.6 275.1 241.5 274.1 241.3 273.2 241.1 272.1 240.8 271.1 240.4 270.1 239.9 269.1 239.3 268.4 238.6 267.6 237.7 267.1 236.8 266.6 235.6 266.3 234.6 266.1 233.6 266 232.6 266 231.6 266 230.6 266.1 229.6 266.3 228.6 266.6 227.6 267 226.6 267.6 225.6 268.1 224.9 268.9 224.1 269.6 223.6 270.4 223.1 271.6 222.6 272.6 222.3 273.6 222 274.6 221.8 275.6 221.6 276.6 221.5 277.6 221.4 278.6 221.3 279.6 221.3 280.6 221.3 281.6 221.3 282.6 221.3 283.6 221.3 284.6 221.4 285.6 221.5 286.4 221.6 287.6 221.8 288.6 222 289.6 222.3 290.6 222.6 291.6 223 292.6 223.6 293.3 224.1 294.1 224.9 294.6 225.5 295.1 226.4 295.6 227.6 295.9 228.6 296.1 229.6 296.2 230.6 296.2 231.6 296.2 232.6 296.1 233.6 295.9 234.6 295.6 235.6 295.2 236.6 294.6 237.6 294.1 238.3 293.3 239.1 292.6 239.6 291.8 240.1 290.6 240.6 289.6 240.9 288.6 241.2 287.6 241.4 286.6 241.6 286.1 241.6Z"/><path stroke="#008bff" d="M286.6 241.1 285.6 241.3 284.6 241.4 283.6 241.5 282.6 241.5 281.6 241.5 280.6 241.5 279.6 241.5 278.6 241.5 277.6 241.4 276.6 241.3 275.6 241.1 274.6 240.9 273.6 240.7 272.6 240.4 271.8 240.1 270.8 239.6 270 239.1 269.3 238.6 268.6 237.9 268.1 237.2 267.6 236.4 267.3 235.6 266.9 234.6 266.7 233.6 266.6 232.6 266.6 231.6 266.6 230.7 266.7 229.6 266.9 228.6 267.3 227.6 267.6 226.8 268 226.1 268.6 225.3 269.3 224.6 270 224.1 270.8 223.6 271.6 223.2 272.6 222.8 273.6 222.5 274.6 222.3 275.4 222.1 276.6 221.9 277.6 221.8 278.6 221.7 279.6 221.7 280.6 221.7 281.6 221.7 282.6 221.7 283.6 221.7 284.6 221.8 285.6 221.9 286.6 222.1 287.6 222.3 288.6 222.5 289.6 222.8 290.4 223.1 291.4 223.6 292.2 224.1 292.9 224.6 293.6 225.3 294.1 226 294.6 226.8 294.9 227.6 295.3 228.6 295.5 229.6 295.6 230.6 295.6 231.6 295.6 232.5 295.5 233.6 295.3 234.6 294.9 235.6 294.6 236.4 294.2 237.1 293.6 237.9 292.9 238.6 292.2 239.1 291.4 239.6 290.6 240 289.6 240.4 288.6 240.7 287.6 240.9 286.8 241.1 286.6 241.1Z"/><path stroke="#00b7ff" d="M283.1 241.1 282.1 241.1 281.1 241.2 280.1 241.1 279.1 241.1 278.1 241 277.1 240.9 276.1 240.8 275.1 240.6 274.1 240.4 273.3 240.1 272.1 239.7 271.1 239.1 270.3 238.6 269.6 238 268.8 237.1 268.1 236.1 267.7 235.1 267.4 234.1 267.2 233.1 267.1 232.1 267.1 231.1 267.2 230.1 267.4 229.1 267.7 228.1 268.1 227.2 268.6 226.3 269.1 225.7 269.7 225.1 270.6 224.4 271.6 223.8 272.6 223.3 273.6 223 274.6 222.7 275.6 222.5 276.6 222.3 277.6 222.2 278.6 222.1 279.6 222.1 280.6 222 281.6 222 282.6 222.1 283.6 222.1 284.6 222.2 285.6 222.3 286.6 222.5 287.6 222.7 288.6 223 289.6 223.3 290.6 223.8 291.6 224.4 292.5 225.1 293.1 225.7 293.6 226.3 294.1 227.1 294.5 228.1 294.8 229.1 295 230.1 295.1 231.1 295.1 232.1 295 233.1 294.8 234.1 294.5 235.1 294.1 236 293.6 236.9 293.1 237.5 292.5 238.1 291.6 238.8 290.6 239.4 289.6 239.9 288.6 240.2 287.6 240.5 286.6 240.7 285.6 240.9 284.6 241 283.6 241.1 283.1 241.1Z"/><path stroke="#00e3ff" d="M284.1 240.6 283.1 240.7 282.1 240.8 281.1 240.8 280.1 240.8 279.1 240.7 278.1 240.6 277.1 240.5 276.1 240.4 275.1 240.1 274.1 239.9 273.3 239.6 272.1 239.1 271.3 238.6 270.6 238.1 270 237.6 269.2 236.6 268.6 235.7 268.2 234.6 267.9 233.6 267.7 232.6 267.7 231.6 267.7 230.6 267.9 229.6 268.1 228.8 268.6 227.6 269.1 226.7 269.6 226 270.6 225.1 271.3 224.6 272.1 224.1 273.1 223.7 274.1 223.3 274.9 223.1 276.1 222.8 277.1 222.7 278.1 222.6 279.1 222.5 280.1 222.4 281.1 222.4 282.1 222.4 283.1 222.5 284.1 222.6 285.1 222.7 286.1 222.8 287.1 223.1 288.1 223.3 288.9 223.6 290.1 224.1 290.9 224.6 291.6 225.1 292.2 225.6 293 226.6 293.6 227.5 294 228.6 294.3 229.6 294.5 230.6 294.5 231.6 294.5 232.6 294.3 233.6 294.1 234.4 293.6 235.6 293.1 236.5 292.6 237.2 291.6 238.1 290.9 238.6 290.1 239.1 289.1 239.5 288.1 239.9 287.3 240.1 286.1 240.4 285.1 240.5 284.1 240.6Z"/><path stroke="#11ffee" d="M285.1 240.1 284.1 240.2 283.1 240.3 282.1 240.4 281.1 240.4 280.1 240.4 279.1 240.3 278.1 240.2 277.1 240.1 276.1 239.9 275.1 239.7 274.1 239.4 273.3 239.1 272.6 238.8 271.6 238.2 270.8 237.6 270.1 236.9 269.6 236.2 269.1 235.4 268.8 234.6 268.5 233.6 268.3 232.6 268.2 231.6 268.3 230.6 268.5 229.6 268.8 228.6 269.1 227.8 269.5 227.1 270.1 226.3 270.8 225.6 271.5 225.1 272.3 224.6 273.1 224.2 274.1 223.8 275.1 223.5 276.1 223.3 277.1 223.1 278.1 223 279.1 222.9 280.1 222.8 281.1 222.8 282.1 222.8 283.1 222.9 284.1 223 285.1 223.1 286.1 223.3 287.1 223.5 288.1 223.8 288.9 224.1 289.6 224.4 290.6 225 291.4 225.6 292.1 226.3 292.6 227 293.1 227.8 293.4 228.6 293.7 229.6 293.9 230.6 294 231.6 293.9 232.6 293.7 233.6 293.4 234.6 293.1 235.4 292.7 236.1 292.1 236.9 291.4 237.6 290.7 238.1 289.9 238.6 289.1 239 288.1 239.4 287.1 239.7 286.1 239.9 285.1 240.1 285.1 240.1Z"/><path stroke="#3dffc2" d="M285.6 239.6 284.6 239.8 283.6 239.9 282.6 240 281.6 240 280.6 240 279.6 240 278.6 239.9 277.6 239.8 276.6 239.6 275.6 239.4 274.7 239.1 273.6 238.7 272.6 238.2 271.7 237.6 270.6 236.6 270.1 235.9 269.6 235.1 269.2 234.1 268.9 233.1 268.8 232.1 268.8 231.1 268.9 230.1 269.2 229.1 269.6 228.1 270.1 227.3 270.6 226.6 271.6 225.7 272.4 225.1 273.4 224.6 274.6 224.1 275.6 223.8 276.6 223.6 277.6 223.4 278.6 223.3 279.6 223.2 280.6 223.2 281.6 223.2 282.6 223.2 283.6 223.3 284.6 223.4 285.6 223.6 286.6 223.8 287.5 224.1 288.6 224.5 289.6 225 290.5 225.6 291.6 226.6 292.1 227.3 292.6 228.1 293 229.1 293.3 230.1 293.4 231.1 293.4 232.1 293.3 233.1 293 234.1 292.6 235.1 292.1 235.9 291.6 236.6 290.6 237.5 289.8 238.1 288.8 238.6 287.6 239.1 286.6 239.4 285.6 239.6 285.6 239.6Z"/><path stroke="#69ff96" d="M282.1 239.6 281.1 239.6 280.1 239.6 279.1 239.5 278.1 239.4 277.1 239.3 276.3 239.1 275.1 238.8 274.1 238.4 273.1 237.9 272.1 237.3 271.4 236.6 270.6 235.7 270.1 234.8 269.8 234.1 269.5 233.1 269.4 232.1 269.4 231.1 269.5 230.1 269.8 229.1 270.1 228.4 270.5 227.6 271.1 226.9 271.9 226.1 272.6 225.6 273.5 225.1 274.6 224.6 275.6 224.3 276.6 224 277.6 223.8 278.6 223.7 279.6 223.6 280.6 223.6 281.6 223.6 282.6 223.6 283.6 223.7 284.6 223.8 285.6 224 286.6 224.3 287.6 224.6 288.6 225 289.6 225.6 290.3 226.1 291.1 226.9 291.6 227.5 292.1 228.4 292.4 229.1 292.7 230.1 292.8 231.1 292.8 232.1 292.7 233.1 292.4 234.1 292.1 234.8 291.7 235.6 291.1 236.3 290.3 237.1 289.6 237.6 288.7 238.1 287.6 238.6 286.6 238.9 285.6 239.2 284.6 239.4 283.6 239.5 282.6 239.6 282.1 239.6Z"/><path stroke="#96ff69" d="M283.6 239.1 282.6 239.2 281.6 239.2 280.6 239.2 279.6 239.2 278.6 239.1 277.6 239 276.6 238.8 275.6 238.5 274.6 238.1 273.6 237.6 272.8 237.1 272.1 236.6 271.2 235.6 270.6 234.6 270.2 233.6 270 232.6 269.9 231.6 270 230.6 270.2 229.6 270.6 228.6 271.1 227.8 271.6 227.1 272.6 226.2 273.5 225.6 274.6 225.1 275.6 224.7 276.6 224.4 277.6 224.2 278.6 224.1 279.6 224 280.6 224 281.6 224 282.6 224 283.6 224.1 284.6 224.2 285.6 224.4 286.6 224.7 287.6 225.1 288.6 225.6 289.4 226.1 290.1 226.6 291 227.6 291.6 228.6 292 229.6 292.2 230.6 292.3 231.6 292.2 232.6 292 233.6 291.6 234.6 291.1 235.4 290.6 236.1 289.6 237 288.7 237.6 287.6 238.1 286.6 238.5 285.6 238.8 284.6 239 283.6 239.1 283.6 239.1Z"/><path stroke="#c2ff3d" d="M284.1 238.6 283.1 238.8 282.1 238.8 281.1 238.9 280.1 238.8 279.1 238.8 278.1 238.6 277.1 238.4 276.1 238.2 275.1 237.8 274.1 237.3 273.1 236.7 272.4 236.1 271.6 235.2 271.1 234.3 270.7 233.1 270.5 232.1 270.5 231.1 270.7 230.1 271 229.1 271.5 228.1 272.1 227.4 273 226.6 273.7 226.1 274.6 225.6 275.6 225.2 276.6 224.9 277.6 224.7 278.6 224.5 279.6 224.4 280.6 224.3 281.6 224.3 282.6 224.4 283.6 224.5 284.6 224.7 285.6 224.9 286.6 225.2 287.6 225.6 288.5 226.1 289.2 226.6 290.1 227.4 290.6 228 291.1 228.9 291.5 230.1 291.7 231.1 291.7 232.1 291.5 233.1 291.2 234.1 290.7 235.1 290.1 235.8 289.2 236.6 288.5 237.1 287.6 237.6 286.6 238 285.6 238.3 284.6 238.5 284.1 238.6Z"/><path stroke="#eeff11" d="M284.6 238.1 283.6 238.3 282.6 238.4 281.6 238.5 280.6 238.5 279.6 238.4 278.6 238.3 277.6 238.1 276.6 237.9 275.8 237.6 274.7 237.1 273.8 236.6 273.2 236.1 272.2 235.1 271.6 234.1 271.3 233.1 271.1 232.2 271.1 231.1 271.3 230.1 271.6 229.2 272.1 228.3 272.6 227.7 273.6 226.8 274.6 226.1 275.6 225.7 276.6 225.3 277.5 225.1 278.6 224.9 279.6 224.8 280.6 224.7 281.6 224.7 282.6 224.8 283.6 224.9 284.6 225.1 285.6 225.3 286.4 225.6 287.5 226.1 288.4 226.6 289 227.1 290 228.1 290.6 229.1 290.9 230.1 291.1 231 291.1 232.1 290.9 233.1 290.6 234 290.1 234.9 289.6 235.5 288.6 236.4 287.6 237.1 286.6 237.5 285.6 237.9 284.7 238.1 284.6 238.1Z"/><path stroke="#ffe300" d="M284.6 237.7 283.6 237.9 282.6 238 281.6 238.1 280.6 238.1 279.6 238 278.6 237.9 277.6 237.7 276.6 237.4 275.8 237.1 274.8 236.6 274 236.1 273.1 235.3 272.6 234.6 272.1 233.7 271.7 232.6 271.7 231.6 271.7 230.6 272 229.6 272.6 228.6 273.1 227.9 274 227.1 274.8 226.6 275.6 226.2 276.6 225.8 277.6 225.5 278.6 225.3 279.6 225.2 280.6 225.1 281.6 225.1 282.6 225.2 283.6 225.3 284.6 225.5 285.6 225.8 286.4 226.1 287.4 226.6 288.2 227.1 289.1 227.9 289.6 228.6 290.1 229.5 290.5 230.6 290.5 231.6 290.5 232.6 290.2 233.6 289.6 234.6 289.1 235.3 288.2 236.1 287.4 236.6 286.6 237 285.6 237.4 284.6 237.7Z"/><path stroke="#ffb700" d="M282.1 237.6 281.1 237.6 280.1 237.6 279.1 237.5 278.1 237.3 277.2 237.1 276.1 236.7 275.1 236.2 274.2 235.6 273.6 235 273.1 234.3 272.7 233.6 272.4 232.6 272.3 231.6 272.4 230.6 272.6 229.8 273.1 228.9 273.6 228.2 274.2 227.6 274.9 227.1 275.8 226.6 276.6 226.3 277.6 226 278.6 225.8 279.6 225.6 280.6 225.6 281.6 225.6 282.6 225.6 283.6 225.8 284.6 226 285.6 226.3 286.4 226.6 287.1 227 288 227.6 288.6 228.2 289.1 228.9 289.5 229.6 289.8 230.6 289.9 231.6 289.8 232.6 289.6 233.4 289.1 234.3 288.6 235 288 235.6 287.3 236.1 286.4 236.6 285.6 236.9 284.6 237.2 283.6 237.4 282.6 237.6 282.1 237.6Z"/><path stroke="#ff8b00" d="M282.6 237.1 281.6 237.2 280.6 237.2 279.6 237.1 278.6 237 277.6 236.7 276.6 236.4 275.6 235.9 274.6 235.2 274 234.6 273.4 233.6 273 232.6 272.9 231.6 273 230.6 273.4 229.6 274 228.6 274.6 228 275.6 227.3 276.6 226.8 277.6 226.5 278.6 226.2 279.6 226.1 280.6 226 281.6 226 282.6 226.1 283.6 226.2 284.6 226.5 285.6 226.8 286.6 227.3 287.6 228 288.2 228.6 288.8 229.6 289.2 230.6 289.3 231.6 289.2 232.6 288.8 233.6 288.2 234.6 287.6 235.2 286.6 235.9 285.6 236.4 284.6 236.7 283.6 237 282.6 237.1Z"/><path stroke="#ff5e00" d="M282.6 236.7 281.6 236.7 280.6 236.7 279.6 236.7 278.6 236.5 277.6 236.2 276.6 235.8 275.6 235.2 274.8 234.6 274.1 233.6 273.7 232.6 273.6 231.6 273.7 230.6 274.1 229.6 274.6 228.9 275.4 228.1 276.1 227.6 277.1 227.2 278.1 226.8 279.1 226.6 280.1 226.5 281.1 226.4 282.1 226.5 283.1 226.6 284.1 226.8 285 227.1 286 227.6 286.8 228.1 287.6 228.9 288.1 229.6 288.5 230.6 288.6 231.6 288.5 232.6 288.1 233.6 287.6 234.3 286.8 235.1 286.1 235.6 285.1 236 284.1 236.4 283.1 236.6 282.6 236.7Z"/><path stroke="#ff3200" d="M282.6 236.2 281.6 236.3 280.6 236.3 279.6 236.2 278.6 236 277.6 235.7 276.6 235.2 275.8 234.6 275.1 233.9 274.6 233.1 274.3 232.1 274.3 231.1 274.6 230.1 275.1 229.3 275.8 228.6 276.4 228.1 277.4 227.6 278.6 227.2 279.6 227 280.6 226.9 281.6 226.9 282.6 227 283.6 227.2 284.6 227.5 285.6 228 286.4 228.6 287.1 229.3 287.6 230.1 287.9 231.1 287.9 232.1 287.6 233.1 287.1 233.9 286.4 234.6 285.8 235.1 284.8 235.6 283.6 236 282.6 236.2Z"/><path stroke="#ff0600" d="M282.6 235.6 281.6 235.7 280.6 235.7 279.6 235.6 278.6 235.4 277.7 235.1 276.8 234.6 276.2 234.1 275.6 233.4 275.2 232.6 275 231.6 275.2 230.6 275.6 229.8 276.2 229.1 276.8 228.6 277.6 228.2 278.6 227.8 279.4 227.6 280.6 227.5 281.6 227.5 282.6 227.6 283.6 227.8 284.5 228.1 285.4 228.6 286 229.1 286.6 229.8 287 230.6 287.2 231.6 287 232.6 286.6 233.4 286 234.1 285.4 234.6 284.6 235 283.6 235.4 282.8 235.6 282.6 235.6Z"/><path stroke="#d80000" d="M282.1 235.1 281.1 235.2 280.1 235.1 279.1 234.9 278.2 234.6 277.3 234.1 276.6 233.4 276.1 232.7 275.9 231.6 276.1 230.6 276.6 229.8 277.3 229.1 278.1 228.6 279.1 228.3 280 228.1 281.1 228 282.1 228.1 283.1 228.3 284 228.6 284.9 229.1 285.6 229.8 286.1 230.5 286.3 231.6 286.1 232.6 285.6 233.4 284.9 234.1 284.1 234.6 283.1 234.9 282.2 235.1 282.1 235.1Z"/><path stroke="#ac0000" d="M283.1 234.2 282.1 234.4 281.1 234.5 280.1 234.4 279.1 234.2 278.1 233.7 277.5 233.1 276.9 232.1 276.9 231.1 277.5 230.1 278.1 229.5 278.9 229.1 280.1 228.8 281.1 228.7 282.1 228.8 283.1 229 284.1 229.5 284.7 230.1 285.3 231.1 285.3 232.1 284.7 233.1 284.1 233.7 283.3 234.1 283.1 234.2Z"/><path stroke="#800000" d="M281.6 233.6 280.6 233.6 279.6 233.3 278.6 232.7 278.1 231.6 278.5 230.6 279.6 229.9 280.5 229.6 281.6 229.6 282.6 229.9 283.6 230.5 284.1 231.6 283.7 232.6 282.6 233.3 281.7 233.6 281.6 233.6Z"/></g>
<g clip-path="url(#clip_bC)" fill="none" stroke-width="0.55" stroke-linejoin="round"><path stroke="#000080" d="M470.8 185.1 469.8 185.2 468.8 185.3 467.8 185.4 466.8 185.4 465.8 185.5 464.8 185.5 463.8 185.4 462.8 185.4 461.8 185.3 460.8 185.3 459.8 185.2 458.8 185 457.8 184.8 456.9 184.6 455.8 184.2 454.8 183.7 454 183.1 453.3 182.2 452.9 181.1 452.9 180.1 453.2 179.1 453.8 178.2 454.4 177.6 455.1 177.1 456.1 176.6 457.3 176.2 458.3 175.9 459.3 175.7 460.1 175.6 461.3 175.5 462.3 175.4 463.3 175.3 464.3 175.3 465.3 175.3 466.3 175.3 467.3 175.3 468.3 175.4 469.3 175.5 470.1 175.6 471.3 175.8 472.3 176 473.3 176.3 474.1 176.6 475.1 177.1 475.8 177.6 476.7 178.6 477.2 179.6 477.3 180.6 477.1 181.6 476.6 182.6 475.8 183.4 474.8 184 473.8 184.4 472.8 184.7 471.8 184.9 470.9 185.1 470.8 185.1ZM471.3 200.1 470.3 200.2 469.3 200.3 468.3 200.3 467.3 200.4 466.3 200.4 465.3 200.4 464.3 200.4 463.3 200.4 462.3 200.3 461.3 200.3 460.3 200.2 459.3 200.2 458.3 200.1 457.3 199.9 456.3 199.7 455.3 199.5 454.3 199.2 453.3 198.7 452.5 198.1 451.8 197.3 451.3 196.2 451.2 195.1 451.3 194.1 451.6 193.1 452.2 192.1 452.8 191.5 453.8 190.8 454.8 190.3 455.8 190 456.8 189.7 457.8 189.5 458.8 189.3 459.8 189.2 460.8 189.1 461.8 189.1 462.8 189 463.8 189 464.8 189 465.8 189 466.8 189 467.8 189 468.8 189.1 469.8 189.2 470.8 189.3 471.8 189.4 472.8 189.6 473.8 189.8 474.8 190.1 475.8 190.5 476.8 191 477.6 191.6 478.3 192.5 478.8 193.5 479 194.6 479 195.6 478.8 196.5 478.3 197.5 477.7 198.1 477.1 198.6 476.3 199 475.3 199.4 474.3 199.7 473.3 199.9 472.3 200 471.3 200.1ZM472.3 215.1 471.3 215.2 470.3 215.2 469.3 215.2 468.3 215.3 467.3 215.3 466.3 215.3 465.3 215.3 464.3 215.3 463.3 215.3 462.3 215.3 461.3 215.3 460.3 215.2 459.3 215.2 458.3 215.1 457.3 215.1 456.3 215 455.3 214.9 454.3 214.7 453.3 214.5 452.3 214.2 451.3 213.8 450.4 213.1 449.8 212.1 449.5 211.1 449.3 210.1 449.4 209.1 449.5 208.1 449.8 207.1 450.3 206.2 450.8 205.5 451.8 204.7 452.8 204.2 453.8 203.8 454.8 203.5 455.8 203.3 456.8 203.2 457.8 203 458.8 202.9 459.8 202.9 460.8 202.8 461.8 202.8 462.8 202.7 463.8 202.7 464.8 202.7 465.8 202.7 466.8 202.7 467.8 202.7 468.8 202.8 469.8 202.8 470.8 202.9 471.8 203 472.8 203.1 473.8 203.2 474.8 203.4 475.8 203.6 476.8 203.9 477.8 204.3 478.8 205 479.5 205.6 480.2 206.6 480.6 207.6 480.8 208.6 480.9 209.6 480.8 210.6 480.6 211.6 480.2 212.6 479.3 213.5 478.3 214.1 477.3 214.4 476.3 214.7 475.3 214.8 474.3 215 473.3 215 472.3 215.1ZM438.8 212.1 437.8 212.2 436.8 212 435.9 211.6 434.9 210.6 434.7 209.6 435.1 208.6 435.8 207.8 436.8 207.3 437.8 207.1 438.8 207.1 439.8 207.4 440.8 208.1 441.3 209 441.4 210.1 441 211.1 440.3 211.7 439.3 212.1 438.8 212.1ZM492.8 212.1 491.8 212.2 490.8 212 489.8 211.6 489 210.6 488.8 209.6 489.1 208.6 489.8 207.8 490.8 207.3 491.8 207.1 492.8 207.2 493.8 207.5 494.7 208.1 495.3 208.9 495.4 210.1 494.9 211.1 494.3 211.6 493.3 212 492.8 212.1ZM474.8 243.6 473.8 243.7 472.8 243.8 471.8 243.8 470.8 243.9 469.8 243.9 468.8 243.9 467.8 243.9 466.8 243.9 465.8 244 464.8 244 463.8 243.9 462.8 243.9 461.8 243.9 460.8 243.9 459.8 243.9 458.8 243.8 457.8 243.8 456.8 243.7 455.8 243.7 454.8 243.6 453.8 243.4 452.8 243.3 451.8 243 450.8 242.7 449.8 242.2 449.1 241.6 448.4 240.6 447.9 239.6 447.6 238.6 447.5 237.6 447.3 236.6 447.2 235.6 447.1 234.6 447.1 233.6 447.1 232.6 447 231.6 447 230.6 447 229.6 447 228.6 447.1 227.6 447.1 226.6 447.2 225.6 447.2 224.6 447.3 223.6 447.5 222.6 447.7 221.6 448 220.6 448.5 219.6 449.3 218.6 450 218.1 450.8 217.7 451.8 217.4 452.8 217.1 453.8 217 454.8 216.8 455.8 216.7 456.8 216.7 457.8 216.6 458.8 216.6 459.8 216.5 460.8 216.5 461.8 216.5 462.8 216.5 463.8 216.5 464.8 216.4 465.8 216.4 466.8 216.5 467.8 216.5 468.8 216.5 469.8 216.5 470.8 216.5 471.8 216.6 472.8 216.6 473.8 216.7 474.8 216.8 475.8 216.9 476.8 217 477.8 217.2 478.8 217.5 479.8 217.9 480.8 218.5 481.4 219.1 482 220.1 482.3 220.9 482.6 222.1 482.8 223.1 482.9 224.1 483 225.1 483.1 226.1 483.1 227.1 483.2 228.1 483.2 229.1 483.2 230.1 483.2 231.1 483.2 232.1 483.1 233.1 483.1 234.1 483 235.1 482.9 236.1 482.8 237.1 482.7 238.1 482.4 239.1 482.1 240.1 481.5 241.1 480.8 241.9 479.8 242.5 478.8 242.9 477.8 243.2 476.8 243.4 475.8 243.5 474.8 243.6ZM439.8 242.1 438.8 242.2 437.8 242.2 436.8 242.1 435.8 242 434.8 241.8 433.9 241.6 432.8 241.2 431.9 240.6 430.9 239.6 430.3 238.7 429.9 237.6 429.6 236.6 429.4 235.6 429.2 234.6 429.1 233.6 429 232.6 429 231.6 429 230.6 429 229.6 429 228.6 429 227.6 429.1 226.6 429.2 225.6 429.4 224.6 429.6 223.6 429.9 222.6 430.3 221.7 430.8 220.9 431.5 220.1 432.2 219.6 433.1 219.1 434.3 218.7 435.3 218.5 436.3 218.3 437.3 218.2 438.3 218.2 439.3 218.2 440.3 218.3 441.3 218.5 442.3 218.9 443.3 219.5 443.9 220.1 444.5 221.1 444.8 222.1 445 223.1 445.2 224.1 445.3 225 445.4 226.1 445.4 227.1 445.5 228.1 445.5 229.1 445.5 230.1 445.5 231.1 445.5 232.1 445.5 233.1 445.4 234.1 445.3 235.1 445.2 236.1 445.1 237.1 444.9 238.1 444.5 239.1 444 240.1 443.3 240.9 442.3 241.5 441.3 241.9 440.3 242.1 439.8 242.1ZM493.8 242.1 492.8 242.2 491.8 242.2 490.8 242.2 489.8 242 488.8 241.8 487.8 241.5 486.8 240.8 486.2 240.1 485.7 239.1 485.3 238.1 485.1 237.1 485 236.1 484.9 235.1 484.8 234.2 484.7 233.1 484.7 232.1 484.7 231.1 484.7 230.1 484.7 229.1 484.7 228.1 484.8 227.1 484.8 226.2 484.9 225.1 485 224.1 485.2 223.1 485.4 222.1 485.7 221.1 486.3 220.1 487.3 219.2 488.3 218.7 489.3 218.5 490.3 218.3 491.3 218.2 492.3 218.2 493.3 218.3 494.3 218.4 495.3 218.5 496.3 218.8 497.1 219.1 497.8 219.5 498.7 220.1 499.3 220.8 499.8 221.5 500.3 222.6 500.6 223.6 500.8 224.6 501 225.6 501.1 226.6 501.2 227.6 501.2 228.6 501.2 229.6 501.2 230.6 501.2 231.6 501.2 232.6 501.1 233.6 501 234.6 500.8 235.6 500.6 236.6 500.3 237.6 499.9 238.6 499.3 239.6 498.3 240.6 497.5 241.1 496.3 241.6 495.3 241.9 494.3 242 493.8 242.1ZM420.8 240.6 419.8 240.8 418.8 240.8 417.8 240.8 416.8 240.6 415.8 240.3 414.8 239.9 413.8 239.3 413.1 238.6 412.4 237.6 411.9 236.6 411.5 235.6 411.3 234.6 411.1 233.6 411 232.6 411 231.6 410.9 230.6 410.9 229.6 411 228.6 411 227.6 411.2 226.6 411.4 225.6 411.6 224.6 412 223.6 412.5 222.6 413.3 221.6 414.3 220.8 415.3 220.2 416.3 219.9 417.3 219.7 418.3 219.6 419.3 219.6 420.3 219.7 421.3 219.9 422.3 220.3 423.3 220.9 424 221.6 424.7 222.6 425.1 223.6 425.4 224.6 425.6 225.6 425.7 226.6 425.8 227.6 425.9 228.6 425.9 229.6 425.9 230.6 425.9 231.6 425.8 232.6 425.7 233.6 425.6 234.6 425.4 235.6 425.2 236.6 424.8 237.6 424.3 238.5 423.8 239.1 422.8 239.9 421.8 240.3 420.9 240.6 420.8 240.6ZM513.3 240.6 512.3 240.8 511.3 240.8 510.3 240.8 509.3 240.6 508.3 240.3 507.3 239.8 506.4 239.1 505.8 238.3 505.3 237.3 504.9 236.1 504.7 235.1 504.5 234.1 504.4 233.1 504.3 232.1 504.3 231.2 504.3 230.1 504.3 229.2 504.3 228.1 504.4 227.1 504.5 226.1 504.7 225.1 504.9 224.1 505.3 223.1 505.8 222.1 506.3 221.4 507.3 220.6 508.3 220.1 509.3 219.8 510.3 219.6 511.2 219.6 512.3 219.6 513.3 219.8 514.3 220 515.3 220.4 516.3 221 516.9 221.6 517.7 222.6 518.2 223.6 518.6 224.6 518.8 225.4 519 226.6 519.2 227.6 519.2 228.6 519.3 229.6 519.3 230.6 519.2 231.6 519.2 232.6 519.1 233.6 518.9 234.6 518.7 235.6 518.3 236.6 517.8 237.6 517.3 238.4 516.6 239.1 516 239.6 515 240.1 513.8 240.5 513.3 240.6ZM401.8 239.2 400.8 239.4 399.8 239.5 398.8 239.4 397.8 239.2 396.8 238.8 395.8 238.2 395.1 237.6 394.3 236.6 393.8 235.6 393.5 234.6 393.2 233.6 393.1 232.6 393 231.6 392.9 230.6 392.9 229.6 393 228.6 393.1 227.6 393.3 226.6 393.5 225.6 393.9 224.6 394.3 223.8 394.8 223.1 395.8 222.2 396.7 221.6 397.8 221.2 398.8 221 399.8 220.9 400.8 221 401.8 221.2 402.8 221.6 403.6 222.1 404.3 222.7 404.8 223.4 405.2 224.1 405.6 225.1 405.9 226.1 406.1 227.1 406.2 228.1 406.3 229.1 406.3 230.1 406.3 231.1 406.2 232.1 406.1 233.1 405.9 234.1 405.7 235.1 405.3 236.1 404.8 237 404.3 237.7 403.3 238.6 402.3 239.1 401.8 239.2ZM532.3 239.2 531.3 239.4 530.3 239.5 529.3 239.4 528.3 239.2 527.3 238.8 526.3 238.1 525.4 237.1 524.9 236.1 524.5 235.1 524.3 234.2 524.1 233.1 524 232.1 523.9 231.1 523.9 230.1 523.9 229.1 524 228.1 524.1 227.1 524.3 226.2 524.6 225.1 525 224.1 525.6 223.1 526.3 222.3 527.3 221.6 528.3 221.2 529.3 221 530.3 220.9 531.3 221 532.3 221.2 533.3 221.5 534.3 222.1 534.9 222.6 535.7 223.6 536.3 224.6 536.7 225.6 536.9 226.6 537.1 227.6 537.2 228.6 537.3 229.6 537.3 230.6 537.2 231.6 537.1 232.6 537 233.6 536.7 234.6 536.4 235.6 535.9 236.6 535.3 237.4 534.6 238.1 533.8 238.6 532.8 239.1 532.3 239.2ZM544.3 234.6 544 233.6 543.8 232.6 543.7 231.6 543.6 230.6 543.6 229.6 543.7 228.6 543.8 227.8 544.1 226.6 544.3 225.8M468.8 257.6 467.8 257.7 466.8 257.7 465.8 257.7 464.8 257.7 463.8 257.7 462.8 257.7 461.8 257.6 460.8 257.6 459.8 257.5 458.8 257.5 457.8 257.4 456.8 257.2 455.9 257.1 454.8 256.9 453.8 256.6 452.8 256.2 451.8 255.7 451 255.1 450.3 254.2 449.8 253.3 449.5 252.1 449.3 251.1 449.4 250.1 449.5 249.1 449.8 248.3 450.3 247.5 451.3 246.6 452.3 246.2 453.3 245.9 454.3 245.7 455.3 245.5 456.3 245.4 457.3 245.3 458.3 245.3 459.3 245.2 460.3 245.2 461.3 245.1 462.3 245.1 463.3 245.1 464.2 245.1 465.3 245.1 466.3 245.1 467.3 245.1 468.3 245.1 469.3 245.2 470.3 245.2 471.3 245.2 472.3 245.3 473.3 245.4 474.3 245.4 475.3 245.6 476.3 245.7 477.3 246 478.3 246.3 479.3 246.9 480 247.6 480.5 248.6 480.8 249.6 480.9 250.6 480.8 251.6 480.6 252.6 480.3 253.5 479.8 254.4 479.2 255.1 478.3 255.8 477.3 256.3 476.5 256.6 475.3 256.9 474.3 257.1 473.3 257.3 472.3 257.4 471.3 257.5 470.3 257.5 469.3 257.6 468.8 257.6ZM439.3 253.2 438.3 253.3 437.3 253.2 436.3 252.9 435.3 252.1 434.8 251.2 434.8 250.1 435.3 249.3 436.3 248.6 437.3 248.3 438.3 248.2 439.3 248.3 440.3 248.7 441.1 249.6 441.4 250.6 441.2 251.6 440.4 252.6 439.5 253.1 439.3 253.2ZM493.3 253.1 492.3 253.3 491.3 253.2 490.3 252.9 489.3 252.1 488.8 251.1 488.9 250.1 489.3 249.2 490.1 248.6 491.3 248.3 492.3 248.2 493.3 248.4 494.3 248.8 495.2 249.6 495.5 250.6 495.3 251.5 494.8 252.2 493.8 252.9 493.3 253.1ZM470.8 271.1 469.8 271.2 468.8 271.3 467.8 271.4 466.8 271.4 465.8 271.4 464.8 271.4 463.8 271.4 462.8 271.4 461.8 271.3 460.8 271.3 459.8 271.2 458.8 271.1 457.8 270.9 456.8 270.7 455.8 270.4 454.8 270.1 453.8 269.6 453 269.1 452.3 268.4 451.8 267.7 451.3 266.6 451.2 265.6 451.2 264.6 451.5 263.6 452.2 262.6 452.8 262 453.8 261.4 454.6 261.1 455.8 260.8 456.8 260.6 457.8 260.4 458.8 260.3 459.8 260.2 460.8 260.1 461.8 260.1 462.8 260 463.8 260 464.8 260 465.8 260 466.8 260 467.8 260.1 468.8 260.1 469.8 260.2 470.8 260.2 471.8 260.3 472.8 260.5 473.6 260.6 474.8 260.9 475.6 261.1 476.7 261.6 477.5 262.1 478.3 262.9 478.8 263.9 479 265.1 479 266.1 478.7 267.1 478.3 267.9 477.8 268.6 476.8 269.4 475.8 269.9 474.8 270.3 473.8 270.6 472.8 270.8 471.8 271 470.8 271.1ZM465.8 285.1 464.8 285.1 463.8 285.1 462.8 285 461.8 285 460.8 284.9 459.8 284.8 458.9 284.6 457.8 284.4 456.9 284.1 455.8 283.7 454.8 283.1 454.2 282.6 453.4 281.6 453 280.6 452.9 279.6 453.1 278.6 453.7 277.6 454.8 276.7 455.8 276.2 456.8 275.8 457.7 275.6 458.8 275.4 459.8 275.2 460.8 275.1 461.8 275 462.8 275 463.8 275 464.8 274.9 465.8 274.9 466.8 275 467.8 275 468.8 275.1 469.8 275.2 470.8 275.3 471.8 275.5 472.8 275.7 473.8 276 474.8 276.4 475.8 277 476.5 277.6 477.1 278.6 477.3 279.6 477.2 280.6 476.8 281.6 476.3 282.3 475.4 283.1 474.6 283.6 473.8 283.9 472.8 284.3 471.8 284.5 470.8 284.7 469.8 284.8 468.8 284.9 467.8 285 466.8 285.1 466 285.1 465.8 285.1Z"/><path stroke="#0000ac" d="M467.3 182.6 466.3 182.8 465.3 182.8 464.3 182.8 463.3 182.7 462.3 182.5 461.3 182.2 460.4 181.6 459.8 180.6 460.3 179.6 461 179.1 461.8 178.7 462.8 178.5 463.8 178.3 464.8 178.3 465.8 178.3 466.8 178.4 467.8 178.6 468.8 178.9 469.8 179.5 470.3 180.3 470.2 181.1 469.3 181.9 468.3 182.4 467.5 182.6 467.3 182.6ZM469.3 198.7 468.3 198.8 467.3 198.9 466.3 198.9 465.3 198.9 464.3 198.9 463.3 198.9 462.3 198.8 461.3 198.7 460.3 198.6 459.3 198.3 458.3 198 457.4 197.6 456.6 197.1 455.8 196.2 455.5 195.1 455.7 194.1 456.3 193.2 457 192.6 457.8 192.1 458.8 191.7 459.8 191.4 460.8 191.2 461.8 191 462.8 190.9 463.8 190.8 464.8 190.8 465.8 190.8 466.8 190.8 467.8 190.9 468.8 191.1 469.8 191.2 470.8 191.5 471.8 191.8 472.8 192.3 473.8 193.1 474.3 193.7 474.7 194.6 474.6 195.6 474.1 196.6 473.3 197.3 472.3 197.8 471.3 198.2 470.3 198.5 469.3 198.7ZM467.3 214.6 466.3 214.6 465.3 214.6 464.3 214.6 463.3 214.6 462.3 214.6 461.3 214.5 460.3 214.5 459.3 214.4 458.3 214.3 457.3 214.1 456.3 213.9 455.3 213.6 454.3 213.2 453.3 212.6 452.4 211.6 452 210.6 451.9 209.6 452.1 208.6 452.5 207.6 453.3 206.6 454.3 205.8 455.3 205.3 456.3 204.9 457.2 204.6 458.3 204.4 459.3 204.2 460.3 204.1 461.3 204 462.3 203.9 463.3 203.8 464.3 203.8 465.3 203.8 466.3 203.8 467.3 203.8 468.3 203.9 469.3 204 470.3 204.1 471.3 204.2 472.3 204.4 473.3 204.7 474.3 205 475.3 205.4 476.3 206.1 476.9 206.6 477.7 207.6 478.1 208.6 478.3 209.6 478.2 210.6 477.8 211.5 477.3 212.2 476.3 213 475.3 213.5 474.3 213.8 473.3 214 472.3 214.2 471.3 214.3 470.3 214.4 469.3 214.5 468.3 214.6 467.3 214.6ZM472.3 243.1 471.3 243.2 470.3 243.3 469.3 243.3 468.3 243.4 467.3 243.4 466.3 243.4 465.3 243.4 464.3 243.4 463.3 243.4 462.3 243.4 461.3 243.4 460.3 243.3 459.3 243.3 458.3 243.2 457.4 243.1 456.3 243 455.3 242.8 454.3 242.6 453.3 242.3 452.3 242 451.5 241.6 450.8 241.1 450.2 240.6 449.4 239.6 448.9 238.6 448.5 237.6 448.3 236.8 448.1 235.6 447.9 234.6 447.8 233.6 447.8 232.6 447.7 231.6 447.7 230.6 447.7 229.6 447.7 228.6 447.8 227.6 447.9 226.6 448 225.6 448.1 224.6 448.3 223.6 448.6 222.6 449 221.6 449.5 220.6 450.3 219.7 451 219.1 451.8 218.6 452.8 218.2 453.8 217.9 454.8 217.7 455.8 217.5 456.8 217.4 457.8 217.3 458.8 217.2 459.8 217.1 460.8 217.1 461.8 217 462.8 217 463.8 217 464.8 217 465.8 217 466.8 217 467.8 217 468.8 217 469.8 217.1 470.8 217.1 471.8 217.2 472.8 217.3 473.8 217.4 474.8 217.6 475.8 217.8 476.8 218 477.8 218.4 478.8 218.9 479.8 219.6 480.7 220.6 481.2 221.6 481.6 222.6 481.9 223.6 482.1 224.6 482.2 225.6 482.3 226.6 482.4 227.6 482.5 228.6 482.5 229.6 482.5 230.6 482.5 231.6 482.4 232.6 482.4 233.6 482.3 234.6 482.1 235.6 481.9 236.6 481.7 237.6 481.3 238.6 480.8 239.6 480.3 240.3 479.5 241.1 478.7 241.6 477.8 242 476.8 242.4 475.9 242.6 474.8 242.8 473.8 243 472.8 243.1 472.3 243.1ZM439.3 240.1 438.3 240.2 437.3 240.2 436.3 240 435.3 239.7 434.3 239.3 433.3 238.7 432.7 238.1 431.9 237.1 431.4 236.1 431 235.1 430.8 234.2 430.6 233.1 430.5 232.1 430.4 231.1 430.4 230.1 430.4 229.1 430.5 228.1 430.6 227.1 430.8 226.2 431.1 225.1 431.5 224.1 432.1 223.1 432.8 222.2 433.5 221.6 434.3 221.1 435.3 220.7 436.3 220.4 437.3 220.2 438.3 220.2 439.3 220.3 440.3 220.5 441.3 220.8 442.3 221.5 442.9 222.1 443.5 223.1 443.9 224.1 444.2 225.1 444.4 226.1 444.5 227.1 444.6 228.1 444.6 229.1 444.6 230.1 444.6 231.1 444.6 232.1 444.5 233.1 444.4 234.1 444.2 235.1 444 236.1 443.6 237.1 443 238.1 442.3 238.9 441.3 239.6 440.3 239.9 439.3 240.1ZM493.3 240.1 492.3 240.2 491.3 240.2 490.3 240 489.3 239.7 488.3 239.2 487.6 238.6 486.9 237.6 486.4 236.6 486.1 235.6 485.9 234.6 485.7 233.6 485.7 232.6 485.6 231.6 485.6 230.6 485.6 229.6 485.6 228.6 485.7 227.6 485.8 226.6 485.9 225.6 486.2 224.6 486.5 223.6 487 222.6 487.8 221.6 488.4 221.1 489.3 220.7 490.3 220.4 491.3 220.2 492.3 220.2 493.3 220.3 494.3 220.5 495.3 220.8 496.3 221.3 497.3 222.1 498.1 223.1 498.7 224.1 499.1 225.1 499.4 226.1 499.6 227.1 499.7 228.1 499.8 229.1 499.8 230.1 499.8 230.9 499.7 232.1 499.6 233.1 499.4 234.1 499.2 235.1 498.8 236.1 498.3 237.1 497.8 237.8 497 238.6 496.3 239.1 495.3 239.6 494.3 239.9 493.4 240.1 493.3 240.1ZM420.8 237.1 419.8 237.4 418.8 237.5 417.8 237.4 416.9 237.1 416 236.6 415.3 236.1 414.5 235.1 414 234.1 413.7 233.1 413.4 232.1 413.3 231.1 413.3 230.1 413.3 229.1 413.5 228.1 413.7 227.1 414.1 226.1 414.7 225.1 415.3 224.3 416.3 223.6 417.3 223.1 418.3 222.9 419.3 222.9 420.3 223.1 421.3 223.6 422 224.1 422.8 225 423.3 226 423.7 227.1 423.9 228.1 424 229.1 424 230.1 424 231.1 423.9 232.1 423.7 233.1 423.4 234.1 422.9 235.1 422.3 236 421.7 236.6 420.8 237.1 420.8 237.1ZM513.3 237.1 512.3 237.4 511.3 237.5 510.3 237.4 509.4 237.1 508.5 236.6 507.8 235.9 507.3 235.2 506.8 234.1 506.5 233.1 506.3 232.1 506.2 231.1 506.2 230.1 506.2 229.1 506.3 228.1 506.6 227.1 506.8 226.3 507.3 225.2 507.8 224.5 508.8 223.6 509.8 223.1 510.8 222.9 511.8 222.9 512.8 223.1 513.8 223.5 514.6 224.1 515.3 224.8 515.8 225.5 516.3 226.5 516.6 227.6 516.8 228.5 516.9 229.6 516.9 230.6 516.8 231.6 516.7 232.6 516.4 233.6 516 234.6 515.3 235.6 514.3 236.6 513.3 237.1 513.3 237.1ZM400.3 234.2 399.3 234.1 398.3 233.7 397.7 233.1 397.1 232.1 396.9 231.1 396.8 230.1 396.9 229.1 397.2 228.1 397.8 227.2 398.5 226.6 399.3 226.3 400.3 226.2 401.2 226.6 401.8 227.1 402.3 227.9 402.7 229.1 402.8 230.1 402.7 231.1 402.5 232.1 401.9 233.1 401.3 233.7 400.5 234.1 400.3 234.2ZM530.8 234.2 529.8 234.1 528.8 233.7 527.9 232.6 527.6 231.6 527.4 230.6 527.4 229.6 527.6 228.6 528.1 227.6 528.8 226.7 529.8 226.3 530.8 226.2 531.7 226.6 532.7 227.6 533.2 228.6 533.4 229.6 533.4 230.6 533.2 231.6 532.8 232.6 532.3 233.3 531.3 234 530.8 234.2ZM465.3 256.6 464.3 256.6 463.3 256.6 462.3 256.5 461.3 256.4 460.3 256.3 459.3 256.2 458.3 256 457.3 255.8 456.5 255.6 455.3 255.1 454.3 254.6 453.6 254.1 452.8 253.2 452.3 252.3 452 251.1 452 250.1 452.3 249.1 452.8 248.3 453.6 247.6 454.3 247.2 455.3 246.8 456.3 246.5 457.3 246.3 458.3 246.1 459.3 246 460.3 245.9 461.3 245.9 462.3 245.8 463.3 245.8 464.3 245.8 465.3 245.8 466.3 245.8 467.3 245.8 468.3 245.8 469.3 245.9 470.3 246 471.3 246.1 472.3 246.2 473.3 246.4 474.3 246.6 475.3 246.9 476.3 247.4 477.2 248.1 477.8 248.9 478.2 250.1 478.2 251.1 478 252.1 477.5 253.1 476.8 253.9 475.9 254.6 475 255.1 473.8 255.6 472.8 255.8 471.8 256.1 470.8 256.2 469.8 256.4 468.8 256.5 467.8 256.5 466.8 256.6 465.8 256.6 465.3 256.6ZM465.8 269.6 464.8 269.6 463.8 269.6 462.8 269.5 461.8 269.4 460.8 269.2 459.8 269 458.8 268.7 457.8 268.3 456.8 267.7 456.2 267.1 455.6 266.1 455.5 265.1 455.8 264.3 456.3 263.6 457.3 262.8 458.3 262.4 459.2 262.1 460.3 261.9 461.3 261.7 462.3 261.6 463.3 261.5 464.3 261.5 465.3 261.5 466.3 261.5 467.3 261.5 468.2 261.6 469.3 261.7 470.3 261.9 471.3 262.2 472.3 262.5 473.3 263.1 473.9 263.6 474.6 264.6 474.7 265.6 474.4 266.6 473.8 267.3 472.8 268.1 471.8 268.6 470.8 268.9 469.8 269.2 468.8 269.3 467.8 269.5 466.8 269.6 465.8 269.6ZM466.3 282.1 465.3 282.2 464.3 282.1 463.3 282 462.3 281.8 461.3 281.5 460.3 280.8 459.9 280.1 460.1 279.1 460.8 278.5 461.6 278.1 462.8 277.8 463.8 277.6 464.8 277.6 465.8 277.6 466.8 277.7 467.8 277.9 468.8 278.2 469.6 278.6 470.3 279.5 470.1 280.6 469.3 281.2 468.6 281.6 467.8 281.8 466.8 282 466.3 282.1Z"/><path stroke="#0000d8" d="M465.8 196.6 464.8 196.7 463.8 196.6 462.8 196.3 461.8 195.8 461.3 195.1 461.8 194.2 462.8 193.7 463.8 193.5 464.8 193.4 465.8 193.4 466.8 193.5 467.8 193.9 468.8 194.6 468.7 195.6 468 196.1 466.8 196.5 465.8 196.6ZM469.3 213.6 468.3 213.7 467.3 213.8 466.3 213.9 465.3 213.9 464.3 213.9 463.3 213.8 462.3 213.8 461.3 213.7 460.5 213.6 459.3 213.4 458.3 213.2 457.3 212.9 456.3 212.4 455.3 211.7 454.8 211 454.5 210.1 454.6 209.1 455 208.1 455.8 207.2 456.6 206.6 457.6 206.1 458.8 205.7 459.8 205.4 460.8 205.2 461.8 205.1 462.8 205 463.8 204.9 464.8 204.9 465.8 204.9 466.8 205 467.8 205 468.8 205.2 469.8 205.3 470.8 205.5 471.8 205.8 472.6 206.1 473.3 206.5 474.3 207.1 475.2 208.1 475.6 209.1 475.7 210.1 475.3 211.1 474.8 211.8 473.8 212.5 472.8 212.9 471.8 213.2 470.8 213.4 469.8 213.6 469.3 213.6ZM471.3 242.7 470.3 242.7 469.3 242.8 468.3 242.9 467.3 242.9 466.3 242.9 465.3 242.9 464.3 242.9 463.3 242.9 462.3 242.9 461.3 242.8 460.3 242.8 459.3 242.7 458.4 242.6 457.3 242.4 456.3 242.3 455.5 242.1 454.3 241.8 453.3 241.4 452.3 240.9 451.3 240.2 450.3 239.1 449.8 238.2 449.3 237.1 449 236.1 448.8 235.3 448.6 234.1 448.5 233.1 448.4 232.1 448.4 231.1 448.3 230.1 448.4 229.1 448.4 228.1 448.5 227.1 448.6 226.1 448.8 225.1 449 224.1 449.3 223.3 449.8 222.2 450.3 221.3 450.9 220.6 451.8 219.8 452.8 219.2 453.8 218.8 454.8 218.5 455.8 218.2 456.8 218 457.8 217.9 458.8 217.8 459.8 217.7 460.7 217.6 461.8 217.5 462.8 217.5 463.8 217.5 464.8 217.5 465.8 217.5 466.8 217.5 467.8 217.5 468.8 217.6 469.8 217.6 470.8 217.7 471.8 217.8 472.8 217.9 473.8 218.1 474.8 218.3 475.8 218.6 476.8 219 477.8 219.5 478.7 220.1 479.7 221.1 480.3 222 480.8 223 481.2 224.1 481.4 225.1 481.6 226.1 481.7 227.1 481.8 228.1 481.8 229.1 481.9 230.1 481.8 231.1 481.8 232 481.7 233.1 481.6 234.1 481.4 235.1 481.2 236.1 480.9 237.1 480.5 238.1 479.9 239.1 479.3 239.8 478.3 240.6 477.5 241.1 476.4 241.6 475.3 241.9 474.3 242.2 473.3 242.4 472.3 242.5 471.3 242.7ZM439.3 238.2 438.3 238.3 437.3 238.2 436.3 238 435.4 237.6 434.6 237.1 433.8 236.3 433.3 235.7 432.8 234.8 432.3 233.6 432.1 232.6 431.9 231.6 431.9 230.6 431.9 229.6 432 228.6 432.1 227.6 432.4 226.6 432.8 225.6 433.3 224.7 433.8 224 434.8 223.2 435.8 222.6 436.8 222.3 437.8 222.1 438.8 222.2 439.8 222.4 440.8 222.8 441.8 223.6 442.3 224.2 442.8 225.1 443.1 226.1 443.4 227.1 443.5 228.1 443.6 229.1 443.6 230.1 443.6 231.1 443.5 232.1 443.4 233.1 443.2 234.1 442.8 235.1 442.3 236.1 441.8 236.8 440.8 237.6 439.8 238 439.3 238.2ZM493.3 238.1 492.3 238.3 491.3 238.2 490.3 238 489.4 237.6 488.7 237.1 487.9 236.1 487.4 235.1 487 234.1 486.8 233.1 486.7 232.1 486.6 231.1 486.6 230.1 486.6 229.1 486.7 228.1 486.8 227.1 487.1 226.1 487.4 225.1 488 224.1 488.8 223.2 489.8 222.6 490.8 222.3 491.8 222.1 492.8 222.2 493.8 222.4 494.8 222.8 495.8 223.5 496.4 224.1 497.2 225.1 497.6 226.1 498 227.1 498.2 228.1 498.3 229.1 498.3 230.1 498.3 231.1 498.2 232.1 498 233.1 497.7 234.1 497.3 235 496.8 235.8 496.2 236.6 495.3 237.3 494.3 237.8 493.4 238.1 493.3 238.1ZM419.8 232.8 418.8 233.1 417.8 232.7 417.2 232.1 416.8 231.2 416.7 230.1 416.8 229.2 417.3 228.2 417.9 227.6 418.8 227.3 419.8 227.6 420.7 228.6 421 229.6 421 230.6 420.8 231.5 420.3 232.4 419.8 232.8ZM512.3 232.8 511.3 233.1 510.3 232.7 509.7 232.1 509.3 231.1 509.2 230.1 509.3 229.3 509.8 228.2 510.4 227.6 511.3 227.3 512.3 227.6 513.2 228.6 513.5 229.6 513.5 230.6 513.3 231.5 512.8 232.3 512.3 232.8ZM469.3 255.2 468.3 255.3 467.3 255.4 466.3 255.5 465.3 255.5 464.3 255.5 463.3 255.4 462.3 255.3 461.3 255.2 460.5 255.1 459.3 254.8 458.5 254.6 457.3 254.1 456.3 253.6 455.7 253.1 454.9 252.1 454.5 251.1 454.5 250.1 455 249.1 455.8 248.3 456.8 247.7 457.8 247.4 458.8 247.1 459.8 246.9 460.8 246.8 461.8 246.7 462.6 246.6 463.8 246.5 464.8 246.5 465.8 246.5 466.8 246.6 467.8 246.6 468.8 246.7 469.8 246.8 470.8 247 471.8 247.2 472.8 247.5 473.8 247.9 474.8 248.6 475.3 249.3 475.7 250.1 475.7 251.1 475.3 252.1 474.8 252.8 473.9 253.6 473 254.1 471.8 254.6 470.8 254.9 469.8 255.1 469.3 255.2ZM467.3 266.7 466.3 266.9 465.3 267 464.3 267 463.3 266.8 462.5 266.6 461.8 266.2 461.4 265.1 462.3 264.3 463.3 263.9 464.3 263.8 465.3 263.8 466.3 263.8 467.3 264 468.3 264.5 468.8 265.1 468.5 266.1 467.8 266.5 467.3 266.7Z"/><path stroke="#0006ff" d="M468.8 212.6 467.8 212.8 466.8 212.9 465.8 212.9 464.8 212.9 463.8 212.9 462.8 212.8 461.8 212.7 460.8 212.5 459.8 212.2 458.8 211.8 457.8 211.1 457.3 210.2 457.4 209.1 457.8 208.4 458.7 207.6 459.7 207.1 460.8 206.7 461.8 206.5 462.8 206.3 463.8 206.2 464.8 206.2 465.8 206.2 466.8 206.3 467.8 206.4 468.8 206.6 469.8 206.8 470.8 207.2 471.8 207.8 472.6 208.6 473 209.6 472.8 210.4 472.3 211.2 471.3 211.8 470.3 212.2 469.3 212.5 468.8 212.6ZM470.8 242.2 469.8 242.3 468.8 242.4 467.8 242.4 466.8 242.4 465.8 242.5 464.8 242.5 463.8 242.5 462.8 242.4 461.8 242.4 460.8 242.3 459.8 242.2 458.9 242.1 457.8 241.9 456.8 241.7 455.8 241.5 454.8 241.2 453.8 240.7 452.8 240.2 452 239.6 451.3 238.9 450.8 238.2 450.3 237.3 449.8 236.1 449.5 235.1 449.3 234.2 449.1 233.1 449 232.1 449 231.1 449 230.1 449 229.1 449.1 228.1 449.2 227.1 449.3 226.2 449.6 225.1 449.8 224.3 450.3 223.1 450.8 222.2 451.3 221.5 452.3 220.6 453 220.1 453.8 219.7 454.8 219.2 455.8 218.9 456.8 218.7 457.8 218.5 458.8 218.3 459.8 218.2 460.8 218.1 461.8 218 462.8 218 463.8 217.9 464.8 217.9 465.8 217.9 466.8 218 467.8 218 468.8 218.1 469.8 218.1 470.8 218.2 471.8 218.4 472.8 218.5 473.8 218.8 474.8 219 475.8 219.4 476.8 219.9 477.8 220.5 478.5 221.1 479.3 222.1 479.8 222.9 480.1 223.6 480.5 224.6 480.8 225.6 481 226.6 481.1 227.6 481.2 228.6 481.2 229.6 481.2 230.6 481.2 231.6 481.1 232.6 481 233.6 480.8 234.6 480.6 235.6 480.3 236.4 479.8 237.5 479.3 238.3 478.8 239 478.2 239.6 477.5 240.1 476.8 240.5 475.8 241 474.8 241.4 473.9 241.6 472.8 241.9 471.8 242 470.8 242.2ZM438.8 236.1 437.8 236.2 436.8 235.9 435.8 235.4 434.9 234.6 434.3 233.6 433.9 232.6 433.6 231.6 433.5 230.6 433.5 229.6 433.7 228.6 433.9 227.6 434.3 226.8 434.8 226 435.7 225.1 436.5 224.6 437.3 224.3 438.3 224.2 439.3 224.4 440.3 224.9 441.1 225.6 441.7 226.6 442.1 227.6 442.3 228.6 442.4 229.6 442.4 230.6 442.3 231.6 442.1 232.6 441.8 233.6 441.3 234.5 440.3 235.5 439.3 236 438.8 236.1ZM492.3 236.2 491.3 236.1 490.3 235.8 489.4 235.1 488.8 234.3 488.4 233.6 488.1 232.6 487.9 231.6 487.8 230.6 487.8 229.6 487.9 228.6 488.1 227.6 488.5 226.6 489.1 225.6 489.8 224.9 490.8 224.4 491.8 224.2 492.8 224.3 493.7 224.6 494.5 225.1 495.3 225.9 495.8 226.6 496.3 227.6 496.5 228.6 496.7 229.6 496.7 230.6 496.6 231.6 496.3 232.6 495.9 233.6 495.3 234.5 494.3 235.5 493.3 236 492.3 236.2ZM466.8 254.1 465.8 254.2 464.8 254.2 463.8 254.2 462.9 254.1 461.8 253.9 460.8 253.7 459.8 253.3 458.8 252.8 457.9 252.1 457.3 251.1 457.3 250.3 457.8 249.4 458.8 248.6 459.8 248.2 460.8 247.9 461.8 247.7 462.6 247.6 463.8 247.5 464.8 247.5 465.8 247.5 466.8 247.5 467.8 247.6 468.8 247.8 469.8 248 470.8 248.3 471.8 248.9 472.6 249.6 473 250.6 472.7 251.6 471.8 252.6 471 253.1 469.8 253.6 468.8 253.8 467.8 254 466.8 254.1Z"/><path stroke="#0032ff" d="M467.8 211.1 466.8 211.4 465.8 211.5 464.8 211.5 463.8 211.4 462.8 211.2 461.8 210.8 461 210.1 461.2 209.1 461.8 208.6 462.8 208.2 463.8 208 464.8 207.9 465.8 207.9 466.8 208 467.8 208.3 468.8 208.9 469.3 209.6 468.8 210.6 467.9 211.1 467.8 211.1ZM470.8 241.6 469.8 241.8 468.8 241.9 467.8 241.9 466.8 242 465.8 242 464.8 242 463.8 242 462.8 242 461.8 241.9 460.8 241.8 459.8 241.7 458.8 241.5 457.8 241.4 456.8 241.1 455.8 240.8 454.8 240.4 453.8 239.9 452.8 239.2 452.2 238.6 451.4 237.6 450.8 236.6 450.4 235.6 450.1 234.6 449.9 233.6 449.7 232.6 449.6 231.6 449.6 230.6 449.6 229.6 449.6 228.6 449.7 227.6 449.9 226.6 450.1 225.6 450.4 224.6 450.8 223.8 451.3 222.9 451.8 222.2 452.4 221.6 453.3 220.8 454.3 220.2 455.3 219.8 456.3 219.4 457.3 219.2 458.3 218.9 459.3 218.8 460.3 218.6 461.3 218.5 462.3 218.5 463.3 218.4 464.3 218.4 465.3 218.4 466.3 218.4 467.3 218.4 468.3 218.5 469.3 218.6 470.3 218.7 471.3 218.8 472.3 219 473.3 219.3 474.3 219.6 475.3 219.9 476.3 220.4 477.3 221.1 478.3 222.1 478.8 222.7 479.3 223.6 479.8 224.6 480.1 225.6 480.3 226.6 480.5 227.6 480.6 228.6 480.6 229.6 480.6 230.6 480.6 231.6 480.5 232.6 480.3 233.6 480.1 234.6 479.8 235.6 479.4 236.6 478.8 237.6 478.3 238.3 477.5 239.1 476.9 239.6 476 240.1 475.3 240.5 474.3 240.8 473.5 241.1 472.3 241.4 471.3 241.6 470.8 241.6ZM438.8 233.3 437.8 233.3 436.8 232.8 436.2 232.1 435.8 231.1 435.7 230.1 435.9 229.1 436.3 228.2 437.3 227.2 438.3 227 439.3 227.4 440 228.1 440.4 229.1 440.5 230.1 440.4 231.1 440.1 232.1 439.3 233 438.8 233.3ZM492.8 233.2 491.8 233.4 491 233.1 490.3 232.4 489.9 231.6 489.7 230.6 489.7 229.6 490 228.6 490.6 227.6 491.3 227.2 492.3 227 493.3 227.5 493.8 228.1 494.3 229.1 494.5 230.1 494.4 231.1 494 232.1 493.3 232.9 492.8 233.2ZM467.3 252.2 466.3 252.4 465.3 252.5 464.3 252.5 463.3 252.3 462.4 252.1 461.5 251.6 460.9 250.6 461.7 249.6 462.8 249.2 463.8 249 464.8 248.9 465.8 248.9 466.8 249 467.8 249.3 468.8 249.8 469.3 250.6 468.8 251.5 467.8 252.1 467.3 252.2Z"/><path stroke="#005eff" d="M470.8 241.1 469.8 241.3 468.8 241.4 467.8 241.5 466.8 241.5 465.8 241.6 464.8 241.6 463.8 241.6 462.8 241.5 461.8 241.4 460.8 241.3 459.8 241.2 458.8 241 457.8 240.8 456.8 240.5 455.8 240.2 454.8 239.7 453.8 239.1 453.2 238.6 452.3 237.7 451.8 237 451.3 236.1 450.9 235.1 450.6 234.1 450.4 233.1 450.2 232.1 450.2 231.1 450.1 230.1 450.2 229.1 450.3 228.1 450.4 227.1 450.7 226.1 451 225.1 451.3 224.3 451.7 223.6 452.3 222.7 452.9 222.1 453.8 221.3 454.8 220.7 455.8 220.2 456.8 219.9 457.8 219.6 458.8 219.4 459.8 219.2 460.8 219.1 461.8 219 462.8 218.9 463.8 218.8 464.8 218.8 465.8 218.8 466.8 218.9 467.8 218.9 468.8 219 469.7 219.1 470.8 219.3 471.8 219.5 472.8 219.7 473.8 220 474.8 220.4 475.8 220.9 476.8 221.6 477.8 222.6 478.3 223.3 478.8 224.1 479.2 225.1 479.5 226.1 479.8 227.1 479.9 228.1 480 229.1 480.1 230.1 480 231.1 480 232.1 479.8 233.1 479.6 234.1 479.3 235.1 478.9 236.1 478.3 237.1 477.8 237.8 477 238.6 476.4 239.1 475.6 239.6 474.8 240 473.8 240.4 472.8 240.7 471.8 240.9 471 241.1 470.8 241.1Z"/><path stroke="#008bff" d="M466.3 241.1 465.3 241.1 464.3 241.1 463.4 241.1 462.3 241 461.3 240.9 460.3 240.8 459.3 240.6 458.3 240.4 457.3 240.1 456.3 239.7 455.3 239.3 454.3 238.6 453.7 238.1 452.8 237.2 452.3 236.5 451.8 235.6 451.4 234.6 451.1 233.6 450.9 232.6 450.8 231.8 450.7 230.6 450.7 229.6 450.8 228.6 450.9 227.6 451.2 226.6 451.5 225.6 451.8 224.8 452.2 224.1 452.8 223.2 453.3 222.6 454.3 221.8 455.3 221.1 456.3 220.7 457.3 220.3 458.3 220 459.3 219.8 460.3 219.6 461.3 219.5 462.3 219.4 463.3 219.3 464.3 219.3 465.3 219.3 466.3 219.3 467.3 219.3 468.3 219.4 469.3 219.5 470.3 219.7 471.3 219.9 472.2 220.1 473.3 220.4 474.3 220.8 475.3 221.4 476.3 222.1 477.3 223.1 477.8 223.8 478.3 224.6 478.7 225.6 479 226.6 479.3 227.6 479.4 228.6 479.5 229.6 479.5 230.6 479.4 231.6 479.3 232.6 479.1 233.6 478.8 234.6 478.4 235.6 477.8 236.6 477.3 237.3 476.5 238.1 475.8 238.7 474.8 239.3 473.8 239.8 472.9 240.1 471.8 240.4 471 240.6 469.8 240.8 468.8 240.9 467.8 241 466.8 241.1 466.3 241.1Z"/><path stroke="#00b7ff" d="M467.3 240.6 466.3 240.7 465.3 240.7 464.3 240.7 463.3 240.7 462.4 240.6 461.3 240.5 460.3 240.3 459.3 240.1 458.3 239.9 457.5 239.6 456.3 239.1 455.4 238.6 454.6 238.1 453.8 237.4 453.2 236.6 452.5 235.6 452 234.6 451.7 233.6 451.5 232.6 451.3 231.6 451.3 230.6 451.3 229.6 451.4 228.6 451.5 227.6 451.8 226.6 452.1 225.6 452.6 224.6 453.3 223.6 454.3 222.6 454.9 222.1 455.7 221.6 456.7 221.1 457.8 220.7 458.8 220.4 459.8 220.2 460.8 220 461.8 219.9 462.8 219.8 463.8 219.7 464.8 219.7 465.8 219.7 466.8 219.7 467.8 219.8 468.8 219.9 469.8 220.1 470.8 220.3 471.8 220.5 472.8 220.8 473.8 221.2 474.8 221.8 475.8 222.5 476.5 223.1 477.3 224.1 477.8 225 478.3 226.1 478.6 227.1 478.8 228.1 478.9 229.1 478.9 230.1 478.9 231.1 478.8 232 478.6 233.1 478.3 234.1 477.9 235.1 477.4 236.1 476.8 236.9 476.2 237.6 475.3 238.3 474.3 238.9 473.3 239.4 472.3 239.7 471.3 240 470.3 240.3 469.3 240.4 468.3 240.5 467.3 240.6Z"/><path stroke="#00e3ff" d="M468.3 240.1 467.3 240.2 466.3 240.3 465.3 240.3 464.3 240.3 463.3 240.2 462.3 240.2 461.3 240 460.3 239.9 459.3 239.6 458.3 239.3 457.3 239 456.5 238.6 455.8 238.2 455 237.6 454.3 237 453.5 236.1 452.9 235.1 452.5 234.1 452.2 233.1 452 232.1 451.9 231.1 451.8 230.1 451.9 229.1 452 228.1 452.2 227.1 452.6 226.1 453 225.1 453.7 224.1 454.3 223.4 455.2 222.6 456 222.1 456.8 221.7 457.8 221.2 458.8 220.9 459.8 220.6 460.8 220.5 461.8 220.3 462.8 220.2 463.8 220.1 464.8 220.1 465.8 220.1 466.8 220.2 467.8 220.2 468.8 220.4 469.8 220.5 470.8 220.7 471.8 221 472.8 221.4 473.8 221.9 474.8 222.5 475.6 223.1 476.3 223.8 476.8 224.5 477.3 225.4 477.6 226.1 478 227.1 478.2 228.1 478.3 228.9 478.4 230.1 478.3 231.1 478.2 232.1 478 233.1 477.7 234.1 477.3 235 476.8 235.9 476.3 236.6 475.3 237.5 474.5 238.1 473.8 238.5 472.8 239 471.8 239.4 471 239.6 469.8 239.9 468.8 240 468.3 240.1Z"/><path stroke="#11ffee" d="M468.3 239.7 467.3 239.8 466.3 239.8 465.3 239.9 464.3 239.9 463.3 239.8 462.3 239.7 461.4 239.6 460.3 239.4 459.3 239.1 458.3 238.8 457.3 238.4 456.3 237.9 455.3 237.1 454.3 236.1 453.8 235.4 453.3 234.6 452.9 233.6 452.6 232.6 452.5 231.6 452.4 230.6 452.4 229.6 452.5 228.6 452.7 227.6 453 226.6 453.4 225.6 454.1 224.6 454.8 223.7 455.5 223.1 456.2 222.6 457.1 222.1 458.3 221.6 459.3 221.3 460.3 221 461.3 220.8 462.3 220.7 463.2 220.6 464.3 220.5 465.3 220.5 466.3 220.6 467.3 220.6 468.3 220.7 469.3 220.9 470.3 221.1 471.3 221.4 472.3 221.7 473.1 222.1 474 222.6 474.7 223.1 475.3 223.6 476.1 224.6 476.8 225.6 477.2 226.6 477.5 227.6 477.7 228.6 477.8 229.5 477.8 230.6 477.7 231.6 477.6 232.6 477.3 233.5 476.9 234.6 476.3 235.6 475.8 236.2 474.9 237.1 474.3 237.6 473.5 238.1 472.5 238.6 471.3 239 470.3 239.3 469.3 239.5 468.3 239.7Z"/><path stroke="#3dffc2" d="M468.8 239.2 467.8 239.3 466.8 239.4 465.8 239.4 464.8 239.5 463.8 239.4 462.8 239.3 461.8 239.2 460.8 239 459.8 238.8 458.8 238.5 457.9 238.1 456.9 237.6 456.2 237.1 455.3 236.4 454.6 235.6 454 234.6 453.5 233.6 453.2 232.6 453 231.6 452.9 230.6 452.9 229.6 453.1 228.6 453.3 227.6 453.6 226.6 454.1 225.6 454.8 224.6 455.8 223.6 456.4 223.1 457.3 222.6 458.3 222.1 459.3 221.8 460.3 221.5 461.3 221.3 462.3 221.1 463.3 221 464.3 221 465.3 220.9 466.3 221 467.3 221 468.3 221.2 469.3 221.3 470.3 221.6 471.3 221.9 472.3 222.3 473.3 222.8 474.3 223.5 475 224.1 475.8 225.1 476.3 226 476.8 227.1 477.1 228.1 477.2 229.1 477.3 230.1 477.2 231.1 477.1 232.1 476.8 233.1 476.5 234.1 475.9 235.1 475.3 235.9 474.6 236.6 473.8 237.3 472.8 237.9 471.8 238.3 471 238.6 469.8 238.9 468.8 239.2Z"/><path stroke="#69ff96" d="M468.8 238.7 467.8 238.9 466.8 239 465.8 239 464.8 239 463.8 239 462.8 238.9 461.8 238.8 460.9 238.6 459.8 238.3 458.8 238 458 237.6 457.3 237.2 456.4 236.6 455.8 236.1 455 235.1 454.4 234.1 454 233.1 453.7 232.1 453.5 231.1 453.5 230.1 453.5 229.1 453.7 228.1 454 227.1 454.5 226.1 455.1 225.1 455.8 224.3 456.7 223.6 457.4 223.1 458.3 222.7 459.3 222.3 460.3 221.9 461.3 221.7 462.3 221.5 463.3 221.4 464.3 221.4 465.3 221.4 466.3 221.4 467.3 221.5 468.2 221.6 469.3 221.8 470.3 222.1 471.3 222.4 472.3 222.9 473.3 223.4 474.1 224.1 474.8 224.8 475.3 225.4 475.7 226.1 476.2 227.1 476.5 228.1 476.7 229.1 476.7 230.1 476.7 231.1 476.5 232.1 476.3 232.9 475.8 234.1 475.3 235 474.8 235.6 473.8 236.6 473.1 237.1 472.3 237.5 471.3 238 470.3 238.3 469.3 238.6 468.8 238.7Z"/><path stroke="#96ff69" d="M465.8 238.6 464.8 238.6 463.8 238.6 462.8 238.5 461.8 238.3 460.8 238.1 459.8 237.8 458.8 237.4 457.8 236.9 456.8 236.2 456.1 235.6 455.3 234.6 454.8 233.7 454.4 232.6 454.1 231.6 454 230.6 454.1 229.6 454.2 228.6 454.4 227.6 454.8 226.7 455.3 225.8 455.8 225.2 456.8 224.2 457.6 223.6 458.5 223.1 459.3 222.8 460.3 222.4 461.3 222.2 462.3 222 463.3 221.9 464.3 221.8 465.3 221.8 466.3 221.8 467.3 221.9 468.3 222.1 469.3 222.3 470.3 222.6 471.3 222.9 472.3 223.4 473.3 224.1 474.3 225 474.8 225.7 475.3 226.5 475.8 227.6 476 228.6 476.1 229.6 476.2 230.6 476.1 231.6 475.8 232.6 475.4 233.6 474.9 234.6 474.3 235.3 473.5 236.1 472.9 236.6 472.1 237.1 471.3 237.5 470.3 237.8 469.4 238.1 468.3 238.3 467.3 238.5 466.3 238.6 465.8 238.6Z"/><path stroke="#c2ff3d" d="M466.8 238.1 465.8 238.2 464.8 238.2 463.8 238.1 462.8 238 461.8 237.9 460.8 237.6 459.8 237.3 458.8 236.9 457.8 236.3 456.9 235.6 456.3 235 455.8 234.3 455.4 233.6 455 232.6 454.7 231.6 454.6 230.6 454.6 229.6 454.8 228.6 455 227.6 455.5 226.6 456.2 225.6 456.8 224.9 457.8 224.1 458.7 223.6 459.8 223.1 460.8 222.8 461.8 222.5 462.8 222.4 463.8 222.3 464.8 222.2 465.8 222.2 466.8 222.3 467.8 222.4 468.7 222.6 469.8 222.9 470.8 223.3 471.5 223.6 472.3 224 473 224.6 473.8 225.3 474.3 226 474.8 226.8 475.2 227.6 475.4 228.6 475.6 229.6 475.6 230.6 475.5 231.6 475.2 232.6 474.8 233.6 474.3 234.4 473.8 235.1 472.8 236 471.9 236.6 470.9 237.1 469.8 237.5 468.8 237.8 467.8 238 466.9 238.1 466.8 238.1Z"/><path stroke="#eeff11" d="M467.3 237.6 466.3 237.7 465.3 237.8 464.3 237.7 463.3 237.7 462.3 237.5 461.3 237.3 460.3 237 459.4 236.6 458.5 236.1 457.8 235.6 457.2 235.1 456.4 234.1 455.8 233.1 455.4 232.1 455.2 231.1 455.2 230.1 455.2 229.1 455.5 228.1 455.8 227.3 456.3 226.4 456.8 225.7 457.4 225.1 458.3 224.4 459.3 223.8 460.3 223.4 461.3 223.1 462.3 222.9 463.3 222.7 464.3 222.7 465.3 222.6 466.3 222.7 467.3 222.8 468.3 223 469.3 223.2 470.3 223.6 471.3 224.1 472.2 224.6 472.8 225.1 473.7 226.1 474.3 227.1 474.7 228.1 475 229.1 475 230.1 475 231.1 474.8 232 474.4 233.1 473.8 234.1 473.3 234.8 472.4 235.6 471.7 236.1 470.8 236.6 469.8 237 468.8 237.3 467.8 237.5 467.3 237.6Z"/><path stroke="#ffe300" d="M467.3 237.1 466.3 237.3 465.3 237.3 464.3 237.3 463.3 237.2 462.3 237 461.3 236.8 460.3 236.4 459.5 236.1 458.8 235.7 458 235.1 457.3 234.4 456.8 233.7 456.3 232.8 455.9 231.6 455.8 230.6 455.8 229.6 455.9 228.6 456.3 227.6 456.8 226.7 457.3 226 458.3 225.1 459 224.6 459.8 224.2 460.8 223.8 461.8 223.5 462.8 223.3 463.8 223.1 464.8 223.1 465.7 223.1 466.8 223.2 467.8 223.3 468.8 223.6 469.8 223.9 470.8 224.4 471.8 225 472.5 225.6 473.3 226.5 473.8 227.4 474.3 228.6 474.4 229.6 474.4 230.6 474.3 231.6 474 232.6 473.5 233.6 472.8 234.5 472.2 235.1 471.5 235.6 470.8 236 469.8 236.5 468.8 236.8 467.8 237.1 467.3 237.1Z"/><path stroke="#ffb700" d="M467.3 236.7 466.3 236.8 465.3 236.9 464.3 236.8 463.3 236.7 462.3 236.6 461.3 236.3 460.3 235.9 459.3 235.4 458.3 234.6 457.4 233.6 456.9 232.6 456.5 231.6 456.4 230.6 456.4 229.6 456.6 228.6 457 227.6 457.6 226.6 458.3 225.8 459.2 225.1 460.1 224.6 461.3 224.1 462.3 223.8 463.3 223.7 464.3 223.6 465.3 223.5 466.3 223.6 467.3 223.7 468.3 223.9 469.3 224.3 470.1 224.6 471 225.1 471.7 225.6 472.3 226.2 472.8 226.8 473.3 227.6 473.6 228.6 473.8 229.5 473.8 230.6 473.7 231.6 473.3 232.6 472.8 233.6 472.3 234.2 471.3 235.1 470.5 235.6 469.4 236.1 468.3 236.5 467.3 236.7Z"/><path stroke="#ff8b00" d="M467.3 236.2 466.3 236.3 465.3 236.4 464.3 236.4 463.3 236.2 462.3 236 461.3 235.7 460.3 235.3 459.3 234.7 458.6 234.1 457.8 233.1 457.3 232.1 457.1 231.1 457 230.1 457.1 229.1 457.4 228.1 457.8 227.3 458.3 226.7 459.3 225.7 460.3 225.1 461.3 224.7 462.3 224.4 463.3 224.2 464.3 224 465.3 224 466.3 224.1 467.3 224.2 468.3 224.5 469.3 224.8 470.3 225.3 471.3 226 472.2 227.1 472.8 228.1 473.1 229.1 473.2 230.1 473.1 231.1 472.9 232.1 472.4 233.1 471.8 233.9 471 234.6 470.3 235.1 469.3 235.6 468.3 235.9 467.3 236.2Z"/><path stroke="#ff5e00" d="M467.3 235.7 466.3 235.8 465.3 235.9 464.3 235.8 463.3 235.7 462.3 235.5 461.3 235.2 460.3 234.7 459.5 234.1 458.8 233.4 458.3 232.7 457.8 231.6 457.6 230.6 457.7 229.6 457.9 228.6 458.3 227.7 458.8 227 459.8 226.1 460.6 225.6 461.3 225.2 462.3 224.9 463.3 224.7 464.3 224.5 465.3 224.5 466.3 224.6 467.3 224.7 468.3 225 469.3 225.4 470.3 226 471 226.6 471.8 227.6 472.3 228.6 472.5 229.6 472.6 230.6 472.4 231.6 471.9 232.6 471.3 233.5 470.7 234.1 470 234.6 469 235.1 467.8 235.5 467.3 235.7Z"/><path stroke="#ff3200" d="M466.8 235.2 465.8 235.3 464.8 235.3 463.8 235.3 462.9 235.1 461.8 234.7 460.8 234.2 459.9 233.6 459.3 232.9 458.8 232.2 458.4 231.1 458.3 230.1 458.5 229.1 458.8 228.2 459.3 227.5 460.2 226.6 460.9 226.1 461.8 225.7 462.8 225.3 463.8 225.1 464.8 225.1 465.8 225.1 466.8 225.2 467.8 225.4 468.8 225.8 469.8 226.4 470.6 227.1 471.3 228.1 471.7 229.1 471.9 230.1 471.8 231 471.4 232.1 470.8 233.1 469.8 234 468.8 234.6 467.8 235 466.8 235.2Z"/><path stroke="#ff0600" d="M466.8 234.6 465.8 234.7 464.8 234.8 463.8 234.7 462.8 234.4 461.9 234.1 461 233.6 460.3 233 459.6 232.1 459.2 231.1 459.1 230.1 459.2 229.1 459.7 228.1 460.3 227.4 461.3 226.6 462.3 226.1 463.3 225.8 464.3 225.7 465.3 225.6 466.3 225.7 467.3 225.9 468.3 226.3 469.3 226.9 470.1 227.6 470.8 228.6 471.1 229.6 471.1 230.6 470.8 231.6 470.3 232.6 469.3 233.5 468.3 234.1 467.3 234.5 466.8 234.6Z"/><path stroke="#d80000" d="M465.8 234.1 464.8 234.1 463.8 234 462.8 233.7 461.8 233.3 461 232.6 460.3 231.7 460 230.6 460 229.6 460.3 228.7 460.8 228 461.8 227.1 462.8 226.7 463.8 226.4 464.8 226.3 465.8 226.3 466.8 226.5 467.8 226.8 468.8 227.4 469.5 228.1 470.1 229.1 470.3 230.1 470.1 231.1 469.8 231.9 469.3 232.5 468.6 233.1 467.8 233.6 466.8 233.9 465.8 234.1 465.8 234.1Z"/><path stroke="#ac0000" d="M466.8 233.1 465.8 233.3 464.8 233.4 463.8 233.2 462.8 232.9 461.8 232.2 461.1 231.1 460.9 230.1 461.2 229.1 461.8 228.2 462.6 227.6 463.8 227.2 464.8 227 465.8 227 466.8 227.3 467.6 227.6 468.3 228.1 469 229.1 469.3 230.1 469.1 231.1 468.5 232.1 467.8 232.7 466.9 233.1 466.8 233.1Z"/><path stroke="#800000" d="M466.3 232.2 465.3 232.4 464.3 232.4 463.5 232.1 462.8 231.6 462.3 230.9 462.2 230.1 462.5 229.1 463.3 228.4 464.1 228.1 465.3 228 466.1 228.1 467.2 228.6 467.8 229.3 468 230.1 467.8 231.1 466.8 232 466.3 232.2Z"/></g>
<g clip-path="url(#clip_cA)" fill="none" stroke-linejoin="round"><path stroke="#0000ff" stroke-width="1.9" d="M22.1 399.4 22.4 399.2 22.7 399 23 399 23.3 398.9 23.6 399 24 399 24.3 399.2 24.6 399.4 24.9 399.6 25.2 399.9 25.5 400.3 25.8 400.7 26.1 401.1 26.4 401.7 26.7 402.3 27.1 403 27.4 403.7 27.7 404.5 28 405.4 28.3 406.4 28.6 407.5 28.9 408.7 29.2 410 29.5 411.4 29.8 412.9 30.1 414.6 30.5 416.5 30.8 418.6 31.1 420.9 31.4 423.5 31.7 426.4 32 429.7 32.3 433.6 32.6 438.2 32.9 443.8 33.2 451 33.6 454.3 33.9 454.3 34.2 454.3 34.5 454.3 34.8 454.3 35.1 449.7 35.4 441.6 35.7 435.5 36 430.5 36.3 426.3 36.6 422.8 37 419.7 37.3 416.9 37.6 414.5 37.9 412.3 38.2 410.3 38.5 408.5 38.8 406.8 39.1 405.3 39.4 403.9 39.7 402.6 40.1 401.4 40.4 400.3 40.7 399.3 41 398.3 41.3 397.5 41.6 396.7 41.9 396 42.2 395.3 42.5 394.7 42.8 394.1 43.1 393.6 43.5 393.2 43.8 392.8 44.1 392.4 44.4 392.1 44.7 391.9 45 391.7 45.3 391.5 45.6 391.4 45.9 391.3 46.2 391.2 46.6 391.3 46.9 391.3 47.2 391.5 47.5 391.8 47.8 392.1 48.1 392.5 48.4 393.1 48.7 393.7 49 394.4 49.3 395.2 49.7 396.1 50 397.2 50.3 398.3 50.6 399.6 50.9 401.1 51.2 402.7 51.5 404.6 51.8 406.6 52.1 408.9 52.4 411.5 52.7 414.5 53.1 418 53.4 422.1 53.7 427 54 433.1 54.3 441.2 54.6 452.9 54.9 454.3 55.2 454.3 55.5 454.3 55.8 441.7 56.2 431.8 56.5 424.6 56.8 419 57.1 414.4 57.4 410.5 57.7 407.1 58 404.2 58.3 401.6 58.6 399.3 58.9 397.2 59.2 395.2 59.6 393.5 59.9 391.9 60.2 390.5 60.5 389.1 60.8 387.9 61.1 386.8 61.4 385.8 61.7 384.8 62 383.9 62.3 383.1 62.7 382.4 63 381.7 63.3 381.1 63.6 380.6 63.9 380.1 64.2 379.6 64.5 379.3 64.8 378.9 65.1 378.6 65.4 378.4 65.7 378.2 66.1 378.1 66.4 378 66.7 377.9 67 377.9 67.3 378 67.6 378.1 67.9 378.3 68.2 378.6 68.5 378.9 68.8 379.3 69.2 379.7 69.5 380.2 69.8 380.8 70.1 381.5 70.4 382.2 70.7 383 71 383.9 71.3 384.9 71.6 386 71.9 387.3 72.2 388.6 72.6 390 72.9 391.7 73.2 393.4 73.5 395.4 73.8 397.5 74.1 399.9 74.4 402.5 74.7 405.5 75 408.8 75.3 412.6 75.7 416.9 76 421.5 76.3 426.4 76.6 430.7 76.9 432.8 77.2 430.7 77.5 424.2 77.8 416.9 78.1 410.5 78.4 404.9 78.7 400 79.1 395.8 79.4 392 79.7 388.6 80 385.6 80.3 382.8 80.6 380.2 80.9 377.8 81.2 375.6 81.5 373.6 81.8 371.6 82.2 369.8 82.5 368.1 82.8 366.5 83.1 364.9 83.4 363.5 83.7 362.1 84 360.8 84.3 359.5 84.6 358.3 84.9 357.2 85.2 356.1 85.6 355 85.9 354 86.2 353 86.5 352.1 86.8 351.2 87.1 350.4 87.4 349.6 87.7 348.8 88 348.1 88.3 347.4 88.7 346.7 89 346 89.3 345.4 89.6 344.8 89.9 344.2 90.2 343.7 90.5 343.2 90.8 342.7 91.1 342.2 91.4 341.8 91.7 341.4 92.1 341 92.4 340.6 92.7 340.2 93 339.9 93.3 339.6 93.6 339.3 93.9 339.1 94.2 338.8 94.5 338.6 94.8 338.4 95.2 338.2 95.5 338 95.8 337.9 96.1 337.7 96.4 337.6 96.7 337.5 97 337.5 97.3 337.4 97.6 337.4 97.9 337.4 98.2 337.4 98.6 337.4 98.9 337.4 99.2 337.5 99.5 337.6 99.8 337.7 100.1 337.8 100.4 337.9 100.7 338 101 338.2 101.3 338.4 101.7 338.6 102 338.8 102.3 339 102.6 339.3 102.9 339.5 103.2 339.8 103.5 340.1 103.8 340.4 104.1 340.8 104.4 341.2 104.8 341.5 105.1 341.9 105.4 342.4 105.7 342.8 106 343.3 106.3 343.8 106.6 344.3 106.9 344.8 107.2 345.4 107.5 346 107.8 346.6 108.2 347.2 108.5 347.9 108.8 348.6 109.1 349.3 109.4 350.1 109.7 350.8 110 351.7 110.3 352.5 110.6 353.4 110.9 354.3 111.3 355.3 111.6 356.3 111.9 357.3 112.2 358.4 112.5 359.5 112.8 360.7 113.1 362 113.4 363.3 113.7 364.7 114 366.1 114.3 367.6 114.7 369.2 115 370.9 115.3 372.7 115.6 374.6 115.9 376.6 116.2 378.8 116.5 381.1 116.8 383.7 117.1 386.4 117.4 389.4 117.8 392.8 118.1 396.6 118.4 400.8 118.7 405.8 119 411.9 119.3 419.5 119.6 429.8 119.9 446.3 120.2 454.3 120.5 454.3 120.8 440 121.2 428.3 121.5 420.2 121.8 414.1 122.1 409.3 122.4 405.2 122.7 401.8 123 398.9 123.3 396.3 123.6 394.1 123.9 392.1 124.3 390.3 124.6 388.8 124.9 387.4 125.2 386.2 125.5 385.2 125.8 384.3 126.1 383.5 126.4 382.8 126.7 382.3 127 381.8 127.3 381.5 127.7 381.2 128 381.1 128.3 381.1 128.6 381.1 128.9 381.2 129.2 381.3 129.5 381.4 129.8 381.6 130.1 381.8 130.4 382.1 130.8 382.4 131.1 382.7 131.4 383.1 131.7 383.5 132 384 132.3 384.5 132.6 385 132.9 385.7 133.2 386.3 133.5 387 133.8 387.8 134.2 388.7 134.5 389.6 134.8 390.5 135.1 391.6 135.4 392.7 135.7 394 136 395.3 136.3 396.7 136.6 398.3 136.9 400 137.3 401.8 137.6 403.8 137.9 406 138.2 408.5 138.5 411.3 138.8 414.4 139.1 418 139.4 422.1 139.7 427.1 140 433.3 140.3 441.4 140.7 453.2 141 454.3 141.3 454.3 141.6 454.3 141.9 454.3 142.2 445.3 142.5 438.2 142.8 432.6 143.1 428 143.4 424.2 143.8 420.8 144.1 418 144.4 415.4 144.7 413.1 145 411.1 145.3 409.2 145.6 407.6 145.9 406.1 146.2 404.7 146.5 403.5 146.8 402.3 147.2 401.3 147.5 400.4 147.8 399.5 148.1 398.8 148.4 398.1 148.7 397.5 149 397 149.3 396.5 149.6 396.1 149.9 395.8 150.3 395.6 150.6 395.4 150.9 395.2 151.2 395.2 151.5 395.1 151.8 395.2 152.1 395.3 152.4 395.4 152.7 395.6 153 395.8 153.4 396.1 153.7 396.5 154 396.9 154.3 397.4 154.6 397.9 154.9 398.5 155.2 399.1 155.5 399.8 155.8 400.6 156.1 401.5 156.4 402.4 156.8 403.4 157.1 404.5 157.4 405.7 157.7 407 158 408.4 158.3 410 158.6 411.6 158.9 413.4 159.2 415.4 159.5 417.6 159.9 419.9 160.2 422.5 160.5 425.3 160.8 428.3 161.1 431.5 161.4 434.8 161.7 438 162 440.5 162.3 441.9 162.6 441.9 162.9 441.1 163.3 439.5 163.6 437.5 163.9 435.1 164.2 432.7 164.5 430.3 164.8 428 165.1 425.8 165.4 423.7 165.7 421.8 166 420 166.4 418.4 166.7 416.9 167 415.4 167.3 414.1 167.6 412.9 167.9 411.8 168.2 410.8 168.5 409.9 168.8 409 169.1 408.3 169.4 407.6 169.8 406.9 170.1 406.4 170.4 405.9 170.7 405.4 171 405.1 171.3 404.7 171.6 404.5 171.9 404.3 172.2 404.1 172.5 404 172.9 404 173.2 404 173.5 404.1 173.8 404.2 174.1 404.4 174.4 404.6"/><path stroke="#ff0000" stroke-width="1.9" stroke-dasharray="3.6 1.6" d="M22.1 419.5 22.4 420.4 22.7 421.3 23 422.3 23.3 423.4 23.6 424.6 24 425.8 24.3 427.1 24.6 428.5 24.9 429.8 25.2 431.2 25.5 432.6 25.8 433.9 26.1 435.1 26.4 436.1 26.7 436.8 27.1 437.3 27.4 437.5 27.7 437.5 28 437 28.3 436.1 28.6 434.9 28.9 433.5 29.2 431.9 29.5 430.3 29.8 428.6 30.1 426.9 30.5 425.3 30.8 423.7 31.1 422.2 31.4 420.7 31.7 419.4 32 418.1 32.3 416.8 32.6 415.7 32.9 414.6 33.2 413.6 33.6 412.6 33.9 411.7 34.2 410.8 34.5 410.1 34.8 409.3 35.1 408.6 35.4 408 35.7 407.4 36 406.8 36.3 406.3 36.6 405.9 37 405.4 37.3 405.1 37.6 404.7 37.9 404.4 38.2 404.1 38.5 403.9 38.8 403.7 39.1 403.6 39.4 403.4 39.7 403.4 40.1 403.3 40.4 403.3 40.7 403.3 41 403.4 41.3 403.5 41.6 403.7 41.9 403.9 42.2 404.2 42.5 404.5 42.8 404.9 43.1 405.4 43.5 405.8 43.8 406.4 44.1 407 44.4 407.7 44.7 408.4 45 409.3 45.3 410.2 45.6 411.1 45.9 412.2 46.2 413.4 46.6 414.6 46.9 416 47.2 417.5 47.5 419.2 47.8 421 48.1 423 48.4 425.2 48.7 427.7 49 430.5 49.3 433.7 49.7 437.3 50 441.6 50.3 446.7 50.6 453.1 50.9 454.3 51.2 454.3 51.5 454.3 51.8 454.3 52.1 454.3 52.4 445.7 52.7 436.5 53.1 429.6 53.4 424.2 53.7 419.8 54 416 54.3 412.7 54.6 409.9 54.9 407.3 55.2 405 55.5 402.9 55.8 401 56.2 399.3 56.5 397.7 56.8 396.3 57.1 394.9 57.4 393.7 57.7 392.6 58 391.5 58.3 390.5 58.6 389.6 58.9 388.8 59.2 388.1 59.6 387.4 59.9 386.7 60.2 386.1 60.5 385.6 60.8 385.1 61.1 384.7 61.4 384.3 61.7 384 62 383.7 62.3 383.4 62.7 383.2 63 383.1 63.3 382.9 63.6 382.9 63.9 382.8 64.2 382.8 64.5 382.9 64.8 383 65.1 383.2 65.4 383.5 65.7 383.8 66.1 384.1 66.4 384.6 66.7 385.1 67 385.6 67.3 386.3 67.6 387 67.9 387.8 68.2 388.6 68.5 389.6 68.8 390.6 69.2 391.8 69.5 393 69.8 394.4 70.1 395.9 70.4 397.6 70.7 399.4 71 401.3 71.3 403.5 71.6 405.9 71.9 408.5 72.2 411.4 72.6 414.7 72.9 418.2 73.2 422 73.5 425.8 73.8 429.4 74.1 431.7 74.4 432.1 74.7 429.3 75 424.2 75.3 418.6 75.7 413.3 76 408.6 76.3 404.3 76.6 400.5 76.9 397.1 77.2 394 77.5 391.2 77.8 388.5 78.1 386.1 78.4 383.9 78.7 381.7 79.1 379.8 79.4 377.9 79.7 376.1 80 374.5 80.3 372.9 80.6 371.4 80.9 370 81.2 368.6 81.5 367.3 81.8 366.1 82.2 364.9 82.5 363.7 82.8 362.6 83.1 361.6 83.4 360.6 83.7 359.6 84 358.7 84.3 357.8 84.6 356.9 84.9 356.1 85.2 355.3 85.6 354.5 85.9 353.8 86.2 353.1 86.5 352.4 86.8 351.7 87.1 351.1 87.4 350.5 87.7 349.9 88 349.3 88.3 348.8 88.7 348.2 89 347.7 89.3 347.3 89.6 346.8 89.9 346.3 90.2 345.9 90.5 345.5 90.8 345.1 91.1 344.8 91.4 344.4 91.7 344.1 92.1 343.8 92.4 343.5 92.7 343.2 93 342.9 93.3 342.7 93.6 342.4 93.9 342.2 94.2 342 94.5 341.8 94.8 341.6 95.2 341.5 95.5 341.3 95.8 341.2 96.1 341.1 96.4 341 96.7 340.9 97 340.9 97.3 340.8 97.6 340.8 97.9 340.7 98.2 340.7 98.6 340.7 98.9 340.8 99.2 340.8 99.5 340.9 99.8 340.9 100.1 341 100.4 341.1 100.7 341.3 101 341.4 101.3 341.6 101.7 341.7 102 341.9 102.3 342.1 102.6 342.4 102.9 342.6 103.2 342.9 103.5 343.1 103.8 343.4 104.1 343.8 104.4 344.1 104.8 344.4 105.1 344.8 105.4 345.2 105.7 345.6 106 346.1 106.3 346.5 106.6 347 106.9 347.5 107.2 348 107.5 348.5 107.8 349.1 108.2 349.7 108.5 350.3 108.8 351 109.1 351.6 109.4 352.3 109.7 353 110 353.8 110.3 354.6 110.6 355.4 110.9 356.2 111.3 357.1 111.6 358 111.9 359 112.2 360 112.5 361 112.8 362.1 113.1 363.2 113.4 364.4 113.7 365.6 114 366.9 114.3 368.3 114.7 369.7 115 371.1 115.3 372.7 115.6 374.3 115.9 376 116.2 377.9 116.5 379.8 116.8 381.8 117.1 384 117.4 386.3 117.8 388.8 118.1 391.5 118.4 394.3 118.7 397.4 119 400.6 119.3 404.1 119.6 407.7 119.9 411.3 120.2 414.5 120.5 416.9 120.8 418 121.2 418 121.5 417 121.8 415.2 122.1 412.9 122.4 410.4 122.7 407.8 123 405.3 123.3 402.9 123.6 400.6 123.9 398.5 124.3 396.6 124.6 394.8 124.9 393.1 125.2 391.6 125.5 390.2 125.8 388.9 126.1 387.8 126.4 386.7 126.7 385.7 127 384.8 127.3 384 127.7 383.3 128 382.6 128.3 382 128.6 381.5 128.9 381 129.2 380.6 129.5 380.3 129.8 380.1 130.1 379.9 130.4 379.7 130.8 379.6 131.1 379.6 131.4 379.7 131.7 379.7 132 379.9 132.3 380 132.6 380.3 132.9 380.5 133.2 380.8 133.5 381.2 133.8 381.6 134.2 382.1 134.5 382.6 134.8 383.2 135.1 383.9 135.4 384.6 135.7 385.4 136 386.2 136.3 387.1 136.6 388.1 136.9 389.2 137.3 390.4 137.6 391.7 137.9 393.1 138.2 394.6 138.5 396.3 138.8 398.1 139.1 400.2 139.4 402.4 139.7 404.9 140 407.7 140.3 410.8 140.7 414.5 141 418.8 141.3 424 141.6 430.4 141.9 439 142.2 451.9 142.5 454.3 142.8 454.3 143.1 454.3 143.4 454.3 143.8 449.3 144.1 442.5 144.4 437.1 144.7 432.7 145 428.9 145.3 425.7 145.6 422.8 145.9 420.3 146.2 418 146.5 415.9 146.8 414.1 147.2 412.4 147.5 410.8 147.8 409.4 148.1 408.1 148.4 406.9 148.7 405.8 149 404.8 149.3 403.8 149.6 403 149.9 402.2 150.3 401.5 150.6 400.9 150.9 400.3 151.2 399.8 151.5 399.3 151.8 398.9 152.1 398.5 152.4 398.2 152.7 397.9 153 397.7 153.4 397.6 153.7 397.5 154 397.4 154.3 397.4 154.6 397.4 154.9 397.5 155.2 397.7 155.5 397.9 155.8 398.2 156.1 398.6 156.4 399 156.8 399.5 157.1 400.1 157.4 400.7 157.7 401.4 158 402.2 158.3 403.1 158.6 404.1 158.9 405.2 159.2 406.4 159.5 407.7 159.9 409.2 160.2 410.8 160.5 412.5 160.8 414.5 161.1 416.7 161.4 419.1 161.7 421.9 162 425 162.3 428.6 162.6 432.9 162.9 438 163.3 444.5 163.6 453.1 163.9 454.3 164.2 454.3 164.5 454.3 164.8 454.3 165.1 454.3 165.4 454.3 165.7 454.1 166 448.6 166.4 444.2 166.7 440.4 167 437.1 167.3 434.1 167.6 431.5 167.9 429.2 168.2 427.1 168.5 425.1 168.8 423.3 169.1 421.7 169.4 420.1 169.8 418.7 170.1 417.4 170.4 416.2 170.7 415 171 413.9 171.3 412.9 171.6 412 171.9 411.1 172.2 410.3 172.5 409.5 172.9 408.8 173.2 408.1 173.5 407.5 173.8 406.9 174.1 406.3 174.4 405.8"/></g>
<g clip-path="url(#clip_cB)" fill="none" stroke-linejoin="round"><path stroke="#0000ff" stroke-width="1.9" d="M205.3 454.5 205.6 454.5 205.9 454.5 206.2 454.5 206.5 454.5 206.8 449 207.2 441.5 207.5 435.7 207.8 431 208.1 427 208.4 423.6 208.7 420.7 209 418.1 209.3 415.8 209.6 413.8 209.9 411.9 210.2 410.3 210.5 408.8 210.9 407.5 211.2 406.3 211.5 405.2 211.8 404.2 212.1 403.3 212.4 402.5 212.7 401.8 213 401.2 213.3 400.7 213.6 400.2 213.9 399.8 214.2 399.5 214.6 399.3 214.9 399.1 215.2 399.1 215.5 399 215.8 399.1 216.1 399.2 216.4 399.4 216.7 399.7 217 400 217.3 400.5 217.6 401 218 401.6 218.3 402.2 218.6 403 218.9 403.9 219.2 404.9 219.5 406 219.8 407.2 220.1 408.5 220.4 410 220.7 411.7 221 413.6 221.3 415.6 221.7 418 222 420.6 222.3 423.6 222.6 427.1 222.9 431.1 223.2 436 223.5 442.1 223.8 450.2 224.1 454.5 224.4 454.5 224.7 454.5 225 454.5 225.4 449.5 225.7 439.6 226 432.5 226.3 426.9 226.6 422.4 226.9 418.6 227.2 415.3 227.5 412.5 227.8 410 228.1 407.7 228.4 405.7 228.7 404 229.1 402.4 229.4 400.9 229.7 399.6 230 398.5 230.3 397.4 230.6 396.5 230.9 395.7 231.2 394.9 231.5 394.3 231.8 393.7 232.1 393.2 232.5 392.8 232.8 392.5 233.1 392.3 233.4 392.1 233.7 392 234 392 234.3 392 234.6 392.2 234.9 392.4 235.2 392.7 235.5 393 235.8 393.5 236.2 394 236.5 394.7 236.8 395.4 237.1 396.2 237.4 397.1 237.7 398.2 238 399.3 238.3 400.6 238.6 402.1 238.9 403.7 239.2 405.5 239.5 407.5 239.9 409.8 240.2 412.3 240.5 415.2 240.8 418.6 241.1 422.5 241.4 427.2 241.7 433.1 242 440.6 242.3 451.3 242.6 454.5 242.9 454.5 243.2 454.5 243.6 440.8 243.9 430.1 244.2 422.6 244.5 416.7 244.8 412 245.1 408 245.4 404.6 245.7 401.7 246 399.1 246.3 396.7 246.6 394.7 247 392.8 247.3 391.1 247.6 389.6 247.9 388.2 248.2 386.9 248.5 385.8 248.8 384.7 249.1 383.8 249.4 382.9 249.7 382.2 250 381.5 250.3 380.9 250.7 380.3 251 379.9 251.3 379.5 251.6 379.1 251.9 378.8 252.2 378.6 252.5 378.5 252.8 378.4 253.1 378.4 253.4 378.4 253.7 378.5 254 378.7 254.4 379 254.7 379.4 255 379.8 255.3 380.3 255.6 380.9 255.9 381.6 256.2 382.4 256.5 383.3 256.8 384.3 257.1 385.4 257.4 386.7 257.8 388.1 258.1 389.6 258.4 391.3 258.7 393.1 259 395.2 259.3 397.4 259.6 400 259.9 402.8 260.2 405.9 260.5 409.3 260.8 413 261.1 416.9 261.5 420.5 261.8 423.1 262.1 423.9 262.4 421.5 262.7 416.1 263 409.9 263.3 404.2 263.6 399 263.9 394.5 264.2 390.5 264.5 386.8 264.8 383.6 265.2 380.6 265.5 377.9 265.8 375.4 266.1 373.1 266.4 370.9 266.7 368.9 267 367 267.3 365.2 267.6 363.5 267.9 362 268.2 360.5 268.6 359.1 268.9 357.7 269.2 356.4 269.5 355.2 269.8 354.1 270.1 353 270.4 352 270.7 351 271 350 271.3 349.1 271.6 348.3 271.9 347.5 272.3 346.7 272.6 346 272.9 345.3 273.2 344.7 273.5 344 273.8 343.5 274.1 342.9 274.4 342.4 274.7 341.9 275 341.5 275.3 341 275.6 340.6 276 340.3 276.3 339.9 276.6 339.6 276.9 339.4 277.2 339.1 277.5 338.9 277.8 338.7 278.1 338.5 278.4 338.4 278.7 338.3 279 338.2 279.3 338.1 279.7 338.1 280 338 280.3 338.1 280.6 338.1 280.9 338.2 281.2 338.2 281.5 338.3 281.8 338.5 282.1 338.6 282.4 338.8 282.7 339 283.1 339.2 283.4 339.5 283.7 339.7 284 340 284.3 340.4 284.6 340.7 284.9 341.1 285.2 341.5 285.5 341.9 285.8 342.4 286.1 342.9 286.4 343.4 286.8 344 287.1 344.5 287.4 345.1 287.7 345.8 288 346.5 288.3 347.2 288.6 347.9 288.9 348.7 289.2 349.5 289.5 350.4 289.8 351.3 290.1 352.2 290.5 353.2 290.8 354.3 291.1 355.4 291.4 356.5 291.7 357.7 292 359 292.3 360.4 292.6 361.8 292.9 363.3 293.2 364.8 293.5 366.5 293.9 368.3 294.2 370.1 294.5 372.1 294.8 374.3 295.1 376.6 295.4 379 295.7 381.7 296 384.7 296.3 387.9 296.6 391.5 296.9 395.5 297.2 400 297.6 405.3 297.9 411.3 298.2 418.1 298.5 425 298.8 429.2 299.1 428.8 299.4 425.8 299.7 421.7 300 417.3 300.3 413.2 300.6 409.5 300.9 406.1 301.3 403.1 301.6 400.4 301.9 398 302.2 395.9 302.5 393.9 302.8 392.2 303.1 390.6 303.4 389.2 303.7 387.9 304 386.7 304.3 385.6 304.6 384.7 305 383.8 305.3 383.1 305.6 382.4 305.9 381.8 306.2 381.3 306.5 380.9 306.8 380.6 307.1 380.3 307.4 380.1 307.7 380 308 380 308.4 380 308.7 380.1 309 380.2 309.3 380.5 309.6 380.8 309.9 381.2 310.2 381.7 310.5 382.2 310.8 382.8 311.1 383.6 311.4 384.4 311.7 385.3 312.1 386.3 312.4 387.4 312.7 388.7 313 390.1 313.3 391.6 313.6 393.3 313.9 395.2 314.2 397.4 314.5 399.7 314.8 402.5 315.1 405.5 315.4 409.1 315.8 413.4 316.1 418.5 316.4 424.9 316.7 433.4 317 446.3 317.3 454.5 317.6 454.5 317.9 454.5 318.2 445.4 318.5 436.2 318.8 429.5 319.2 424.2 319.5 419.9 319.8 416.2 320.1 413.1 320.4 410.4 320.7 408 321 405.9 321.3 404.1 321.6 402.4 321.9 401 322.2 399.7 322.5 398.5 322.9 397.5 323.2 396.7 323.5 395.9 323.8 395.3 324.1 394.7 324.4 394.3 324.7 393.9 325 393.7 325.3 393.6 325.6 393.5 325.9 393.6 326.2 393.6 326.6 393.8 326.9 394 327.2 394.3 327.5 394.7 327.8 395.1 328.1 395.6 328.4 396.2 328.7 396.9 329 397.6 329.3 398.4 329.6 399.4 329.9 400.4 330.3 401.5 330.6 402.7 330.9 404.1 331.2 405.6 331.5 407.3 331.8 409.2 332.1 411.2 332.4 413.5 332.7 416.1 333 419.1 333.3 422.5 333.7 426.4 334 431.2 334.3 437 334.6 444.6 334.9 454.5 335.2 454.5 335.5 454.5 335.8 454.5 336.1 454.5 336.4 450.9 336.7 443.4 337 437.6 337.4 432.8 337.7 428.9 338 425.5 338.3 422.6 338.6 420 338.9 417.7 339.2 415.6 339.5 413.8 339.8 412.1 340.1 410.6 340.4 409.2 340.7 408 341.1 406.9 341.4 405.9 341.7 405 342 404.1 342.3 403.4 342.6 402.8 342.9 402.2 343.2 401.7 343.5 401.3 343.8 401 344.1 400.7 344.5 400.5 344.8 400.3 345.1 400.3 345.4 400.3 345.7 400.3 346 400.5 346.3 400.8 346.6 401.2 346.9 401.6 347.2 402.2 347.5 402.8 347.8 403.6 348.2 404.5 348.5 405.5 348.8 406.7 349.1 408 349.4 409.5 349.7 411.1 350 413 350.3 415.1 350.6 417.5 350.9 420.2 351.2 423.3 351.5 427 351.9 431.3 352.2 436.6 352.5 443.3 352.8 452.5 353.1 454.5 353.4 454.5 353.7 454.5 354 454.5 354.3 454.5 354.6 454.5 354.9 450.6 355.2 445.5 355.6 441.3 355.9 437.8 356.2 434.7 356.5 432.1 356.8 429.7 357.1 427.7"/><path stroke="#ff0000" stroke-width="1.9" stroke-dasharray="3.6 1.6" d="M205.3 408.5 205.6 408.2 205.9 407.9 206.2 407.7 206.5 407.6 206.8 407.5 207.2 407.5 207.5 407.5 207.8 407.6 208.1 407.7 208.4 407.9 208.7 408.2 209 408.5 209.3 408.8 209.6 409.2 209.9 409.6 210.2 410.2 210.5 410.7 210.9 411.4 211.2 412.1 211.5 412.8 211.8 413.7 212.1 414.6 212.4 415.6 212.7 416.7 213 417.8 213.3 419.1 213.6 420.4 213.9 421.9 214.2 423.4 214.6 425.1 214.9 426.8 215.2 428.7 215.5 430.7 215.8 432.7 216.1 434.8 216.4 436.8 216.7 438.7 217 440.4 217.3 441.6 217.6 442.2 218 442.2 218.3 441.2 218.6 439.1 218.9 436.4 219.2 433.5 219.5 430.6 219.8 427.8 220.1 425.2 220.4 422.7 220.7 420.5 221 418.4 221.3 416.4 221.7 414.6 222 413 222.3 411.5 222.6 410.1 222.9 408.8 223.2 407.6 223.5 406.5 223.8 405.4 224.1 404.5 224.4 403.6 224.7 402.8 225 402.1 225.4 401.4 225.7 400.8 226 400.2 226.3 399.7 226.6 399.2 226.9 398.8 227.2 398.5 227.5 398.2 227.8 398 228.1 397.7 228.4 397.6 228.7 397.5 229.1 397.4 229.4 397.4 229.7 397.5 230 397.6 230.3 397.8 230.6 398.1 230.9 398.4 231.2 398.9 231.5 399.4 231.8 400.1 232.1 400.8 232.5 401.6 232.8 402.5 233.1 403.6 233.4 404.8 233.7 406.1 234 407.6 234.3 409.2 234.6 411 234.9 413.1 235.2 415.4 235.5 418 235.8 421 236.2 424.4 236.5 428.5 236.8 433.4 237.1 439.5 237.4 447.5 237.7 454.5 238 454.5 238.3 454.5 238.6 454.5 238.9 444.2 239.2 434.3 239.5 427.1 239.9 421.5 240.2 416.9 240.5 413.1 240.8 409.7 241.1 406.8 241.4 404.2 241.7 401.9 242 399.8 242.3 397.9 242.6 396.2 242.9 394.6 243.2 393.2 243.6 391.9 243.9 390.6 244.2 389.5 244.5 388.5 244.8 387.6 245.1 386.7 245.4 385.9 245.7 385.2 246 384.5 246.3 383.9 246.6 383.4 247 382.9 247.3 382.5 247.6 382.1 247.9 381.8 248.2 381.6 248.5 381.3 248.8 381.2 249.1 381.1 249.4 381 249.7 381 250 381 250.3 381.1 250.7 381.2 251 381.5 251.3 381.8 251.6 382.1 251.9 382.6 252.2 383.1 252.5 383.6 252.8 384.3 253.1 385 253.4 385.9 253.7 386.8 254 387.8 254.4 388.9 254.7 390.2 255 391.6 255.3 393.1 255.6 394.7 255.9 396.6 256.2 398.7 256.5 401 256.8 403.6 257.1 406.5 257.4 409.9 257.8 413.9 258.1 418.6 258.4 424.4 258.7 432 259 442.7 259.3 454.5 259.6 454.5 259.9 452.9 260.2 434.2 260.5 423 260.8 415 261.1 408.7 261.5 403.6 261.8 399.1 262.1 395.3 262.4 391.9 262.7 388.8 263 386 263.3 383.4 263.6 381 263.9 378.8 264.2 376.8 264.5 374.9 264.8 373.1 265.2 371.4 265.5 369.8 265.8 368.2 266.1 366.8 266.4 365.4 266.7 364.1 267 362.9 267.3 361.7 267.6 360.6 267.9 359.5 268.2 358.4 268.6 357.5 268.9 356.5 269.2 355.6 269.5 354.7 269.8 353.9 270.1 353.1 270.4 352.4 270.7 351.6 271 351 271.3 350.3 271.6 349.7 271.9 349.1 272.3 348.5 272.6 347.9 272.9 347.4 273.2 346.9 273.5 346.5 273.8 346 274.1 345.6 274.4 345.2 274.7 344.8 275 344.5 275.3 344.1 275.6 343.8 276 343.5 276.3 343.3 276.6 343 276.9 342.8 277.2 342.6 277.5 342.4 277.8 342.3 278.1 342.1 278.4 342 278.7 341.9 279 341.9 279.3 341.8 279.7 341.8 280 341.7 280.3 341.7 280.6 341.8 280.9 341.8 281.2 341.9 281.5 342 281.8 342.1 282.1 342.2 282.4 342.3 282.7 342.5 283.1 342.7 283.4 342.9 283.7 343.2 284 343.4 284.3 343.7 284.6 344 284.9 344.3 285.2 344.7 285.5 345.1 285.8 345.5 286.1 345.9 286.4 346.3 286.8 346.8 287.1 347.3 287.4 347.8 287.7 348.4 288 349 288.3 349.6 288.6 350.2 288.9 350.9 289.2 351.6 289.5 352.3 289.8 353.1 290.1 353.9 290.5 354.8 290.8 355.7 291.1 356.6 291.4 357.6 291.7 358.6 292 359.6 292.3 360.8 292.6 361.9 292.9 363.1 293.2 364.4 293.5 365.8 293.9 367.2 294.2 368.7 294.5 370.3 294.8 372 295.1 373.8 295.4 375.7 295.7 377.7 296 379.9 296.3 382.2 296.6 384.7 296.9 387.5 297.2 390.5 297.6 393.9 297.9 397.6 298.2 401.9 298.5 406.9 298.8 413 299.1 420.5 299.4 430.9 299.7 447.4 300 454.5 300.3 454.5 300.6 444.6 300.9 432.9 301.3 424.9 301.6 418.7 301.9 413.8 302.2 409.7 302.5 406.2 302.8 403.2 303.1 400.5 303.4 398.2 303.7 396.1 304 394.2 304.3 392.5 304.6 390.9 305 389.5 305.3 388.3 305.6 387.1 305.9 386.1 306.2 385.1 306.5 384.3 306.8 383.5 307.1 382.9 307.4 382.3 307.7 381.7 308 381.3 308.4 380.9 308.7 380.6 309 380.4 309.3 380.2 309.6 380.1 309.9 380 310.2 380.1 310.5 380.1 310.8 380.3 311.1 380.5 311.4 380.7 311.7 381.1 312.1 381.4 312.4 381.9 312.7 382.4 313 383 313.3 383.7 313.6 384.4 313.9 385.3 314.2 386.2 314.5 387.2 314.8 388.3 315.1 389.5 315.4 390.9 315.8 392.3 316.1 394 316.4 395.8 316.7 397.8 317 400 317.3 402.5 317.6 405.3 317.9 408.5 318.2 412.2 318.5 416.6 318.8 422 319.2 428.8 319.5 438 319.8 452.2 320.1 454.5 320.4 454.5 320.7 454.5 321 452 321.3 443.5 321.6 437 321.9 431.9 322.2 427.7 322.5 424.1 322.9 420.9 323.2 418.2 323.5 415.8 323.8 413.6 324.1 411.7 324.4 409.9 324.7 408.3 325 406.9 325.3 405.6 325.6 404.4 325.9 403.3 326.2 402.3 326.6 401.4 326.9 400.6 327.2 399.9 327.5 399.3 327.8 398.7 328.1 398.2 328.4 397.8 328.7 397.4 329 397.1 329.3 396.9 329.6 396.7 329.9 396.6 330.3 396.6 330.6 396.6 330.9 396.7 331.2 396.8 331.5 397 331.8 397.3 332.1 397.6 332.4 398 332.7 398.4 333 399 333.3 399.6 333.7 400.2 334 401 334.3 401.8 334.6 402.7 334.9 403.7 335.2 404.8 335.5 406.1 335.8 407.4 336.1 408.9 336.4 410.5 336.7 412.3 337 414.3 337.4 416.5 337.7 419 338 421.8 338.3 425.1 338.6 428.8 338.9 433.2 339.2 438.5 339.5 445.3 339.8 454.5 340.1 454.5 340.4 454.5 340.7 454.5 341.1 454.5 341.4 454.5 341.7 452.1 342 445.7 342.3 440.6 342.6 436.4 342.9 432.8 343.2 429.7 343.5 427 343.8 424.7 344.1 422.5 344.5 420.6 344.8 418.9 345.1 417.4 345.4 416 345.7 414.8 346 413.7 346.3 412.7 346.6 411.8 346.9 411 347.2 410.3 347.5 409.7 347.8 409.1 348.2 408.7 348.5 408.3 348.8 408 349.1 407.8 349.4 407.7 349.7 407.6 350 407.6 350.3 407.7 350.6 407.9 350.9 408.1 351.2 408.4 351.5 408.8 351.9 409.2 352.2 409.8 352.5 410.4 352.8 411.1 353.1 411.9 353.4 412.9 353.7 413.9 354 415 354.3 416.3 354.6 417.7 354.9 419.3 355.2 421 355.6 422.9 355.9 425.1 356.2 427.6 356.5 430.3 356.8 433.5 357.1 437.2"/></g>
<g clip-path="url(#clip_cC)" fill="none" stroke-linejoin="round"><path stroke="#0000ff" stroke-width="1.9" d="M389.6 454.5 389.9 454.5 390.2 454.5 390.5 450.7 390.8 443.2 391.1 437.3 391.5 432.6 391.8 428.6 392.1 425.2 392.4 422.2 392.7 419.6 393 417.3 393.3 415.2 393.6 413.3 393.9 411.6 394.2 410.1 394.5 408.7 394.9 407.4 395.2 406.2 395.5 405.2 395.8 404.2 396.1 403.3 396.4 402.5 396.7 401.8 397 401.2 397.3 400.6 397.6 400.1 398 399.7 398.3 399.3 398.6 399 398.9 398.8 399.2 398.6 399.5 398.5 399.8 398.4 400.1 398.4 400.4 398.5 400.7 398.6 401 398.8 401.4 399.1 401.7 399.5 402 399.9 402.3 400.5 402.6 401.1 402.9 401.8 403.2 402.6 403.5 403.5 403.8 404.5 404.1 405.6 404.4 406.8 404.8 408.2 405.1 409.7 405.4 411.4 405.7 413.3 406 415.5 406.3 417.9 406.6 420.6 406.9 423.6 407.2 427.2 407.5 431.4 407.9 436.5 408.2 443 408.5 451.5 408.8 454.5 409.1 454.5 409.4 454.5 409.7 454.5 410 447.5 410.3 438.4 410.6 431.6 410.9 426.3 411.3 421.9 411.6 418.2 411.9 415 412.2 412.2 412.5 409.7 412.8 407.5 413.1 405.6 413.4 403.8 413.7 402.2 414 400.8 414.3 399.4 414.7 398.3 415 397.2 415.3 396.2 415.6 395.3 415.9 394.6 416.2 393.9 416.5 393.3 416.8 392.7 417.1 392.3 417.4 391.9 417.8 391.5 418.1 391.3 418.4 391.1 418.7 391 419 390.9 419.3 391 419.6 391 419.9 391.2 420.2 391.5 420.5 391.8 420.8 392.3 421.2 392.8 421.5 393.4 421.8 394.1 422.1 394.9 422.4 395.8 422.7 396.8 423 397.9 423.3 399.2 423.6 400.6 423.9 402.2 424.2 403.9 424.6 405.8 424.9 407.9 425.2 410.3 425.5 412.9 425.8 415.9 426.1 419.1 426.4 422.7 426.7 426.5 427 430.3 427.3 433.7 427.6 435.6 428 435.4 428.3 431.5 428.6 425.9 428.9 420.3 429.2 415.3 429.5 411 429.8 407.2 430.1 403.8 430.4 400.9 430.7 398.3 431.1 395.9 431.4 393.8 431.7 391.9 432 390.2 432.3 388.7 432.6 387.2 432.9 386 433.2 384.8 433.5 383.7 433.8 382.8 434.1 381.9 434.5 381.1 434.8 380.4 435.1 379.8 435.4 379.3 435.7 378.8 436 378.4 436.3 378.1 436.6 377.8 436.9 377.6 437.2 377.5 437.5 377.4 437.9 377.4 438.2 377.5 438.5 377.6 438.8 377.9 439.1 378.2 439.4 378.6 439.7 379.1 440 379.7 440.3 380.3 440.6 381.1 441 382 441.3 383 441.6 384.1 441.9 385.3 442.2 386.7 442.5 388.3 442.8 390 443.1 391.9 443.4 394 443.7 396.4 444 399.1 444.4 402.2 444.7 405.7 445 409.7 445.3 414.3 445.6 419.6 445.9 425.4 446.2 430.7 446.5 433 446.8 428.7 447.1 420.5 447.4 412.7 447.8 406.1 448.1 400.5 448.4 395.7 448.7 391.5 449 387.8 449.3 384.4 449.6 381.4 449.9 378.6 450.2 376.1 450.5 373.8 450.9 371.6 451.2 369.6 451.5 367.6 451.8 365.9 452.1 364.2 452.4 362.6 452.7 361.1 453 359.7 453.3 358.3 453.6 357 453.9 355.8 454.3 354.7 454.6 353.6 454.9 352.5 455.2 351.5 455.5 350.6 455.8 349.7 456.1 348.8 456.4 348 456.7 347.2 457 346.5 457.3 345.8 457.7 345.1 458 344.5 458.3 343.9 458.6 343.3 458.9 342.8 459.2 342.3 459.5 341.8 459.8 341.4 460.1 341 460.4 340.6 460.8 340.3 461.1 339.9 461.4 339.6 461.7 339.4 462 339.1 462.3 338.9 462.6 338.7 462.9 338.5 463.2 338.4 463.5 338.3 463.8 338.2 464.2 338.1 464.5 338.1 464.8 338 465.1 338 465.4 338.1 465.7 338.1 466 338.2 466.3 338.3 466.6 338.4 466.9 338.6 467.2 338.8 467.6 339 467.9 339.2 468.2 339.4 468.5 339.7 468.8 340 469.1 340.3 469.4 340.7 469.7 341.1 470 341.5 470.3 341.9 470.6 342.3 471 342.8 471.3 343.4 471.6 343.9 471.9 344.5 472.2 345.1 472.5 345.7 472.8 346.4 473.1 347.1 473.4 347.9 473.7 348.7 474.1 349.5 474.4 350.4 474.7 351.3 475 352.2 475.3 353.2 475.6 354.3 475.9 355.4 476.2 356.5 476.5 357.7 476.8 359 477.1 360.3 477.5 361.7 477.8 363.2 478.1 364.8 478.4 366.5 478.7 368.2 479 370.1 479.3 372.1 479.6 374.2 479.9 376.4 480.2 378.9 480.5 381.5 480.9 384.3 481.2 387.3 481.5 390.7 481.8 394.3 482.1 398.2 482.4 402.4 482.7 406.7 483 410.7 483.3 413.6 483.6 414.7 484 414.1 484.3 412.1 484.6 409.2 484.9 406 485.2 402.9 485.5 399.9 485.8 397.1 486.1 394.6 486.4 392.3 486.7 390.2 487 388.4 487.4 386.7 487.7 385.2 488 383.9 488.3 382.7 488.6 381.7 488.9 380.8 489.2 380 489.5 379.3 489.8 378.8 490.1 378.4 490.4 378 490.8 377.8 491.1 377.7 491.4 377.7 491.7 377.7 492 377.8 492.3 378 492.6 378.2 492.9 378.5 493.2 378.8 493.5 379.2 493.9 379.6 494.2 380.1 494.5 380.7 494.8 381.4 495.1 382.1 495.4 382.9 495.7 383.7 496 384.7 496.3 385.8 496.6 386.9 496.9 388.2 497.3 389.5 497.6 391 497.9 392.7 498.2 394.4 498.5 396.4 498.8 398.6 499.1 401 499.4 403.6 499.7 406.6 500 409.9 500.3 413.6 500.7 417.6 501 422 501.3 426.3 501.6 429.7 501.9 430.9 502.2 429.8 502.5 427.2 502.8 423.9 503.1 420.5 503.4 417.1 503.8 414 504.1 411.1 504.4 408.6 504.7 406.2 505 404.1 505.3 402.2 505.6 400.5 505.9 398.9 506.2 397.5 506.5 396.3 506.8 395.1 507.2 394.1 507.5 393.3 507.8 392.5 508.1 391.8 508.4 391.2 508.7 390.8 509 390.4 509.3 390.1 509.6 389.9 509.9 389.7 510.2 389.7 510.6 389.7 510.9 389.8 511.2 390 511.5 390.2 511.8 390.5 512.1 390.8 512.4 391.2 512.7 391.7 513 392.2 513.3 392.8 513.6 393.5 514 394.3 514.3 395.1 514.6 396 514.9 397.1 515.2 398.2 515.5 399.4 515.8 400.8 516.1 402.2 516.4 403.8 516.7 405.6 517.1 407.6 517.4 409.7 517.7 412.1 518 414.7 518.3 417.7 518.6 420.9 518.9 424.5 519.2 428.5 519.5 432.7 519.8 436.9 520.1 440 520.5 441.1 520.8 440.2 521.1 437.8 521.4 434.6 521.7 431.2 522 427.8 522.3 424.6 522.6 421.7 522.9 419 523.2 416.6 523.5 414.4 523.9 412.5 524.2 410.7 524.5 409 524.8 407.5 525.1 406.2 525.4 405 525.7 403.9 526 402.9 526.3 402 526.6 401.2 527 400.5 527.3 399.8 527.6 399.3 527.9 398.8 528.2 398.5 528.5 398.2 528.8 397.9 529.1 397.8 529.4 397.7 529.7 397.7 530 397.7 530.4 397.9 530.7 398.1 531 398.3 531.3 398.7 531.6 399.1 531.9 399.6 532.2 400.2 532.5 400.9 532.8 401.7 533.1 402.6 533.4 403.6 533.8 404.7 534.1 405.9 534.4 407.2 534.7 408.7 535 410.4 535.3 412.3 535.6 414.3 535.9 416.7 536.2 419.3 536.5 422.3 536.9 425.8 537.2 429.8 537.5 434.7 537.8 440.8 538.1 448.8 538.4 454.5 538.7 454.5 539 454.5 539.3 454.5 539.6 454.5 539.9 454.5 540.3 448.6 540.6 443 540.9 438.5 541.2 434.6 541.5 431.3 541.8 428.4"/><path stroke="#ff0000" stroke-width="1.9" stroke-dasharray="3.6 1.6" d="M389.6 406.7 389.9 407.1 390.2 407.5 390.5 408 390.8 408.6 391.1 409.2 391.5 409.8 391.8 410.5 392.1 411.3 392.4 412.1 392.7 413 393 414 393.3 415 393.6 416.1 393.9 417.2 394.2 418.4 394.5 419.7 394.9 421.1 395.2 422.4 395.5 423.9 395.8 425.3 396.1 426.7 396.4 428.1 396.7 429.4 397 430.6 397.3 431.6 397.6 432.3 398 432.7 398.3 432.8 398.6 432.5 398.9 431.4 399.2 429.7 399.5 427.6 399.8 425.4 400.1 423.2 400.4 420.9 400.7 418.8 401 416.8 401.4 414.9 401.7 413.1 402 411.5 402.3 409.9 402.6 408.5 402.9 407.2 403.2 406 403.5 404.8 403.8 403.8 404.1 402.9 404.4 402 404.8 401.2 405.1 400.4 405.4 399.8 405.7 399.2 406 398.6 406.3 398.2 406.6 397.7 406.9 397.4 407.2 397.1 407.5 396.8 407.9 396.6 408.2 396.5 408.5 396.4 408.8 396.4 409.1 396.4 409.4 396.5 409.7 396.6 410 396.8 410.3 397.1 410.6 397.4 410.9 397.8 411.3 398.2 411.6 398.8 411.9 399.4 412.2 400 412.5 400.8 412.8 401.6 413.1 402.5 413.4 403.6 413.7 404.7 414 405.9 414.3 407.3 414.7 408.8 415 410.5 415.3 412.3 415.6 414.3 415.9 416.6 416.2 419.1 416.5 422 416.8 425.3 417.1 429.1 417.4 433.7 417.8 439.2 418.1 446.4 418.4 454.5 418.7 454.5 419 454.5 419.3 454.5 419.6 450 419.9 438.3 420.2 430.3 420.5 424.1 420.8 419.2 421.2 415 421.5 411.5 421.8 408.4 422.1 405.7 422.4 403.3 422.7 401.1 423 399.1 423.3 397.3 423.6 395.7 423.9 394.2 424.2 392.8 424.6 391.5 424.9 390.4 425.2 389.3 425.5 388.3 425.8 387.4 426.1 386.6 426.4 385.8 426.7 385.1 427 384.5 427.3 383.9 427.6 383.4 428 382.9 428.3 382.5 428.6 382.1 428.9 381.8 429.2 381.5 429.5 381.3 429.8 381.1 430.1 381 430.4 380.9 430.7 380.9 431.1 380.9 431.4 381 431.7 381.1 432 381.3 432.3 381.5 432.6 381.8 432.9 382.2 433.2 382.6 433.5 383 433.8 383.6 434.1 384.2 434.5 384.9 434.8 385.6 435.1 386.4 435.4 387.4 435.7 388.3 436 389.4 436.3 390.6 436.6 391.9 436.9 393.4 437.2 394.9 437.5 396.6 437.9 398.5 438.2 400.5 438.5 402.8 438.8 405.3 439.1 408.1 439.4 411.2 439.7 414.7 440 418.6 440.3 422.9 440.6 427.4 441 431.5 441.3 434.2 441.6 434.2 441.9 430.6 442.2 425.1 442.5 419.5 442.8 414.2 443.1 409.5 443.4 405.3 443.7 401.6 444 398.2 444.4 395.2 444.7 392.4 445 389.8 445.3 387.4 445.6 385.2 445.9 383.1 446.2 381.1 446.5 379.3 446.8 377.6 447.1 375.9 447.4 374.4 447.8 372.9 448.1 371.5 448.4 370.1 448.7 368.9 449 367.6 449.3 366.5 449.6 365.3 449.9 364.3 450.2 363.2 450.5 362.2 450.9 361.3 451.2 360.3 451.5 359.5 451.8 358.6 452.1 357.8 452.4 357 452.7 356.2 453 355.5 453.3 354.8 453.6 354.1 453.9 353.5 454.3 352.9 454.6 352.3 454.9 351.7 455.2 351.1 455.5 350.6 455.8 350.1 456.1 349.6 456.4 349.1 456.7 348.7 457 348.2 457.3 347.8 457.7 347.4 458 347 458.3 346.7 458.6 346.3 458.9 346 459.2 345.7 459.5 345.4 459.8 345.2 460.1 344.9 460.4 344.7 460.8 344.4 461.1 344.2 461.4 344 461.7 343.9 462 343.7 462.3 343.6 462.6 343.4 462.9 343.3 463.2 343.2 463.5 343.1 463.8 343.1 464.2 343 464.5 343 464.8 343 465.1 342.9 465.4 343 465.7 343 466 343 466.3 343.1 466.6 343.2 466.9 343.3 467.2 343.4 467.6 343.5 467.9 343.6 468.2 343.8 468.5 344 468.8 344.2 469.1 344.4 469.4 344.6 469.7 344.9 470 345.1 470.3 345.4 470.6 345.7 471 346.1 471.3 346.4 471.6 346.8 471.9 347.2 472.2 347.6 472.5 348 472.8 348.4 473.1 348.9 473.4 349.4 473.7 349.9 474.1 350.5 474.4 351 474.7 351.6 475 352.2 475.3 352.9 475.6 353.5 475.9 354.2 476.2 354.9 476.5 355.7 476.8 356.5 477.1 357.3 477.5 358.1 477.8 359 478.1 359.9 478.4 360.9 478.7 361.9 479 362.9 479.3 364 479.6 365.2 479.9 366.4 480.2 367.6 480.5 368.9 480.9 370.3 481.2 371.7 481.5 373.2 481.8 374.8 482.1 376.5 482.4 378.2 482.7 380.1 483 382.1 483.3 384.2 483.6 386.5 484 389 484.3 391.6 484.6 394.5 484.9 397.6 485.2 401.1 485.5 404.9 485.8 409.1 486.1 413.8 486.4 418.8 486.7 423.9 487 428 487.4 429.7 487.7 428.5 488 425.3 488.3 421.2 488.6 417 488.9 413.1 489.2 409.5 489.5 406.3 489.8 403.4 490.1 400.8 490.4 398.5 490.8 396.4 491.1 394.5 491.4 392.8 491.7 391.3 492 389.9 492.3 388.6 492.6 387.5 492.9 386.4 493.2 385.5 493.5 384.6 493.9 383.9 494.2 383.2 494.5 382.7 494.8 382.2 495.1 381.7 495.4 381.4 495.7 381.1 496 380.9 496.3 380.8 496.6 380.7 496.9 380.7 497.3 380.8 497.6 380.9 497.9 381 498.2 381.2 498.5 381.4 498.8 381.6 499.1 381.9 499.4 382.2 499.7 382.6 500 383 500.3 383.5 500.7 384 501 384.6 501.3 385.2 501.6 385.9 501.9 386.6 502.2 387.4 502.5 388.3 502.8 389.2 503.1 390.2 503.4 391.3 503.8 392.5 504.1 393.7 504.4 395.1 504.7 396.6 505 398.2 505.3 399.9 505.6 401.8 505.9 403.9 506.2 406.2 506.5 408.7 506.8 411.5 507.2 414.7 507.5 418.2 507.8 422.1 508.1 426.6 508.4 431.6 508.7 436.7 509 440.8 509.3 442.1 509.6 440.3 509.9 437 510.2 433.1 510.6 429.1 510.9 425.5 511.2 422.2 511.5 419.2 511.8 416.5 512.1 414.1 512.4 412 512.7 410 513 408.3 513.3 406.8 513.6 405.4 514 404.1 514.3 403 514.6 402 514.9 401.1 515.2 400.3 515.5 399.7 515.8 399.1 516.1 398.7 516.4 398.3 516.7 398 517.1 397.8 517.4 397.7 517.7 397.7 518 397.7 518.3 397.8 518.6 397.9 518.9 398 519.2 398.2 519.5 398.5 519.8 398.7 520.1 399 520.5 399.4 520.8 399.8 521.1 400.2 521.4 400.7 521.7 401.3 522 401.9 522.3 402.5 522.6 403.2 522.9 404 523.2 404.8 523.5 405.6 523.9 406.6 524.2 407.5 524.5 408.6 524.8 409.7 525.1 410.9 525.4 412.2 525.7 413.5 526 414.9 526.3 416.4 526.6 418 527 419.6 527.3 421.2 527.6 422.9 527.9 424.5 528.2 426.1 528.5 427.5 528.8 428.7 529.1 429.5 529.4 430 529.7 430 530 429.6 530.4 428.9 530.7 427.8 531 426.5 531.3 425 531.6 423.4 531.9 421.7 532.2 420.2 532.5 418.6 532.8 417.2 533.1 415.8 533.4 414.5 533.8 413.3 534.1 412.2 534.4 411.2 534.7 410.3 535 409.4 535.3 408.7 535.6 408 535.9 407.5 536.2 407 536.5 406.5 536.9 406.2 537.2 405.9 537.5 405.7 537.8 405.6 538.1 405.6 538.4 405.6 538.7 405.7 539 405.9 539.3 406.2 539.6 406.5 539.9 407 540.3 407.5 540.6 408 540.9 408.7 541.2 409.4 541.5 410.3 541.8 411.2"/></g>
<rect x="109.9" y="337.3" width="62.8" height="14.2" fill="#fff" stroke="#a4a4a4" stroke-width="0.8"/><path d="M112.4 340.7h14" stroke="#0000ff" stroke-width="1.9"/><path d="M112.4 347.5h14" stroke="#ff0000" stroke-width="1.9" stroke-dasharray="3.6 1.6"/><g style="font-family:'Liberation Sans',Arial,sans-serif;font-size:5px" fill="#1a1a1a" stroke="#1a1a1a" stroke-width="0.12"><text x="127.1" y="342.6" textLength="35.6" lengthAdjust="spacingAndGlyphs">Proposal+ANLCS</text><text x="127.1" y="349.4" textLength="25.2" lengthAdjust="spacingAndGlyphs">CSA+ANLCS</text></g>
<rect x="292.8" y="337" width="63.1" height="14.5" fill="#fff" stroke="#a4a4a4" stroke-width="0.8"/><path d="M295.3 340.4h14" stroke="#0000ff" stroke-width="1.9"/><path d="M295.3 347.2h14" stroke="#ff0000" stroke-width="1.9" stroke-dasharray="3.6 1.6"/><g style="font-family:'Liberation Sans',Arial,sans-serif;font-size:5px" fill="#1a1a1a" stroke="#1a1a1a" stroke-width="0.12"><text x="310" y="342.3" textLength="35.6" lengthAdjust="spacingAndGlyphs">Proposal+ANLCS</text><text x="310" y="349.1" textLength="25.2" lengthAdjust="spacingAndGlyphs">CSA+ANLCS</text></g>
<rect x="476.6" y="337.6" width="64" height="14.2" fill="#fff" stroke="#a4a4a4" stroke-width="0.8"/><path d="M479.1 341h14" stroke="#0000ff" stroke-width="1.9"/><path d="M479.1 347.8h14" stroke="#ff0000" stroke-width="1.9" stroke-dasharray="3.6 1.6"/><g style="font-family:'Liberation Sans',Arial,sans-serif;font-size:5px" fill="#1a1a1a" stroke="#1a1a1a" stroke-width="0.12"><text x="493.8" y="342.9" textLength="35.6" lengthAdjust="spacingAndGlyphs">Proposal+ANLCS</text><text x="493.8" y="349.7" textLength="25.2" lengthAdjust="spacingAndGlyphs">CSA+ANLCS</text></g>
<path d="M47.4 125.2v-1.6M47.4 12.3v1.6M72.8 125.2v-1.6M72.8 12.3v1.6M98.2 125.2v-1.6M98.2 12.3v1.6M123.6 125.2v-1.6M123.6 12.3v1.6M149 125.2v-1.6M149 12.3v1.6M174.4 125.2v-1.6M174.4 12.3v1.6M23.3 107.8h1.6M179.5 107.8h-1.6M23.3 89.4h1.6M179.5 89.4h-1.6M23.3 71h1.6M179.5 71h-1.6M23.3 52.7h1.6M179.5 52.7h-1.6M23.3 34.3h1.6M179.5 34.3h-1.6M23.3 16h1.6M179.5 16h-1.6" stroke="#a4a4a4" stroke-width="0.6" fill="none"/>
<rect x="23.3" y="12.3" width="156.2" height="112.9" stroke="#a4a4a4" stroke-width="1" fill="none"/>
<g style="font-family:'Liberation Sans',Arial,sans-serif;font-weight:bold;font-size:5.8px" fill="#1a1a1a" stroke="#1a1a1a" stroke-width="0.1"><text x="47.4" y="131.3" text-anchor="middle">20</text><text x="72.8" y="131.3" text-anchor="middle">40</text><text x="98.2" y="131.3" text-anchor="middle">60</text><text x="123.6" y="131.3" text-anchor="middle">80</text><text x="149" y="131.3" text-anchor="middle">100</text><text x="174.4" y="131.3" text-anchor="middle">120</text><text x="21.3" y="109.7" text-anchor="end">20</text><text x="21.3" y="91.3" text-anchor="end">40</text><text x="21.3" y="72.9" text-anchor="end">60</text><text x="21.3" y="54.6" text-anchor="end">80</text><text x="21.3" y="36.2" text-anchor="end">100</text><text x="21.3" y="17.9" text-anchor="end">120</text></g>
<path d="M234.7 125.1v-1.6M234.7 12v1.6M260.2 125.1v-1.6M260.2 12v1.6M285.7 125.1v-1.6M285.7 12v1.6M311.2 125.1v-1.6M311.2 12v1.6M336.7 125.1v-1.6M336.7 12v1.6M362.2 125.1v-1.6M362.2 12v1.6M210.5 107.6h1.6M367.3 107.6h-1.6M210.5 89.2h1.6M367.3 89.2h-1.6M210.5 70.8h1.6M367.3 70.8h-1.6M210.5 52.5h1.6M367.3 52.5h-1.6M210.5 34.1h1.6M367.3 34.1h-1.6M210.5 15.7h1.6M367.3 15.7h-1.6" stroke="#a4a4a4" stroke-width="0.6" fill="none"/>
<rect x="210.5" y="12" width="156.8" height="113.1" stroke="#a4a4a4" stroke-width="1" fill="none"/>
<g style="font-family:'Liberation Sans',Arial,sans-serif;font-weight:bold;font-size:5.8px" fill="#1a1a1a" stroke="#1a1a1a" stroke-width="0.1"><text x="234.7" y="131.2" text-anchor="middle">20</text><text x="260.2" y="131.2" text-anchor="middle">40</text><text x="285.7" y="131.2" text-anchor="middle">60</text><text x="311.2" y="131.2" text-anchor="middle">80</text><text x="336.7" y="131.2" text-anchor="middle">100</text><text x="362.2" y="131.2" text-anchor="middle">120</text><text x="208.5" y="109.5" text-anchor="end">20</text><text x="208.5" y="91.1" text-anchor="end">40</text><text x="208.5" y="72.7" text-anchor="end">60</text><text x="208.5" y="54.4" text-anchor="end">80</text><text x="208.5" y="36" text-anchor="end">100</text><text x="208.5" y="17.6" text-anchor="end">120</text></g>
<path d="M419.7 125.3v-1.6M419.7 11.5v1.6M443.8 125.3v-1.6M443.8 11.5v1.6M467.8 125.3v-1.6M467.8 11.5v1.6M491.8 125.3v-1.6M491.8 11.5v1.6M515.9 125.3v-1.6M515.9 11.5v1.6M539.9 125.3v-1.6M539.9 11.5v1.6M396.9 107.7h1.6M544.7 107.7h-1.6M396.9 89.2h1.6M544.7 89.2h-1.6M396.9 70.7h1.6M544.7 70.7h-1.6M396.9 52.2h1.6M544.7 52.2h-1.6M396.9 33.7h1.6M544.7 33.7h-1.6M396.9 15.2h1.6M544.7 15.2h-1.6" stroke="#a4a4a4" stroke-width="0.6" fill="none"/>
<rect x="396.9" y="11.5" width="147.8" height="113.8" stroke="#a4a4a4" stroke-width="1" fill="none"/>
<g style="font-family:'Liberation Sans',Arial,sans-serif;font-weight:bold;font-size:5.8px" fill="#1a1a1a" stroke="#1a1a1a" stroke-width="0.1"><text x="419.7" y="131.4" text-anchor="middle">20</text><text x="443.8" y="131.4" text-anchor="middle">40</text><text x="467.8" y="131.4" text-anchor="middle">60</text><text x="491.8" y="131.4" text-anchor="middle">80</text><text x="515.9" y="131.4" text-anchor="middle">100</text><text x="539.9" y="131.4" text-anchor="middle">120</text><text x="394.9" y="109.6" text-anchor="end">20</text><text x="394.9" y="91.1" text-anchor="end">40</text><text x="394.9" y="72.6" text-anchor="end">60</text><text x="394.9" y="54.1" text-anchor="end">80</text><text x="394.9" y="35.6" text-anchor="end">100</text><text x="394.9" y="17.1" text-anchor="end">120</text></g>
<path d="M46.7 286.4v-1.6M46.7 176.4v1.6M71.5 286.4v-1.6M71.5 176.4v1.6M96.3 286.4v-1.6M96.3 176.4v1.6M121.1 286.4v-1.6M121.1 176.4v1.6M145.9 286.4v-1.6M145.9 176.4v1.6M170.6 286.4v-1.6M170.6 176.4v1.6M23.2 269.4h1.6M175.6 269.4h-1.6M23.2 251.5h1.6M175.6 251.5h-1.6M23.2 233.6h1.6M175.6 233.6h-1.6M23.2 215.7h1.6M175.6 215.7h-1.6M23.2 197.9h1.6M175.6 197.9h-1.6M23.2 180h1.6M175.6 180h-1.6" stroke="#a4a4a4" stroke-width="0.6" fill="none"/>
<rect x="23.2" y="176.4" width="152.4" height="110" stroke="#a4a4a4" stroke-width="1" fill="none"/>
<g style="font-family:'Liberation Sans',Arial,sans-serif;font-weight:bold;font-size:5.8px" fill="#1a1a1a" stroke="#1a1a1a" stroke-width="0.1"><text x="46.7" y="292.5" text-anchor="middle">20</text><text x="71.5" y="292.5" text-anchor="middle">40</text><text x="96.3" y="292.5" text-anchor="middle">60</text><text x="121.1" y="292.5" text-anchor="middle">80</text><text x="145.9" y="292.5" text-anchor="middle">100</text><text x="170.6" y="292.5" text-anchor="middle">120</text><text x="21.2" y="271.3" text-anchor="end">20</text><text x="21.2" y="253.4" text-anchor="end">40</text><text x="21.2" y="235.5" text-anchor="end">60</text><text x="21.2" y="217.6" text-anchor="end">80</text><text x="21.2" y="199.8" text-anchor="end">100</text><text x="21.2" y="181.9" text-anchor="end">120</text></g>
<path d="M229.6 286.4v-1.6M229.6 176.6v1.6M254.4 286.4v-1.6M254.4 176.6v1.6M279.1 286.4v-1.6M279.1 176.6v1.6M303.9 286.4v-1.6M303.9 176.6v1.6M328.6 286.4v-1.6M328.6 176.6v1.6M353.4 286.4v-1.6M353.4 176.6v1.6M206.1 269.4h1.6M358.3 269.4h-1.6M206.1 251.6h1.6M358.3 251.6h-1.6M206.1 233.7h1.6M358.3 233.7h-1.6M206.1 215.9h1.6M358.3 215.9h-1.6M206.1 198h1.6M358.3 198h-1.6M206.1 180.2h1.6M358.3 180.2h-1.6" stroke="#a4a4a4" stroke-width="0.6" fill="none"/>
<rect x="206.1" y="176.6" width="152.2" height="109.8" stroke="#a4a4a4" stroke-width="1" fill="none"/>
<g style="font-family:'Liberation Sans',Arial,sans-serif;font-weight:bold;font-size:5.8px" fill="#1a1a1a" stroke="#1a1a1a" stroke-width="0.1"><text x="229.6" y="292.5" text-anchor="middle">20</text><text x="254.4" y="292.5" text-anchor="middle">40</text><text x="279.1" y="292.5" text-anchor="middle">60</text><text x="303.9" y="292.5" text-anchor="middle">80</text><text x="328.6" y="292.5" text-anchor="middle">100</text><text x="353.4" y="292.5" text-anchor="middle">120</text><text x="204.1" y="271.3" text-anchor="end">20</text><text x="204.1" y="253.5" text-anchor="end">40</text><text x="204.1" y="235.6" text-anchor="end">60</text><text x="204.1" y="217.8" text-anchor="end">80</text><text x="204.1" y="199.9" text-anchor="end">100</text><text x="204.1" y="182.1" text-anchor="end">120</text></g>
<path d="M413.8 286.4v-1.6M413.8 176.6v1.6M438.6 286.4v-1.6M438.6 176.6v1.6M463.4 286.4v-1.6M463.4 176.6v1.6M488.1 286.4v-1.6M488.1 176.6v1.6M512.9 286.4v-1.6M512.9 176.6v1.6M537.6 286.4v-1.6M537.6 176.6v1.6M390.3 275.7h1.6M542.6 275.7h-1.6M390.3 256.2h1.6M542.6 256.2h-1.6M390.3 236.7h1.6M542.6 236.7h-1.6M390.3 217.2h1.6M542.6 217.2h-1.6M390.3 197.7h1.6M542.6 197.7h-1.6M390.3 178.3h1.6M542.6 178.3h-1.6" stroke="#a4a4a4" stroke-width="0.6" fill="none"/>
<rect x="390.3" y="176.6" width="152.3" height="109.8" stroke="#a4a4a4" stroke-width="1" fill="none"/>
<g style="font-family:'Liberation Sans',Arial,sans-serif;font-weight:bold;font-size:5.8px" fill="#1a1a1a" stroke="#1a1a1a" stroke-width="0.1"><text x="413.8" y="292.5" text-anchor="middle">40</text><text x="438.6" y="292.5" text-anchor="middle">60</text><text x="463.4" y="292.5" text-anchor="middle">80</text><text x="488.1" y="292.5" text-anchor="middle">100</text><text x="512.9" y="292.5" text-anchor="middle">120</text><text x="537.6" y="292.5" text-anchor="middle">140</text><text x="388.3" y="277.6" text-anchor="end">40</text><text x="388.3" y="258.1" text-anchor="end">60</text><text x="388.3" y="238.6" text-anchor="end">80</text><text x="388.3" y="219.1" text-anchor="end">100</text><text x="388.3" y="199.6" text-anchor="end">120</text><text x="388.3" y="180.2" text-anchor="end">140</text></g>
<path d="M45.6 445.1v-1.6M45.6 334.3v1.6M70.4 445.1v-1.6M70.4 334.3v1.6M95.2 445.1v-1.6M95.2 334.3v1.6M119.9 445.1v-1.6M119.9 334.3v1.6M144.7 445.1v-1.6M144.7 334.3v1.6M169.4 445.1v-1.6M169.4 334.3v1.6M22.1 337.4h1.6M174.4 337.4h-1.6M22.1 352.8h1.6M174.4 352.8h-1.6M22.1 368.2h1.6M174.4 368.2h-1.6M22.1 383.5h1.6M174.4 383.5h-1.6M22.1 398.9h1.6M174.4 398.9h-1.6M22.1 414.3h1.6M174.4 414.3h-1.6M22.1 429.7h1.6M174.4 429.7h-1.6M22.1 445.1h1.6M174.4 445.1h-1.6" stroke="#a4a4a4" stroke-width="0.6" fill="none"/>
<rect x="22.1" y="334.3" width="152.3" height="110.8" stroke="#a4a4a4" stroke-width="1" fill="none"/>
<g style="font-family:'Liberation Sans',Arial,sans-serif;font-weight:bold;font-size:5.8px" fill="#1a1a1a" stroke="#1a1a1a" stroke-width="0.1"><text x="45.6" y="451.2" text-anchor="middle">20</text><text x="70.4" y="451.2" text-anchor="middle">40</text><text x="95.2" y="451.2" text-anchor="middle">60</text><text x="119.9" y="451.2" text-anchor="middle">80</text><text x="144.7" y="451.2" text-anchor="middle">100</text><text x="169.4" y="451.2" text-anchor="middle">120</text><text x="20.1" y="339.3" text-anchor="end">0</text><text x="20.1" y="354.7" text-anchor="end">-5</text><text x="20.1" y="370.1" text-anchor="end">-10</text><text x="20.1" y="385.4" text-anchor="end">-15</text><text x="20.1" y="400.8" text-anchor="end">-20</text><text x="20.1" y="416.2" text-anchor="end">-25</text><text x="20.1" y="431.6" text-anchor="end">-30</text><text x="20.1" y="447" text-anchor="end">-35</text></g>
<path d="M228.7 445.3v-1.6M228.7 335v1.6M253.4 445.3v-1.6M253.4 335v1.6M278.1 445.3v-1.6M278.1 335v1.6M302.8 445.3v-1.6M302.8 335v1.6M327.5 445.3v-1.6M327.5 335v1.6M352.2 445.3v-1.6M352.2 335v1.6M205.3 338.1h1.6M357.1 338.1h-1.6M205.3 353.4h1.6M357.1 353.4h-1.6M205.3 368.7h1.6M357.1 368.7h-1.6M205.3 384h1.6M357.1 384h-1.6M205.3 399.3h1.6M357.1 399.3h-1.6M205.3 414.7h1.6M357.1 414.7h-1.6M205.3 430h1.6M357.1 430h-1.6M205.3 445.3h1.6M357.1 445.3h-1.6" stroke="#a4a4a4" stroke-width="0.6" fill="none"/>
<rect x="205.3" y="335" width="151.8" height="110.3" stroke="#a4a4a4" stroke-width="1" fill="none"/>
<g style="font-family:'Liberation Sans',Arial,sans-serif;font-weight:bold;font-size:5.8px" fill="#1a1a1a" stroke="#1a1a1a" stroke-width="0.1"><text x="228.7" y="451.4" text-anchor="middle">20</text><text x="253.4" y="451.4" text-anchor="middle">40</text><text x="278.1" y="451.4" text-anchor="middle">60</text><text x="302.8" y="451.4" text-anchor="middle">80</text><text x="327.5" y="451.4" text-anchor="middle">100</text><text x="352.2" y="451.4" text-anchor="middle">120</text><text x="203.3" y="340" text-anchor="end">0</text><text x="203.3" y="355.3" text-anchor="end">-5</text><text x="203.3" y="370.6" text-anchor="end">-10</text><text x="203.3" y="385.9" text-anchor="end">-15</text><text x="203.3" y="401.2" text-anchor="end">-20</text><text x="203.3" y="416.6" text-anchor="end">-25</text><text x="203.3" y="431.9" text-anchor="end">-30</text><text x="203.3" y="447.2" text-anchor="end">-35</text></g>
<path d="M413.1 445.3v-1.6M413.1 335v1.6M437.9 445.3v-1.6M437.9 335v1.6M462.6 445.3v-1.6M462.6 335v1.6M487.4 445.3v-1.6M487.4 335v1.6M512.1 445.3v-1.6M512.1 335v1.6M536.9 445.3v-1.6M536.9 335v1.6M389.6 338.1h1.6M541.8 338.1h-1.6M389.6 353.4h1.6M541.8 353.4h-1.6M389.6 368.7h1.6M541.8 368.7h-1.6M389.6 384h1.6M541.8 384h-1.6M389.6 399.3h1.6M541.8 399.3h-1.6M389.6 414.7h1.6M541.8 414.7h-1.6M389.6 430h1.6M541.8 430h-1.6M389.6 445.3h1.6M541.8 445.3h-1.6" stroke="#a4a4a4" stroke-width="0.6" fill="none"/>
<rect x="389.6" y="335" width="152.2" height="110.3" stroke="#a4a4a4" stroke-width="1" fill="none"/>
<g style="font-family:'Liberation Sans',Arial,sans-serif;font-weight:bold;font-size:5.8px" fill="#1a1a1a" stroke="#1a1a1a" stroke-width="0.1"><text x="413.1" y="451.4" text-anchor="middle">20</text><text x="437.9" y="451.4" text-anchor="middle">40</text><text x="462.6" y="451.4" text-anchor="middle">60</text><text x="487.4" y="451.4" text-anchor="middle">80</text><text x="512.1" y="451.4" text-anchor="middle">100</text><text x="536.9" y="451.4" text-anchor="middle">120</text><text x="387.6" y="340" text-anchor="end">0</text><text x="387.6" y="355.3" text-anchor="end">-5</text><text x="387.6" y="370.6" text-anchor="end">-10</text><text x="387.6" y="385.9" text-anchor="end">-15</text><text x="387.6" y="401.2" text-anchor="end">-20</text><text x="387.6" y="416.6" text-anchor="end">-25</text><text x="387.6" y="431.9" text-anchor="end">-30</text><text x="387.6" y="447.2" text-anchor="end">-35</text></g>
<g style="font-family:'Liberation Sans',Arial,sans-serif;font-weight:bold" fill="#1a1a1a" stroke="#1a1a1a" stroke-width="0.12"><text x="101.4" y="7.9" text-anchor="middle" style="font-size:6.5px">Point A</text><text x="101.4" y="138.6" text-anchor="middle" style="font-size:6.3px">Azimuth bins</text><text x="0" y="0" text-anchor="middle" transform="translate(8.6 70.2) rotate(-90)" style="font-size:6.3px">Amplitude(dB)</text></g>
<g style="font-family:'Liberation Sans',Arial,sans-serif;font-weight:bold" fill="#1a1a1a" stroke="#1a1a1a" stroke-width="0.12"><text x="288.9" y="7.6" text-anchor="middle" style="font-size:6.5px">Point B</text><text x="288.9" y="138.5" text-anchor="middle" style="font-size:6.3px">Azimuth bins</text><text x="0" y="0" text-anchor="middle" transform="translate(196.3 70.2) rotate(-90)" style="font-size:6.3px">Amplitude(dB)</text></g>
<g style="font-family:'Liberation Sans',Arial,sans-serif;font-weight:bold" fill="#1a1a1a" stroke="#1a1a1a" stroke-width="0.12"><text x="470.8" y="7.1" text-anchor="middle" style="font-size:6.5px">Point C</text><text x="470.8" y="138.7" text-anchor="middle" style="font-size:6.3px">Azimuth bins</text><text x="0" y="0" text-anchor="middle" transform="translate(383.8 69.8) rotate(-90)" style="font-size:6.3px">Amplitude(dB)</text></g>
<g style="font-family:'Liberation Sans',Arial,sans-serif;font-weight:bold" fill="#1a1a1a" stroke="#1a1a1a" stroke-width="0.12"><text x="99.4" y="172" text-anchor="middle" style="font-size:6.5px">Point A</text><text x="99.4" y="299.8" text-anchor="middle" style="font-size:6.3px">Azimuth bins</text><text x="0" y="0" text-anchor="middle" transform="translate(8.6 232.5) rotate(-90)" style="font-size:6.3px">Amplitude(dB)</text></g>
<g style="font-family:'Liberation Sans',Arial,sans-serif;font-weight:bold" fill="#1a1a1a" stroke="#1a1a1a" stroke-width="0.12"><text x="282.2" y="172.2" text-anchor="middle" style="font-size:6.5px">Point B</text><text x="282.2" y="299.8" text-anchor="middle" style="font-size:6.3px">Azimuth bins</text><text x="0" y="0" text-anchor="middle" transform="translate(191.5 232) rotate(-90)" style="font-size:6.3px">Amplitude(dB)</text></g>
<g style="font-family:'Liberation Sans',Arial,sans-serif;font-weight:bold" fill="#1a1a1a" stroke="#1a1a1a" stroke-width="0.12"><text x="466.5" y="172.2" text-anchor="middle" style="font-size:6.5px">Point C</text><text x="466.5" y="299.8" text-anchor="middle" style="font-size:6.3px">Azimuth bins</text><text x="0" y="0" text-anchor="middle" transform="translate(375.6 230.6) rotate(-90)" style="font-size:6.3px">Range bins</text></g>
<g style="font-family:'Liberation Sans',Arial,sans-serif;font-weight:bold" fill="#1a1a1a" stroke="#1a1a1a" stroke-width="0.12"><text x="98.2" y="329.9" text-anchor="middle" style="font-size:6.5px">Azimuth Response of Point A</text><text x="98.2" y="458.5" text-anchor="middle" style="font-size:6.3px">Azimuth bins</text><text x="0" y="0" text-anchor="middle" transform="translate(9.4 390.3) rotate(-90)" style="font-size:6.3px">Amplitude(dB)</text></g>
<g style="font-family:'Liberation Sans',Arial,sans-serif;font-weight:bold" fill="#1a1a1a" stroke="#1a1a1a" stroke-width="0.12"><text x="281.2" y="330.6" text-anchor="middle" style="font-size:6.5px">Azimuth Response of Point B</text><text x="281.2" y="458.7" text-anchor="middle" style="font-size:6.3px">Azimuth bins</text><text x="0" y="0" text-anchor="middle" transform="translate(192.3 390.3) rotate(-90)" style="font-size:6.3px">Amplitude(dB)</text></g>
<g style="font-family:'Liberation Sans',Arial,sans-serif;font-weight:bold" fill="#1a1a1a" stroke="#1a1a1a" stroke-width="0.12"><text x="465.7" y="330.6" text-anchor="middle" style="font-size:6.5px">Azimuth Response of Point C</text><text x="465.7" y="458.7" text-anchor="middle" style="font-size:6.3px">Azimuth bins</text><text x="0" y="0" text-anchor="middle" transform="translate(377.1 390.3) rotate(-90)" style="font-size:6.3px">Amplitude(dB)</text></g>
<g style="font-family:'Liberation Serif','Times New Roman',serif;font-size:15.3px" fill="#111" stroke="#111" stroke-width="0.25"><text x="283.4" y="156.6" text-anchor="middle">(a)</text><text x="282.6" y="316.7" text-anchor="middle">(b)</text><text x="282.2" y="476.8" text-anchor="middle">(c)</text></g></svg></body></html>
